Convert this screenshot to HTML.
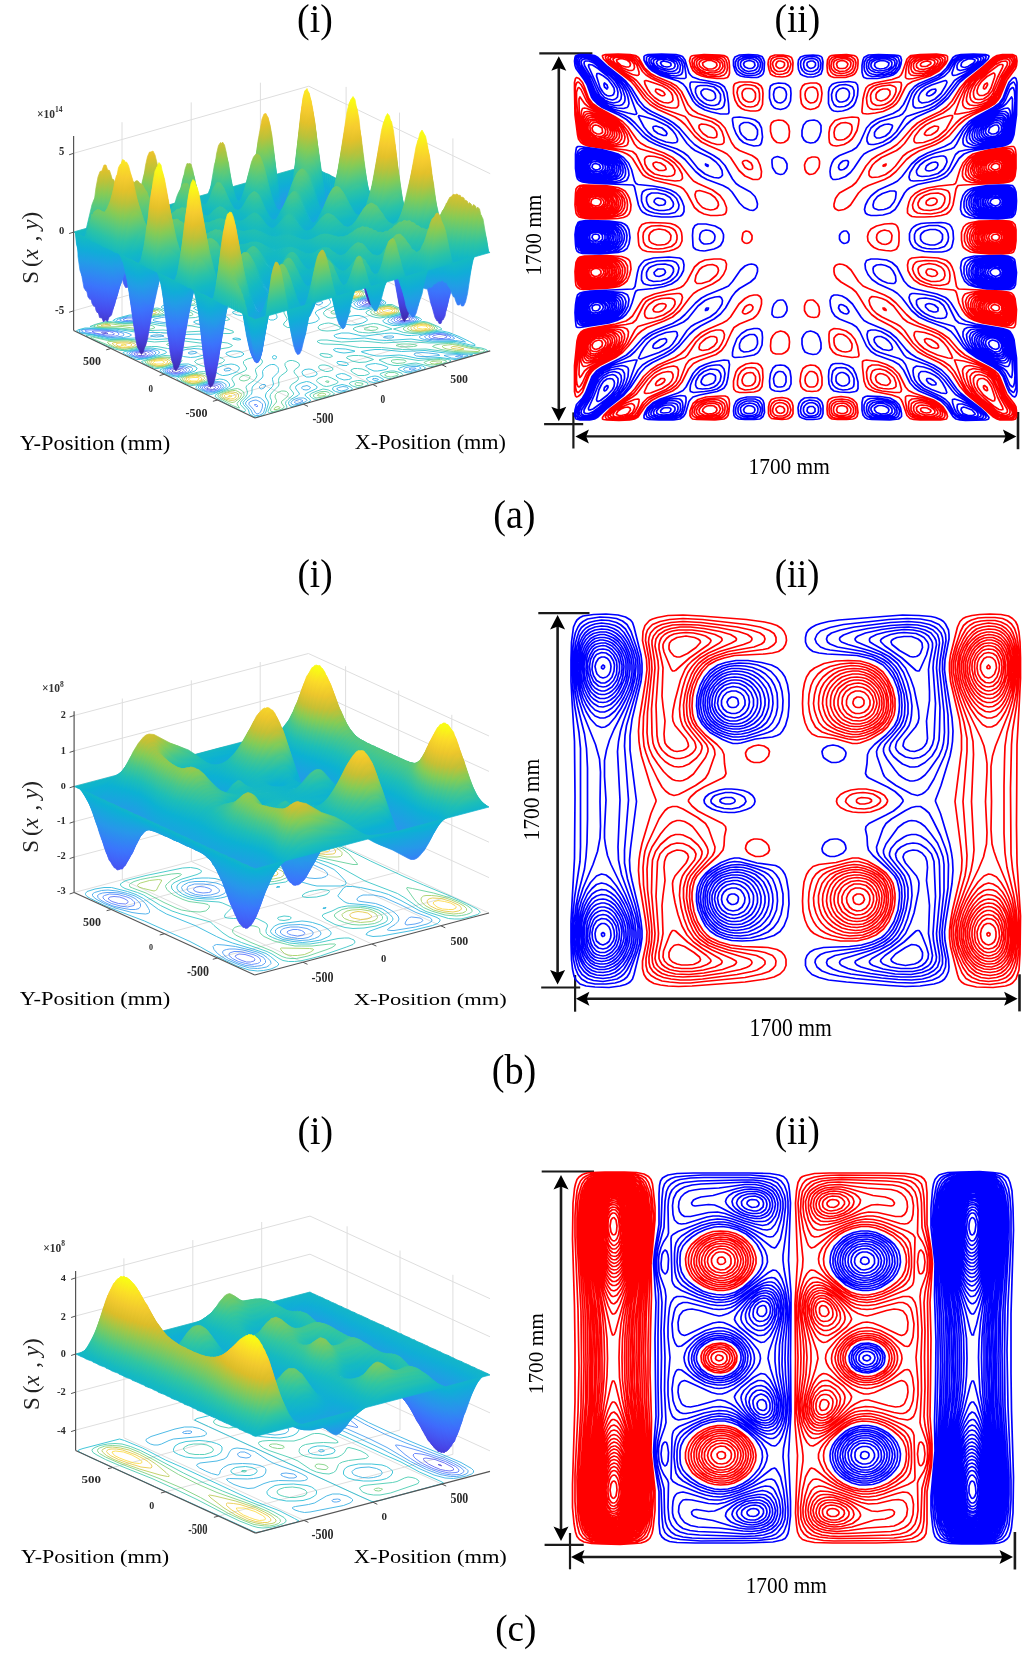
<!DOCTYPE html><html><head><meta charset="utf-8"><style>html,body{margin:0;padding:0;background:#fff}svg{display:block;filter:blur(0.45px)}</style></head><body><svg width="1025" height="1656" viewBox="0 0 1025 1656" font-family="Liberation Serif, Times New Roman, serif"><defs><linearGradient id="ab" gradientUnits="userSpaceOnUse"><stop offset="0.0000" stop-color="#3e26a8"/><stop offset="0.0625" stop-color="#4338cc"/><stop offset="0.1250" stop-color="#474aec"/><stop offset="0.1875" stop-color="#425ff7"/><stop offset="0.2500" stop-color="#3b74fc"/><stop offset="0.3125" stop-color="#2f89f2"/><stop offset="0.3750" stop-color="#219de6"/><stop offset="0.4375" stop-color="#10add7"/><stop offset="0.5000" stop-color="#13b9c3"/><stop offset="0.5625" stop-color="#2bc3a6"/><stop offset="0.6250" stop-color="#55c980"/><stop offset="0.6875" stop-color="#84cb57"/><stop offset="0.7500" stop-color="#bac23a"/><stop offset="0.8125" stop-color="#e3c12a"/><stop offset="0.8750" stop-color="#f6cc2f"/><stop offset="0.9375" stop-color="#fbe125"/><stop offset="1.0000" stop-color="#f9fb15"/></linearGradient><linearGradient id="a94" href="#ab" x1="436.2" y1="580.0" x2="333.6" y2="220.3"/><linearGradient id="a93" href="#ab" x1="440.1" y1="581.8" x2="337.4" y2="222.1"/><linearGradient id="a92" href="#ab" x1="443.9" y1="583.7" x2="341.3" y2="223.9"/><linearGradient id="a91" href="#ab" x1="447.7" y1="585.5" x2="345.1" y2="225.8"/><linearGradient id="a90" href="#ab" x1="451.5" y1="587.4" x2="348.9" y2="227.6"/><linearGradient id="a89" href="#ab" x1="455.3" y1="589.2" x2="352.7" y2="229.5"/><linearGradient id="a88" href="#ab" x1="459.2" y1="591.1" x2="356.5" y2="231.3"/><linearGradient id="a87" href="#ab" x1="463.0" y1="592.9" x2="360.3" y2="233.2"/><linearGradient id="a86" href="#ab" x1="466.8" y1="594.7" x2="364.2" y2="235.0"/><linearGradient id="a85" href="#ab" x1="470.6" y1="596.6" x2="368.0" y2="236.8"/><linearGradient id="a84" href="#ab" x1="474.4" y1="598.4" x2="371.8" y2="238.7"/><linearGradient id="a83" href="#ab" x1="478.3" y1="600.3" x2="375.6" y2="240.5"/><linearGradient id="a82" href="#ab" x1="482.1" y1="602.1" x2="379.4" y2="242.4"/><linearGradient id="a81" href="#ab" x1="485.9" y1="604.0" x2="383.3" y2="244.2"/><linearGradient id="a80" href="#ab" x1="489.7" y1="605.8" x2="387.1" y2="246.0"/><linearGradient id="a79" href="#ab" x1="493.5" y1="607.6" x2="390.9" y2="247.9"/><linearGradient id="a78" href="#ab" x1="497.4" y1="609.5" x2="394.7" y2="249.7"/><linearGradient id="a77" href="#ab" x1="501.2" y1="611.3" x2="398.5" y2="251.6"/><linearGradient id="a76" href="#ab" x1="505.0" y1="613.2" x2="402.4" y2="253.4"/><linearGradient id="a75" href="#ab" x1="508.8" y1="615.0" x2="406.2" y2="255.3"/><linearGradient id="a74" href="#ab" x1="512.6" y1="616.8" x2="410.0" y2="257.1"/><linearGradient id="a73" href="#ab" x1="516.4" y1="618.7" x2="413.8" y2="258.9"/><linearGradient id="a72" href="#ab" x1="520.3" y1="620.5" x2="417.6" y2="260.8"/><linearGradient id="a71" href="#ab" x1="524.1" y1="622.4" x2="421.5" y2="262.6"/><linearGradient id="a70" href="#ab" x1="527.9" y1="624.2" x2="425.3" y2="264.5"/><linearGradient id="a69" href="#ab" x1="531.7" y1="626.1" x2="429.1" y2="266.3"/><linearGradient id="a68" href="#ab" x1="535.5" y1="627.9" x2="432.9" y2="268.2"/><linearGradient id="a67" href="#ab" x1="539.4" y1="629.7" x2="436.7" y2="270.0"/><linearGradient id="a66" href="#ab" x1="543.2" y1="631.6" x2="440.5" y2="271.8"/><linearGradient id="a65" href="#ab" x1="547.0" y1="633.4" x2="444.4" y2="273.7"/><linearGradient id="a64" href="#ab" x1="550.8" y1="635.3" x2="448.2" y2="275.5"/><linearGradient id="a63" href="#ab" x1="554.6" y1="637.1" x2="452.0" y2="277.4"/><linearGradient id="a62" href="#ab" x1="558.5" y1="639.0" x2="455.8" y2="279.2"/><linearGradient id="a61" href="#ab" x1="562.3" y1="640.8" x2="459.6" y2="281.0"/><linearGradient id="a60" href="#ab" x1="566.1" y1="642.6" x2="463.5" y2="282.9"/><linearGradient id="a59" href="#ab" x1="569.9" y1="644.5" x2="467.3" y2="284.7"/><linearGradient id="a58" href="#ab" x1="573.7" y1="646.3" x2="471.1" y2="286.6"/><linearGradient id="a57" href="#ab" x1="577.5" y1="648.2" x2="474.9" y2="288.4"/><linearGradient id="a56" href="#ab" x1="581.4" y1="650.0" x2="478.7" y2="290.3"/><linearGradient id="a55" href="#ab" x1="585.2" y1="651.8" x2="482.6" y2="292.1"/><linearGradient id="a54" href="#ab" x1="589.0" y1="653.7" x2="486.4" y2="293.9"/><linearGradient id="a53" href="#ab" x1="592.8" y1="655.5" x2="490.2" y2="295.8"/><linearGradient id="a52" href="#ab" x1="596.6" y1="657.4" x2="494.0" y2="297.6"/><linearGradient id="a51" href="#ab" x1="600.5" y1="659.2" x2="497.8" y2="299.5"/><linearGradient id="a50" href="#ab" x1="604.3" y1="661.1" x2="501.7" y2="301.3"/><linearGradient id="a49" href="#ab" x1="608.1" y1="662.9" x2="505.5" y2="303.2"/><linearGradient id="a48" href="#ab" x1="611.9" y1="664.7" x2="509.3" y2="305.0"/><linearGradient id="a47" href="#ab" x1="615.7" y1="666.6" x2="513.1" y2="306.8"/><linearGradient id="a46" href="#ab" x1="619.6" y1="668.4" x2="516.9" y2="308.7"/><linearGradient id="a45" href="#ab" x1="623.4" y1="670.3" x2="520.7" y2="310.5"/><linearGradient id="a44" href="#ab" x1="627.2" y1="672.1" x2="524.6" y2="312.4"/><linearGradient id="a43" href="#ab" x1="631.0" y1="674.0" x2="528.4" y2="314.2"/><linearGradient id="a42" href="#ab" x1="634.8" y1="675.8" x2="532.2" y2="316.0"/><linearGradient id="a41" href="#ab" x1="638.7" y1="677.6" x2="536.0" y2="317.9"/><linearGradient id="a40" href="#ab" x1="642.5" y1="679.5" x2="539.8" y2="319.7"/><linearGradient id="a39" href="#ab" x1="646.3" y1="681.3" x2="543.7" y2="321.6"/><linearGradient id="a38" href="#ab" x1="650.1" y1="683.2" x2="547.5" y2="323.4"/><linearGradient id="a37" href="#ab" x1="653.9" y1="685.0" x2="551.3" y2="325.3"/><linearGradient id="a36" href="#ab" x1="657.7" y1="686.8" x2="555.1" y2="327.1"/><linearGradient id="a35" href="#ab" x1="661.6" y1="688.7" x2="558.9" y2="328.9"/><linearGradient id="a34" href="#ab" x1="665.4" y1="690.5" x2="562.8" y2="330.8"/><linearGradient id="a33" href="#ab" x1="669.2" y1="692.4" x2="566.6" y2="332.6"/><linearGradient id="a32" href="#ab" x1="673.0" y1="694.2" x2="570.4" y2="334.5"/><linearGradient id="a31" href="#ab" x1="676.8" y1="696.1" x2="574.2" y2="336.3"/><linearGradient id="a30" href="#ab" x1="680.7" y1="697.9" x2="578.0" y2="338.2"/><linearGradient id="a29" href="#ab" x1="684.5" y1="699.7" x2="581.8" y2="340.0"/><linearGradient id="a28" href="#ab" x1="688.3" y1="701.6" x2="585.7" y2="341.8"/><linearGradient id="a27" href="#ab" x1="692.1" y1="703.4" x2="589.5" y2="343.7"/><linearGradient id="a26" href="#ab" x1="695.9" y1="705.3" x2="593.3" y2="345.5"/><linearGradient id="a25" href="#ab" x1="699.8" y1="707.1" x2="597.1" y2="347.4"/><linearGradient id="a24" href="#ab" x1="703.6" y1="709.0" x2="600.9" y2="349.2"/><linearGradient id="a23" href="#ab" x1="707.4" y1="710.8" x2="604.8" y2="351.0"/><linearGradient id="a22" href="#ab" x1="711.2" y1="712.6" x2="608.6" y2="352.9"/><linearGradient id="a21" href="#ab" x1="715.0" y1="714.5" x2="612.4" y2="354.7"/><linearGradient id="a20" href="#ab" x1="718.9" y1="716.3" x2="616.2" y2="356.6"/><linearGradient id="a19" href="#ab" x1="722.7" y1="718.2" x2="620.0" y2="358.4"/><linearGradient id="a18" href="#ab" x1="726.5" y1="720.0" x2="623.9" y2="360.3"/><linearGradient id="a17" href="#ab" x1="730.3" y1="721.8" x2="627.7" y2="362.1"/><linearGradient id="a16" href="#ab" x1="734.1" y1="723.7" x2="631.5" y2="363.9"/><linearGradient id="a15" href="#ab" x1="737.9" y1="725.5" x2="635.3" y2="365.8"/><linearGradient id="a14" href="#ab" x1="741.8" y1="727.4" x2="639.1" y2="367.6"/><linearGradient id="a13" href="#ab" x1="745.6" y1="729.2" x2="643.0" y2="369.5"/><linearGradient id="a12" href="#ab" x1="749.4" y1="731.1" x2="646.8" y2="371.3"/><linearGradient id="a11" href="#ab" x1="753.2" y1="732.9" x2="650.6" y2="373.2"/><linearGradient id="a10" href="#ab" x1="757.0" y1="734.7" x2="654.4" y2="375.0"/><linearGradient id="a9" href="#ab" x1="760.9" y1="736.6" x2="658.2" y2="376.8"/><linearGradient id="a8" href="#ab" x1="764.7" y1="738.4" x2="662.0" y2="378.7"/><linearGradient id="a7" href="#ab" x1="768.5" y1="740.3" x2="665.9" y2="380.5"/><linearGradient id="a6" href="#ab" x1="772.3" y1="742.1" x2="669.7" y2="382.4"/><linearGradient id="a5" href="#ab" x1="776.1" y1="744.0" x2="673.5" y2="384.2"/><linearGradient id="a4" href="#ab" x1="780.0" y1="745.8" x2="677.3" y2="386.0"/><linearGradient id="a3" href="#ab" x1="783.8" y1="747.6" x2="681.1" y2="387.9"/><linearGradient id="a2" href="#ab" x1="787.6" y1="749.5" x2="685.0" y2="389.7"/><linearGradient id="a1" href="#ab" x1="791.4" y1="751.3" x2="688.8" y2="391.6"/><linearGradient id="a0" href="#ab" x1="795.2" y1="753.2" x2="692.6" y2="393.4"/></defs><defs><linearGradient id="bb" gradientUnits="userSpaceOnUse"><stop offset="0.0000" stop-color="#3e26a8"/><stop offset="0.0625" stop-color="#4234c5"/><stop offset="0.1250" stop-color="#4643e2"/><stop offset="0.1875" stop-color="#4553f1"/><stop offset="0.2500" stop-color="#4164f9"/><stop offset="0.3125" stop-color="#3b75fc"/><stop offset="0.3750" stop-color="#3186f3"/><stop offset="0.4375" stop-color="#2797ea"/><stop offset="0.5000" stop-color="#19a4df"/><stop offset="0.5625" stop-color="#0bb1d3"/><stop offset="0.6250" stop-color="#1dbeb7"/><stop offset="0.6875" stop-color="#46c78d"/><stop offset="0.7500" stop-color="#82cc58"/><stop offset="0.8125" stop-color="#c6c034"/><stop offset="0.8750" stop-color="#ecc62c"/><stop offset="0.9375" stop-color="#fbda29"/><stop offset="1.0000" stop-color="#f9fb15"/></linearGradient><linearGradient id="b68" href="#bb" x1="437.6" y1="1710.3" x2="348.0" y2="1371.5"/><linearGradient id="b67" href="#bb" x1="442.9" y1="1712.7" x2="353.2" y2="1373.9"/><linearGradient id="b66" href="#bb" x1="448.1" y1="1715.1" x2="358.5" y2="1376.3"/><linearGradient id="b65" href="#bb" x1="453.3" y1="1717.5" x2="363.7" y2="1378.7"/><linearGradient id="b64" href="#bb" x1="458.6" y1="1719.9" x2="368.9" y2="1381.1"/><linearGradient id="b63" href="#bb" x1="463.8" y1="1722.3" x2="374.2" y2="1383.5"/><linearGradient id="b62" href="#bb" x1="469.1" y1="1724.6" x2="379.4" y2="1385.9"/><linearGradient id="b61" href="#bb" x1="474.3" y1="1727.0" x2="384.6" y2="1388.3"/><linearGradient id="b60" href="#bb" x1="479.5" y1="1729.4" x2="389.9" y2="1390.7"/><linearGradient id="b59" href="#bb" x1="484.8" y1="1731.8" x2="395.1" y2="1393.0"/><linearGradient id="b58" href="#bb" x1="490.0" y1="1734.2" x2="400.3" y2="1395.4"/><linearGradient id="b57" href="#bb" x1="495.2" y1="1736.6" x2="405.6" y2="1397.8"/><linearGradient id="b56" href="#bb" x1="500.5" y1="1739.0" x2="410.8" y2="1400.2"/><linearGradient id="b55" href="#bb" x1="505.7" y1="1741.4" x2="416.1" y2="1402.6"/><linearGradient id="b54" href="#bb" x1="510.9" y1="1743.8" x2="421.3" y2="1405.0"/><linearGradient id="b53" href="#bb" x1="516.2" y1="1746.2" x2="426.5" y2="1407.4"/><linearGradient id="b52" href="#bb" x1="521.4" y1="1748.6" x2="431.8" y2="1409.8"/><linearGradient id="b51" href="#bb" x1="526.6" y1="1750.9" x2="437.0" y2="1412.2"/><linearGradient id="b50" href="#bb" x1="531.9" y1="1753.3" x2="442.2" y2="1414.6"/><linearGradient id="b49" href="#bb" x1="537.1" y1="1755.7" x2="447.5" y2="1417.0"/><linearGradient id="b48" href="#bb" x1="542.3" y1="1758.1" x2="452.7" y2="1419.3"/><linearGradient id="b47" href="#bb" x1="547.6" y1="1760.5" x2="457.9" y2="1421.7"/><linearGradient id="b46" href="#bb" x1="552.8" y1="1762.9" x2="463.2" y2="1424.1"/><linearGradient id="b45" href="#bb" x1="558.0" y1="1765.3" x2="468.4" y2="1426.5"/><linearGradient id="b44" href="#bb" x1="563.3" y1="1767.7" x2="473.6" y2="1428.9"/><linearGradient id="b43" href="#bb" x1="568.5" y1="1770.1" x2="478.9" y2="1431.3"/><linearGradient id="b42" href="#bb" x1="573.7" y1="1772.5" x2="484.1" y2="1433.7"/><linearGradient id="b41" href="#bb" x1="579.0" y1="1774.9" x2="489.3" y2="1436.1"/><linearGradient id="b40" href="#bb" x1="584.2" y1="1777.3" x2="494.6" y2="1438.5"/><linearGradient id="b39" href="#bb" x1="589.5" y1="1779.6" x2="499.8" y2="1440.9"/><linearGradient id="b38" href="#bb" x1="594.7" y1="1782.0" x2="505.0" y2="1443.3"/><linearGradient id="b37" href="#bb" x1="599.9" y1="1784.4" x2="510.3" y2="1445.7"/><linearGradient id="b36" href="#bb" x1="605.2" y1="1786.8" x2="515.5" y2="1448.0"/><linearGradient id="b35" href="#bb" x1="610.4" y1="1789.2" x2="520.7" y2="1450.4"/><linearGradient id="b34" href="#bb" x1="615.6" y1="1791.6" x2="526.0" y2="1452.8"/><linearGradient id="b33" href="#bb" x1="620.9" y1="1794.0" x2="531.2" y2="1455.2"/><linearGradient id="b32" href="#bb" x1="626.1" y1="1796.4" x2="536.5" y2="1457.6"/><linearGradient id="b31" href="#bb" x1="631.3" y1="1798.8" x2="541.7" y2="1460.0"/><linearGradient id="b30" href="#bb" x1="636.6" y1="1801.2" x2="546.9" y2="1462.4"/><linearGradient id="b29" href="#bb" x1="641.8" y1="1803.6" x2="552.2" y2="1464.8"/><linearGradient id="b28" href="#bb" x1="647.0" y1="1805.9" x2="557.4" y2="1467.2"/><linearGradient id="b27" href="#bb" x1="652.3" y1="1808.3" x2="562.6" y2="1469.6"/><linearGradient id="b26" href="#bb" x1="657.5" y1="1810.7" x2="567.9" y2="1472.0"/><linearGradient id="b25" href="#bb" x1="662.7" y1="1813.1" x2="573.1" y2="1474.3"/><linearGradient id="b24" href="#bb" x1="668.0" y1="1815.5" x2="578.3" y2="1476.7"/><linearGradient id="b23" href="#bb" x1="673.2" y1="1817.9" x2="583.6" y2="1479.1"/><linearGradient id="b22" href="#bb" x1="678.4" y1="1820.3" x2="588.8" y2="1481.5"/><linearGradient id="b21" href="#bb" x1="683.7" y1="1822.7" x2="594.0" y2="1483.9"/><linearGradient id="b20" href="#bb" x1="688.9" y1="1825.1" x2="599.3" y2="1486.3"/><linearGradient id="b19" href="#bb" x1="694.1" y1="1827.5" x2="604.5" y2="1488.7"/><linearGradient id="b18" href="#bb" x1="699.4" y1="1829.9" x2="609.7" y2="1491.1"/><linearGradient id="b17" href="#bb" x1="704.6" y1="1832.3" x2="615.0" y2="1493.5"/><linearGradient id="b16" href="#bb" x1="709.9" y1="1834.6" x2="620.2" y2="1495.9"/><linearGradient id="b15" href="#bb" x1="715.1" y1="1837.0" x2="625.4" y2="1498.3"/><linearGradient id="b14" href="#bb" x1="720.3" y1="1839.4" x2="630.7" y2="1500.7"/><linearGradient id="b13" href="#bb" x1="725.6" y1="1841.8" x2="635.9" y2="1503.0"/><linearGradient id="b12" href="#bb" x1="730.8" y1="1844.2" x2="641.1" y2="1505.4"/><linearGradient id="b11" href="#bb" x1="736.0" y1="1846.6" x2="646.4" y2="1507.8"/><linearGradient id="b10" href="#bb" x1="741.3" y1="1849.0" x2="651.6" y2="1510.2"/><linearGradient id="b9" href="#bb" x1="746.5" y1="1851.4" x2="656.9" y2="1512.6"/><linearGradient id="b8" href="#bb" x1="751.7" y1="1853.8" x2="662.1" y2="1515.0"/><linearGradient id="b7" href="#bb" x1="757.0" y1="1856.2" x2="667.3" y2="1517.4"/><linearGradient id="b6" href="#bb" x1="762.2" y1="1858.6" x2="672.6" y2="1519.8"/><linearGradient id="b5" href="#bb" x1="767.4" y1="1860.9" x2="677.8" y2="1522.2"/><linearGradient id="b4" href="#bb" x1="772.7" y1="1863.3" x2="683.0" y2="1524.6"/><linearGradient id="b3" href="#bb" x1="777.9" y1="1865.7" x2="688.3" y2="1527.0"/><linearGradient id="b2" href="#bb" x1="783.1" y1="1868.1" x2="693.5" y2="1529.3"/><linearGradient id="b1" href="#bb" x1="788.4" y1="1870.5" x2="698.7" y2="1531.7"/><linearGradient id="b0" href="#bb" x1="793.6" y1="1872.9" x2="704.0" y2="1534.1"/></defs><defs><linearGradient id="cb" gradientUnits="userSpaceOnUse"><stop offset="0.0000" stop-color="#3e26a8"/><stop offset="0.0625" stop-color="#4236c8"/><stop offset="0.1250" stop-color="#4745e7"/><stop offset="0.1875" stop-color="#4458f3"/><stop offset="0.2500" stop-color="#3f6afc"/><stop offset="0.3125" stop-color="#367df8"/><stop offset="0.3750" stop-color="#2b90ee"/><stop offset="0.4375" stop-color="#1e9fe3"/><stop offset="0.5000" stop-color="#0faed6"/><stop offset="0.5625" stop-color="#15bac1"/><stop offset="0.6250" stop-color="#31c6a0"/><stop offset="0.6875" stop-color="#65ca71"/><stop offset="0.7500" stop-color="#9ec749"/><stop offset="0.8125" stop-color="#dbbd29"/><stop offset="0.8750" stop-color="#f1c92e"/><stop offset="0.9375" stop-color="#fbde27"/><stop offset="1.0000" stop-color="#f9fb15"/></linearGradient><linearGradient id="c68" href="#cb" x1="435.8" y1="2827.9" x2="347.3" y2="2492.3"/><linearGradient id="c67" href="#cb" x1="441.0" y1="2830.2" x2="352.5" y2="2494.7"/><linearGradient id="c66" href="#cb" x1="446.2" y1="2832.6" x2="357.7" y2="2497.1"/><linearGradient id="c65" href="#cb" x1="451.4" y1="2835.0" x2="363.0" y2="2499.5"/><linearGradient id="c64" href="#cb" x1="456.6" y1="2837.4" x2="368.2" y2="2501.9"/><linearGradient id="c63" href="#cb" x1="461.9" y1="2839.8" x2="373.4" y2="2504.2"/><linearGradient id="c62" href="#cb" x1="467.1" y1="2842.2" x2="378.6" y2="2506.6"/><linearGradient id="c61" href="#cb" x1="472.3" y1="2844.6" x2="383.8" y2="2509.0"/><linearGradient id="c60" href="#cb" x1="477.5" y1="2847.0" x2="389.0" y2="2511.4"/><linearGradient id="c59" href="#cb" x1="482.7" y1="2849.4" x2="394.3" y2="2513.8"/><linearGradient id="c58" href="#cb" x1="488.0" y1="2851.8" x2="399.5" y2="2516.2"/><linearGradient id="c57" href="#cb" x1="493.2" y1="2854.2" x2="404.7" y2="2518.6"/><linearGradient id="c56" href="#cb" x1="498.4" y1="2856.6" x2="409.9" y2="2521.0"/><linearGradient id="c55" href="#cb" x1="503.6" y1="2859.0" x2="415.1" y2="2523.4"/><linearGradient id="c54" href="#cb" x1="508.8" y1="2861.4" x2="420.3" y2="2525.8"/><linearGradient id="c53" href="#cb" x1="514.0" y1="2863.8" x2="425.6" y2="2528.2"/><linearGradient id="c52" href="#cb" x1="519.3" y1="2866.2" x2="430.8" y2="2530.6"/><linearGradient id="c51" href="#cb" x1="524.5" y1="2868.6" x2="436.0" y2="2533.0"/><linearGradient id="c50" href="#cb" x1="529.7" y1="2871.0" x2="441.2" y2="2535.4"/><linearGradient id="c49" href="#cb" x1="534.9" y1="2873.3" x2="446.4" y2="2537.8"/><linearGradient id="c48" href="#cb" x1="540.1" y1="2875.7" x2="451.6" y2="2540.2"/><linearGradient id="c47" href="#cb" x1="545.3" y1="2878.1" x2="456.9" y2="2542.6"/><linearGradient id="c46" href="#cb" x1="550.6" y1="2880.5" x2="462.1" y2="2544.9"/><linearGradient id="c45" href="#cb" x1="555.8" y1="2882.9" x2="467.3" y2="2547.3"/><linearGradient id="c44" href="#cb" x1="561.0" y1="2885.3" x2="472.5" y2="2549.7"/><linearGradient id="c43" href="#cb" x1="566.2" y1="2887.7" x2="477.7" y2="2552.1"/><linearGradient id="c42" href="#cb" x1="571.4" y1="2890.1" x2="483.0" y2="2554.5"/><linearGradient id="c41" href="#cb" x1="576.6" y1="2892.5" x2="488.2" y2="2556.9"/><linearGradient id="c40" href="#cb" x1="581.9" y1="2894.9" x2="493.4" y2="2559.3"/><linearGradient id="c39" href="#cb" x1="587.1" y1="2897.3" x2="498.6" y2="2561.7"/><linearGradient id="c38" href="#cb" x1="592.3" y1="2899.7" x2="503.8" y2="2564.1"/><linearGradient id="c37" href="#cb" x1="597.5" y1="2902.1" x2="509.0" y2="2566.5"/><linearGradient id="c36" href="#cb" x1="602.7" y1="2904.5" x2="514.3" y2="2568.9"/><linearGradient id="c35" href="#cb" x1="608.0" y1="2906.9" x2="519.5" y2="2571.3"/><linearGradient id="c34" href="#cb" x1="613.2" y1="2909.3" x2="524.7" y2="2573.7"/><linearGradient id="c33" href="#cb" x1="618.4" y1="2911.7" x2="529.9" y2="2576.1"/><linearGradient id="c32" href="#cb" x1="623.6" y1="2914.0" x2="535.1" y2="2578.5"/><linearGradient id="c31" href="#cb" x1="628.8" y1="2916.4" x2="540.3" y2="2580.9"/><linearGradient id="c30" href="#cb" x1="634.0" y1="2918.8" x2="545.6" y2="2583.3"/><linearGradient id="c29" href="#cb" x1="639.3" y1="2921.2" x2="550.8" y2="2585.7"/><linearGradient id="c28" href="#cb" x1="644.5" y1="2923.6" x2="556.0" y2="2588.0"/><linearGradient id="c27" href="#cb" x1="649.7" y1="2926.0" x2="561.2" y2="2590.4"/><linearGradient id="c26" href="#cb" x1="654.9" y1="2928.4" x2="566.4" y2="2592.8"/><linearGradient id="c25" href="#cb" x1="660.1" y1="2930.8" x2="571.6" y2="2595.2"/><linearGradient id="c24" href="#cb" x1="665.3" y1="2933.2" x2="576.9" y2="2597.6"/><linearGradient id="c23" href="#cb" x1="670.6" y1="2935.6" x2="582.1" y2="2600.0"/><linearGradient id="c22" href="#cb" x1="675.8" y1="2938.0" x2="587.3" y2="2602.4"/><linearGradient id="c21" href="#cb" x1="681.0" y1="2940.4" x2="592.5" y2="2604.8"/><linearGradient id="c20" href="#cb" x1="686.2" y1="2942.8" x2="597.7" y2="2607.2"/><linearGradient id="c19" href="#cb" x1="691.4" y1="2945.2" x2="603.0" y2="2609.6"/><linearGradient id="c18" href="#cb" x1="696.6" y1="2947.6" x2="608.2" y2="2612.0"/><linearGradient id="c17" href="#cb" x1="701.9" y1="2950.0" x2="613.4" y2="2614.4"/><linearGradient id="c16" href="#cb" x1="707.1" y1="2952.4" x2="618.6" y2="2616.8"/><linearGradient id="c15" href="#cb" x1="712.3" y1="2954.7" x2="623.8" y2="2619.2"/><linearGradient id="c14" href="#cb" x1="717.5" y1="2957.1" x2="629.0" y2="2621.6"/><linearGradient id="c13" href="#cb" x1="722.7" y1="2959.5" x2="634.3" y2="2624.0"/><linearGradient id="c12" href="#cb" x1="728.0" y1="2961.9" x2="639.5" y2="2626.4"/><linearGradient id="c11" href="#cb" x1="733.2" y1="2964.3" x2="644.7" y2="2628.7"/><linearGradient id="c10" href="#cb" x1="738.4" y1="2966.7" x2="649.9" y2="2631.1"/><linearGradient id="c9" href="#cb" x1="743.6" y1="2969.1" x2="655.1" y2="2633.5"/><linearGradient id="c8" href="#cb" x1="748.8" y1="2971.5" x2="660.3" y2="2635.9"/><linearGradient id="c7" href="#cb" x1="754.0" y1="2973.9" x2="665.6" y2="2638.3"/><linearGradient id="c6" href="#cb" x1="759.3" y1="2976.3" x2="670.8" y2="2640.7"/><linearGradient id="c5" href="#cb" x1="764.5" y1="2978.7" x2="676.0" y2="2643.1"/><linearGradient id="c4" href="#cb" x1="769.7" y1="2981.1" x2="681.2" y2="2645.5"/><linearGradient id="c3" href="#cb" x1="774.9" y1="2983.5" x2="686.4" y2="2647.9"/><linearGradient id="c2" href="#cb" x1="780.1" y1="2985.9" x2="691.6" y2="2650.3"/><linearGradient id="c1" href="#cb" x1="785.3" y1="2988.3" x2="696.9" y2="2652.7"/><linearGradient id="c0" href="#cb" x1="790.6" y1="2990.7" x2="702.1" y2="2655.1"/></defs><text transform="translate(297.10 31.94) scale(0.9602 1)" font-size="39.33">(i)</text>
<text transform="translate(774.50 31.94) scale(0.9523 1)" font-size="39.33">(ii)</text>
<text transform="translate(297.40 587.01) scale(0.9206 1)" font-size="40.44">(i)</text>
<text transform="translate(774.70 586.78) scale(0.9134 1)" font-size="40.11">(ii)</text>
<text transform="translate(297.40 1144.22) scale(0.9574 1)" font-size="39.44">(i)</text>
<text transform="translate(774.70 1143.94) scale(0.9419 1)" font-size="39.33">(ii)</text>
<text transform="translate(493.20 527.58) scale(0.9397 1)" font-size="40.56">(a)</text>
<text transform="translate(491.80 1083.77) scale(0.9293 1)" font-size="41.11">(b)</text>
<text transform="translate(495.20 1640.85) scale(0.9706 1)" font-size="38.33">(c)</text>
<text transform="translate(748.60 473.58) scale(0.9531 1)" font-size="22.39">1700 mm</text>
<text transform="translate(540.97 275.60) rotate(-90) scale(0.9249 1)" font-size="22.99">1700 mm</text>
<text transform="translate(749.60 1035.95) scale(0.8564 1)" font-size="25.22">1700 mm</text>
<text transform="translate(539.36 840.60) rotate(-90) scale(0.9127 1)" font-size="23.58">1700 mm</text>
<text transform="translate(745.70 1593.38) scale(0.9531 1)" font-size="22.39">1700 mm</text>
<text transform="translate(542.99 1394.20) rotate(-90) scale(0.9904 1)" font-size="21.49">1700 mm</text>
<text transform="translate(19.80 449.79) scale(1.0705 1)" font-size="21.00">Y-Position (mm)</text>
<text transform="translate(354.80 448.91) scale(1.0874 1)" font-size="20.44">X-Position (mm)</text>
<text transform="translate(19.80 1005.37) scale(1.2337 1)" font-size="18.22">Y-Position (mm)</text>
<text transform="translate(353.80 1004.61) scale(1.3147 1)" font-size="17.11">X-Position (mm)</text>
<text transform="translate(21.10 1563.37) scale(1.2149 1)" font-size="18.22">Y-Position (mm)</text>
<text transform="translate(353.80 1563.14) scale(1.1636 1)" font-size="19.33">X-Position (mm)</text>
<text transform="translate(38.1 247.8) rotate(-90)" font-size="23.0" text-anchor="middle" fill="#222">S<tspan dx="4">(</tspan><tspan font-style="italic">x</tspan><tspan dx="2"> , </tspan><tspan font-style="italic">y</tspan>)</text>
<text transform="translate(38.4 816.9) rotate(-90)" font-size="23.0" text-anchor="middle" fill="#222">S<tspan dx="4">(</tspan><tspan font-style="italic">x</tspan><tspan dx="2"> , </tspan><tspan font-style="italic">y</tspan>)</text>
<text transform="translate(39.0 1374.2) rotate(-90)" font-size="23.0" text-anchor="middle" fill="#222">S<tspan dx="4">(</tspan><tspan font-style="italic">x</tspan><tspan dx="2"> , </tspan><tspan font-style="italic">y</tspan>)</text>
<text x="37.0" y="117.6" font-size="11.5" font-weight="bold" fill="#333">×10<tspan font-size="7.5" dy="-5.5">14</tspan></text>
<text x="42.0" y="692.4" font-size="11.5" font-weight="bold" fill="#333">×10<tspan font-size="7.5" dy="-5.5">8</tspan></text>
<text x="43.2" y="1251.7" font-size="11.5" font-weight="bold" fill="#333">×10<tspan font-size="7.5" dy="-5.5">8</tspan></text>
<line x1="558.8" y1="64.3" x2="558.8" y2="413.2" stroke="#1a1a1a" stroke-width="2.6"/>
<path d="M558.8 56.3 L551.3 70.8 L558.8 67.9 L566.3 70.8 Z" fill="#000"/>
<path d="M558.8 421.2 L551.3 406.7 L558.8 409.6 L566.3 406.7 Z" fill="#000"/>
<line x1="539.3" y1="53.4" x2="592.4" y2="53.4" stroke="#1a1a1a" stroke-width="2.2"/>
<line x1="544.1" y1="424.1" x2="583.2" y2="424.1" stroke="#1a1a1a" stroke-width="2.2"/>
<line x1="583.4" y1="436.4" x2="1008.4" y2="436.4" stroke="#1a1a1a" stroke-width="2.4"/>
<path d="M575.4 436.4 L588.9 429.4 L586.2 436.4 L588.9 443.4 Z" fill="#000"/>
<path d="M1016.4 436.4 L1002.9 429.4 L1005.6 436.4 L1002.9 443.4 Z" fill="#000"/>
<line x1="573.4" y1="412.4" x2="573.4" y2="448.5" stroke="#1a1a1a" stroke-width="2.2"/>
<line x1="1018.0" y1="412.0" x2="1018.0" y2="449.2" stroke="#1a1a1a" stroke-width="2.6"/>
<line x1="557.6" y1="622.9" x2="557.6" y2="976.4" stroke="#1a1a1a" stroke-width="2.6"/>
<path d="M557.6 614.9 L550.1 629.4 L557.6 626.5 L565.1 629.4 Z" fill="#000"/>
<path d="M557.6 984.4 L550.1 969.9 L557.6 972.8 L565.1 969.9 Z" fill="#000"/>
<line x1="538.3" y1="613.1" x2="589.5" y2="613.1" stroke="#1a1a1a" stroke-width="2.2"/>
<line x1="541.2" y1="987.5" x2="580.2" y2="987.5" stroke="#1a1a1a" stroke-width="2.2"/>
<line x1="583.9" y1="998.7" x2="1009.6" y2="998.7" stroke="#1a1a1a" stroke-width="2.4"/>
<path d="M575.9 998.7 L589.4 991.7 L586.7 998.7 L589.4 1005.7 Z" fill="#000"/>
<path d="M1017.6 998.7 L1004.1 991.7 L1006.8 998.7 L1004.1 1005.7 Z" fill="#000"/>
<line x1="575.1" y1="975.0" x2="575.1" y2="1011.7" stroke="#1a1a1a" stroke-width="2.2"/>
<line x1="1019.5" y1="974.3" x2="1019.5" y2="1011.4" stroke="#1a1a1a" stroke-width="2.6"/>
<line x1="561.0" y1="1182.9" x2="561.0" y2="1533.0" stroke="#1a1a1a" stroke-width="2.6"/>
<path d="M561.0 1174.9 L553.5 1189.4 L561.0 1186.5 L568.5 1189.4 Z" fill="#000"/>
<path d="M561.0 1541.0 L553.5 1526.5 L561.0 1529.4 L568.5 1526.5 Z" fill="#000"/>
<line x1="541.7" y1="1171.5" x2="594.0" y2="1171.5" stroke="#1a1a1a" stroke-width="2.2"/>
<line x1="544.6" y1="1544.9" x2="583.7" y2="1544.9" stroke="#1a1a1a" stroke-width="2.2"/>
<line x1="579.0" y1="1557.0" x2="1005.0" y2="1557.0" stroke="#1a1a1a" stroke-width="2.4"/>
<path d="M571.0 1557.0 L584.5 1550.0 L581.8 1557.0 L584.5 1564.0 Z" fill="#000"/>
<path d="M1013.0 1557.0 L999.5 1550.0 L1002.2 1557.0 L999.5 1564.0 Z" fill="#000"/>
<line x1="570.0" y1="1533.0" x2="570.0" y2="1569.3" stroke="#1a1a1a" stroke-width="2.2"/>
<line x1="1014.9" y1="1532.0" x2="1014.9" y2="1569.5" stroke="#1a1a1a" stroke-width="2.6"/>
<g fill="none" stroke-width="3.40" stroke-linejoin="round" transform="scale(.5)"><path stroke="#f00" d="M1270 3087l-30 2 -36-1 -21-1 -15-3 -9-5 -5-6 -3-9 -3-17 -3-32 0-46 5-165 0-113 -1-78 -4-135 1-72 3-29 2-9 3-9 4-5 7-5 9-3 9-1 27-1 39 0 24 1 15 3 9 5 5 6 3 9 2 17 3 29 0 26 -8 90 1 60 -2 73 -1 83 3 96 -1 63 8 75 0 41 -4 37 -2 9 -4 9 -3 3 -6 4 -9 3 -12 1M1821 3084l-69 2 -87 0 -36-1 -15-3 -9-3 -6-6 -4-9 -2-14 -2-24 4-115 -5-66 0-29 1-99 -1-109 5-87 -4-115 2-24 3-17 5-9 4-3 6-2 18-4 30-1 111 0 42 1 18 2 12 4 6 5 4 7 2 20 0 64 9 55 2 23 -5 78 2 72 -1 90 -1 66 4 55 0 23 -1 20 -9 52 0 64 -2 20 -4 7 -6 5 -9 4 -12 1M1751 2587l16-5 15-9 12-9 10-11 6-12 3-17 -1-14 -5-15 -8-11 -13-12 -16-9 -18-7 -15-3 -15 0 -18 4 -15 6 -12 7 -9 8 -8 8 -8 12 -3 9 -2 11 1 12 3 8 8 12 11 11 16 14 15 9 12 4 12 2 12 0 14-3M1459 2579l-12 2 -12 0 -15-3 -12-5 -10-6 -11-8 -7-9 -6-12 -2-8 -1-12 2-11 4-9 6-9 9-8 10-8 12-6 12-4 15-1 15 1 15 4 12 6 12 10 8 9 6 12 3 11 0 12 -4 11 -5 9 -10 12 -10 9 -12 7 -12 4M1745 2752l7-2 9-5 7-4 7-9 2-6 2-9 -1-8 -2-6 -6-9 -6-5 -6-4 -9-4 -9-2 -9 0 -9 1 -9 3 -12 8 -8 12 -3 12 1 8 2 6 8 12 12 8 15 4 9 0 8-1M1453 2744l-12 2 -12-1 -12-5 -9-8 -5-9 -1-11 3-9 8-9 13-6 15-2 9 1 6 3 6 3 6 6 4 7 2 6 -1 11 -3 6 -4 6 -7 6 -6 3M1747 2977l14-4 16-7 14-10 11-10 7-12 3-12 1-14 -2-14 -5-12 -9-11 -12-10 -15-9 -15-6 -15-3 -15-1 -12 2 -12 4 -15 9 -16 14 -11 11 -8 12 -3 8 -1 9 1 11 6 15 9 11 11 11 12 8 15 7 15 4 15 1 16-2M1456 2969l-15 1 -12-1 -12-3 -12-6 -10-6 -10-8 -6-9 -6-12 -2-8 0-12 3-11 4-9 7-9 11-10 12-7 12-5 15-3 12 0 12 2 12 4 12 8 13 11 9 12 5 11 2 12 -1 11 -5 12 -5 9 -9 9 -12 8 -12 6 -12 3M1234 3087l-27 0 -21-2 -11-4 -9-5 -7-9 -4-15 -3-20 -2-29 0-55 6-124 2-89 -2-116 -6-147 0-40 2-32 2-18 3-11 4-9 5-6 8-5 9-3 15-2 18-1 30 0 21 2 15 4 9 5 6 9 5 15 3 23 2 29 -1 26 -6 72 -4 161 0 81 3 73 1 57 7 84 -1 23 -2 26 -2 17 -4 12 -4 9 -6 5 -6 3 -12 4 -36 2M1779 3081l-111 1 -21-1 -17-3 -13-3 -9-7 -6-9 -4-12 -2-18 0-23 4-40 6-44 0-11 -2-17 -8-44 -3-26 3-109 -3-99 2-31 10-50 1-17 -8-78 -2-34 3-24 6-14 5-6 4-3 15-5 21-3 30-1 96 1 33 1 18 4 9 5 7 7 3 12 2 17 2 55 10 49 2 23 -1 23 -5 38 -1 20 1 63 0 101 -1 61 1 17 5 44 0 29 -2 17 -9 40 -1 18 -1 46 -2 14 -3 9 -7 7 -12 6 -18 3 -27 1M1746 2593l18-5 18-8 15-10 12-11 6-12 3-14 0-18 -2-17 -6-12 -7-8 -16-12 -20-10 -15-5 -15-2 -15 0 -15 3 -15 5 -15 8 -12 8 -11 11 -9 11 -6 12 -2 11 1 9 5 11 9 12 19 17 21 16 12 7 15 4 12 1 15-2M1456 2576l-12 1 -12 0 -12-3 -9-4 -10-6 -10-8 -7-9 -5-12 -2-8 0-12 2-8 4-9 7-9 9-8 9-6 12-5 12-3 15-1 12 2 12 4 12 7 9 7 7 9 5 12 3 11 -1 9 -3 11 -5 9 -7 9 -11 9 -12 7 -12 4M1749 2755l9-4 9-5 6-5 7-9 3-9 1-6 -1-8 -3-9 -7-9 -6-5 -9-5 -12-5 -9-1 -12 1 -9 2 -9 4 -12 10 -4 5 -4 9 -1 6 0 8 3 12 9 11 8 6 7 4 9 3 9 1 9 0 9-2M1450 2741l-9 2 -12-2 -9-3 -9-8 -4-10 0-8 3-9 7-7 12-5 12-2 9 2 6 3 9 8 4 10 1 5 -1 6 -3 6 -4 5 -6 4 -6 3M1740 2983l18-4 15-5 19-11 14-12 6-8 4-12 2-17 -1-17 -2-12 -6-12 -9-8 -15-11 -15-8 -18-6 -15-2 -15 0 -15 3 -12 6 -17 12 -20 17 -11 12 -6 9 -4 11 0 9 4 11 8 15 11 11 15 12 16 8 16 6 18 3 15 0M1450 2966l-12 0 -12-2 -12-4 -11-6 -11-8 -7-9 -5-9 -3-11 0-12 2-8 4-9 7-10 8-7 10-7 12-6 12-3 12 0 12 1 12 4 9 5 11 8 10 12 5 9 3 11 1 9 -3 11 -5 12 -7 9 -9 7 -9 6 -12 5 -12 2M1255 3084l-27 2 -27-1 -17-4 -10-5 -8-9 -5-12 -4-17 -2-23 -1-61 8-138 1-93 -1-101 -8-147 0-38 1-29 2-17 4-14 3-9 6-9 7-5 7-3 11-3 15-1 24-1 24 2 15 3 12 7 6 7 6 15 4 17 2 23 0 35 -6 78 -5 112 -1 67 2 86 5 110 5 69 0 41 -5 32 -4 11 -5 9 -6 6 -7 4 -9 2 -12 2M1788 3076l-111 1 -21-1 -18-2 -14-4 -10-7 -7-11 -5-14 -1-23 4-35 6-26 4-8 5-8 3-2 6 2 32 25 13 8 13 6 26 9 12 2 12 0 15-2 18-5 20-9 19-12 6-6 5-8 2-9 1-12 0-20 -1-17 -3-12 -4-7 -6-7 -15-10 -18-9 -18-6 -15-4 -15-1 -12 2 -12 4 -15 8 -54 41 -9 5 -6-1 -6-6 -6-11 -4-12 -5-20 -2-23 0-24 4-46 1-32 -1-34 -4-46 0-24 2-20 3-17 6-18 6-11 6-6 3-1 6 1 12 8 42 33 15 9 18 7 18 2 15-2 18-6 18-8 20-11 7-6 6-8 3-10 2-14 0-20 -1-17 -2-12 -5-8 -10-9 -21-11 -17-8 -18-5 -12-1 -15 0 -15 3 -13 5 -14 6 -15 8 -36 28 -6 2 -3-2 -3-3 -3-7 -7-24 -6-37 1-23 3-17 8-12 10-8 15-5 18-2 27-1 90 1 30 2 18 4 9 6 7 9 4 11 2 18 1 49 3 11 9 32 3 23 -1 23 -8 41 -2 20 2 58 -1 52 1 60 -2 58 2 17 8 38 1 14 -1 15 -4 23 -7 26 -3 11 -2 55 -1 12 -3 8 -3 6 -5 6 -9 6 -12 3 -21 3M1447 2573l-11 0 -10-2 -11-4 -10-6 -9-7 -6-8 -6-11 -2-8 1-12 2-8 4-9 7-8 9-8 9-5 9-4 12-3 12 0 12 2 9 3 10 6 8 6 7 8 5 9 3 11 0 12 -2 8 -4 9 -7 9 -10 8 -10 7 -9 3 -12 2M1739 2761l10-2 9-3 9-5 10-8 5-5 5-9 2-9 0-8 -2-9 -5-9 -6-6 -9-7 -9-5 -12-4 -12-1 -9 1 -9 2 -9 3 -8 6 -7 6 -4 5 -5 9 -2 9 0 8 2 9 5 9 5 5 8 8 9 5 9 3 9 2 11 0M1447 2738l-9 1 -9-2 -9-4 -6-7 -3-6 0-8 5-9 7-6 9-3 12 0 6 1 6 4 6 7 3 9 0 5 -3 6 -6 7 -9 5M1459 2960l-9 2 -12 0 -12-2 -9-3 -9-5 -9-7 -8-8 -5-9 -3-8 -1-12 2-9 3-8 6-9 6-6 9-7 9-5 12-4 12-1 12 1 9 2 12 6 9 6 9 10 6 10 3 8 1 12 -3 11 -4 9 -7 9 -8 7 -9 6 -12 4M1231 3084l-21 0 -18-3 -12-5 -9-9 -6-12 -4-17 -3-23 -1-29 1-52 8-118 2-87 -2-110 -9-147 0-35 2-29 2-17 4-14 4-9 7-9 7-4 11-4 13-2 18-1 21 1 18 3 12 4 10 9 6 12 4 14 3 23 2 29 -1 26 -11 165 -2 69 2 92 12 179 0 24 -2 26 -3 17 -4 14 -4 9 -6 7 -9 6 -9 3 -15 3 -18 1M1782 3070l-105 3 -18-1 -15-2 -15-5 -9-7 -9-11 -4-12 -1-9 0-11 4-23 7-22 5-7 4-4 6-1 6 1 37 18 29 11 18 5 15 1 15-2 15-4 49-19 10-6 3-3 1-6 -2-83 -2-6 -4-6 -13-8 -33-14 -18-6 -18-4 -18 1 -12 2 -9 4 -12 7 -39 28 -12 6 -9 2 -6-1 -6-5 -6-9 -6-13 -4-19 -1-20 1-17 6-47 1-43 -2-26 -5-43 -1-18 1-14 3-15 4-12 6-11 6-6 6-3 6 0 6 2 18 9 33 25 12 7 15 5 18 2 15-2 18-5 47-19 7-5 4-4 2-6 1-8 2-81 -4-6 -10-6 -40-16 -15-5 -15-3 -15-1 -18 3 -21 7 -23 10 -31 15 -9 1 -6-3 -3-5 -4-8 -8-25 -2-19 1-17 4-12 9-11 9-7 15-5 18-2 21-1 90 3 24 2 15 4 10 6 8 10 4 13 2 23 -1 46 2 6 8 12 5 11 4 15 1 11 -1 23 -3 10 -9 25 -2 14 4 67 -2 55 1 66 -3 64 2 8 9 25 3 10 1 11 0 15 -2 14 -5 14 -11 18 -2 6 1 55 -2 14 -4 13 -8 10 -9 6 -13 4 -18 2M1456 2568l-9 1 -12 0 -9-2 -9-4 -9-4 -7-6 -7-9 -4-9 -2-8 0-9 4-14 5-9 6-6 8-6 9-5 9-2 12-2 12 1 10 3 11 5 8 6 7 9 5 9 2 8 0 12 -2 8 -5 9 -6 8 -8 7 -10 5 -9 4M1748 2764l10-3 12-7 11-8 7-8 5-9 2-9 0-8 -2-9 -5-9 -7-8 -11-8 -12-7 -12-3 -12-1 -9 0 -12 3 -9 4 -9 6 -6 6 -6 8 -5 9 -2 9 0 8 2 9 5 9 6 8 9 8 9 5 9 4 12 2 9 0 11-1M1450 2732l-6 2 -9 0 -6-1 -7-4 -4-6 -2-6 0-5 4-7 6-5 12-3 9 2 7 4 5 6 1 8 -3 9 -7 6M1453 2957l-9 1 -12-1 -9-2 -9-4 -8-5 -7-7 -6-8 -4-9 -1-8 0-9 2-8 4-9 7-9 7-5 9-5 9-4 9-2 12 0 12 2 9 4 9 5 8 8 6 9 4 8 2 9 -1 9 -2 8 -5 10 -7 8 -8 6 -9 5 -12 3M1249 3081l-21 2 -21-1 -15-4 -12-6 -7-8 -6-14 -5-21 -2-26 0-29 1-31 10-139 1-81 -2-104 -10-144 0-32 1-29 2-17 4-15 4-11 6-8 6-5 9-4 12-3 15-2 21 1 18 2 12 5 11 8 7 12 5 14 3 20 2 23 -1 41 -12 162 -2 75 2 86 13 168 -1 43 -2 20 -3 15 -4 11 -5 9 -5 6 -8 6 -9 3 -12 2M1650 2458l-9 2 -6 0 -5-2 -4-3 -4-6 -5-9 -5-20 -1-17 5-15 4-6 6-5 12-7 18-5 21-1 108 6 15 3 9 4 9 8 6 9 3 17 -1 18 -3 11 -5 5 -3 2 -6 1 -9-1 -42-13 -12-2 -12 0 -12 2 -12 3 -60 21M1450 2565l-9 0 -9-1 -9-3 -9-4 -9-7 -5-6 -3-6 -4-8 0-9 1-9 3-8 4-6 5-6 8-6 9-4 9-3 9-1 9 1 9 1 9 4 7 5 8 7 4 8 4 8 1 9 -1 9 -3 8 -5 8 -7 7 -8 6 -9 4 -9 2M1842 2548l-3-1 -2-6 -2-17 2-17 2-5 3-2 3 3 3 6 2 15 -2 16 -3 6 -3 2M1638 2868l-6 0 -6-1 -6-4 -4-4 -8-15 -2-11 -2-12 0-23 8-49 2-34 -2-32 -8-49 0-21 3-20 3-8 4-9 6-7 6-4 9-1 9 2 18 9 39 29 12 5 12 2 12 0 15-2 54-16 12 0 6 3 6 9 3 11 2 18 1 20 0 20 -4 41 4 49 0 26 -3 26 -3 10 -3 7 -6 5 -6 2 -6-1 -12-2 -33-11 -15-3 -15-2 -15 1 -9 2 -9 4 -42 31 -12 6 -9 3M1744 2769l11-2 12-5 11-7 11-9 7-8 6-12 2-9 -1-8 -5-12 -7-8 -9-9 -12-8 -12-6 -15-4 -12 0 -12 1 -12 5 -9 5 -9 7 -8 9 -6 8 -3 9 -2 9 1 8 4 12 6 8 8 9 9 7 9 5 12 5 12 1 13-1M1444 2729l-6 1 -5-1 -6-3 -3-3 -1-3 -1-5 2-6 5-4 6-2 9 0 5 3 4 4 1 5 0 5 -4 6 -6 3M1459 2952l-9 1 -9 1 -9-1 -9-3 -9-4 -6-5 -6-6 -5-7 -2-6 -2-8 0-9 1-6 4-8 4-6 6-6 9-6 9-3 9-3 12 0 9 2 9 3 9 5 8 8 6 9 3 8 1 9 -1 9 -4 8 -4 8 -8 7 -7 5 -9 4M1842 2932l-3-2 -2-5 -2-17 2-17 2-6 3-1 3 2 3 6 2 16 -2 15 -3 6 -3 3M1695 3067l-30 0 -21-3 -15-6 -6-5 -5-6 -4-7 -2-8 -1-8 1-12 2-12 5-11 4-8 6-6 9-3 9 1 60 21 24 6 12 0 12-1 39-12 12-3 9 1 3 2 5 5 2 6 2 11 -1 20 -5 15 -5 6 -7 5 -12 5 -15 3 -87 4M1252 3079l-21 2 -21-1 -15-3 -13-7 -7-9 -6-14 -4-18 -2-26 -1-29 2-34 10-133 2-87 -2-101 -11-141 -1-32 2-29 2-17 3-15 4-11 6-9 7-6 9-4 12-3 12-1 18 0 18 3 12 4 10 7 8 12 5 14 3 20 2 23 1 24 -2 26 -13 153 -2 78 2 78 14 158 1 26 -1 26 -4 32 -4 15 -4 8 -6 9 -7 5 -9 4 -9 3M1656 2449l-15 1 -9-4 -6-5 -4-7 -3-8 -2-9 0-14 2-9 3-6 10-9 12-6 15-3 21-1 54 7 48 3 12 3 9 5 7 7 4 9 1 11 -2 9 -4 6 -6 4 -12 0 -36-8 -18-1 -15 3 -45 17 -21 5M1456 2559l-9 2 -9 0 -15-4 -7-4 -7-6 -8-12 -2-6 -1-8 1-9 2-5 9-12 13-8 9-3 9-2 9 1 9 2 9 4 6 5 6 6 3 7 3 8 1 9 -2 9 -3 5 -5 8 -6 6 -7 4 -8 3M1635 2862l-9-3 -6-4 -3-5 -7-14 -3-17 2-24 10-46 3-26 0-17 -1-15 -11-49 -3-20 1-11 2-12 2-9 5-9 6-6 6-4 9-1 9 2 18 10 36 28 9 5 12 3 12 1 12-1 51-13 9 0 9 4 6 7 3 9 4 23 -1 15 -1 11 -4 12 -4 6 -3 1 -6-1 -27-20 -21-11 -18-5 -9-1 -9 1 -9 2 -12 5 -12 8 -11 9 -7 9 -7 11 -3 9 -1 8 1 9 4 9 6 8 7 9 11 9 12 8 12 5 9 2 9 1 9-1 18-5 21-11 27-20 6-1 3 1 3 4 4 11 3 23 -2 23 -3 9 -4 9 -7 6 -6 2 -6 0 -12-2 -42-11 -15-1 -12 2 -9 2 -12 7 -29 23 -13 9 -12 5 -9 1M1444 2720l-6 2 -5-2 -2-3 1-4 3-3 3 0 6 2 2 3 0 2 -2 3M1453 2949l-9 1 -9-1 -15-5 -12-9 -8-13 -2-5 0-9 2-9 2-5 10-12 14-8 9-2 9-1 9 1 9 3 7 4 7 6 4 6 5 8 2 9 -1 9 -3 8 -3 6 -5 6 -7 6 -15 6M1698 3061l-24 2 -21-2 -15-4 -12-8 -5-8 -3-6 -2-14 1-9 3-9 3-7 6-8 6-4 6-2 15 1 21 5 45 17 15 3 18-1 30-7 12-1 9 2 6 6 3 11 -1 8 -1 6 -7 10 -9 6 -9 4 -9 1 -45 3 -36 5M1243 3079l-18 1 -18-2 -15-5 -9-7 -8-11 -5-14 -3-20 -2-26 1-58 12-127 2-87 -1-58 -2-46 -12-141 0-32 1-29 2-17 4-15 3-8 6-9 8-7 9-5 11-2 13-2 18 1 17 3 11 6 9 9 7 11 5 18 3 20 1 23 0 29 -3 35 -12 127 -2 78 0 52 2 37 9 90 6 63 0 26 -1 26 -5 32 -3 12 -5 9 -7 8 -8 6 -9 3 -12 3M1656 2443l-9 0 -6-1 -9-6 -7-10 -2-6 -2-9 2-11 2-6 4-6 9-7 12-5 21-2 12 0 15 3 48 14 24 3 9 3 6 3 4 6 -1 3 -2 2 -4 1 -27-3 -12 1 -12 5 -27 14 -18 7 -15 5 -15 2M1450 2556l-15 0 -9-3 -6-3 -10-9 -6-11 -1-6 1-9 5-11 5-6 6-5 12-5 15-1 9 2 6 2 6 4 6 5 6 12 2 6 -1 9 -4 11 -5 6 -7 6 -6 3 -9 3M1641 2856l-6 0 -6-2 -9-8 -6-11 -3-16 0-15 3-14 17-52 5-21 -2-14 -18-52 -5-20 0-15 1-11 4-12 4-7 6-6 9-4 9 0 9 3 18 11 33 30 12 7 12 4 6 1 9-2 30-9 15-3 9 1 9 3 7 9 3 14 -1 15 -3 6 -3 3 -6 2 -6-2 -36-17 -15-6 -12-2 -9 1 -12 5 -12 7 -15 11 -13 12 -8 9 -9 11 -4 9 -1 8 2 9 5 9 7 8 11 12 13 11 15 11 15 8 9 3 9 0 12-3 48-22 6-2 6 2 3 3 3 6 1 12 -2 11 -5 12 -3 3 -6 3 -9 1 -15-3 -39-11 -6 0 -9 2 -12 6 -9 6 -27 25 -12 9 -12 6 -9 2M1456 2943l-15 2 -13-2 -11-6 -6-6 -4-6 -4-11 1-9 1-6 8-11 10-8 6-2 9-2 15 1 7 2 8 5 6 6 4 7 3 5 1 9 -2 9 -2 5 -4 6 -6 6 -12 6M1677 3058l-15 0 -15-3 -12-6 -9-9 -4-11 -1-5 1-9 4-12 9-10 6-3 6-1 9 0 9 1 27 8 39 19 12 5 12 1 24-4 6 1 4 4 -1 5 -3 3 -6 3 -9 3 -21 2 -45 14 -27 4M1249 3076l-18 2 -21-1 -14-4 -10-7 -8-11 -5-14 -4-20 -2-23 0-29 2-32 12-130 2-87 -1-57 -1-44 -11-107 -2-34 -1-32 1-26 5-29 4-11 6-10 6-6 9-5 12-4 12-1 18 1 15 3 9 4 10 9 7 11 4 15 4 20 2 23 0 29 -3 38 -14 130 -2 78 2 78 15 138 2 38 -1 31 -4 32 -3 12 -5 11 -5 7 -6 6 -9 5 -9 3M1662 2437l-12 0 -8-3 -7-4 -5-7 -3-9 0-8 2-9 7-9 8-5 9-3 12-2 12 0 12 2 12 4 9 4 7 6 4 6 -1 6 -3 5 -6 6 -13 9 -12 5 -12 4 -12 2M1453 2550l-12 2 -12-3 -12-8 -6-8 -2-12 2-9 6-10 10-7 14-3 12 1 12 6 5 5 3 6 3 11 -2 12 -4 5 -5 6 -12 6M1653 2684l-6 1 -3-1 -6-4 -6-7 -12-23 -5-19 0-18 1-8 3-9 7-10 6-3 6-2 6 0 9 3 16 9 9 9 12 14 9 12 4 9 0 2 -3 6 -7 9 -25 20 -15 10M1644 2851l-6 0 -6-2 -6-3 -3-4 -4-6 -3-9 -2-17 4-20 8-21 6-10 6-7 6-4 3-1 6 1 6 3 28 21 13 15 3 6 0 2 -2 6 -4 6 -22 26 -16 12 -9 4 -6 2M1447 2940l-12 0 -12-5 -9-9 -5-9 0-12 5-10 9-9 12-5 12 0 7 1 6 3 10 9 4 5 2 6 -1 12 -2 5 -3 6 -5 5 -6 4 -12 3M1683 3053l-15 1 -15-2 -12-5 -8-6 -5-9 -2-11 3-11 6-8 6-4 9-3 9-1 9 1 12 4 12 4 11 6 11 9 5 6 2 5 0 3 -4 6 -12 9 -10 3 -12 3M1240 3076l-18 0 -15-2 -12-5 -10-8 -7-11 -4-15 -3-20 -2-26 0-29 2-29 13-121 2-87 0-58 -2-46 -12-107 -2-34 -1-32 1-26 5-29 5-11 5-9 7-6 9-5 12-3 12-2 15 1 15 4 12 8 7 9 6 11 5 18 3 20 1 23 -1 29 -2 37 -15 119 -2 34 -1 44 1 52 2 37 12 93 5 46 1 32 -1 28 -4 32 -4 12 -6 11 -7 9 -6 5 -9 4 -12 3M1668 2432l-9 1 -9-2 -6-2 -7-6 -4-6 -1-9 2-8 4-6 6-6 6-2 9-3 9-1 9 1 11 2 7 3 9 6 2 3 2 6 -1 5 -3 6 -7 6 -9 6 -11 4 -9 2M1453 2545l-9 1 -12-2 -9-5 -5-6 -3-9 1-9 5-8 7-6 10-4 12 1 9 4 8 8 3 8 0 6 -1 6 -6 8 -10 7M1650 2671l-9-3 -6-5 -5-6 -7-15 -4-14 -1-15 5-14 6-9 9-4 6 0 9 2 9 5 6 5 9 10 6 8 5 9 2 9 0 5 -2 6 -9 12 -8 6 -9 5 -6 3 -6 0M1650 2845l-6 1 -6 0 -6-2 -5-5 -7-12 -2-14 3-18 3-8 5-11 9-10 6-4 6-1 6 0 6 3 15 10 9 10 3 6 1 5 -2 12 -11 17 -12 12 -7 6 -8 3M1450 2934l-12 1 -9-3 -8-7 -4-6 -2-8 2-9 5-8 10-6 12-2 10 2 9 6 6 8 1 6 0 6 -3 8 -8 8 -9 4M1671 3050l-12-1 -9-3 -9-4 -6-7 -3-9 1-8 4-9 7-6 6-2 6-1 9 0 9 1 19 8 8 6 5 6 2 8 -2 6 -5 5 -13 7 -17 3M1243 3073l-18 2 -15-2 -12-4 -9-8 -8-11 -5-15 -3-20 -2-23 0-29 2-29 14-127 2-38 1-49 -1-55 -2-43 -12-107 -3-34 -1-32 1-26 5-29 4-12 5-8 6-6 9-6 12-4 12-1 15 1 14 4 9 6 8 9 6 11 5 18 3 20 2 23 -1 32 -3 37 -13 90 -3 29 -2 34 0 44 0 49 3 37 3 29 10 64 4 43 2 32 -1 29 -4 31 -4 12 -5 11 -6 9 -6 5 -9 5 -9 2M1674 2426l-9 1 -9 0 -6-2 -6-3 -4-5 -2-9 1-5 3-6 8-6 7-3 8-1 15 1 12 6 3 3 3 6 1 3 -2 5 -9 9 -14 6M1450 2539l-9 1 -6-2 -6-3 -4-5 -2-6 0-6 3-6 6-6 6-2 9 0 7 3 6 5 2 6 0 9 -3 6 -9 6M1659 2660l-6 1 -6 0 -9-5 -9-10 -5-12 -2-15 2-11 5-11 3-2 6-3 6-1 6 1 12 7 11 12 7 14 1 12 -3 8 -8 9 -11 6M1653 2839l-6 2 -6 0 -9-4 -4-4 -3-6 -3-11 1-15 6-15 9-10 6-4 6-1 10 1 11 7 8 11 2 8 -2 12 -6 11 -10 12 -10 6M1444 2928l-9-1 -6-4 -5-6 -2-6 1-6 4-6 5-4 9-3 9 1 5 4 6 5 2 6 -1 9 -4 5 -5 4 -9 2M1677 3044l-9 1 -9-1 -9-3 -6-4 -4-5 -2-6 1-8 3-6 9-6 8-1 6 0 15 3 12 7 6 9 0 5 -1 3 -2 3 -6 5 -12 4M1234 3073l-15 0 -13-3 -11-6 -8-9 -6-11 -4-15 -3-20 -1-23 0-26 3-29 11-89 3-35 2-38 1-49 0-49 -2-37 -3-38 -13-104 -2-34 1-32 2-18 3-14 5-12 5-8 6-6 9-5 9-3 12-1 15 1 12 4 11 7 7 9 6 11 5 17 3 21 1 26 -1 31 -3 35 -13 84 -4 29 -2 34 -1 44 1 52 2 37 4 29 11 67 4 40 2 35 -1 28 -2 18 -3 14 -4 12 -5 9 -7 8 -8 6 -9 3 -12 3M1674 2420l-12 2 -6-1 -6-3 -4-4 -1-6 1-5 2-3 8-6 9-2 12 1 7 4 5 6 0 5 -6 8 -9 4M1447 2528l-6 1 -3-1 -3-4 0-5 3-4 6-1 3 1 3 3 1 6 -4 4M1656 2652l-9 0 -9-5 -6-7 -4-9 -2-12 3-11 3-6 3-3 6-3 9 1 9 5 8 9 6 11 1 9 -3 8 -6 8 -9 5M1653 2834l-9 2 -9-3 -6-7 -3-11 1-11 5-12 9-9 9-3 9 1 6 4 6 8 3 8 -1 9 -5 10 -6 7 -9 7M1447 2917l-6 1 -3-1 -3-3 -1-6 4-4 6-1 6 3 1 5 -1 4 -3 2M1677 3039l-6 1 -9 0 -6-2 -5-3 -4-3 -2-6 0-5 1-3 7-6 9-2 9 1 10 4 7 6 1 6 -3 6 -9 6M1240 3070l-15 1 -15-2 -11-5 -9-9 -7-11 -4-15 -3-17 -1-23 0-29 3-32 12-89 4-35 2-37 1-47 -1-55 -3-43 -14-104 -3-34 -1-32 1-26 4-29 5-12 5-8 5-6 9-6 9-3 12-1 15 1 12 4 9 6 8 10 6 12 4 17 3 18 1 23 -1 32 -3 34 -4 29 -11 58 -4 32 -2 34 -1 44 1 49 3 37 4 29 11 64 5 37 2 35 -1 29 -4 31 -3 12 -5 10 -5 7 -7 7 -8 5 -10 3M1668 2415l-9-1 -4-3 -1-3 0-2 2-3 4-3 5-1 8 1 4 3 1 3 -1 3 -3 3 -6 3M1656 2642l-9 1 -6-2 -6-7 -2-6 -2-9 1-6 3-6 6-4 6-1 7 3 7 6 4 8 1 9 -1 6 -4 5 -5 3M1653 2828l-9 2 -6-2 -5-7 -1-5 0-9 3-9 6-7 6-2 6 0 6 2 6 7 1 6 -1 8 -2 7 -5 5 -5 4M1671 3033l-9 0 -6-3 -2-4 0-2 1-3 4-3 6-1 6 1 5 3 2 3 0 2 -1 3 -6 4M1243 3067l-15 3 -15-2 -12-5 -8-8 -7-11 -5-15 -3-17 -1-23 0-29 2-29 14-95 4-35 3-37 0-47 0-46 -2-37 -4-35 -11-72 -4-32 -2-35 0-31 5-29 4-12 4-8 5-6 9-7 9-3 12-2 12 1 12 4 10 7 7 8 6 12 5 17 3 21 1 20 -1 34 -3 35 -16 84 -4 32 -3 34 -1 44 1 43 2 35 5 31 12 62 4 31 4 40 -1 35 -3 29 -3 11 -4 12 -6 8 -5 6 -7 5 -9 4M1653 2632l-3 1 -6-1 -3-3 -2-4 0-6 0-3 2-3 3-2 6 1 3 2 3 4 2 7 -2 4 -3 3M1650 2820l-6 1 -3-2 -2-6 2-9 3-4 3-1 6 1 3 3 2 4 -2 7 -3 4 -3 2M1234 3067l-12 1 -12-3 -9-5 -9-9 -5-10 -5-15 -2-17 -2-23 1-29 3-32 15-92 4-35 3-34 0-47 -1-52 -3-40 -4-32 -12-69 -4-38 -2-31 1-26 5-29 4-12 5-8 5-6 9-6 9-3 9-1 12 1 12 4 9 7 8 9 5 12 5 17 2 18 1 23 -1 31 -3 35 -5 28 -13 59 -4 29 -3 34 -1 44 1 49 4 37 4 29 13 61 6 37 2 35 -1 32 -2 17 -2 14 -4 12 -4 9 -7 8 -7 6 -9 4 -9 2M1240 3064l-12 2 -12-1 -12-5 -8-8 -7-11 -5-15 -3-17 -1-20 1-32 3-32 17-95 4-35 3-37 1-41 -1-46 -3-40 -5-35 -13-69 -5-35 -2-32 1-28 4-29 4-12 5-9 5-5 8-6 9-4 9-1 12 1 10 4 9 6 8 10 6 13 4 14 2 18 1 20 -1 34 -3 35 -6 31 -14 59 -5 31 -3 35 -1 38 1 46 5 40 4 26 15 64 6 34 2 35 0 32 -4 29 -7 20 -5 9 -6 6 -8 5 -7 3M1240 3062l-12 2 -12-1 -10-5 -10-8 -6-12 -5-14 -2-18 -1-20 1-32 4-34 19-99 5-34 3-35 1-35 -1-40 -4-38 -5-31 -15-75 -6-38 -2-35 0-28 2-15 3-14 3-9 5-10 6-7 6-4 9-4 9-1 12 1 9 4 9 6 7 9 6 12 4 14 2 18 2 23 -2 34 -4 37 -6 28 -16 62 -6 32 -3 32 -1 35 1 40 5 40 6 29 16 64 6 32 3 34 0 35 -3 29 -7 20 -5 9 -5 6 -7 5 -8 4M1228 2670l-3 0 -3-9 -28-120 -8-46 -3-40 1-21 2-17 3-14 4-12 6-9 8-7 9-4 9-1 12 1 9 4 9 7 6 9 5 12 4 14 3 17 1 24 -2 40 -6 37 -35 128 -3 7M1234 3061l-12 1 -9-2 -9-6 -7-7 -5-9 -5-14 -3-18 -1-20 2-40 7-47 30-128 3-9 3 0 3 7 10 41 24 84 6 34 3 38 -1 20 -1 20 -3 15 -5 14 -6 11 -6 7 -9 6 -9 2M1228 2628l-3 0 -3-4 -6-13 -9-28 -9-34 -9-48 -3-23 -1-23 2-35 3-14 4-12 5-9 8-7 9-4 9-2 12 1 9 4 9 8 6 9 4 12 4 14 2 17 1 21 -2 43 -4 20 -5 23 -9 31 -12 33 -6 13 -3 5 -3 2M1237 3059l-12 1 -9-2 -9-4 -8-7 -5-9 -5-14 -3-18 -1-17 0-23 2-26 4-26 6-29 10-36 9-28 6-13 3-4 3 0 3 2 3 5 6 13 12 33 8 25 8 38 4 40 0 20 -1 20 -3 15 -4 14 -5 12 -7 9 -6 5 -9 4M1228 2608l-3-1 -3-2 -6-10 -6-15 -9-29 -6-25 -5-25 -2-23 -2-23 2-32 3-15 4-11 5-9 7-7 9-5 9-2 9 1 9 3 9 7 6 9 5 12 4 14 2 17 1 21 0 20 -2 23 -4 20 -4 20 -8 24 -9 22 -9 16 -6 5M1237 3056l-12 2 -9-2 -9-5 -6-6 -6-10 -4-11 -3-15 -1-17 0-23 1-23 4-26 6-27 9-32 9-24 6-10 3-2 3-1 6 5 6 10 9 20 9 26 8 37 4 38 -1 38 -2 15 -4 13 -5 12 -6 9 -7 5 -8 4M1228 2593l-3 0 -3-2 -6-9 -6-13 -8-25 -10-45 -3-21 -1-23 0-18 2-17 3-12 4-11 5-9 6-6 8-4 9-2 9 1 9 4 9 7 5 9 5 11 4 15 2 17 1 18 -3 40 -3 20 -5 20 -6 18 -9 21 -9 13 -6 3M1231 3055l-9 0 -9-3 -8-5 -6-9 -5-12 -3-11 -2-15 -1-17 1-23 2-23 4-21 6-25 9-28 6-13 6-9 3-2 3 0 6 3 6 8 9 18 8 23 5 17 3 20 4 41 -2 34 -3 15 -4 11 -5 10 -6 8 -9 6 -9 2M1228 2582l-6-2 -6-8 -6-13 -6-16 -6-23 -4-22 -3-23 -1-20 2-32 2-12 4-11 6-10 6-6 6-3 9-2 9 1 9 4 6 5 6 8 5 11 4 15 2 17 1 18 -1 23 -2 20 -3 17 -6 20 -6 17 -9 17 -6 7 -6 3M1234 3052l-9 1 -9-2 -8-4 -5-6 -5-9 -4-11 -3-15 -1-17 0-20 2-23 4-24 5-22 6-20 9-20 6-8 6-2 6 3 6 7 9 17 6 16 8 32 4 38 -1 35 -3 14 -4 14 -4 9 -6 8 -6 5 -9 4M1231 2571l-6 0 -6-4 -6-10 -6-14 -6-19 -5-23 -3-23 -2-20 2-32 2-12 4-11 5-10 6-6 6-4 9-2 9 1 7 3 8 7 5 8 5 11 3 12 3 29 -2 37 -2 18 -4 17 -5 15 -6 14 -9 14 -6 4M1234 3050l-9 1 -9-2 -6-4 -7-7 -4-9 -4-11 -3-15 -1-14 1-20 1-21 4-23 5-20 8-24 6-11 6-8 6-2 6 2 6 7 6 10 6 14 5 15 4 17 4 38 -1 35 -3 14 -3 12 -4 8 -6 9 -7 6 -7 3M1231 2563l-6 0 -6-5 -6-9 -6-14 -6-20 -4-17 -3-20 -1-20 2-32 2-12 4-11 3-6 6-7 6-4 9-3 9 2 6 2 6 5 6 8 5 11 3 12 3 29 0 17 -1 20 -7 33 -6 17 -6 12 -6 8 -6 4M1234 3047l-9 2 -8-2 -7-5 -6-7 -4-9 -4-11 -3-26 0-20 2-21 3-20 6-22 6-16 6-12 6-7 6-2 6 2 6 6 6 10 6 14 8 30 3 35 -1 32 -5 23 -4 8 -5 9 -7 6 -7 3M1234 2553l-6 2 -6-2 -6-7 -6-12 -6-17 -4-16 -3-17 -2-21 0-31 3-15 3-9 4-8 5-7 6-4 9-3 9 1 6 3 6 6 5 7 4 9 3 11 3 26 0 32 -6 32 -9 25 -6 9 -6 6M1234 3045l-9 1 -6-1 -6-4 -6-6 -5-9 -4-11 -3-26 0-17 1-21 4-20 4-16 6-17 6-12 6-7 6-2 6 2 6 6 6 9 5 11 7 27 3 34 -1 29 -2 14 -3 11 -4 9 -5 7 -6 6 -6 3M1231 2547l-6 0 -6-5 -6-9 -4-9 -5-15 -4-17 -4-34 2-29 5-21 4-7 6-7 6-4 6-1 6 0 6 2 6 5 6 8 4 7 3 12 3 14 1 15 -2 34 -6 29 -9 21 -6 7 -6 4M1234 3042l-9 1 -6-1 -6-4 -6-6 -3-6 -4-11 -2-12 -2-14 0-17 2-18 3-19 4-15 5-15 6-11 6-7 6-3 6 2 6 6 9 17 7 25 4 32 -1 29 -5 23 -8 15 -6 6 -6 3M1234 2539l-6 1 -6-2 -5-5 -4-7 -6-15 -4-13 -3-17 -2-18 1-29 2-13 3-10 4-8 5-6 6-4 6-1 6 0 6 2 6 5 4 7 7 17 4 23 -1 29 -4 29 -4 12 -5 11 -4 6 -6 6M1234 3039l-6 1 -6 0 -6-3 -6-5 -5-8 -3-9 -3-12 -1-14 0-17 2-18 3-17 4-16 9-20 6-7 6-2 3 0 6 4 6 8 5 10 7 25 3 27 -1 26 -5 23 -7 14 -5 6 -6 4M1231 2533l-6 0 -6-5 -5-7 -4-9 -7-26 -3-28 0-24 5-20 4-8 4-5 6-5 6-1 6 0 6 3 5 5 4 5 7 18 3 23 -1 29 -5 26 -4 11 -5 9 -4 5 -6 4M1234 3036l-6 1 -6 0 -6-3 -6-6 -7-16 -3-23 1-30 6-30 3-9 6-12 6-7 6-3 6 2 3 3 9 14 7 23 3 26 -1 26 -4 20 -7 14 -4 6 -6 4M1234 2525l-6 2 -6-3 -3-3 -6-9 -7-20 -4-29 0-26 4-20 7-12 6-5 6-2 6 0 6 3 8 10 6 15 3 20 -1 26 -3 23 -7 19 -3 5 -6 6M1234 3033l-6 1 -6 0 -6-4 -4-4 -3-5 -4-9 -3-23 1-29 6-29 4-10 6-10 3-3 6-3 6 2 3 3 5 7 4 8 6 21 2 20 -1 23 -3 20 -7 15 -5 5 -4 4M1231 2520l-6-1 -3-2 -6-7 -3-6 -6-20 -4-26 1-24 5-17 7-11 4-3 5-2 9 2 6 5 3 4 6 16 3 21 -1 23 -4 23 -7 16 -3 4 -6 5M1231 3030l-6 1 -5-2 -4-3 -4-5 -6-15 -3-20 2-26 5-24 3-8 6-10 3-3 6-3 6 2 3 3 7 11 6 20 2 24 -1 23 -5 17 -6 12 -3 3 -6 3M1231 2513l-6-1 -3-1 -7-10 -7-20 -3-23 1-21 4-16 6-11 3-2 6-3 6 1 3 1 5 4 3 6 5 15 3 17 -1 20 -3 20 -6 15 -4 6 -5 3M1228 3027l-5-1 -4-2 -4-3 -4-6 -4-15 -2-20 2-23 6-21 6-11 3-4 6-2 6 2 3 3 6 10 5 20 2 20 -1 21 -5 17 -7 10 -3 3 -6 2M1234 2504l-3 2 -6-1 -6-5 -6-14 -5-23 0-20 3-17 5-11 4-4 5-2 6 1 3 2 6 7 5 13 2 14 0 17 -2 18 -5 15 -6 8M1231 3022l-6 1 -3-1 -7-7 -5-12 -3-20 2-20 4-18 6-13 3-3 6-3 6 2 6 9 6 17 2 18 -1 20 -4 14 -6 12 -6 4M1231 2498l-6 0 -3-2 -5-7 -4-12 -3-19 0-15 3-15 6-11 6-3 6 1 3 2 5 6 4 11 2 15 0 17 -3 15 -5 11 -6 6M1228 3018l-6-1 -3-2 -4-6 -4-11 -1-18 1-17 5-17 6-10 6-3 6 3 6 10 4 14 1 17 -1 18 -4 11 -6 9 -6 3M1231 2490l-3 1 -3-1 -6-7 -3-8 -3-15 0-17 2-11 4-8 6-5 6 1 6 7 3 10 2 12 0 11 -2 15 -3 9 -6 6M1228 3013l-6-2 -6-8 -3-11 -1-12 1-11 4-15 5-10 3-2 3-1 3 1 3 2 4 7 3 12 1 14 0 12 -3 11 -5 9 -6 4M1231 2481l-3 1 -3-1 -3-3 -3-6 -3-14 0-12 1-9 4-8 4-3 3 0 3 1 3 4 3 7 1 8 1 12 -2 11 -3 8 -3 4M1231 3005l-3 1 -3 0 -3-2 -4-6 -2-12 0-12 3-14 3-6 3-3 3-1 3 1 4 6 2 6 2 11 -1 12 -1 8 -3 7 -3 4M1228 2470l-3-1 -3-5 -2-12 2-12 3-4 3-1 4 5 2 12 -1 11 -2 5 -3 2M1228 2997l-3-1 -3-4 -2-12 2-12 3-5 3-1 3 2 2 5 1 11 -2 12 -4 5"/><path stroke="#00f" d="M1989 3087l9-1 9-3 7-5 4-5 3-9 2-9 3-29 1-72 -4-133 -1-75 0-118 5-168 -1-46 -2-32 -4-17 -4-9 -6-5 -9-4 -15-2 -27-2 -39 1 -24 1 -12 3 -6 2 -4 4 -4 5 -3 9 -2 12 -3 37 0 38 8 72 -1 63 3 93 -1 86 -2 73 1 60 -8 90 0 29 3 29 2 14 3 9 5 6 9 5 15 3 24 1 39 0 27-1M1546 3084l18-4 6-3 3-4 3-6 2-9 3-26 0-29 -4-92 5-87 -1-109 1-99 0-29 -5-66 4-115 -2-24 -2-14 -4-9 -6-6 -9-3 -18-3 -42-1 -111 0 -33 1 -18 3 -6 3 -5 3 -4 6 -2 9 -1 17 0 61 -9 55 -2 23 5 78 -2 72 1 90 1 66 -4 52 -1 20 2 23 9 55 0 64 2 20 4 7 6 5 9 4 15 2 36 1 96 0 60-2M1459 2588l-12 2 -15-1 -15-3 -12-4 -15-9 -12-9 -8-8 -7-12 -3-14 0-15 1-11 5-12 7-8 11-10 12-8 15-7 18-5 15-1 15 2 17 5 16 8 12 10 10 11 8 15 3 11 0 12 -4 11 -6 9 -13 14 -16 14 -15 9 -12 4M1750 2579l11-4 13-8 11-8 9-12 5-12 2-11 -1-12 -3-11 -8-12 -10-9 -12-8 -15-7 -15-3 -15 0 -15 3 -12 5 -9 5 -9 9 -8 8 -6 12 -2 8 -1 12 2 9 3 8 8 12 9 8 10 9 12 6 9 3 12 2 12 0 13-2M1447 2753l-9 0 -9 0 -15-6 -12-9 -7-12 -2-6 0-8 4-12 5-6 6-5 12-7 9-3 9 0 9 0 9 3 9 4 6 5 6 7 4 8 1 6 0 8 -3 9 -3 6 -5 6 -7 5 -8 4 -9 3M1749 2743l6-3 7-5 5-6 2-6 1-11 -2-6 -4-6 -5-6 -7-4 -6-2 -9-2 -15 1 -6 3 -7 4 -7 9 -4 9 1 11 5 10 9 8 12 4 12 1 12-3M1456 2978l-15 1 -12-1 -15-4 -15-6 -15-10 -11-10 -7-8 -5-12 -1-11 0-15 2-11 6-12 10-11 11-9 16-9 15-5 15-3 15 0 15 4 12 5 18 13 16 15 8 12 5 11 1 12 -2 11 -5 12 -9 11 -11 11 -12 8 -15 7 -15 4M1745 2969l13-4 12-6 12-9 9-10 6-9 3-11 1-12 -2-11 -5-12 -7-9 -11-10 -12-7 -12-5 -15-3 -12 0 -12 2 -12 4 -9 5 -12 10 -9 10 -6 9 -4 11 -1 9 1 11 5 12 5 9 9 9 12 8 12 6 15 4 12 0 14-1M1955 3087l31-2 11-4 7-3 7-8 4-9 3-11 2-18 2-32 0-40 -6-147 -2-113 2-92 6-124 0-61 -2-26 -3-20 -6-15 -7-8 -9-4 -15-4 -21-1 -30 0 -30 3 -12 4 -6 4 -6 8 -3 10 -5 29 -2 43 7 84 1 57 3 73 0 75 -4 167 -6 72 -1 32 2 26 3 20 5 15 6 9 9 5 15 4 21 2 29 0M1515 3081l28-3 10-2 8-5 6-6 3-7 4-11 2-15 0-14 -1-20 -9-84 1-17 10-50 2-31 -3-99 3-109 -3-26 -8-44 -2-17 0-11 6-44 4-40 0-23 -2-18 -5-14 -7-9 -10-6 -15-3 -36-3 -96 0 -33 2 -21 2 -9 3 -8 5 -5 6 -3 9 -2 20 -2 55 -10 49 -2 23 1 20 6 43 0 21 -1 60 0 101 1 61 -1 17 -5 38 -1 23 2 23 10 49 2 55 2 20 4 10 6 6 9 5 15 3 42 3 113-1M1453 2594l-15 1 -15-2 -15-5 -15-7 -15-9 -12-10 -6-9 -4-12 -2-17 1-17 2-12 6-10 9-10 17-12 16-7 18-6 15-2 18 2 18 5 18 8 17 12 11 11 10 15 4 11 1 12 -3 9 -5 8 -10 12 -19 17 -18 13 -12 7 -15 4M1744 2576l11-3 12-6 11-8 8-9 5-9 4-11 0-12 -2-11 -6-12 -7-9 -10-7 -12-7 -12-4 -12-2 -15 1 -12 2 -12 6 -8 6 -9 8 -7 9 -3 9 -2 8 0 12 2 8 4 9 8 11 9 8 12 7 9 4 12 3 12 0 10-1M1453 2755l-9 2 -9 0 -9-1 -9-3 -9-5 -6-5 -10-11 -4-12 0-8 2-6 4-9 5-6 12-9 9-4 9-2 12-1 9 1 12 4 8 6 7 6 6 8 2 6 2 9 -1 8 -3 9 -6 8 -6 6 -9 6 -9 3M1746 2741l10-6 6-6 2-5 2-9 -1-6 -3-6 -10-9 -12-4 -9-1 -6 1 -12 6 -7 7 -3 9 0 8 3 9 7 7 9 5 12 2 12-2M1447 2983l-18 0 -15-4 -18-7 -16-9 -11-9 -7-8 -6-12 -2-14 0-18 2-14 5-12 7-8 16-12 18-10 18-6 15-2 15 0 12 2 12 5 15 10 19 16 15 14 9 14 3 12 -2 11 -5 12 -10 14 -11 11 -12 8 -15 8 -18 6 -15 2M1737 2966l12-3 12-4 12-8 9-8 7-9 5-12 1-8 0-12 -4-11 -5-9 -8-9 -11-8 -12-6 -12-3 -12-1 -12 0 -12 4 -9 4 -10 8 -11 10 -7 10 -3 8 -2 9 1 12 4 11 5 9 8 8 9 7 9 5 12 4 12 2 12 0M1974 3084l12-2 8-4 8-5 4-6 4-9 4-11 3-29 1-29 0-35 -8-141 -1-96 1-98 8-141 0-35 -1-29 -2-23 -4-14 -5-12 -7-9 -11-5 -14-3 -24-2 -24 1 -15 1 -12 3 -9 4 -6 5 -5 8 -4 12 -5 31 -2 41 6 72 5 110 2 89 -1 64 -5 112 -6 78 0 35 2 23 5 20 5 12 8 9 12 5 19 4 27 1 27-2M1525 3076l18-4 9-4 4-4 9-12 5-14 1-23 -4-35 -6-26 -4-8 -5-8 -3-2 -6 2 -36 28 -15 8 -15 7 -15 4 -15 3 -12 0 -15-2 -18-5 -18-9 -18-10 -9-8 -5-8 -2-12 -2-20 1-20 2-12 3-9 6-8 7-6 20-11 18-8 18-6 15-2 18 2 18 7 15 9 42 33 12 8 6 1 3-1 6-6 6-11 6-18 3-17 2-20 0-24 -4-46 -1-32 1-34 4-46 0-24 -2-20 -4-20 -5-15 -6-11 -6-6 -6-1 -9 5 -54 41 -15 8 -12 4 -12 2 -15-1 -15-4 -18-6 -18-9 -15-10 -6-7 -4-7 -3-12 -1-17 0-20 1-12 2-9 5-8 6-6 19-12 20-9 18-5 15-2 12 0 12 2 26 9 13 6 13 8 32 25 6 2 3-2 5-8 4-8 6-29 4-35 0-11 -2-12 -6-14 -8-11 -12-6 -15-3 -33-2 -87 0 -27 1 -21 3 -9 3 -9 6 -5 6 -4 9 -3 20 -2 52 -3 11 -9 32 -3 23 1 23 8 41 2 20 -2 58 1 52 -1 60 2 58 -2 17 -7 35 -2 26 3 23 9 32 3 11 1 49 2 18 4 11 7 9 9 6 15 4 18 2 27 1 84 0 30-1M1736 2573l10-2 12-4 9-6 10-8 6-9 5-9 2-8 -1-12 -3-11 -5-9 -8-9 -9-6 -9-5 -12-4 -12-1 -12 1 -12 3 -9 4 -9 6 -8 8 -6 9 -3 9 -2 8 1 9 3 11 5 9 8 9 8 7 9 5 9 3 12 2 11 0M1441 2761l-12-1 -9-2 -9-4 -9-5 -7-6 -7-8 -4-9 -1-9 1-8 3-9 6-9 5-5 10-7 9-4 9-3 9-1 12 1 9 2 9 3 8 6 7 6 6 8 4 9 1 9 -1 8 -3 9 -4 8 -6 6 -9 7 -9 4 -9 3 -9 1M1742 2738l10-5 6-7 3-9 0-5 -3-6 -3-4 -6-5 -9-3 -12 0 -10 3 -6 6 -5 8 0 6 3 9 4 6 8 5 9 2 11-1M1746 2960l12-5 9-5 9-7 7-9 4-9 3-11 -1-12 -3-8 -4-9 -9-9 -9-7 -12-6 -12-3 -12-1 -12 1 -9 3 -9 5 -9 6 -7 8 -6 9 -4 8 -2 9 1 9 2 8 4 9 7 9 8 7 9 6 9 3 12 3 12 0 12-2M1952 3084l16-1 12-2 9-4 9-6 5-7 5-12 3-14 2-14 2-29 0-35 -9-147 -2-110 2-84 8-124 1-52 -1-26 -3-23 -4-17 -6-12 -9-9 -12-5 -18-3 -21 0 -18 1 -15 3 -9 3 -9 6 -6 7 -4 9 -4 14 -3 17 -2 26 0 24 12 179 2 92 -2 69 -11 168 -1 26 2 26 3 23 5 17 6 10 9 8 15 5 18 3 23 0M1527 3070l16-5 9-7 9-11 4-12 1-17 -2-19 -8-25 -4-8 -3-5 -6-3 -9 1 -31 15 -23 10 -21 7 -18 3 -15-1 -15-3 -15-5 -40-16 -10-6 -4-6 2-81 1-8 2-6 4-4 7-5 47-19 18-5 15-2 18 2 15 5 12 7 33 25 18 9 6 2 6 0 6-3 6-6 6-11 4-12 3-15 1-14 -1-18 -5-43 -2-26 1-43 6-47 1-17 -1-20 -4-19 -6-13 -6-9 -6-5 -6-1 -9 2 -12 6 -39 28 -12 7 -9 4 -12 2 -18 1 -18-4 -18-6 -33-14 -13-8 -4-6 -2-6 -2-83 1-6 3-3 10-6 49-19 15-4 15-2 15 1 18 5 29 11 37 18 6 1 6-1 4-4 5-7 7-22 4-23 0-11 -1-9 -6-15 -7-9 -12-7 -15-4 -18-2 -24 0 -87 2 -27 3 -10 3 -8 5 -7 7 -4 8 -3 12 -1 14 1 52 -2 6 -8 12 -5 11 -4 15 -1 11 1 23 3 10 9 25 2 14 -4 67 2 55 -1 66 3 64 -3 11 -5 14 -5 15 -2 12 0 14 1 11 4 15 5 11 8 12 2 6 -1 49 2 23 5 12 7 8 10 6 15 4 24 2 90 3 21-1 17-2M1745 2567l10-4 9-5 9-8 6-9 4-8 2-9 -1-12 -4-8 -5-9 -9-9 -9-5 -11-5 -9-2 -12 0 -12 2 -9 4 -7 4 -8 6 -6 8 -5 9 -2 8 -1 9 4 14 6 9 5 6 8 7 9 5 9 3 9 1 9 0 11-2M1450 2764l-9 1 -12 0 -12-3 -9-4 -10-6 -8-7 -6-7 -5-9 -2-9 0-5 1-9 4-9 7-8 7-7 9-6 12-6 12-3 12 0 9 1 12 3 12 7 9 8 6 8 5 9 2 9 -1 11 -2 9 -6 9 -7 8 -9 7 -9 5 -12 3M1746 2732l7-6 3-9 -2-8 -4-6 -10-5 -9-1 -9 3 -6 5 -4 7 0 5 1 6 5 6 4 3 9 3 6-1 9-2M1740 2957l10-3 11-5 8-6 7-8 6-10 2-8 1-9 -2-9 -4-8 -6-9 -6-6 -9-6 -9-4 -12-3 -12 0 -9 1 -9 3 -9 5 -8 7 -7 8 -4 7 -3 8 -1 9 1 9 3 8 6 9 5 6 8 6 9 5 12 3 9 1 12-1M1967 3081l10-2 9-3 8-6 5-6 4-9 4-11 4-32 1-26 0-32 -10-141 -2-101 1-87 10-133 1-60 -2-26 -4-21 -4-11 -7-11 -9-7 -12-4 -15-2 -21-1 -15 2 -15 3 -11 5 -6 6 -6 9 -3 8 -4 15 -3 17 -1 23 0 26 13 171 2 89 -2 74 -12 160 -1 41 2 26 4 20 5 14 9 12 11 7 18 4 21 2 23-2M1542 2458l8-9 7-15 4-17 0-14 -4-12 -5-9 -9-8 -12-5 -15-4 -21-1 -93 4 -18 2 -15 4 -9 5 -7 6 -6 12 -2 14 1 18 3 11 5 5 3 2 6 1 9-1 42-13 12-2 12 0 12 2 12 3 63 22 9 1 8-2M1739 2564l10-3 9-4 9-7 5-6 3-6 4-8 0-9 -1-9 -3-8 -6-9 -8-7 -8-4 -10-4 -9-2 -12 1 -9 1 -15 8 -6 5 -6 8 -3 6 -2 8 -1 9 2 9 4 8 4 6 6 6 8 6 9 4 9 2 17-1M1332 2547l2-3 2-6 1-20 -1-8 -2-6 -1-2 -3-2 -3 3 -3 6 -2 18 1 11 3 6 4 4 2-1M1544 2868l5-2 4-4 8-11 5-15 2-20 -1-23 -8-47 -1-29 1-28 8-52 1-24 -1-11 -3-12 -3-9 -5-8 -7-7 -6-2 -6 0 -9 2 -18 9 -39 29 -12 5 -12 2 -12 0 -15-2 -54-16 -12 0 -6 3 -6 9 -3 11 -2 18 -1 20 0 20 4 41 -4 49 0 26 3 26 3 10 3 7 6 5 6 2 6-1 12-2 33-11 15-3 15-2 15 1 12 4 9 4 33 25 15 9 12 4 10 0M1447 2770l-12 0 -12-2 -12-3 -12-7 -13-9 -8-8 -6-9 -3-9 -1-8 2-9 4-9 7-8 9-9 9-6 12-7 12-3 12-2 12 0 12 3 12 6 12 8 8 10 6 8 4 12 1 8 -2 12 -5 9 -6 8 -9 9 -12 8 -12 5 -9 2M1739 2729l6-3 4-6 1-5 -2-6 -5-4 -6-2 -9 0 -5 3 -4 4 -1 5 0 5 2 3 3 3 5 3 6 1 5-1M1746 2951l9-4 7-4 7-6 6-9 3-8 1-9 0-9 -4-8 -5-8 -6-7 -9-6 -9-3 -9-3 -12 0 -9 2 -9 3 -7 4 -7 6 -5 6 -5 9 -2 8 -1 9 2 8 3 6 4 8 6 6 6 4 9 4 9 3 9 1 9-1 9-2M1331 2931l2-1 3-8 1-17 -2-14 -2-6 -3-1 -3 2 -3 6 -2 16 2 15 3 6 3 3 1-1M1513 3067l18-4 12-5 9-8 4-6 3-9 2-9 0-8 -3-18 -5-11 -4-8 -3-4 -6-4 -9-1 -9 2 -57 20 -24 6 -12 0 -12-1 -39-12 -12-3 -6 1 -6 2 -3 3 -3 5 -2 8 -1 12 0 11 2 9 7 12 5 5 7 5 14 4 16 2 48 2 45 3 24-1M1972 3078l9-2 8-6 6-6 4-6 3-8 3-12 4-32 1-29 -2-34 -10-139 -2-89 2-90 10-133 2-34 -1-29 -2-21 -3-20 -5-14 -6-9 -10-7 -11-4 -16-3 -18 0 -15 2 -12 3 -9 4 -9 8 -6 9 -4 11 -3 15 -2 17 -2 26 1 26 14 159 1 37 1 52 -2 75 -13 153 -2 26 1 24 2 26 4 20 6 14 4 6 6 6 12 6 18 4 24 1 19-3M1535 2449l8-6 8-11 4-12 1-14 -3-12 -7-11 -9-6 -12-5 -15-3 -21 0 -51 7 -36 2 -14 2 -10 2 -9 5 -7 7 -4 9 -1 11 2 9 4 6 6 4 12 0 36-8 18-1 15 3 39 15 21 6 15 3 10-2M1744 2559l8-4 8-5 6-6 4-7 3-7 1-9 -1-9 -2-5 -6-9 -6-6 -7-4 -9-4 -9-1 -9-1 -9 2 -9 4 -12 9 -5 7 -3 6 -1 5 -1 9 1 6 3 8 5 6 5 6 14 8 15 3 16-2M1537 2862l9-3 6-4 3-5 7-14 3-17 -2-24 -10-46 -3-26 0-17 1-15 11-49 3-20 -1-11 -2-12 -2-9 -5-9 -6-6 -6-4 -9-1 -9 2 -18 10 -36 28 -9 5 -12 3 -12 1 -12-1 -51-13 -9 0 -9 4 -6 7 -3 9 -4 23 1 15 1 11 4 12 4 6 3 1 6-1 27-20 21-11 18-5 9-1 9 1 9 2 12 5 12 8 11 9 7 9 7 11 3 9 1 8 -1 9 -4 9 -6 8 -7 9 -11 9 -12 8 -12 5 -9 2 -9 1 -9-1 -18-5 -21-11 -27-20 -6-1 -3 1 -3 4 -4 11 -3 23 2 23 3 9 4 9 7 6 6 2 6 0 12-2 42-11 15-1 12 2 9 2 12 7 29 23 13 9 12 5 9 1M1739 2720l2-3 0-2 -2-3 -5-2 -6 2 -2 3 0 2 2 3 6 2 5-2M1740 2948l9-3 9-5 7-6 4-6 3-6 2-8 0-9 -2-6 -4-8 -5-6 -7-6 -7-4 -9-3 -9-1 -9 1 -9 2 -14 8 -9 12 -3 5 -2 9 1 9 1 5 3 6 5 7 12 9 15 5 9 1 9-2M1519 3061l15-4 11-7 6-9 4-12 0-14 -4-15 -8-12 -9-5 -9-2 -15 3 -21 6 -39 15 -15 3 -18-1 -33-7 -12-1 -6 1 -3 3 -3 4 -2 5 -1 12 4 11 8 10 12 6 15 3 42 2 48 6 18 1 15-2M1963 3078l11-2 7-3 8-6 4-6 5-9 4-11 4-32 1-26 -1-32 -11-135 -2-47 -1-57 2-90 12-127 1-58 -1-23 -4-20 -4-14 -7-12 -8-7 -12-6 -15-2 -15-1 -15 2 -12 3 -9 4 -8 7 -6 9 -5 11 -3 15 -3 17 -1 29 0 29 6 63 9 90 2 40 0 52 -2 75 -13 133 -2 35 0 26 2 26 4 20 5 14 7 12 11 9 15 5 21 2 19-2M1525 2443l6-1 6-3 7-7 5-12 2-12 -3-11 -5-9 -9-7 -12-5 -21-2 -12 0 -15 3 -48 14 -24 3 -9 3 -6 3 -4 6 1 3 2 2 4 1 27-3 12 1 12 5 27 14 21 8 21 6 15 0M1737 2556l9-3 6-3 7-6 5-6 4-11 1-9 -2-6 -4-8 -5-6 -12-8 -15-3 -15 2 -12 6 -9 10 -3 5 -2 8 1 12 6 11 10 9 6 3 9 3 15 0M1535 2856l11-4 7-7 5-12 3-14 0-15 -3-14 -17-52 -5-21 2-14 18-52 5-20 0-15 -1-11 -4-12 -4-7 -6-6 -9-4 -9 0 -9 3 -18 11 -33 30 -12 7 -12 4 -6 1 -9-2 -30-9 -15-3 -9 1 -9 3 -7 9 -3 14 1 15 3 6 3 3 6 2 6-2 36-17 15-6 12-2 9 1 12 5 12 7 15 11 13 12 8 9 9 11 4 9 1 8 -2 9 -5 9 -7 8 -11 12 -13 11 -15 11 -15 8 -9 3 -9 0 -12-3 -48-22 -6-2 -6 2 -3 3 -3 6 -1 12 2 11 5 12 3 3 6 3 9 1 15-3 39-11 6 0 9 2 12 6 9 6 27 25 12 9 15 7 10 1M1744 2943l8-4 6-5 5-6 3-6 2-5 1-9 -2-7 -3-7 -5-6 -7-6 -6-3 -9-3 -15 0 -9 3 -6 3 -10 9 -6 11 -1 12 2 8 3 5 9 10 12 6 15 2 13-2M1506 3058l16-2 12-5 9-7 4-6 2-6 2-11 -2-9 -2-6 -7-10 -9-6 -6-1 -9 0 -21 4 -20 7 -34 17 -12 5 -12 1 -24-4 -6 1 -4 4 1 5 3 3 9 4 30 5 36 11 15 4 15 2 14 0M1968 3076l8-3 7-5 6-6 5-7 3-8 4-12 3-32 1-29 -1-34 -10-98 -3-38 -2-89 2-90 12-130 2-32 0-29 -2-23 -3-17 -4-12 -6-11 -9-9 -10-4 -15-4 -15 0 -15 2 -12 3 -9 5 -7 7 -5 9 -5 11 -3 15 -3 17 -1 29 1 32 4 51 12 96 1 37 1 52 -2 75 -14 130 -3 38 0 29 2 26 4 20 6 14 8 12 7 6 6 3 15 4 21 1 18-2M1521 2437l9-3 7-4 5-7 3-9 0-8 -2-9 -4-6 -8-6 -9-4 -9-2 -12-1 -12 1 -12 3 -10 3 -9 6 -5 6 -2 6 2 5 5 6 11 9 14 7 15 5 12 2 11 0M1741 2550l11-6 5-6 4-5 2-12 -3-11 -8-10 -12-7 -6-1 -9 0 -12 3 -9 7 -4 5 -3 5 -1 12 2 9 6 8 6 5 6 3 12 3 13-2M1530 2683l10-10 10-19 6-17 2-18 -3-17 -6-12 -3-4 -6-3 -9-2 -6 1 -9 3 -9 6 -10 8 -22 26 -5 9 -1 5 3 6 7 9 28 23 9 5 6 3 6-1 2-1M1537 2850l6-2 4-3 4-6 3-6 3-14 0-18 -5-19 -12-23 -9-10 -3-1 -6-1 -6 3 -9 5 -25 20 -10 12 -3 6 0 2 4 9 9 12 12 14 10 9 9 6 9 4 9 2 6-1M1736 2940l7-2 6-3 10-10 3-5 1-6 -1-12 -3-5 -4-6 -9-7 -12-3 -9 0 -6 1 -12 6 -7 9 -4 8 1 12 4 10 9 8 12 5 14 0M1517 3052l11-3 8-5 5-6 4-9 0-11 -3-9 -5-7 -9-6 -9-2 -9 1 -12 2 -12 4 -12 5 -9 6 -10 9 -3 5 -1 6 4 6 7 6 9 4 12 4 12 2 12 0 10-2M1959 3076l9-3 8-3 7-5 6-7 5-8 3-12 3-14 2-18 1-29 -1-34 -12-104 -3-38 -1-89 0-49 2-41 13-121 2-29 0-29 -1-23 -3-20 -4-15 -6-11 -8-9 -10-5 -12-3 -15-2 -12 1 -12 3 -9 4 -9 8 -6 9 -5 11 -4 15 -2 17 -2 29 1 34 5 49 12 96 2 40 1 52 -1 44 -2 31 -15 119 -2 37 -1 29 2 26 3 20 5 18 7 11 9 9 14 7 18 2 18 0M1521 2432l7-3 6-4 5-8 1-6 0-5 -2-6 -4-6 -6-6 -7-3 -8-2 -18 0 -9 2 -9 3 -6 4 -5 5 -2 6 2 8 5 6 8 6 10 5 12 3 12 2 8-1M1740 2544l10-6 6-8 1-6 0-6 -4-8 -7-8 -6-3 -6-2 -12 1 -9 4 -6 5 -4 8 -1 9 3 9 5 6 9 6 12 1 9-2M1522 2671l6-1 6-4 9-10 6-14 4-14 1-15 -5-14 -6-9 -9-4 -6 0 -9 2 -9 5 -6 5 -9 10 -6 8 -5 9 -2 9 0 5 2 6 9 12 8 6 9 5 6 3 6 0M1538 2845l8-6 6-12 2-14 -2-17 -6-15 -9-12 -9-7 -6-1 -6 0 -6 3 -9 5 -13 12 -5 9 -1 5 1 6 3 9 5 9 6 8 10 9 7 6 8 3 9 1 7-1M1737 2934l9-4 7-8 4-8 0-6 -1-6 -6-8 -10-6 -12-2 -9 1 -9 6 -6 7 -2 11 2 9 6 8 6 4 9 3 12-1M1505 3050l11-2 9-3 9-6 4-7 2-8 -1-9 -5-8 -9-5 -6-2 -9 0 -19 3 -16 9 -7 6 -3 6 -1 5 1 3 3 5 4 4 14 6 9 2 10 1M1964 3073l8-3 8-6 6-6 3-6 4-8 4-12 3-29 1-29 -2-34 -12-101 -3-38 -2-86 1-50 2-40 14-127 2-29 0-29 -2-23 -2-17 -5-15 -6-11 -9-9 -9-4 -12-3 -12-1 -12 1 -12 3 -9 5 -8 8 -6 8 -4 12 -4 14 -3 21 -1 29 1 34 5 43 13 96 3 37 0 52 0 44 -2 31 -3 29 -14 93 -2 37 -1 32 2 26 4 20 6 18 8 11 12 8 12 4 18 2 17-2M1521 2426l5-3 5-4 2-5 1-6 -2-8 -4-5 -6-4 -12-4 -15 1 -12 4 -6 5 -2 3 -2 6 2 5 5 6 6 4 9 4 9 2 9 0 8-1M1737 2538l6-3 6-8 0-9 -2-6 -6-5 -7-3 -9 0 -6 2 -5 4 -4 6 -1 8 2 6 5 5 6 4 6 1 9-2M1528 2660l9-7 6-8 6-14 1-12 -2-11 -4-9 -7-6 -9-2 -6 1 -6 3 -13 10 -9 14 -3 9 0 6 1 5 2 6 10 10 6 4 6 2 6 0 6-1M1538 2839l5-4 3-4 3-10 1-11 -3-15 -7-13 -9-8 -9-3 -9 1 -6 3 -6 4 -8 11 -2 8 2 12 8 14 12 12 12 5 6 0 7-2M1732 2928l8-2 6-6 3-6 0-6 -3-7 -6-6 -6-2 -9 0 -6 2 -6 4 -3 6 0 9 2 6 6 5 7 3 7 0M1515 3044l7-3 5-3 4-4 2-5 1-5 -1-6 -3-6 -5-4 -6-2 -6-1 -15 1 -14 6 -9 9 -2 5 2 6 2 3 6 5 6 3 9 2 9 0 8-1M1954 3073l11-3 8-3 7-6 6-7 5-10 3-12 4-29 1-31 -2-35 -12-98 -4-38 -2-37 0-49 0-50 3-40 3-35 11-89 3-29 0-26 -1-23 -2-17 -4-15 -6-13 -6-7 -9-7 -12-4 -15-1 -12 1 -12 4 -9 5 -7 8 -5 8 -5 12 -3 14 -3 18 -1 31 2 35 4 40 11 67 4 29 2 37 1 52 -1 44 -2 34 -4 29 -13 87 -3 34 -1 32 2 26 3 20 5 18 7 11 9 9 11 6 14 3 16 0M1519 2420l7-6 1-6 0-2 -2-6 -6-5 -9-3 -12 1 -10 4 -5 6 0 3 1 5 5 5 6 3 12 3 6 0 6-2M1736 2527l2-3 0-3 -1-3 -3-3 -6-1 -3 1 -3 3 -1 6 4 4 6 1 5-2M1527 2651l7-4 6-8 4-8 2-12 -2-8 -4-9 -6-5 -6-1 -9 2 -10 7 -8 11 -3 12 1 6 2 5 6 8 9 5 6 0 5-1M1537 2833l5-6 3-8 0-12 -2-10 -6-9 -6-5 -9-3 -9 1 -8 6 -5 8 -2 9 3 12 8 11 10 7 9 2 9-3M1734 2917l3-3 1-3 0-3 -2-3 -5-2 -3 0 -5 2 -2 6 1 4 3 2 3 1 6-1M1516 3038l8-6 3-6 0-5 -1-3 -7-6 -9-2 -9 1 -10 4 -7 6 -1 5 0 3 2 3 4 4 6 3 6 1 9 0 6-2M1960 3070l8-3 6-4 6-5 6-8 4-9 3-12 4-29 0-31 -2-35 -14-98 -3-35 -2-37 -1-49 1-50 2-37 4-35 12-89 3-32 0-29 -1-20 -2-17 -4-15 -6-11 -7-9 -9-6 -12-4 -12 0 -12 1 -10 3 -9 6 -8 8 -5 9 -4 12 -4 14 -2 18 -1 31 2 35 5 40 11 64 4 29 3 37 1 52 -1 44 -2 31 -4 32 -11 58 -4 29 -3 34 -1 32 2 26 3 20 6 18 7 11 10 9 12 5 15 2 16-1M1513 2414l4-3 1-3 0-2 -2-3 -3-3 -9-1 -5 1 -4 3 -1 3 0 2 4 4 6 3 9-1M1527 2642l7-4 3-4 3-7 1-8 -1-6 -3-6 -6-4 -6-1 -7 3 -7 6 -4 8 -1 9 1 6 6 7 6 2 8-1M1534 2827l5-6 1-5 0-9 -2-6 -4-7 -6-4 -6-2 -6 2 -6 4 -4 7 0 6 2 9 5 7 6 5 9 2 6-3M1512 3032l4-3 2-3 0-2 -1-3 -4-3 -6-1 -6 1 -5 3 -2 3 0 2 1 3 4 3 8 1 5-1M1963 3067l8-4 6-5 5-6 4-8 6-20 3-26 0-29 -2-35 -15-101 -4-35 -2-37 0-46 0-47 3-37 4-35 14-95 2-29 0-29 -1-20 -2-17 -5-15 -4-9 -6-8 -9-7 -12-4 -12-1 -12 2 -9 3 -9 6 -6 7 -7 11 -4 12 -3 14 -2 17 -1 32 2 35 5 37 12 64 5 29 3 37 1 49 -1 44 -3 34 -4 29 -12 61 -4 29 -3 34 -1 35 2 26 4 20 5 15 8 11 10 8 12 5 15 2 16-3M1529 2631l4-6 0-6 -2-6 -3-2 -3 0 -6 2 -3 3 -1 3 -1 6 2 4 3 3 6 1 4-2M1531 2819l2-3 0-6 -2-7 -6-4 -6 1 -3 3 -2 4 1 6 1 3 3 3 6 2 3 0 3-2M1955 3067l10-3 6-4 6-5 6-8 3-9 4-12 3-26 1-31 -3-38 -16-98 -5-38 -2-34 0-46 0-47 3-34 4-35 15-92 3-32 1-29 -1-20 -3-18 -4-14 -5-12 -7-8 -9-6 -9-3 -12-1 -12 2 -9 3 -9 7 -6 6 -5 9 -4 12 -3 14 -2 17 -1 32 2 38 6 37 13 61 4 29 4 37 1 49 -1 44 -3 34 -4 29 -13 59 -5 28 -3 35 -1 31 1 23 3 21 5 17 6 12 9 9 12 6 12 3 14-1M1959 3064l12-6 6-7 5-7 6-20 4-26 0-32 -3-38 -5-31 -14-73 -4-31 -2-35 -1-43 1-41 3-37 4-35 17-95 3-32 1-32 -1-17 -3-18 -3-11 -5-12 -7-8 -8-6 -9-4 -12-1 -12 2 -9 4 -7 5 -7 8 -4 9 -4 12 -4 14 -2 17 0 35 2 35 6 34 15 64 4 26 5 40 1 46 -1 38 -3 35 -5 31 -14 59 -5 28 -4 35 -1 34 1 23 3 21 6 17 6 12 9 8 12 6 12 2 15-2M1961 3061l7-4 5-5 8-11 6-20 3-26 0-35 -4-36 -6-35 -14-68 -6-37 -2-35 -1-34 1-35 3-35 5-34 19-99 5-37 0-32 -1-17 -2-18 -4-12 -5-11 -7-8 -6-4 -9-4 -12-1 -9 1 -9 4 -9 6 -6 7 -5 11 -4 11 -5 29 0 35 3 38 6 34 16 64 6 29 5 40 1 40 -1 35 -3 32 -6 32 -16 62 -6 30 -5 38 0 34 1 23 4 21 5 14 7 12 9 8 12 5 12 1 14-3M1947 2668l6-19 28-119 6-44 2-37 -1-17 -2-18 -4-14 -5-12 -7-8 -8-6 -9-3 -9-1 -12 2 -9 5 -9 8 -5 9 -4 12 -4 17 -2 20 -1 20 3 41 7 40 23 78 10 41 3 7 3 0 0-2M1954 3061l8-3 8-6 7-8 4-9 4-11 2-15 2-17 0-20 -4-41 -8-46 -27-114 -3-9 -3 0 -3 7 -13 50 -17 57 -5 23 -6 41 -2 40 2 20 2 18 5 14 5 12 8 9 9 6 12 3 13-1M1946 2628l1 0 3-4 6-13 9-28 10-36 5-26 4-26 2-23 1-23 -1-17 -2-18 -3-11 -5-12 -6-9 -7-5 -10-4 -9-1 -12 2 -9 6 -8 8 -5 9 -5 14 -3 15 -2 17 0 20 3 44 8 39 9 29 15 40 6 11 3 2 2 0M1957 3058l8-4 6-5 6-9 4-11 4-14 1-15 1-34 -5-46 -11-49 -9-32 -9-26 -6-9 -3 0 -3 2 -3 5 -9 21 -12 34 -8 31 -5 20 -3 23 -1 23 0 23 2 20 4 18 5 13 6 10 9 8 9 4 12 1 10-2M1945 2608l5-3 3-4 6-13 6-17 9-30 5-26 4-23 2-23 1-20 -1-17 -3-18 -3-11 -5-12 -6-8 -6-4 -9-4 -9-1 -9 2 -9 4 -8 8 -6 9 -4 11 -4 18 -2 17 0 20 1 23 2 21 4 20 5 20 9 26 9 20 6 10 3 3 4 2M1958 3055l7-4 6-6 5-7 4-12 3-14 2-14 0-35 -5-43 -12-50 -12-33 -6-10 -3-2 -3-1 -6 5 -9 16 -9 22 -9 29 -5 24 -3 23 -1 23 0 23 2 17 3 15 4 12 7 11 8 8 9 4 12 2 11-3M1945 2593l5-2 6-9 6-13 9-28 6-25 4-21 2-23 1-23 -1-17 -2-15 -3-11 -5-12 -5-8 -6-5 -9-4 -9-1 -9 2 -9 5 -8 8 -5 9 -4 11 -3 15 -2 17 -1 20 2 23 2 21 4 20 6 21 6 16 9 18 6 8 3 3 4 0M1950 3055l9-3 6-4 6-6 5-10 4-11 3-15 1-32 -1-20 -3-23 -5-23 -6-23 -7-22 -6-13 -6-9 -3-2 -3 0 -6 3 -9 13 -9 21 -6 18 -5 23 -4 20 -1 23 0 20 1 18 3 17 3 12 5 11 7 9 9 5 9 3 9 0M1945 2582l5-2 3-4 6-10 6-14 6-20 5-22 4-21 2-20 0-20 -2-29 -3-12 -4-11 -6-9 -7-6 -7-2 -9-1 -9 1 -8 5 -7 7 -4 8 -5 11 -3 15 -2 17 -1 17 1 21 2 20 4 20 5 18 6 16 9 17 6 7 3 2 4 1M1953 3052l7-2 7-6 6-9 3-9 3-11 3-15 0-31 -5-41 -9-39 -6-16 -6-13 -6-8 -6-2 -6 3 -9 12 -9 19 -6 18 -4 20 -3 21 -2 20 0 20 2 17 2 15 5 14 5 9 7 8 9 6 9 1 9-1M1949 2570l7-8 6-11 10-30 7-37 2-38 -3-29 -7-19 -6-8 -6-5 -6-3 -9-1 -9 2 -8 5 -7 8 -5 10 -4 11 -2 15 -2 34 1 20 3 21 5 20 6 17 7 15 6 8 6 4 3 1 5-2M1954 3050l6-3 6-6 5-7 4-10 5-24 0-31 -4-38 -9-37 -5-13 -6-11 -6-8 -6-2 -6 2 -9 11 -6 12 -7 20 -5 20 -3 21 -1 20 0 20 2 17 3 15 4 11 6 9 7 8 8 4 7 1 10-1M1949 2561l4-3 6-9 6-14 6-20 6-34 2-35 -3-26 -3-12 -3-8 -5-7 -6-5 -6-3 -9-2 -8 2 -7 4 -7 8 -5 9 -4 11 -3 15 -1 17 0 17 1 20 3 21 4 15 6 17 6 12 6 8 6 4 3 0 5-2M1955 3047l5-3 6-6 5-9 3-8 4-23 1-32 -5-36 -9-33 -9-19 -6-7 -6-2 -6 2 -9 10 -6 12 -6 17 -4 15 -3 21 -1 20 0 20 1 14 3 15 4 11 6 10 6 7 9 4 9 2 8-2M1950 2553l6-7 6-12 9-27 5-32 1-32 -2-23 -4-12 -3-7 -6-8 -6-4 -6-3 -6 0 -8 2 -7 4 -6 7 -5 9 -3 12 -3 14 -1 32 3 35 4 17 6 15 8 14 6 6 6 2 6-2M1955 3044l5-3 5-6 5-9 3-8 4-23 0-29 -4-32 -8-29 -9-19 -6-7 -6-2 -6 2 -6 6 -7 12 -7 17 -4 17 -2 17 -2 21 1 17 1 14 3 15 5 11 5 9 6 6 7 4 9 1 8-2M1947 2547l3-2 6-7 6-11 5-15 7-31 2-32 -2-23 -3-12 -3-8 -3-6 -6-6 -6-4 -9-1 -6 1 -7 4 -5 6 -6 10 -3 10 -3 12 -2 31 3 32 4 15 4 13 6 13 6 7 6 4 6 0M1955 3041l4-3 6-7 4-7 3-9 4-23 -1-26 -4-31 -8-27 -4-9 -6-9 -3-3 -6-3 -6 2 -6 6 -6 10 -6 15 -4 14 -2 17 -2 21 1 17 1 14 3 14 4 10 5 9 6 6 9 4 6 0 8-2M1950 2538l3-3 6-9 9-25 5-29 1-28 -3-23 -6-16 -3-5 -6-5 -6-3 -6 0 -6 1 -6 4 -6 6 -5 11 -4 12 -2 11 -1 29 4 32 8 25 6 10 6 6 6 1 6-2M1955 3038l4-3 6-8 6-15 3-20 0-26 -5-29 -7-24 -9-16 -3-3 -6-2 -6 1 -6 6 -6 10 -5 13 -4 17 -2 15 -1 32 5 26 3 9 5 8 5 6 9 5 6 0 8-2M1948 2533l5-5 3-4 6-12 3-9 6-28 1-29 -2-20 -6-18 -3-5 -5-5 -6-3 -6 0 -6 1 -6 4 -4 6 -5 8 -4 12 -2 11 -1 26 3 29 7 23 9 14 6 4 7 0M1954 3035l5-4 4-5 6-14 3-20 0-23 -4-26 -6-23 -4-9 -5-7 -3-3 -6-3 -6 2 -6 6 -6 11 -3 8 -3 12 -3 17 -1 32 4 24 4 11 5 8 6 5 6 3 6 0 7-2M1950 2524l6-7 3-6 7-19 4-26 0-23 -2-18 -6-16 -3-4 -6-5 -9-2 -6 1 -6 5 -5 7 -4 9 -4 20 -1 26 4 26 7 22 6 8 6 4 6 0 3-2M1953 3032l6-5 3-4 6-14 2-20 0-20 -4-26 -6-21 -7-11 -3-3 -6-3 -6 2 -6 6 -8 18 -5 26 -1 29 4 23 7 15 6 7 6 3 6 0 6-2M1949 2518l7-8 7-18 5-23 1-23 -2-17 -5-15 -4-6 -5-5 -3-1 -6-1 -6 2 -3 3 -6 6 -3 8 -5 20 -1 23 3 25 6 19 4 5 5 6 6 2 5-2M1952 3029l7-6 6-13 3-18 0-20 -3-25 -6-19 -6-10 -3-3 -6-3 -6 2 -3 3 -6 8 -3 8 -5 24 -1 26 3 21 3 9 4 8 5 6 6 3 6 1 5-2M1947 2512l6-5 3-4 6-16 4-21 1-20 -3-17 -5-15 -6-6 -4-2 -5-1 -6 2 -3 3 -4 4 -4 9 -4 17 -1 20 3 24 6 17 4 7 3 3 6 2 3-1M1949 3026l4-2 4-3 6-12 3-14 1-21 -3-20 -5-18 -6-11 -3-4 -6-2 -6 2 -3 3 -7 13 -5 22 -1 24 3 20 6 15 4 4 6 4 8 0M1950 2504l6-9 5-14 3-18 0-17 -1-14 -4-12 -6-8 -3-2 -6-1 -6 2 -3 3 -6 12 -4 17 0 20 3 21 5 14 5 6 3 2 3 0 6-2M1952 3021l5-6 5-12 2-14 0-17 -2-18 -6-17 -6-8 -6-3 -6 2 -3 3 -6 13 -4 19 0 23 4 20 6 12 3 3 6 2 3 0 5-2M1947 2498l6-6 6-14 3-18 0-14 -2-14 -4-11 -6-6 -6-1 -6 3 -5 6 -2 6 -3 14 -1 17 2 18 6 14 6 6 3 1 3-1M1948 3018l5-3 6-11 3-15 0-14 -2-18 -4-11 -6-10 -6-3 -6 3 -3 4 -4 8 -4 18 0 17 2 15 3 8 3 6 6 5 3 1 4 0M1948 2489l5-6 3-8 3-15 0-14 -1-12 -4-8 -4-5 -6-2 -6 4 -6 11 -2 12 0 14 2 15 5 11 4 4 3 1 4-2M1949 3012l4-4 4-8 2-11 0-15 -2-14 -4-11 -3-5 -3-2 -3-1 -3 1 -3 2 -5 10 -3 15 0 14 2 14 4 9 5 6 3 1 5-1M1948 2481l4-6 3-9 1-8 0-12 -4-14 -2-4 -3-2 -3 0 -3 1 -3 4 -3 6 -1 9 -1 12 2 11 3 8 3 4 3 1 4-1M1951 3003l2-4 2-7 1-18 -4-17 -5-6 -3-1 -3 1 -3 4 -3 7 -2 12 1 12 2 12 5 7 3 1 3 0 4-3M1947 2469l3-6 2-14 -2-9 -3-4 -3-1 -3 3 -2 5 -1 6 0 9 3 10 3 2 3-1M1948 2995l2-3 2-6 -1-12 -2-8 -2-3 -3-1 -3 2 -3 8 0 14 4 9 2 2 3-1 1-1"/></g>
<g fill="none" stroke-width="3.40" stroke-linejoin="round" transform="scale(.5)"><path stroke="#f00" d="M1384 1972l-27 1 -21-1 -15-2 -13-3 -9-5 -6-5 -5-8 -3-12 0-15 8-38 1-20 -3-24 -12-73 -2-26 1-21 2-14 4-19 18-60 10-24 0-3 -11-29 -18-59 -3-15 -2-14 -1-21 2-26 12-73 3-24 -1-20 -8-38 1-18 4-12 9-10 6-3 10-3 21-4 30-1 36 2 91 7 36 5 13 3 12 4 9 6 5 6 4 9 1 9 -2 8 -5 8 -9 6 -12 3 -16 2 -60 3 -21 5 -15 5 -16 9 -12 13 -10 17 -7 20 -3 15 -1 17 1 15 3 12 6 12 7 8 10 11 23 19 10 11 4 9 1 18 3 20 -3 6 -4 3 -37 18 -15 9 -12 11 -4 6 0 3 7 9 12 10 15 8 34 17 6 6 1 6 -3 14 -1 18 -2 9 -9 11 -30 27 -13 14 -5 9 -3 12 -2 12 0 14 4 24 7 20 11 18 8 9 6 5 19 9 21 6 24 3 52 2 18 4 9 5 6 7 3 8 0 12 -4 9 -8 8 -12 6 -16 4 -42 6 -106 8M2011 1972l-25 3 -33-1 -18-4 -6-2 -6-4 -5-6 -3-9 -14-56 -2-17 0-15 2-18 4-23 14-59 4-20 1-21 -2-23 -12-94 13-103 0-29 -4-32 -18-76 -2-21 0-17 2-15 14-56 5-11 6-6 6-3 12-3 15-2 21-1 22 1 15 3 8 5 6 6 4 8 3 14 2 19 1 32 0 41 -2 41 -5 91 -1 161 1 76 7 106 -1 76 -2 32 -6 18 -7 8 -5 3 -9 3M1720 1486l-6 1 -9 0 -36-10 -34-4 -11-5 -8-9 -6-14 -4-18 -1-20 1-24 3-17 4-12 7-11 9-7 19-9 24-5 24-1 24 1 18 5 15 7 13 10 9 13 10 20 5 21 0 20 -2 12 -4 9 -9 15 -12 11 -22 13 -21 8M1520 1525l-12 0 -6-2 -7-5 -3-6 -1-6 3-6 3-3 10-5 10-2 11 2 8 5 3 6 -2 9 -8 9 -9 4M1741 1624l-12 1 -12 0 -12-1 -12-3 -12-6 -6-6 -2-6 1-6 7-8 9-5 12-4 15-2 15 0 15 3 12 4 10 6 6 9 0 3 -3 6 -6 5 -7 4 -18 6M1526 1712l-6 1 -9 0 -9-4 -5-3 -3-3 -3-6 1-6 3-6 7-5 6-2 6 0 9 1 9 6 5 6 2 9 -3 6 -3 2 -7 4M1714 1882l-15 0 -18 0 -18-3 -15-3 -10-4 -10-5 -7-6 -6-9 -5-12 -4-17 -1-21 1-20 2-18 5-15 5-8 8-8 12-4 34-4 33-9 12 0 18 6 21 12 16 12 9 12 5 9 2 9 2 12 0 11 -1 12 -3 12 -8 20 -11 15 -15 12 -17 7 -21 5M2002 1966l-22 3 -21-2 -16-4 -11-6 -8-11 -7-17 -11-33 -3-23 0-18 3-18 6-23 18-62 3-20 1-21 -8-108 8-100 0-26 -6-32 -16-56 -6-23 -3-21 0-20 3-15 5-18 10-29 6-12 8-7 8-4 13-4 15-1 19 0 15 2 9 4 9 7 6 9 4 12 3 17 2 24 0 38 -2 35 -3 29 -8 50 -2 27 -2 88 1 131 3 30 9 55 3 30 1 38 0 38 -4 29 -3 12 -4 9 -4 6 -6 5 -6 4 -9 2M1357 1589l-9 2 -9-3 -8-6 -7-8 -9-16 -16-33 -7-19 -4-14 -2-24 1-35 10-73 2-21 -1-20 -7-38 1-12 3-9 5-6 5-5 15-6 19-4 27-2 39 2 88 10 27 5 19 7 9 6 4 8 0 9 -4 5 -4 3 -8 5 -10 2 -60 8 -15 3 -15 5 -12 5 -13 9 -9 10 -8 12 -9 20 -5 21 -1 20 2 21 4 12 7 11 33 36 4 8 1 9 -13 37 -6 10 -7 6 -13 9 -22 12 -12 6M1714 1480l-18-2 -40-10 -12-4 -7-5 -6-5 -8-15 -4-15 -2-17 1-18 4-18 5-11 9-12 11-9 13-6 21-5 21-2 18 1 18 5 12 6 13 10 11 15 6 14 5 18 1 17 -3 18 -7 15 -10 12 -16 10 -18 9 -18 4M1729 1618l-15-1 -9-2 -6-3 -6-6 -2-3 2-6 6-6 6-3 9-2 12-1 9 1 11 2 7 4 7 5 1 3 0 3 -2 3 -6 5 -12 5 -12 2M1408 1963l-27 3 -21 0 -21-2 -15-2 -12-5 -10-6 -7-8 -3-12 0-14 6-33 1-20 -2-21 -10-73 -1-35 2-21 2-12 5-14 23-50 6-9 6-8 6-5 9-3 9 0 12 5 29 17 16 12 6 10 13 37 -1 9 -4 8 -33 36 -7 11 -5 15 -1 20 2 24 7 23 11 21 8 9 7 7 10 6 12 5 27 8 52 6 15 3 15 6 5 6 2 5 -1 9 -5 6 -8 6 -15 5 -33 7 -82 8M1720 1876l-15 1 -15 0 -15-3 -12-3 -12-5 -10-6 -8-8 -6-9 -5-11 -4-15 -1-15 1-17 3-15 4-12 7-10 9-7 13-5 42-11 12-2 9 0 18 5 18 9 16 12 9 12 4 9 2 9 2 17 -3 21 -6 17 -11 18 -13 11 -15 8 -18 5M1996 1961l-19 2 -18-2 -15-6 -9-7 -9-13 -11-24 -6-21 -2-17 0-18 4-21 8-26 17-47 6-20 4-21 2-20 -5-97 4-94 -1-26 -6-29 -20-55 -8-28 -5-26 0-20 3-15 5-18 9-20 8-14 7-7 10-6 13-3 12-1 16 0 12 3 12 6 7 7 5 9 5 15 3 17 1 24 0 35 -3 32 -5 26 -13 50 -4 27 -1 29 -1 50 0 96 2 39 4 29 13 53 5 29 3 38 0 38 -4 29 -4 12 -4 9 -4 6 -7 6 -7 3 -9 3M1360 1562l-9-1 -6-2 -9-7 -9-9 -12-16 -10-15 -6-14 -3-12 -2-21 1-41 9-85 -1-17 -6-38 1-9 3-9 8-9 6-4 9-4 18-4 24-2 36 2 72 9 28 6 18 6 8 6 2 6 -2 6 -5 4 -15 6 -51 9 -27 9 -14 7 -11 8 -8 9 -8 12 -8 21 -6 20 -2 21 1 20 3 12 6 12 7 8 23 27 3 8 0 6 -5 12 -24 33 -12 9 -9 4 -6 1M1714 1474l-12 0 -12-2 -22-7 -14-6 -8-5 -8-9 -5-12 -4-12 -2-14 2-18 4-15 6-11 7-9 11-9 12-7 15-4 18-3 15 1 15 3 15 7 12 9 9 12 7 11 5 15 2 15 -1 14 -4 15 -7 12 -11 11 -12 8 -18 7 -15 3M1738 1606l-9 2 -9 0 -6-3 -1-2 0-3 3-3 7-2 12 1 4 1 4 3 0 3 -5 3M1405 1958l-24 2 -21 0 -18-2 -15-3 -12-5 -9-7 -6-9 -2-9 0-11 5-30 1-17 -1-18 -8-70 -1-41 2-21 3-11 5-12 17-26 9-11 9-9 6-4 9-3 6 0 9 2 9 5 7 5 8 10 16 22 5 9 2 6 0 6 -3 8 -23 27 -9 11 -5 12 -2 12 -1 20 4 24 7 23 9 18 6 9 9 8 9 7 13 6 27 9 56 11 12 6 5 5 0 6 -6 6 -10 6 -10 3 -30 6 -69 9M1726 1870l-12 1 -15 1 -14-2 -13-4 -11-5 -9-6 -9-9 -6-9 -5-11 -4-15 -1-15 2-11 4-15 5-12 8-9 8-5 14-6 25-7 15-2 12 1 18 5 15 8 12 9 9 12 6 15 2 17 -2 18 -5 15 -9 14 -10 12 -15 9 -15 6M1993 1955l-16 2 -15-2 -12-5 -12-9 -11-16 -9-20 -5-18 -2-17 2-27 9-29 10-25 25-51 10-24 6-26 1-23 -3-62 3-59 0-17 -2-15 -4-20 -7-18 -29-60 -12-31 -5-17 -3-15 -1-15 0-11 3-15 5-15 8-17 8-13 9-9 9-5 12-3 12-2 16 2 10 3 9 6 8 9 6 12 3 12 3 17 1 20 -2 39 -6 35 -8 26 -26 65 -6 20 -3 21 0 23 1 47 -1 56 2 29 4 15 6 17 20 48 10 28 6 30 3 35 -2 38 -2 15 -5 14 -4 9 -8 9 -7 5 -12 4M1366 1533l-9 1 -9-1 -9-4 -9-6 -9-9 -6-8 -6-11 -3-9 -2-18 -1-50 7-82 -1-14 -5-33 0-8 3-9 8-10 12-7 18-5 21-1 30 1 40 5 41 8 18 6 8 6 1 3 -1 3 -3 3 -13 5 -48 14 -22 9 -10 7 -10 8 -7 9 -7 12 -8 21 -5 20 -3 21 1 20 2 12 4 9 8 11 19 24 3 6 0 5 -3 9 -8 10 -15 12 -12 5M1717 1469l-12 0 -15-3 -15-5 -12-6 -9-6 -7-8 -5-11 -4-12 -1-11 1-15 4-15 6-11 9-10 10-8 11-6 15-4 15-1 15 1 12 3 12 7 11 9 9 12 5 11 4 15 1 15 -1 11 -4 12 -6 11 -10 9 -12 7 -12 5 -15 4M1405 1952l-39 2 -15-1 -15-2 -12-4 -9-6 -7-7 -3-9 -1-14 5-30 1-14 -7-82 1-47 1-18 6-17 10-14 15-13 6-4 9-3 9 0 6 1 15 7 15 13 5 7 3 6 0 5 -3 9 -19 24 -8 11 -4 12 -3 12 0 20 4 24 7 23 8 18 6 9 7 8 18 13 25 10 53 16 5 2 3 3 1 3 -1 3 -4 4 -6 3 -12 4 -34 7 -42 6M1726 1864l-12 2 -15 0 -12-2 -12-5 -9-5 -10-8 -8-9 -5-8 -4-12 -2-12 0-14 3-12 4-12 7-9 9-9 10-5 17-6 15-3 12-1 15 3 15 6 12 7 10 9 6 11 4 15 1 14 -2 15 -5 15 -7 12 -11 11 -14 8 -12 4M1369 1515l-9 2 -9 0 -9-3 -6-3 -6-5 -6-6 -5-8 -3-9 -2-12 -2-61 5-74 -1-14 -6-30 1-8 1-6 6-9 12-8 12-4 18-3 21 0 27 3 32 6 21 6 10 6 2 3 -1 3 -9 5 -46 20 -18 11 -8 8 -7 8 -8 12 -5 12 -6 20 -4 21 -2 20 1 15 2 9 3 9 5 8 19 24 2 6 1 6 -2 5 -5 6 -7 5 -9 4M1983 1454l-9 0 -9-5 -12-14 -12-18 -10-19 -9-21 -5-20 -2-18 1-17 3-15 7-17 9-15 9-10 9-7 12-4 12-2 13 1 12 4 9 7 6 7 5 10 4 12 3 17 1 17 -1 24 -2 20 -3 18 -6 18 -7 16 -9 15 -9 11 -10 5M1723 1463l-12 1 -12-1 -13-4 -14-5 -8-6 -8-9 -5-9 -4-12 -2-11 1-12 3-12 6-12 6-8 10-9 10-6 12-4 12-2 12 0 12 3 12 5 10 7 8 9 7 11 5 12 2 12 0 11 -2 12 -6 12 -6 9 -12 9 -12 5 -12 4M1378 1949l-27-1 -12-3 -9-3 -9-5 -6-6 -3-6 -2-8 1-9 5-27 1-14 -5-74 3-70 5-15 10-11 12-8 12-3 12 1 12 5 10 8 4 8 -1 6 -2 6 -19 24 -5 8 -3 9 -2 12 -1 18 3 23 6 23 8 21 6 9 6 9 14 12 22 12 39 17 9 5 1 3 -2 3 -4 3 -22 8 -37 7 -30 3M1711 1861l-15-2 -12-3 -12-7 -8-6 -8-9 -6-11 -4-12 -1-12 1-11 4-12 6-12 7-7 9-8 12-5 15-4 12-1 12 1 12 4 12 5 9 7 7 8 6 9 3 12 1 11 -1 14 -4 13 -7 11 -7 9 -10 8 -9 5 -12 4 -12 1M1993 1949l-13 2 -15-2 -12-4 -10-8 -11-13 -8-16 -7-18 -2-14 0-18 3-18 5-17 9-21 12-21 12-17 12-12 9-4 6 1 10 5 9 11 9 15 6 13 6 18 4 18 2 20 1 21 -1 20 -3 18 -3 12 -6 11 -6 8 -9 7 -9 3M1366 1501l-12 2 -6-1 -6-3 -8-7 -4-6 -1-6 -1-12 2-26 -4-30 -2-20 2-56 -2-11 -6-27 0-9 2-8 3-6 6-6 7-4 9-3 12-2 27 0 23 3 23 6 12 6 2 3 0 3 -5 5 -37 22 -18 14 -8 8 -6 9 -9 21 -11 41 -4 20 -1 12 1 9 4 9 22 26 4 9 1 6 -2 3 -3 3 -6 3M1983 1436l-9 0 -9-4 -9-7 -12-15 -11-18 -7-18 -5-17 -2-18 0-14 3-15 6-15 9-14 10-12 9-6 9-3 12-2 13 1 9 3 9 6 6 7 5 9 4 12 3 14 1 17 0 18 -2 18 -3 17 -5 16 -6 13 -9 14 -9 9 -10 4M1726 1457l-12 2 -12-1 -12-3 -9-4 -9-6 -7-6 -6-9 -3-9 -3-11 0-12 3-12 4-9 6-8 9-9 9-6 9-3 12-3 12 0 12 2 9 4 9 6 8 9 6 8 5 12 2 12 0 11 -2 12 -4 9 -7 9 -8 6 -9 5 -12 4M1384 1943l-24 0 -12-2 -9-2 -9-5 -6-5 -4-7 -2-5 0-12 6-27 2-11 -2-56 2-20 4-30 -2-26 1-12 3-9 4-6 9-5 9-3 9 1 6 2 6 5 2 6 -2 6 -3 6 -22 26 -4 9 -1 6 1 15 4 23 6 24 8 23 10 18 13 14 18 13 34 20 5 5 0 3 -2 3 -12 6 -23 6 -23 3M1714 1855l-12-1 -10-2 -11-5 -9-7 -8-8 -5-9 -4-9 -2-12 1-11 3-12 4-9 7-9 7-6 11-6 10-3 12-2 12 1 9 2 12 4 9 6 8 7 5 9 4 9 2 11 -1 12 -3 12 -5 12 -7 8 -9 8 -9 5 -9 3 -12 2M1993 1943l-13 2 -15-2 -12-5 -8-7 -10-11 -8-15 -5-15 -3-14 0-15 3-18 5-17 8-18 9-15 12-15 12-9 9-3 9 2 10 6 9 10 6 10 6 13 4 13 3 14 2 18 1 18 -1 17 -2 15 -4 15 -6 11 -6 6 -6 5 -9 4M1351 1341l-3 1 -3 0 -3-4 -14-34 -2-9 0-6 2-5 5-7 6-5 9-4 12-2 12-1 15 1 14 3 10 3 9 6 2 3 -1 3 -4 5 -38 27 -28 25M1990 1421l-10 3 -9-1 -12-7 -9-9 -9-12 -9-18 -6-17 -3-18 0-15 2-11 5-15 6-12 8-9 9-8 9-5 12-3 9 0 10 2 9 4 6 6 6 8 4 8 3 12 3 15 0 17 -1 18 -2 15 -4 14 -6 15 -6 10 -6 7 -9 6M1729 1451l-9 2 -12 0 -9-1 -9-3 -8-4 -7-6 -7-9 -4-9 -3-9 0-11 1-9 3-9 6-9 5-5 8-7 9-4 9-3 12-1 9 1 9 2 9 5 8 7 7 8 4 9 3 9 1 12 -1 11 -4 9 -5 9 -7 6 -9 6 -9 3M1717 1849l-12 0 -9-2 -9-4 -8-6 -6-5 -6-9 -4-9 -2-12 0-9 2-8 3-9 6-9 6-6 10-6 8-3 12-2 12 0 9 2 9 3 9 6 7 6 5 9 4 9 1 8 -1 12 -2 9 -4 9 -6 9 -7 7 -9 5 -9 4 -9 1M1993 1937l-13 2 -12-1 -12-5 -9-6 -9-11 -8-14 -4-12 -3-14 0-15 3-18 5-14 7-16 9-14 9-10 12-8 9-2 9 1 7 3 9 9 6 8 6 12 4 11 3 14 2 15 1 18 0 14 -3 15 -3 12 -4 8 -6 8 -6 6 -9 4M1384 1937l-21 0 -15-2 -12-6 -7-7 -3-8 1-12 12-31 3-6 3-4 3 0 3 1 24 22 38 27 6 6 2 2 1 3 -2 3 -6 4 -13 5 -17 3M1986 1413l-9 1 -9-2 -12-8 -8-9 -8-12 -7-14 -4-15 -2-15 0-14 3-12 5-12 6-10 9-10 8-6 10-4 9-2 9 1 10 3 6 4 6 6 6 9 3 9 3 12 1 12 0 14 -1 15 -3 15 -4 11 -5 12 -6 9 -6 6 -10 6M1360 1314l-6 0 -6-2 -7-8 -3-6 0-6 1-6 4-5 11-6 18-3 17 3 7 3 4 3 1 3 -1 2 -8 9 -17 12 -15 7M1720 1448l-9 0 -9-1 -9-4 -8-4 -6-6 -4-6 -5-9 -2-8 0-9 2-9 4-9 3-6 7-6 7-5 8-4 9-2 9 0 9 1 9 4 6 4 6 6 6 8 4 9 2 9 0 9 -2 8 -3 9 -5 6 -6 6 -8 5 -15 4M1714 1843l-9-1 -9-2 -9-5 -6-6 -6-6 -3-7 -3-8 -1-9 1-8 2-9 4-6 6-8 6-5 9-5 9-2 9-1 9 1 9 2 7 3 8 6 5 6 4 9 3 14 -1 9 -2 9 -4 9 -5 6 -6 5 -9 6 -9 2 -9 1M1993 1931l-10 3 -12-1 -12-4 -9-6 -8-9 -7-11 -5-13 -3-12 0-11 1-15 4-15 6-14 9-14 9-10 9-7 9-3 9 1 7 2 9 6 5 7 10 19 3 10 3 15 1 15 0 14 -1 12 -3 12 -3 9 -6 9 -6 6 -9 5M1387 1929l-12 1 -12 0 -9-2 -9-4 -5-5 -2-5 0-9 4-8 6-6 3-1 6-1 12 4 19 12 11 9 2 5 -1 3 -4 3 -9 4M1983 1405l-9 0 -9-3 -9-7 -6-6 -8-12 -5-11 -5-15 -1-12 0-12 2-11 5-12 5-9 7-8 9-7 9-4 9-1 9 0 7 3 9 5 5 6 5 9 3 9 3 20 -1 27 -3 13 -4 10 -5 11 -6 7 -6 6 -10 4M1720 1442l-15-1 -9-4 -6-3 -9-11 -3-6 -2-7 0-9 1-6 3-9 4-5 11-10 13-4 9-1 6 1 9 3 6 4 6 6 5 6 4 14 1 7 -2 8 -5 12 -6 6 -6 4 -6 3 -9 2M1726 1835l-6 2 -9 0 -9-2 -6-3 -12-9 -6-12 -2-6 0-9 1-8 3-6 3-6 6-6 13-7 15-2 15 3 6 4 6 5 8 12 1 6 1 8 -4 15 -3 6 -6 7 -6 5 -9 3M1980 1928l-9 0 -9-3 -8-6 -7-6 -6-8 -6-12 -3-12 -1-11 0-12 3-12 4-12 6-12 6-8 9-9 9-5 9-2 9 1 7 3 6 6 7 9 5 10 4 13 2 12 1 15 -2 23 -3 12 -4 9 -7 8 -6 5 -6 3 -10 1M1986 1396l-6 1 -9-1 -9-4 -7-6 -8-10 -6-10 -4-12 -2-12 0-12 1-8 3-9 5-11 6-8 9-8 6-3 9-3 9 0 7 2 6 3 6 5 3 5 5 9 3 9 2 12 0 11 -1 14 -6 21 -9 16 -6 5 -7 4M1729 1433l-12 3 -12-2 -11-7 -7-9 -3-11 1-12 3-6 4-6 10-7 12-3 12 2 6 3 6 4 7 10 3 12 -2 11 -3 6 -5 6 -9 6M1723 1829l-12 1 -12-5 -9-8 -6-12 0-12 5-11 9-9 10-5 12 0 12 3 9 8 6 12 0 11 -4 12 -8 9 -6 4 -6 2M1983 1923l-9 0 -9-3 -6-3 -7-6 -7-9 -5-9 -3-9 -2-11 0-12 2-12 4-12 6-10 6-8 9-8 9-4 6-1 9 1 7 4 6 5 4 7 8 17 4 24 -1 21 -3 11 -3 8 -5 7 -6 6 -7 4 -7 2M1980 1389l-6 0 -9-3 -6-4 -6-6 -6-10 -4-9 -3-9 -1-12 2-17 4-9 5-9 6-6 6-5 6-3 9-1 6 0 7 2 6 3 6 7 3 6 4 9 2 17 -1 21 -3 12 -4 8 -4 7 -6 6 -7 4 -6 1M1720 1427l-9 0 -7-3 -6-6 -5-8 0-9 3-9 6-6 9-4 9 0 9 3 7 7 4 9 0 9 -4 8 -7 6 -9 3M1723 1821l-9 1 -9-3 -6-5 -5-9 -1-9 3-8 6-8 9-4 9 0 9 3 6 5 4 7 1 8 -2 9 -6 8 -9 5M1983 1917l-6 0 -9-1 -9-5 -6-6 -6-7 -4-8 -2-9 -2-8 0-9 2-12 4-12 5-8 6-8 6-5 6-4 9-2 6 1 7 3 6 5 5 7 7 14 3 21 -1 20 -5 16 -3 5 -6 7 -6 3 -7 2M1983 1381l-6 1 -6-1 -7-4 -7-6 -4-5 -5-9 -4-18 0-9 1-8 7-15 10-10 6-4 9-2 6 1 7 2 9 8 6 11 3 17 -2 18 -4 15 -3 6 -6 7 -10 5M1720 1415l-5 0 -4-1 -3-3 -2-4 0-3 2-6 6-4 3 0 6 1 3 3 2 3 0 6 -1 3 -2 2 -5 3M1720 1809l-3 0 -5-1 -4-3 -1-3 -1-6 1-3 2-2 5-3 6 0 3 1 3 2 2 5 1 3 -3 6 -6 4M1983 1911l-6 1 -9-2 -6-4 -5-4 -5-6 -5-9 -3-14 0-9 1-9 6-15 5-7 6-6 6-4 6-2 6 0 6 2 10 7 7 13 4 18 0 17 -2 9 -3 9 -4 6 -5 5 -10 4M1977 1374l-6-1 -6-3 -9-9 -6-13 -1-15 1-11 6-12 9-9 6-2 6-1 9 1 7 4 3 4 6 12 2 14 -2 16 -6 14 -10 9 -9 2M1980 1905l-6 0 -6-2 -9-7 -8-12 -2-14 1-15 6-13 9-9 6-3 6-1 9 2 10 9 5 12 3 15 -2 14 -4 12 -8 9 -10 3M1980 1366l-9-1 -9-7 -6-10 -2-12 1-11 4-9 9-9 9-2 9 2 7 5 4 10 2 8 -1 12 -4 12 -7 9 -7 3M1986 1896l-9 2 -9-2 -9-9 -4-11 -1-12 4-12 7-10 9-5 9 1 7 4 6 10 2 9 1 12 -2 8 -4 10 -7 5M1983 1354l-6 2 -7-2 -5-6 -4-9 0-9 2-5 5-8 6-3 6 0 5 2 5 5 2 6 1 9 -2 6 -2 6 -6 6M1983 1888l-6 2 -6-2 -6-5 -3-7 -1-9 2-9 5-8 6-3 6 0 6 4 4 5 2 8 0 9 -1 5 -3 6 -5 4M1977 1338l-3-2 0-3 3-3 3 3 0 3 -3 2M1977 1873l-3-3 0-3 3-2 3 2 0 3 -3 3"/><path stroke="#00f" d="M1240 1972l11-3 6-3 4-3 4-5 3-9 13-53 3-20 0-15 -2-18 -4-23 -14-59 -4-20 -1-21 2-23 12-94 -13-103 0-29 4-32 18-76 2-18 0-18 -2-17 -14-56 -3-9 -4-5 -10-6 -15-4 -24-2 -25 1 -21 3 -6 3 -6 5 -3 5 -4 9 -4 30 -1 35 0 44 2 38 5 82 1 111 -1 123 -5 88 -2 38 0 41 1 35 2 19 3 14 4 8 8 8 12 4 18 2 28 1 22-3M1840 1972l28-4 10-3 6-3 5-4 4-6 4-9 1-9 -1-15 -7-38 -1-17 3-24 12-73 2-26 -1-21 -2-14 -4-19 -18-60 -10-24 0-3 11-29 18-59 3-15 2-14 1-21 -2-26 -12-73 -3-24 1-20 8-41 0-9 -1-9 -6-12 -4-5 -6-4 -10-4 -9-2 -24-2 -33-1 -39 3 -88 7 -21 3 -16 4 -9 3 -9 5 -6 5 -4 6 -2 9 0 9 3 8 5 6 7 5 12 3 16 2 60 3 21 5 15 5 16 9 11 12 10 15 8 20 3 15 1 18 -1 14 -3 15 -6 12 -7 8 -10 11 -23 19 -10 11 -4 9 -1 18 -3 20 3 6 4 3 37 18 15 9 12 11 4 6 0 3 -7 9 -12 10 -15 8 -34 17 -6 6 -1 6 3 14 1 18 2 9 9 11 30 27 13 14 5 9 3 12 2 12 0 11 -3 24 -8 23 -11 18 -8 9 -6 5 -19 9 -21 6 -24 3 -52 2 -18 4 -9 5 -6 7 -3 8 0 12 4 9 9 9 14 6 19 5 36 4 85 7 33 2 29-1M1482 1486l29-8 34-4 9-3 6-3 5-6 6-11 5-18 2-21 0-23 -3-20 -5-15 -6-9 -9-9 -12-6 -20-5 -27-4 -24 0 -21 4 -15 5 -16 11 -11 13 -9 17 -6 21 -1 20 3 21 8 15 7 8 9 9 25 14 12 5 9 3 9 0 7-1M1678 1524l9-5 4-7 1-6 -1-3 -5-6 -10-5 -10-2 -11 2 -8 5 -3 6 1 6 2 6 4 3 6 4 6 3 9 0 6-1M1480 1623l13-4 9-4 6-6 2-6 -1-6 -4-6 -8-6 -10-4 -12-2 -12-1 -12 0 -12 2 -12 4 -9 4 -7 6 -3 6 1 6 5 6 10 6 9 3 12 3 12 1 12 0 11-2M1676 1711l10-5 5-6 1-3 -1-6 -3-6 -7-5 -6-2 -6 0 -9 1 -10 6 -4 6 -2 6 1 6 2 3 7 5 6 2 9 0 7-2M1505 1881l24-4 19-6 12-8 8-11 7-18 3-26 -1-26 -4-24 -3-9 -5-8 -6-6 -8-4 -37-5 -36-10 -9 0 -9 2 -18 7 -18 11 -13 11 -9 11 -7 15 -2 15 0 14 3 18 7 17 8 15 9 10 13 9 15 6 15 4 21 1 21-1M1230 1966l10-3 8-4 6-5 5-8 16-44 4-15 1-11 0-18 -4-24 -5-23 -16-53 -6-32 0-26 8-100 -8-108 1-21 3-20 18-62 6-23 3-18 0-18 -2-17 -5-18 -11-32 -8-14 -9-7 -12-5 -15-2 -18-1 -13 2 -12 2 -9 5 -6 5 -4 6 -5 11 -3 13 -2 17 -1 38 1 44 3 33 9 55 3 32 0 147 0 50 -1 29 -11 73 -3 33 -1 32 0 32 2 26 4 18 5 12 7 9 12 7 15 3 22 0 18-2M1844 1588l6-4 6-6 12-20 21-46 5-15 2-11 1-21 -1-35 -11-88 0-20 7-41 -1-12 -4-10 -9-10 -16-7 -21-4 -27-1 -36 2 -91 10 -27 6 -19 7 -7 7 -4 9 3 8 8 8 10 4 9 2 57 7 27 6 12 6 13 7 9 9 8 10 9 18 7 23 2 24 -1 20 -5 15 -7 11 -7 9 -22 21 -6 9 -3 8 1 9 12 35 3 6 6 6 17 12 31 17 12 3 9-3M1477 1480l13-2 37-10 9-3 9-4 7-7 6-9 4-12 3-12 1-20 -2-18 -5-17 -7-12 -10-11 -12-7 -15-6 -16-3 -21-1 -18 2 -15 4 -14 7 -11 9 -11 15 -6 14 -5 18 -1 17 2 15 6 15 9 12 13 10 18 9 18 6 14 1M1463 1618l15-3 10-6 4-6 -2-6 -2-3 -7-4 -9-3 -9-2 -12 0 -12 3 -9 3 -4 3 -4 6 0 3 1 3 10 7 15 4 15 1M1851 1963l14-3 13-6 8-8 5-12 1-15 -7-35 -1-20 2-21 10-67 1-47 -2-18 -4-14 -10-26 -16-32 -7-13 -8-7 -9-6 -9 0 -9 2 -12 6 -28 17 -11 9 -6 10 -13 37 1 9 4 8 33 36 7 11 5 15 1 20 -2 24 -7 23 -9 18 -7 9 -9 9 -8 5 -12 6 -15 5 -15 4 -52 6 -17 3 -10 4 -6 5 -4 5 -1 6 4 9 10 8 16 6 18 4 33 5 82 8 33 1 25-3M1501 1876l19-5 16-7 11-9 9-12 6-14 4-21 0-20 -4-18 -4-12 -6-9 -7-7 -9-4 -55-14 -12-1 -12 2 -15 6 -17 10 -11 8 -9 12 -5 12 -3 15 0 14 4 18 5 14 8 14 10 10 12 9 15 6 15 3 18 1 17-1M1224 1960l10-2 8-5 6-5 6-8 8-15 8-20 4-15 2-14 0-21 -5-26 -8-25 -20-55 -6-29 -1-26 4-94 -5-97 2-20 4-21 6-20 17-47 8-26 4-21 0-18 -2-17 -5-16 -9-23 -9-16 -9-8 -9-5 -15-4 -15-1 -13 2 -12 3 -9 5 -6 5 -5 8 -4 12 -3 11 -2 18 -1 38 2 41 5 29 14 56 4 29 2 39 0 102 -1 47 -2 29 -3 24 -12 47 -5 26 -4 35 0 35 1 24 4 20 4 13 7 11 11 8 12 4 19 2 18-3M1827 1562l8-2 6-3 9-7 9-11 19-27 6-14 3-12 2-21 -1-41 -9-85 1-17 6-38 -1-9 -3-9 -8-9 -6-4 -9-4 -18-4 -24-2 -36 2 -72 9 -28 6 -18 6 -8 6 -2 6 2 6 5 4 15 6 51 9 27 9 14 7 11 8 8 9 8 12 8 21 6 20 2 21 -1 20 -3 12 -6 12 -7 8 -23 27 -3 8 0 6 2 6 5 9 16 22 8 10 7 5 7 4 8 3 7 0M1478 1474l15-2 22-7 14-6 8-5 8-9 7-15 3-15 0-14 -1-15 -5-15 -7-12 -11-11 -11-7 -15-6 -15-3 -18-1 -15 2 -12 4 -12 7 -12 10 -8 12 -7 14 -4 15 -1 15 2 14 4 12 7 11 10 9 12 8 15 6 15 4 12 0M1467 1606l3-3 0-3 -3-3 -4-2 -12 0 -7 2 -4 3 0 3 4 3 7 2 9 0 7-2M1845 1958l14-4 12-6 9-8 5-12 0-14 -5-33 -1-17 9-82 0-53 -2-15 -5-14 -6-14 -13-18 -12-15 -9-7 -9-4 -9-1 -6 1 -9 4 -12 9 -24 33 -5 12 0 6 3 8 23 27 7 8 6 12 3 12 1 20 -3 24 -7 23 -8 18 -6 9 -8 9 -9 7 -13 7 -12 5 -15 4 -59 12 -12 6 -3 2 -2 6 2 6 11 7 13 5 23 5 61 8 33 3 27 1 22-2M1498 1870l16-5 13-7 12-10 8-14 6-14 2-18 -1-17 -4-15 -5-12 -8-9 -8-5 -14-6 -22-7 -15-2 -15 1 -15 4 -12 5 -12 8 -10 9 -7 11 -4 12 -2 14 1 15 4 15 7 14 7 11 10 9 10 7 14 5 12 2 15 1 17-2M1221 1955l9-3 10-6 8-8 6-10 9-17 6-18 3-15 0-14 -3-24 -8-26 -10-25 -29-60 -7-18 -4-20 -2-15 0-17 3-59 -3-47 0-32 4-21 6-20 9-21 23-45 12-30 7-27 2-24 -1-14 -5-18 -9-21 -9-15 -9-9 -9-5 -12-3 -15-2 -13 2 -9 3 -9 5 -6 6 -6 9 -3 10 -4 14 -2 15 -1 23 1 24 2 20 4 21 9 29 25 62 8 29 2 26 -1 59 1 50 -1 23 -5 27 -9 26 -20 47 -10 32 -4 32 -2 38 2 24 4 17 4 13 8 11 10 8 12 4 16 2 15-2M1836 1533l14-8 14-13 9-15 5-17 1-18 1-47 -7-79 1-14 5-36 -1-8 -3-9 -9-9 -13-6 -18-4 -21-1 -33 2 -45 6 -30 6 -19 7 -7 5 -1 3 1 3 3 3 13 5 45 13 22 8 12 8 8 7 8 8 6 9 8 18 7 23 4 24 0 20 -3 12 -4 12 -8 11 -19 24 -3 9 0 5 3 6 5 7 9 8 9 7 15 6 9 0 7-1M1483 1468l14-3 16-6 10-5 10-9 7-12 4-12 2-14 -1-15 -4-15 -5-10 -9-10 -10-8 -12-7 -12-3 -15-2 -15 0 -12 3 -12 6 -12 9 -9 11 -7 12 -4 14 -1 15 1 11 3 12 4 9 7 9 11 8 13 7 12 4 12 2 14-1M1843 1952l13-4 12-7 7-7 4-12 0-11 -5-30 -1-14 7-76 -1-59 -1-12 -4-12 -6-11 -6-8 -9-9 -12-8 -9-3 -9 0 -9 2 -6 3 -15 10 -11 13 -3 9 0 5 3 6 19 24 8 11 4 12 3 12 0 20 -4 24 -7 23 -8 18 -6 9 -7 8 -18 13 -25 10 -53 16 -5 2 -3 3 -1 3 1 3 3 3 13 6 18 5 27 5 35 5 26 2 21 0 20-2M1496 1864l12-5 13-7 9-9 9-12 5-14 2-15 -1-14 -4-15 -6-12 -8-9 -10-6 -15-7 -15-4 -15-1 -12 1 -15 5 -12 6 -9 7 -8 8 -6 12 -3 12 -1 14 1 12 4 14 6 11 8 10 10 9 10 5 12 4 12 2 12 0 15-2M1210 1454l8-5 12-14 12-18 10-19 8-18 5-17 3-18 0-15 -2-14 -4-15 -8-17 -9-13 -9-9 -9-5 -12-4 -12-1 -13 2 -12 5 -8 7 -6 9 -5 11 -4 18 -2 18 0 20 2 24 4 20 6 21 7 16 9 15 12 13 10 4 7-1M1839 1515l11-6 9-9 6-11 3-12 3-70 -5-71 1-14 6-33 -1-8 -3-6 -7-9 -12-6 -15-4 -18-2 -24 1 -30 4 -32 7 -15 6 -4 3 -2 3 1 3 3 3 45 19 19 10 9 7 8 7 6 9 6 9 8 21 6 23 3 23 -1 18 -2 12 -3 9 -5 8 -19 24 -2 6 -1 6 2 5 5 6 13 8 15 3 13-2M1487 1462l12-3 12-5 8-6 8-9 6-12 4-12 1-14 -2-12 -4-12 -8-11 -8-9 -9-6 -11-5 -12-3 -15-1 -12 2 -12 4 -9 6 -9 8 -7 9 -6 12 -3 12 -1 15 2 11 4 12 6 9 8 7 9 6 12 5 12 3 12 1 12-2M1822 1949l22-4 15-6 6-5 4-6 3-6 1-8 -6-33 -1-14 5-74 -3-70 -5-15 -10-11 -12-8 -6-2 -9-1 -12 2 -12 6 -7 6 -4 8 1 6 2 6 19 24 5 8 3 9 2 12 1 18 -3 23 -6 23 -8 21 -6 9 -6 9 -14 12 -22 12 -39 17 -9 5 -1 3 2 3 2 2 8 4 25 7 43 7 32 1M1473 1861l14-2 12-3 12-7 8-6 8-9 6-11 4-12 1-12 -1-11 -4-12 -6-12 -7-7 -9-8 -12-5 -15-4 -12-1 -12 1 -12 4 -12 5 -9 7 -7 8 -6 9 -3 12 -1 11 1 14 4 13 7 11 7 9 10 8 9 5 12 4 13 1M1219 1949l11-4 9-7 7-7 8-12 7-14 5-15 2-14 0-15 -3-18 -4-17 -7-17 -9-18 -12-19 -12-15 -9-7 -9-2 -10 4 -12 13 -9 15 -9 21 -5 19 -3 20 -2 24 1 23 2 18 4 14 6 12 6 8 9 7 12 4 13 1 13-2M1209 1436l9-4 12-10 9-12 9-15 7-15 6-17 3-18 0-15 -2-14 -5-15 -6-13 -9-13 -9-8 -9-5 -9-3 -12-1 -13 2 -9 4 -9 7 -6 9 -5 12 -3 15 -2 18 0 17 2 21 3 17 5 16 6 13 9 14 9 9 10 4 9 0M1838 1500l6-3 5-5 4-6 2-9 -2-35 6-41 0-18 -2-44 2-14 6-30 0-9 -2-5 -6-9 -7-5 -9-4 -15-3 -18-1 -18 2 -18 3 -19 5 -12 6 -2 3 0 3 1 3 8 5 33 19 18 14 12 14 10 21 7 20 5 24 4 20 1 15 -2 9 -5 9 -22 26 -2 6 -1 6 5 6 9 4 9 1 9-3M1488 1456l11-4 9-5 9-8 7-9 3-9 3-11 0-12 -3-12 -4-9 -6-8 -9-9 -10-6 -11-4 -12-2 -12 0 -9 2 -9 4 -9 6 -9 10 -7 10 -3 9 -2 12 0 11 2 12 4 9 7 9 8 6 9 5 9 3 12 2 12 0 10-2M1826 1943l18-4 12-7 4-4 3-6 2-11 -8-44 2-56 -2-20 -4-30 2-26 -1-12 -3-9 -7-8 -9-5 -9-1 -9 2 -6 3 -3 3 -2 6 2 6 3 6 22 26 4 9 1 6 -1 15 -4 20 -5 24 -7 20 -10 21 -12 14 -18 14 -37 22 -5 5 0 3 2 3 5 3 20 7 31 5 29 0M1476 1855l11-2 12-4 9-6 9-9 6-8 5-12 2-9 0-12 -3-11 -4-9 -6-9 -9-8 -9-5 -12-5 -12-2 -12 1 -12 3 -9 3 -9 6 -8 7 -5 9 -4 9 -2 11 1 12 2 11 5 10 6 8 8 9 9 6 9 4 12 2 10 0M1218 1943l12-5 8-7 8-9 7-11 7-15 3-12 1-11 0-15 -3-15 -5-17 -8-18 -9-15 -9-12 -9-8 -9-5 -9-2 -10 3 -9 8 -9 11 -9 19 -5 19 -4 20 -1 21 1 20 2 15 4 15 6 11 6 7 9 6 9 3 13 1 12-2M1216 1421l8-5 9-9 9-12 6-12 6-14 4-15 2-15 0-12 -3-14 -4-12 -6-12 -8-9 -9-8 -9-5 -9-3 -12 0 -13 3 -8 5 -7 7 -6 10 -4 12 -2 15 -1 17 1 18 2 18 5 17 7 15 7 10 9 9 10 4 9 0 7-3M1840 1339l13-29 4-15 0-6 -2-5 -7-9 -7-4 -9-4 -12-1 -12-1 -12 1 -15 3 -12 5 -6 4 -2 3 1 3 2 2 6 6 34 24 28 25 3 1 3 0 2-3M1488 1451l8-4 9-6 8-8 5-9 3-9 1-8 -1-12 -2-9 -5-9 -7-8 -8-7 -9-4 -9-3 -12-1 -9 1 -9 2 -9 5 -8 7 -5 5 -5 10 -4 11 -1 9 1 11 2 9 5 8 5 7 7 5 9 5 9 3 12 1 9 0 10-2M1475 1849l9-1 11-5 7-4 8-7 6-9 4-9 2-9 0-12 -3-11 -4-9 -7-9 -6-5 -9-5 -9-3 -9-1 -12 0 -9 2 -10 3 -8 6 -7 6 -5 9 -4 9 -1 8 0 9 3 12 4 9 6 9 7 7 9 5 9 4 9 1 9 0M1218 1937l9-4 9-6 9-10 6-11 5-13 3-12 1-11 0-12 -3-15 -5-14 -7-15 -6-11 -9-11 -9-7 -9-5 -9-1 -10 3 -9 6 -9 12 -6 12 -5 17 -4 17 -1 21 0 17 3 15 4 14 6 11 6 6 9 6 10 3 12 0 9-2M1824 1937l11-2 9-4 7-6 5-8 1-9 -4-14 -9-23 -3-6 -3-4 -3 0 -3 1 -24 22 -38 27 -6 6 -2 2 -1 3 2 3 3 3 15 6 21 3 22 0M1213 1412l8-3 9-8 9-11 6-10 6-14 3-12 2-15 0-12 -2-11 -4-12 -7-12 -7-9 -9-7 -9-4 -9-3 -9 0 -10 3 -9 5 -6 7 -6 9 -4 11 -2 12 -1 14 0 18 3 18 4 13 6 13 6 9 6 6 10 6 9 1 7-2M1833 1313l5-3 3-4 4-11 -1-9 -3-4 -5-4 -13-5 -15 0 -14 2 -7 3 -4 3 -1 3 2 5 15 12 21 12 6 1 7-1M1475 1448l9-2 9-4 8-6 5-6 4-6 4-9 1-8 0-9 -3-9 -4-8 -5-7 -7-5 -6-4 -9-4 -9-1 -9 0 -9 2 -9 5 -6 4 -6 7 -5 8 -3 9 -1 9 0 8 3 9 3 6 6 8 6 5 6 4 9 3 9 1 9 0M1471 1843l10-1 9-4 6-4 7-5 5-7 4-8 3-9 0-9 -1-8 -4-9 -5-8 -6-6 -6-4 -9-4 -9-2 -9 0 -15 3 -9 5 -6 5 -6 8 -3 6 -3 9 0 8 1 9 3 9 5 8 6 7 6 4 9 5 9 2 8 0M1218 1931l9-4 9-7 6-8 6-10 4-9 3-12 1-11 0-12 -2-12 -5-14 -6-12 -7-11 -6-7 -9-8 -9-4 -9-1 -10 3 -9 6 -7 10 -6 12 -5 13 -3 16 -1 18 1 17 2 15 4 11 6 9 6 7 9 5 10 3 9 0 9-3M1829 1928l7-3 5-4 3-4 1-6 0-6 -4-8 -3-4 -6-3 -9-1 -12 6 -20 13 -8 9 -1 2 1 3 4 3 7 3 17 3 18-3M1213 1404l8-4 9-7 6-8 6-11 5-11 4-12 1-12 0-12 -2-11 -5-12 -5-9 -7-8 -6-5 -9-5 -9-2 -9 0 -10 2 -6 4 -6 6 -6 9 -4 11 -2 12 -1 14 1 15 2 15 4 11 4 9 5 9 6 6 10 6 9 1 7-1M1473 1442l14-5 7-4 6-6 3-6 4-9 0-5 0-9 -5-13 -10-11 -5-3 -9-4 -9-1 -6 0 -9 3 -6 2 -10 9 -4 6 -3 9 -2 15 2 8 3 6 5 6 6 5 6 4 9 3 13 0M1482 1834l8-4 6-4 8-12 2-6 1-9 0-8 -2-6 -8-12 -7-6 -6-3 -9-3 -9 0 -15 3 -6 4 -6 5 -8 12 -1 6 -1 8 4 15 3 6 6 7 12 7 6 2 9 1 13-3M1207 1928l8-1 9-4 8-6 7-8 6-10 4-9 3-12 0-11 -1-12 -3-12 -4-11 -7-12 -7-10 -9-7 -9-4 -6-1 -9 1 -7 3 -9 9 -5 9 -5 12 -3 11 -2 12 -1 15 1 14 2 12 3 9 5 9 5 6 9 6 10 2 7 0M1216 1395l8-5 6-6 6-8 6-10 3-10 2-11 1-12 -1-8 -2-9 -3-9 -6-9 -6-7 -6-5 -9-4 -9-2 -6 0 -10 3 -6 4 -6 7 -4 7 -3 9 -2 12 -1 11 1 15 2 12 4 12 6 11 6 6 6 5 7 3 9 0 7-2M1480 1433l10-7 4-5 3-6 2-11 -2-12 -7-10 -6-4 -6-3 -12-2 -12 3 -10 7 -4 6 -3 6 -2 12 3 11 7 9 6 5 6 2 12 2 11-3M1476 1829l12-6 5-6 3-5 3-7 0-6 -2-11 -3-6 -4-5 -10-7 -8-2 -6-1 -12 3 -9 6 -7 9 -3 11 2 12 3 6 4 6 10 7 12 3 10-1M1210 1922l8-2 9-5 6-6 5-7 5-9 3-9 2-8 0-12 -4-21 -5-11 -6-9 -6-7 -9-7 -9-3 -6 0 -10 3 -6 4 -6 7 -5 9 -4 10 -3 13 -1 24 2 11 2 10 4 8 5 8 6 5 6 3 10 2 7-1M1210 1389l8-3 6-4 6-6 5-7 7-18 2-12 0-9 -2-8 -2-9 -4-8 -6-7 -6-6 -6-3 -7-3 -8 0 -6 1 -7 2 -6 5 -5 7 -4 8 -2 10 -1 20 3 21 4 9 5 9 6 6 7 4 6 1 7 0M1471 1427l8-3 6-6 5-8 0-9 -3-9 -6-6 -9-4 -9 0 -9 3 -7 7 -4 9 0 9 4 8 7 6 9 3 8 0M1476 1820l8-6 5-9 1-9 -3-8 -6-8 -9-4 -9 0 -9 3 -6 5 -4 7 -1 8 2 9 6 8 6 4 9 2 10-2M1211 1917l13-6 6-6 6-7 4-8 2-9 2-17 -2-12 -3-9 -9-16 -6-6 -6-4 -9-3 -6 0 -6 1 -8 5 -5 6 -5 8 -4 9 -2 12 -1 21 3 18 4 8 5 7 6 5 7 2 6 1 8 0M1214 1380l10-6 6-8 4-6 5-18 0-15 -2-8 -4-9 -9-11 -6-4 -6-3 -6-1 -6 1 -7 2 -6 4 -7 12 -3 9 -2 8 1 18 5 18 3 6 6 7 7 4 6 2 6 0 5-2M1468 1415l4-1 4-4 1-3 -1-6 -1-3 -4-3 -5-1 -3 0 -6 4 -3 6 1 3 2 5 3 2 3 1 5 0M1471 1808l4-3 1-3 1-6 -1-3 -2-2 -5-3 -6 0 -3 1 -3 2 -2 5 -1 3 3 6 6 4 3 0 5-1M1212 1911l6-3 6-4 9-11 5-15 1-14 -4-18 -8-13 -6-6 -6-4 -6-2 -6 0 -6 2 -7 4 -6 7 -3 6 -5 18 -1 18 2 8 3 9 7 12 6 4 7 2 6 1 6-1M1206 1374l6-1 6-3 9-9 6-13 1-15 -1-11 -6-12 -9-9 -6-2 -6-1 -9 1 -7 4 -3 4 -6 12 -2 14 2 16 6 14 10 9 9 2M1210 1905l11-6 8-9 4-12 1-11 -2-15 -7-12 -9-8 -4-2 -6-1 -9 2 -7 5 -3 4 -6 15 -2 18 3 14 3 6 5 6 3 3 7 3 10 0M1210 1366l8-5 6-7 4-12 1-12 -2-8 -6-10 -9-6 -9-1 -10 4 -5 7 -3 11 -1 12 3 12 6 10 9 5 8 0M1214 1896l7-6 6-9 2-8 -1-12 -4-12 -6-7 -6-4 -9-1 -6 3 -4 2 -6 10 -3 13 1 13 5 12 7 6 9 2 8-2M1213 1354l5-5 3-7 1-9 -1-6 -2-5 -4-5 -6-3 -6 0 -6 3 -5 8 -2 8 2 9 2 6 6 6 6 2 7-2M1213 1887l5-4 3-7 1-6 -1-9 -3-7 -5-5 -4-2 -6 0 -6 4 -5 7 -2 9 1 9 2 6 7 6 6 2 7-3M1209 1336l0-4 -3-2 -3 3 0 3 3 2 3-2M1207 1873l2-2 0-4 -3-2 -3 2 0 3 2 3 2 0"/></g>
<g fill="none" stroke-width="3.40" stroke-linejoin="round" transform="scale(.5)"><path stroke="#f00" d="M1517 359l-5 0 -6 0 -9-4 -7-3 -12-11 -17-26 -7-7 -9-5 -28-12 -14-7 -13-11 -20-24 -9-8 -11-7 -34-15 -16-10 -13-13 -17-24 -8-9 -10-8 -35-27 -10-10 -2-5 0-2 6-2 25-1 24 1 11 2 6 4 12 21 12 11 11 6 29 12 12 7 10 11 13 26 9 11 11 7 34 12 11 7 9 10 13 29 7 10 9 6 25 10 6 4 5 4 5 11 3 13 -1 11 -5 5M1448 157l-14 0 -18-2 -13-3 -9-4 -8-7 -4-8 -3-11 2-8 2-2 4-1 21-2 31 1 9 1 4 2 3 2 3 7 1 11 0 13 -1 4 -3 5 -7 2M1735 228l-9-1 -2-3 0-4 2-22 3-13 3-9 5-5 12-5 35-7 14-5 4-4 3-6 9-26 4-4 4-3 18-2 33-1 16 2 4 1 2 2 0 7 -4 8 -7 8 -6 6 -18 10 -35 11 -10 6 -5 7 -12 24 -5 7 -7 6 -9 5 -11 5 -15 3 -16 2M1688 419l-11 2 -4-2 -3-2 -2-4 0-5 3-11 4-6 4-5 25-14 8-7 6-9 14-24 11-13 12-8 27-14 12-8 10-10 20-23 11-10 12-7 33-16 13-9 11-12 16-26 11-13 9-8 27-22 20-18 7-4 11-2 20 0 7 3 1 3 1 7 -1 9 -2 6 -17 23 -14 34 -4 6 -6 7 -13 8 -32 15 -15 9 -13 11 -19 22 -14 10 -13 7 -33 13 -15 9 -10 8 -21 24 -12 10 -11 6 -32 12 -11 6 -9 9 -16 24 -6 5 -7 4M1572 153l-8 1 -12-1 -6-2 -5-3 -3-9 -2-11 1-8 4-7 9-3 16 0 11 2 6 3 2 5 1 6 -1 15 -4 7 -4 3 -5 2M1691 155l-12 0 -11 0 -6-2 -4-3 -3-6 -1-13 1-11 4-7 4-2 8-1 22-1 15 2 4 2 2 2 2 5 0 8 -1 9 -3 7 -3 4 -5 3 -13 4M1445 430l-11 1 -13 0 -13-3 -10-5 -9-8 -15-28 -7-9 -6-4 -9-3 -43-10 -17-7 -6-4 -5-7 -16-26 -5-5 -6-4 -9-4 -11-3 -58-9 -8-3 -6-4 -5-7 -2-9 -5-39 -1-52 0-13 2-8 2-2 5 2 7 8 4 9 8 22 8 11 11 8 33 18 16 10 11 11 17 24 8 8 12 7 35 13 17 9 15 13 19 25 8 9 9 5 29 13 15 11 8 11 5 13 0 6 -1 4 -2 3 -5 2M1512 222l-11 0 -11-2 -7-3 -7-6 -6-11 -3-13 0-13 1-4 2-3 9-3 22 0 14 3 7 5 3 6 1 9 -1 22 -4 9 -4 3 -5 1M1630 217l-9 2 -8-2 -6-4 -4-6 -2-13 0-13 4-9 5-4 11-2 12 0 6 3 3 5 2 13 -2 15 -5 11 -7 4M1679 291l-6 1 -7-1 -4-2 -3-4 -1-9 0-11 2-11 4-6 6-7 12-4 22-3 12 1 2 4 -1 9 -3 13 -6 11 -4 6 -7 6 -9 5 -9 2M1568 285l-7 1 -7-1 -6-5 -4-6 -3-11 0-11 2-6 5-4 9-2 9 1 6 4 5 6 2 12 -1 11 -3 6 -7 5M1849 434l-16 0 -9-1 -5-3 -4-4 0-9 3-13 4-9 8-8 12-7 13-4 23-4 29-3 4-2 2-5 7-23 6-13 10-11 10-7 14-4 20-5 43-6 4 0 2 2 2 5 1 8 0 29 -2 15 -3 6 -2 3 -7 3 -11 2 -80 4 -11 1 -2 3 -2 4 -6 32 -4 9 -3 4 -6 5 -11 3 -13 2 -20 1M1626 348l-7 1 -6-4 -3-6 -1-9 2-6 5-7 8-3 6 0 5 1 2 2 2 5 0 6 -1 7 -4 6 -4 5 -4 2M1236 437l-25 1 -31 0 -14-2 -8-2 -4-4 -2-4 -2-16 1-23 1-9 3-4 5-3 7-1 44 1 25 4 7 3 7 4 5 7 4 8 3 13 -1 11 -3 7 -4 4 -7 3 -11 2M2007 508l-29 0 -22-2 -15-2 -9-5 -5-4 -2-4 -2-11 0-15 4-11 5-5 6-3 20-4 47-1 13 1 7 2 5 5 2 11 0 22 -2 15 -3 7 -4 2 -16 2M1325 504l-18 0 -13-1 -9-3 -4-4 -3-5 -1-7 -1-17 3-11 5-7 8-3 9-1 29 1 11 1 9 3 6 4 4 4 3 7 1 8 0 9 -4 9 -4 4 -8 4 -10 3 -13 2M1782 502l-11-1 -14-2 -9-4 -6-5 -6-8 -1-9 2-8 5-7 11-6 16-4 15-1 7 2 3 3 2 4 2 9 0 17 -1 9 -4 7 -4 2 -7 2M1494 487l-4-1 -2-1 -3-3 -1-4 2-12 2-2 4-2 5 1 3 2 4 6 0 7 -2 4 -3 3 -5 2M1211 577l-44 2 -7-1 -5-3 -3-4 -1-7 -1-21 2-18 4-8 4-3 9-2 45-1 29 2 9 3 5 3 3 4 1 5 1 10 -3 13 -5 11 -7 6 -9 5 -11 2 -16 2M2025 656l-60-10 -16-5 -10-5 -8-7 -7-10 -6-13 -5-20 -2-4 -4-2 -31-3 -21-4 -15-5 -12-8 -7-9 -5-10 -1-11 2-9 3-3 4-2 20-2 32 2 11 3 6 2 7 6 4 7 4 11 5 28 3 4 2 1 85 4 13 2 7 2 4 4 3 7 3 22 -1 17 -1 13 -2 5 -4 2M1156 793l-3 1 -2-2 -2-9 0-52 5-49 3-11 5-7 6-4 10-3 53-9 21-6 6-4 7-6 16-26 5-7 6-4 17-7 43-10 9-3 6-4 7-9 15-28 10-9 11-5 18-2 13 0 9 3 3 7 -1 10 -5 11 -8 10 -14 9 -29 13 -9 6 -8 9 -19 25 -15 13 -17 8 -34 13 -11 7 -8 7 -18 23 -12 13 -14 10 -32 16 -10 7 -6 6 -5 7 -13 33 -5 6 -4 3M2025 840l-25 0 -6-2 -7-4 -20-18 -27-22 -9-8 -11-13 -16-26 -11-12 -13-9 -33-16 -12-7 -11-11 -20-23 -10-9 -12-8 -27-14 -12-9 -11-13 -14-23 -6-9 -8-7 -22-13 -9-8 -4-7 -1-6 0-7 3-5 4-2 4-1 7 1 7 3 9 8 15 23 9 9 11 5 32 13 11 6 12 10 21 23 10 9 15 9 33 13 13 7 14 10 19 22 13 11 15 8 32 16 13 8 6 6 4 7 14 34 14 18 4 7 1 8 0 11 -2 5 -6 2M1260 840l-22 1 -24-1 -7-1 -2-1 0-3 4-6 11-11 32-24 10-8 8-9 17-24 14-13 15-10 34-15 11-7 9-8 20-24 13-11 14-7 28-12 9-5 7-7 17-26 12-11 9-5 9-2 7 0 5 3 3 6 0 9 -3 11 -4 8 -4 5 -6 5 -27 11 -11 7 -5 9 -12 26 -8 11 -11 8 -33 12 -12 6 -10 11 -13 26 -9 11 -10 7 -29 12 -13 7 -12 11 -15 22 -7 4 -9 2M1635 634l-7 1 -7-1 -5-2 -4-5 -3-6 0-9 2-6 4-5 6-1 5 0 4 3 5 5 3 6 1 9 -1 6 -3 5M1715 714l-11 1 -20-3 -11-3 -7-5 -6-9 -2-13 0-13 1-6 3-3 6-3 11 1 13 4 10 7 8 10 5 13 3 18 -1 3 -2 1M1564 708l-12 0 -6-2 -4-5 -1-9 1-13 4-8 6-6 9-3 8 2 6 5 3 6 1 9 -1 11 -3 6 -5 4 -6 3M1882 840l-42 0 -13-1 -7-2 -6-6 -9-26 -3-6 -4-4 -14-5 -35-7 -12-5 -5-5 -4-11 -3-28 0-11 3-2 5-1 22 3 18 6 13 7 12 12 13 26 6 7 10 5 40 14 11 7 8 7 7 11 2 8 -2 5 -11 2M1508 784l-16 1 -13 0 -7-2 -4-4 -1-6 0-11 5-18 4-6 5-4 11-6 11-2 12 1 6 4 4 7 1 17 -2 18 -5 7 -4 2 -7 2M1635 782l-11 1 -11-1 -7-4 -4-5 -2-11 2-15 4-10 7-5 8-2 9 1 7 5 4 6 3 13 0 15 -3 7 -2 2 -4 3M1430 840l-36-1 -9-1 -3-3 -2-4 0-9 3-8 3-7 5-4 5-4 16-5 29-2 9 0 5 2 3 5 1 8 -1 15 -2 9 -3 4 -5 3 -18 2M1706 838l-13 1 -18 0 -11-1 -5-3 -4-6 -1-11 1-13 3-6 8-4 16-2 15 2 7 3 4 3 4 4 2 4 2 16 -2 8 -3 3 -5 2M1575 838l-11 1 -14-1 -7-1 -4-4 -2-6 0-13 2-9 4-6 9-3 12-1 11 2 6 4 3 4 2 7 0 15 -3 6 -4 3 -4 2M1441 289l-7 0 -11-3 -11-5 -9-5 -13-13 -15-24 -5-6 -43-15 -11-5 -11-7 -13-12 -24-31 -10-8 -27-18 -11-9 -7-8 -2-5 0-2 3-2 6-1 23-1 18 2 10 4 6 7 11 17 8 9 13 8 32 14 11 8 8 11 12 31 6 8 7 4 38 11 8 5 6 4 7 11 4 13 0 9 -3 3 -4 1M1439 153l-11 0 -14-1 -9-3 -9-4 -6-6 -4-6 -2-9 1-6 7-5 18-2 24 1 9 1 5 2 4 5 2 6 1 9 -1 6 -2 5 -4 4 -9 3M1827 157l-9 1 -5-1 -2-2 0-3 1-13 3-13 3-6 4-5 5-2 8-2 25-1 21 1 6 2 3 2 0 7 -3 6 -5 7 -9 7 -9 5 -11 4 -26 6M1757 354l-13 1 -4-2 -2-3 0-7 3-6 4-7 6-6 12-9 30-14 8-6 8-8 17-24 14-13 14-9 32-15 13-9 9-10 16-29 9-13 11-10 43-37 9-5 9-2 15 0 8 2 2 5 1 4 -2 11 -4 6 -14 19 -14 36 -5 6 -5 6 -15 9 -37 15 -13 7 -10 9 -21 23 -13 10 -16 8 -33 11 -14 7 -9 7 -15 20 -9 9 -11 8 -14 5M1566 148l-7 1 -7-1 -4-3 -5-4 -2-8 0-9 2-6 4-3 8-2 12 0 7 2 5 5 3 8 -3 11 -4 6 -9 3M1691 151l-9 0 -9 0 -7-3 -4-4 -3-7 -1-9 1-7 5-6 9-3 15 0 14 1 7 5 2 4 1 4 -1 7 -2 6 -3 5 -4 3 -11 4M1361 361l-11 1 -23-3 -18-4 -11-5 -6-5 -5-6 -15-30 -7-6 -13-3 -67-8 -11-3 -9-6 -5-7 -3-9 -6-47 -1-35 1-12 2-7 3-2 2 1 4 4 5 9 8 20 7 11 12 8 37 20 15 13 10 13 13 25 6 7 6 3 28 8 16 5 13 7 11 8 9 11 6 11 1 8 -1 2 -3 3M1762 218l-16 1 -6-2 -4-4 -2-6 -1-11 2-9 4-9 8-6 13-4 31-4 7 0 4 1 1 5 -2 11 -5 10 -5 9 -6 7 -6 4 -8 4 -9 3M1508 213l-7 1 -9-1 -7-4 -6-7 -3-8 -2-9 2-9 5-4 9-3 12 1 8 2 7 6 2 9 0 13 -4 9 -7 4M1628 205l-7 1 -4-2 -4-4 -2-4 -1-7 1-6 4-6 4-2 7-1 4 2 3 2 2 5 1 6 -1 7 -2 5 -5 4M1682 280l-5 0 -4-1 -4-5 -1-9 2-9 5-6 7-4 9-1 8 2 4 3 1 4 0 5 -2 7 -4 6 -5 4 -5 3 -6 1M2003 365l-45 1 -15-1 -10-3 -5-4 -3-6 0-9 3-11 5-8 6-7 10-6 9-4 16-5 20-3 20-2 9 1 4 5 3 12 0 20 -2 15 -3 6 -5 5 -6 2 -11 2M1503 339l-6 0 -7-4 -3-5 -2-4 0-2 2-2 3-1 4 0 8 5 3 6 0 5 -2 2M1229 434l-20 2 -27 0 -13-1 -9-4 -3-3 -2-7 -2-15 1-19 2-7 2-3 4-4 9-1 34 0 24 5 9 3 7 4 5 7 4 9 1 10 -1 9 -4 7 -5 4 -7 2 -9 2M1862 428l-20-1 -7-1 -6-4 -3-5 -1-7 2-6 3-7 5-6 7-4 18-7 11-2 11 0 9 2 5 2 3 5 1 8 -1 11 -4 9 -6 5 -7 4 -9 2 -11 2M1428 419l-7 1 -9-2 -7-3 -5-5 -5-6 -4-9 -1-6 2-6 2-1 5-1 11 3 11 4 9 7 6 9 1 6 -3 6 -6 3M2011 506l-20 1 -24-2 -16-2 -11-5 -7-7 -4-9 0-13 4-11 3-4 6-5 7-2 11-3 18-2 20 0 14 1 8 2 5 4 4 9 1 15 -1 15 -2 9 -4 5 -5 2 -7 2M1327 497l-11 1 -11-1 -7-2 -7-4 -4-7 -1-11 1-8 5-7 4-3 7-3 18-1 17 3 7 3 5 4 2 4 2 6 0 7 -2 7 -3 3 -6 5 -16 4M1771 489l-7-1 -7-4 -3-4 -1-5 1-6 3-4 5-3 7-2 4 1 5 1 4 4 2 5 -1 9 -2 4 -4 3 -6 2M1189 577l-15 0 -9-1 -6-3 -3-4 -3-13 0-18 2-13 4-6 6-4 9-2 37 0 25 3 8 3 6 4 5 9 0 13 -3 11 -7 8 -9 6 -11 3 -16 3 -20 1M1891 569l-11 2 -16-1 -13-4 -11-5 -7-6 -5-8 -3-9 2-8 4-5 4-2 16-2 22 1 15 6 5 4 3 4 3 7 1 8 -1 11 -3 5 -5 2M1403 567l-9 0 -2-2 -2-3 2-11 7-12 6-5 10-4 10-1 8 3 3 4 1 5 -2 6 -3 4 -7 6 -6 5 -16 5M2018 651l-20-1 -24-4 -16-4 -13-6 -10-9 -7-11 -3-13 0-6 2-5 3-4 6-2 9-2 13-1 42 1 14 2 6 3 5 4 3 8 2 11 0 15 -1 11 -2 8 -4 4 -5 1M1158 784l-2 1 -3-2 -2-8 0-37 6-54 3-11 5-8 9-5 11-3 67-8 13-3 7-6 15-30 5-7 6-4 16-6 20-4 20-2 5 0 4 2 2 6 -3 11 -7 10 -8 9 -11 7 -13 7 -47 14 -6 7 -15 28 -13 15 -15 11 -33 17 -12 9 -7 11 -10 25 -7 8M2023 838l-18 0 -7-1 -7-3 -44-38 -12-10 -7-9 -19-34 -9-11 -13-9 -33-15 -14-9 -14-13 -17-25 -8-8 -8-5 -29-14 -11-7 -8-8 -5-9 -2-9 2-5 4-3 9 1 11 3 9 4 14 11 19 25 9 7 14 6 33 12 16 7 13 10 21 24 10 9 13 6 37 16 15 9 5 6 5 6 14 36 14 18 4 7 2 9 -1 6 -2 4 -5 3M1494 627l-4 1 -3-1 -2-2 0-2 2-4 3-5 4-3 5-2 4 1 3 4 -1 5 -4 4 -7 4M1260 838l-17 1 -20 0 -9-1 -3-3 0-2 3-6 9-9 35-24 10-8 24-31 14-13 10-6 11-6 43-15 5-5 17-26 9-9 9-6 11-6 11-3 9 0 5 2 3 7 -1 8 -5 11 -6 9 -6 4 -8 4 -38 12 -7 4 -6 8 -12 31 -8 11 -11 8 -32 14 -11 6 -10 10 -14 22 -6 4 -8 3M1697 703l-6 1 -7-1 -7-3 -4-3 -4-7 -1-6 0-8 4-5 5-3 9 1 7 4 6 6 5 9 0 7 -2 6 -5 2M1800 785l-11 0 -25-3 -12-3 -8-4 -6-7 -4-11 -1-13 2-6 2-4 7-4 13 0 16 5 11 7 9 9 6 13 4 15 -1 4 -2 2M1501 779l-11 1 -9-3 -3-2 -3-5 0-8 2-11 6-9 9-6 11-1 7 1 6 6 3 8 1 10 -2 8 -3 5 -6 4 -8 2M1630 773l-4 1 -7 0 -4-2 -4-6 -1-6 1-7 4-6 4-4 5 0 4 1 5 4 2 5 1 7 -1 6 -2 4 -3 3M1880 838l-18 1 -20-1 -11-1 -9-4 -4-4 -4-9 -3-17 0-9 2-2 5-1 20 3 20 5 15 8 11 9 6 11 0 4 -1 3 -2 2 -7 2M1430 838l-27 0 -9-2 -7-3 -3-4 0-4 1-7 3-6 4-5 5-4 15-5 22-2 7 0 7 3 4 4 2 6 1 9 -2 9 -3 4 -5 4 -15 3M1699 836l-11 1 -13 0 -9-2 -4-3 -3-5 -1-9 1-9 4-6 8-4 13-1 13 2 9 5 5 9 1 11 -4 7 -9 4M1566 836l-9 0 -7-1 -4-2 -4-4 -1-7 0-8 3-7 6-5 9-2 9 1 7 3 4 5 3 11 -3 9 -5 4 -8 3M1352 216l-9 0 -11-2 -13-5 -10-7 -14-13 -16-21 -6-7 -8-6 -27-16 -11-8 -9-9 -2-4 0-3 2-2 7-2 18 0 15 2 11 5 5 6 11 19 7 7 11 7 32 15 12 9 7 10 3 11 0 9 -3 4 -2 1M1439 148l-9 2 -11-1 -9-2 -9-3 -6-5 -5-6 -2-7 2-6 6-5 16-2 18 0 13 4 3 3 3 4 1 11 -1 4 -3 5 -7 4M1844 150l-9 1 -8 0 -5-1 -4-4 -1-7 1-8 2-7 4-5 6-4 5-1 18-2 23 1 6 2 2 2 2 3 -2 6 -8 11 -14 8 -18 5M1916 228l-7 0 11-30 10-22 11-15 44-38 9-6 9-3 8-2 9 1 5 2 3 7 -2 11 -17 24 -13 32 -9 13 -11 8 -16 7 -22 7 -22 4M1691 146l-9 1 -7-1 -4-1 -5-4 -3-4 -1-6 1-7 3-5 7-4 13-1 11 2 7 4 3 4 0 4 -2 9 -6 6 -8 3M1568 142l-9 1 -4 0 -6-4 -2-4 -2-7 1-4 3-4 6-3 9 0 6 2 4 3 2 4 0 7 -4 6 -4 3M1760 211l-7 0 -4-2 -4-2 -3-5 -1-11 2-6 3-4 7-6 11-3 16-2 9 3 3 3 0 7 -2 6 -4 7 -4 5 -7 5 -6 3 -9 2M1247 293l-22 1 -34-3 -17-4 -9-7 -5-11 -3-19 -4-52 0-14 3-8 2-1 4 4 11 23 7 9 9 6 37 20 11 9 8 8 9 15 3 13 -2 7 -2 2 -6 2M1506 203l-5 1 -4 0 -5-2 -5-4 -2-4 -1-7 1-4 3-4 4-2 7 0 5 1 5 5 2 4 0 7 -1 4 -4 5M1847 285l-14 1 -3-1 -2-3 0-4 2-6 10-13 11-9 13-7 25-9 11-3 5 0 0 2 0 2 -8 15 -5 9 -8 7 -8 7 -9 5 -20 7M1428 276l-12-2 -10-7 -5-6 -3-5 0-4 1-2 4-2 9 1 9 3 7 4 5 7 1 6 -1 5 -5 2M2005 363l-18 2 -22-1 -14-1 -11-4 -6-5 -3-6 1-9 2-9 6-8 7-7 8-4 10-4 15-4 18-3 13 0 9 2 5 5 2 10 1 15 -2 13 -3 9 -5 4 -4 3 -9 2M1343 352l-9 1 -13-2 -12-3 -7-5 -7-6 -5-9 -1-9 2-4 3-2 4-1 11 1 15 4 12 7 9 8 5 9 -1 7 -2 2 -4 2M1769 333l-3-1 1-2 5-2 0 2 -3 3M1211 434l-20 1 -15-1 -9-2 -6-4 -4-9 -2-17 1-15 5-9 6-3 9-2 15 0 16 1 11 2 11 3 9 5 5 5 5 8 2 9 -1 9 -3 6 -4 5 -8 4 -9 3 -14 1M1860 421l-13-1 -5-2 -4-3 -2-5 0-4 4-8 9-7 12-4 15-1 9 3 4 4 1 4 -1 7 -3 6 -4 5 -6 3 -16 3M2011 504l-15 1 -22-1 -17-2 -11-5 -7-6 -4-9 -1-11 3-11 5-6 7-4 18-5 31-1 13 1 7 2 5 5 3 6 2 13 -1 13 -2 9 -2 5 -5 4 -7 2M1330 489l-9 1 -7 0 -6-2 -5-2 -4-4 -1-4 0-7 3-6 7-5 10-2 12 2 8 5 4 6 -1 9 -5 6 -6 3M1200 575l-15 1 -14-1 -7-2 -5-4 -2-5 -2-8 0-18 3-12 5-7 6-3 11-2 34 1 20 4 8 4 4 5 4 8 0 9 -3 9 -4 7 -8 6 -8 3 -11 3 -16 2M1880 562l-9 1 -9 0 -9-3 -8-4 -5-5 -3-6 -1-7 2-4 6-4 14-3 13 2 11 5 4 4 3 5 1 8 -3 7 -7 4M2011 649l-17-1 -20-3 -14-5 -13-6 -9-9 -5-11 -2-11 3-8 5-5 6-2 9-2 13-2 33 1 11 2 7 3 5 5 3 8 2 13 -1 16 -1 8 -3 5 -5 3 -7 1M1309 636l-13 1 -4-2 -2-3 -1-5 1-6 4-7 4-5 11-8 14-4 15-1 6 1 4 2 2 4 0 5 -3 6 -6 7 -14 9 -18 6M1771 621l-4-2 -1-3 3 0 2 2 1 1 0 2 -1 0M1160 773l-2 1 -2-1 -2-5 -1-8 0-16 5-56 3-11 4-8 5-5 8-3 22-5 36-2 11 1 7 3 3 6 -1 9 -5 13 -8 11 -8 8 -9 7 -37 19 -9 7 -7 9 -8 18 -5 8M1905 717l-9-1 -21-6 -16-7 -11-6 -10-9 -7-9 -3-8 1-6 2-2 4 0 14 2 15 5 14 7 9 8 8 10 8 15 2 6 0 1M1405 701l-6-2 -1-4 2-7 6-6 6-5 9-4 7 0 5 2 1 4 0 5 -6 8 -11 7 -12 2M2020 836l-15 0 -13-5 -51-43 -9-11 -7-13 -16-44 4 0 14 2 29 8 18 8 13 9 9 13 13 32 14 20 3 6 2 7 -1 6 -2 3 -5 2M1247 838l-24-1 -6-2 -1-2 0-2 4-6 9-9 36-22 8-6 23-30 13-12 14-8 13-4 11-2 7 2 3 6 -1 11 -4 11 -7 8 -13 9 -27 12 -10 5 -9 9 -12 20 -5 6 -9 4 -13 3M1786 777l-9 1 -11-1 -10-2 -7-5 -5-5 -3-8 1-8 3-7 6-3 9-1 11 3 9 6 8 8 4 11 0 7 -2 2 -4 2M1503 771l-6 1 -5 0 -4-2 -3-4 -1-6 2-6 3-5 5-3 7-1 5 1 2 3 3 4 0 7 -1 4 -3 4 -4 3M1878 836l-14 1 -17 0 -12-2 -8-3 -6-5 -3-7 -1-8 1-9 2-2 4-3 11-1 18 4 16 6 11 9 5 9 0 6 -2 2 -5 3M1428 836l-20 0 -14-3 -4-4 -2-4 1-5 2-6 8-8 13-5 18-2 7 1 6 3 5 4 2 5 0 6 -1 7 -3 4 -3 3 -6 2 -9 2M1695 834l-18 0 -6-2 -5-2 -3-5 -1-7 1-6 3-5 7-4 11-1 11 2 7 4 5 8 0 9 -3 4 -2 2 -7 3M1566 832l-11 0 -5-2 -3-3 -2-5 1-6 2-5 4-4 7-2 7 1 6 3 3 4 1 5 -1 7 -3 4 -6 3M1278 150l-4 1 -9-2 -13-6 -14-7 -14-12 -3-4 -1-2 2-3 7-2 14 0 11 1 9 4 5 4 6 9 4 13 0 6M1428 146l-16-1 -11-5 -5-5 -2-4 -1-5 1-4 2-2 5-3 13-2 16 1 10 4 3 3 2 4 1 6 -2 4 -5 6 -11 3M1849 146l-16 1 -5-1 -4-3 -2-5 0-5 1-7 4-4 8-6 16-2 18 0 6 1 4 3 2 2 0 4 -6 9 -11 8 -15 5M1940 218l-7-1 -4-2 -3-4 -1-7 2-8 3-11 6-11 6-9 15-15 37-30 6-3 9-2 9 0 4 3 3 6 -2 7 -17 26 -12 30 -7 10 -9 8 -11 6 -13 4 -14 3M1691 142l-12 1 -4-2 -4-2 -3-4 -1-4 0-5 2-4 6-3 9-2 9 1 7 4 2 4 -1 7 -4 5 -6 4M1566 135l-7 2 -4-2 -3-3 0-4 2-4 3-2 4 0 6 2 2 2 0 5 -3 4M1343 204l-7 2 -9-1 -9-4 -9-6 -8-8 -6-9 -5-10 -1-6 3-1 4 1 18 6 11 4 10 6 7 7 3 6 1 9 -3 4M1769 200l-7 2 -7-2 -3-4 0-7 2-4 6-5 6-2 9 0 4 3 1 2 0 6 -5 7 -6 4M1231 291l-22 1 -21-3 -13-4 -8-7 -5-11 -3-17 -1-48 0-4 2-4 9 13 7 6 45 24 12 9 8 8 7 13 2 7 -1 6 -2 5 -2 2 -5 2 -9 2M1862 270l-9 1 -4-2 0-2 4-6 7-5 9-4 7 1 1 1 0 2 -2 5 -5 4 -8 5M1994 363l-18 0 -16-1 -11-3 -7-4 -4-5 -2-9 2-9 5-8 6-7 7-4 18-7 13-3 16-1 8 0 7 2 5 7 3 11 0 15 -3 12 -3 5 -6 5 -9 2 -11 2M1327 341l-9 0 -7-4 -4-5 -1-4 1-2 5-2 4 1 5 1 6 4 3 2 2 5 0 2 -5 2M1214 432l-18 2 -16-1 -11-3 -7-4 -4-9 -1-15 1-13 5-9 6-4 7-1 11-1 16 1 21 5 9 4 5 5 5 6 2 7 0 8 -2 7 -3 4 -6 5 -9 4 -11 2M1864 411l-6 0 -5-2 -1-3 1-4 7-5 7-1 4 1 3 3 0 4 -3 4 -7 3M1998 504l-15 0 -16-2 -11-4 -9-5 -6-7 -2-8 1-11 4-9 5-4 7-3 20-5 27-1 8 2 7 3 5 6 3 11 0 13 -2 11 -4 5 -4 4 -7 2 -11 2M1205 573l-16 2 -13-1 -9-2 -6-5 -4-11 0-15 3-13 5-7 6-3 9-2 16-1 15 1 12 2 8 3 7 4 4 5 3 6 0 7 -1 8 -4 7 -6 6 -7 4 -9 3 -13 2M1871 552l-7 1 -9-3 -3-5 1-4 3-3 6 0 9 3 2 2 2 4 -1 2 -3 3M2009 647l-15-1 -18-3 -14-4 -11-6 -8-8 -6-11 -1-8 3-9 5-4 7-4 20-3 29 1 9 2 7 3 5 5 4 9 1 10 0 13 -3 9 -2 4 -5 4 -7 1M1318 624l-6 0 -4-1 -2-4 3-5 5-4 4-2 7-1 5 1 2 2 0 2 -2 4 -5 5 -7 3M1162 753l-2 2 -2-6 1-50 4-20 2-6 4-4 6-5 7-3 23-3 26 0 9 1 5 3 4 7 0 8 -4 11 -8 11 -9 9 -10 6 -42 22 -7 6 -7 11M1873 697l-9-2 -8-5 -6-6 -1-5 4-2 5 1 4 1 8 5 5 4 2 4 0 3 -4 2M2018 833l-13 0 -11-4 -37-30 -13-13 -11-16 -6-15 -2-13 1-4 3-4 4-2 7-1 18 4 18 7 10 9 8 11 12 30 17 26 2 7 -1 4 -2 2 -4 2M1301 786l-9 1 -3-1 0-3 6-13 10-13 9-7 11-5 11-2 7 1 3 5 0 6 -3 7 -5 6 -14 9 -23 9M1773 771l-11-2 -8-5 -2-4 -1-5 2-4 2-2 5-2 6 1 7 3 4 4 4 7 -1 4 -3 3 -4 2M1249 836l-11 0 -12-1 -4-2 -2-2 1-2 7-9 17-11 24-10 7-1 2 1 0 4 -2 9 -7 13 -6 6 -14 5M1425 833l-15 0 -11-2 -3-2 -3-4 0-5 2-4 3-4 5-4 11-4 14-1 11 3 4 3 2 5 1 6 -2 5 -3 3 -4 3 -12 2M1873 834l-9 1 -13 0 -12-2 -8-2 -5-4 -4-7 0-6 1-7 6-4 9-2 13 2 13 5 9 6 7 8 1 7 -3 3 -5 2M1688 831l-11 0 -8-4 -2-5 0-4 1-4 3-5 6-2 9-1 7 2 6 5 3 5 -1 7 -4 4 -9 2M1561 827l-6-2 -3-5 0-3 3-3 4-2 7 2 3 4 0 4 -2 3 -6 2M1267 140l-4 1 -5 0 -15-6 -13-9 -3-4 -1-4 4-3 10 0 9 0 9 4 5 3 5 6 1 7 -2 5M1430 142l-11 0 -11-3 -8-6 -2-5 1-4 5-4 10-2 11 0 9 3 6 5 0 7 -3 5 -7 4M1853 142l-13 1 -9-2 -3-4 -1-4 0-5 3-4 8-5 13-3 16 0 7 4 2 2 -1 4 -4 6 -7 5 -11 5M1954 211l-7 0 -7-1 -4-3 -3-5 0-6 2-9 3-9 5-8 15-18 36-29 6-3 7-2 7 0 4 2 2 4 -1 7 -15 24 -12 28 -5 9 -7 7 -6 5 -9 4 -11 3M1686 137l-7 0 -4-2 -2-7 2-4 4-2 5-1 5 1 4 2 3 4 -2 5 -3 3 -5 1M1327 192l-5-1 -7-4 -4-4 0-2 1-3 6 1 8 4 2 2 2 4 -3 3M1225 289l-18 1 -18-2 -11-4 -8-6 -6-11 -2-15 0-22 1-8 2-5 4-1 5 1 31 13 18 11 12 11 7 13 2 7 -1 6 -5 7 -4 2 -9 2M1998 361l-15 1 -15-1 -10-3 -10-4 -5-6 -2-7 1-6 4-9 5-7 6-4 8-4 11-4 24-3 9 0 7 2 5 7 3 9 0 13 -2 10 -4 7 -4 4 -7 3 -9 2M1214 430l-16 2 -16 0 -8-2 -8-4 -6-9 -2-13 2-13 5-9 4-3 7-2 11-1 11 0 20 4 9 4 6 5 5 6 3 7 0 6 -2 7 -4 6 -6 4 -15 5M2003 502l-14 0 -15-1 -14-4 -8-4 -6-7 -3-8 1-9 4-9 4-4 8-4 18-5 25 0 8 2 5 3 4 4 3 9 1 10 -1 11 -3 7 -4 4 -5 3 -8 2M1209 571l-15 2 -14 0 -9-2 -7-4 -4-9 -2-13 2-13 6-9 5-3 7-2 11-1 14 0 21 4 7 4 5 4 3 5 2 7 -1 8 -3 7 -4 4 -6 5 -9 4 -9 2M2009 645l-13 0 -16-2 -13-4 -11-6 -9-8 -5-9 -1-8 3-9 4-4 6-3 17-4 27 0 9 2 7 3 4 4 4 6 2 11 0 11 -1 8 -3 5 -4 4 -7 3M1174 732l-7 1 -2-2 -3-7 -1-12 1-15 2-13 3-9 4-6 7-4 7-3 22-3 22 2 7 2 5 3 3 7 -1 9 -5 10 -7 9 -11 9 -11 6 -35 16M2011 831l-11-2 -9-5 -33-28 -12-13 -8-13 -4-13 -1-10 5-7 9-3 15 3 14 6 9 8 6 11 13 29 16 26 0 5 -2 4 -7 2M1316 771l-4 0 -1-3 3-5 8-6 3 0 3 0 2 3 -2 4 -5 4 -7 3M1419 831l-11-1 -7-3 -2-2 -1-5 3-5 7-6 11-2 11 0 7 3 2 4 2 4 -3 7 -6 4 -13 2M1871 831l-9 2 -9 0 -11-1 -7-3 -3-2 -4-5 -1-6 1-4 4-5 8-2 9 1 11 3 10 7 5 6 1 5 -5 4M1249 833l-9 1 -9 0 -4-2 -1-3 2-4 4-5 13-7 13-5 5-1 4 2 2 3 0 4 -4 9 -7 5 -9 3M1688 827l-6 0 -7-2 -2-5 2-6 4-2 5-1 4 1 5 2 2 4 0 4 -2 3 -5 2M1258 134l-6 0 -10-3 -8-7 -1-4 5-2 5-1 11 3 5 4 2 4 -1 4 -2 2M1855 137l-8 2 -9-1 -5-4 0-6 5-5 9-4 13 0 6 1 3 2 1 4 -3 5 -6 4 -6 2M1425 138l-9 0 -6-3 -4-4 -1-5 3-2 6-3 9 0 7 3 3 2 1 5 -3 4 -6 3M1962 205l-6 1 -7-1 -4-2 -3-3 -2-6 0-7 3-9 3-6 6-9 8-8 29-25 14-7 9-1 2 2 1 2 -1 5 -14 24 -14 32 -5 7 -5 4 -14 7M1220 287l-15 1 -16-2 -11-4 -7-6 -5-11 -2-15 1-16 2-7 2-3 5-1 4 0 22 8 18 10 13 11 4 7 3 6 1 7 -1 4 -5 6 -6 3 -7 2M2003 358l-14 2 -13 0 -11-2 -10-4 -6-4 -3-7 -1-6 3-9 5-6 5-5 8-4 10-4 22-4 9 1 7 2 4 4 3 7 1 11 -1 11 -2 7 -4 4 -6 4 -6 2M1203 430l-14 1 -11-2 -9-3 -4-5 -4-11 0-13 3-10 5-6 7-2 6-2 23 2 9 2 9 3 6 5 4 4 3 7 1 6 -1 7 -4 6 -5 4 -7 3 -17 4M2005 500l-14 1 -13-1 -12-3 -9-4 -6-7 -3-6 -1-9 4-9 3-4 7-4 17-5 22-1 7 2 7 3 4 4 3 8 1 8 0 9 -2 6 -4 6 -5 3 -6 3M1198 571l-13 0 -9-1 -7-2 -5-6 -3-11 0-13 4-10 6-6 7-2 11-2 22 2 16 5 5 5 3 4 2 7 0 6 -3 7 -3 4 -5 4 -8 5 -20 4M2007 643l-11 0 -16-2 -11-4 -11-5 -7-7 -5-9 -1-8 3-7 3-4 7-4 18-4 22 1 9 2 6 3 4 4 3 7 2 8 0 11 -2 7 -3 6 -3 3 -7 2M1180 725l-6 1 -5-1 -3-4 -2-9 0-13 1-13 3-9 5-6 5-4 7-3 20-3 11 0 9 2 6 3 4 3 4 6 -1 9 -4 8 -7 9 -9 7 -11 7 -13 6 -14 4M2011 827l-6 0 -11-5 -29-23 -13-13 -7-11 -4-11 -1-11 4-6 7-4 11 1 12 5 9 8 6 11 11 26 14 24 1 4 -1 3 -3 2M1425 827l-9 1 -6-2 -5-4 1-4 4-4 4-2 7-1 7 1 5 4 1 4 -3 5 -6 2M1864 829l-13 1 -11-3 -6-5 -1-4 0-3 5-4 6-1 9 1 7 2 7 5 3 4 -1 5 -5 2M1243 831l-5 0 -5-2 0-2 3-5 6-4 7-3 7-1 4 2 1 4 -5 7 -4 2 -9 2M1853 133l-9 0 -3-2 0-3 3-3 5-2 6-1 6 2 1 2 -1 2 -8 5M1967 198l-7 1 -4 0 -5-1 -3-4 -1-5 0-6 4-11 10-13 15-13 20-15 4-2 5 0 1 2 -1 4 -10 20 -10 26 -8 10 -10 7M1216 285l-13 0 -14-1 -9-4 -8-6 -5-11 -1-13 1-13 4-8 5-2 4 0 18 5 17 9 12 11 6 11 1 6 -1 5 -5 6 -5 3 -7 2M1989 358l-20-1 -8-3 -5-3 -5-5 -2-5 0-4 2-7 4-6 4-5 15-7 20-5 9 0 6 2 7 4 4 9 0 10 -2 12 -3 6 -6 4 -9 3 -11 1M1207 428l-13 1 -12-1 -8-2 -6-5 -5-8 -1-11 2-11 5-7 5-3 6-2 9 0 11 1 17 4 8 5 4 4 3 4 1 7 0 6 -2 5 -4 4 -6 4 -14 5M2007 497l-9 2 -13 0 -11-2 -12-4 -7-7 -3-6 -1-9 2-6 4-5 5-4 16-5 20-1 7 1 6 3 5 4 3 4 1 7 0 9 -1 6 -3 7 -4 4 -5 2M1203 569l-12 1 -11-1 -8-2 -5-5 -4-8 -1-11 3-11 5-7 6-3 6-2 21 0 15 4 7 4 4 4 3 4 1 7 0 6 -4 7 -4 4 -7 4 -15 5M2007 641l-11 1 -13-2 -12-4 -11-6 -7-7 -3-7 -1-8 3-7 9-6 17-4 20 0 7 2 6 3 5 5 2 5 2 8 0 9 -1 6 -3 6 -5 4 -4 2M1185 721l-7 1 -5-1 -4-5 -2-6 -1-11 1-11 3-9 4-6 4-3 7-4 15-3 18 1 7 2 4 3 4 6 1 7 -3 8 -6 9 -7 6 -10 7 -12 6 -11 3M2005 820l-7-1 -11-7 -19-16 -13-13 -6-10 -2-9 0-7 4-6 7-2 9 2 7 3 6 7 6 9 9 24 10 20 1 4 -1 2M1860 825l-7 1 -6-1 -5-3 -1-4 2-2 4-1 7 1 7 4 1 2 -2 3M1967 191l-8 0 -4-4 -1-6 3-9 6-9 11-10 9-5 4-2 2 1 1 3 -1 5 -7 21 -6 10 -9 5M1214 283l-11 0 -12-1 -9-3 -7-5 -5-9 -2-11 1-13 5-8 4-2 4 0 14 3 15 8 12 10 6 11 0 9 -4 6 -11 5M1996 356l-11 1 -11-2 -9-2 -7-4 -4-6 -1-6 1-7 5-6 4-5 8-4 14-5 15-1 7 1 5 3 4 4 2 7 1 8 -2 9 -3 6 -5 5 -6 3 -7 1M1207 426l-13 1 -12 0 -8-4 -5-3 -4-7 -1-11 1-9 4-6 5-3 6-3 16 0 16 3 8 5 5 4 4 9 1 6 -2 5 -3 4 -5 4 -13 5M1998 497l-11 0 -11-1 -8-3 -7-5 -5-6 -1-7 0-6 4-7 5-4 5-3 15-3 16 0 7 2 4 2 5 6 2 6 1 10 -2 6 -2 4 -4 5 -6 3 -7 1M1205 567l-11 1 -12 0 -6-2 -7-4 -4-8 -1-9 2-11 5-6 5-4 6-2 16 0 17 3 10 7 3 4 2 7 -1 6 -2 5 -9 7 -13 6M2007 638l-9 2 -13-2 -11-3 -9-5 -8-7 -3-7 -1-6 2-7 8-6 15-4 18 0 7 1 6 3 5 4 2 5 2 6 1 9 -3 11 -4 4 -5 2M1191 716l-6 2 -7 0 -4-3 -3-3 -2-7 -1-10 2-9 4-9 3-4 5-3 14-4 18 0 11 5 3 4 2 7 -2 6 -3 7 -6 6 -8 7 -8 4 -12 4M1989 802l-4 0 -9-5 -9-7 -7-9 -4-6 -2-7 1-6 3-4 4-1 5 0 7 4 4 5 5 8 4 12 3 10 -1 6M1971 177l-2 1 -2-1 0-3 2-5 5-3 1 2 0 2 -4 7M1209 281l-11 0 -9-2 -8-3 -5-5 -4-8 -1-11 1-9 4-6 4-2 5-1 12 3 13 6 10 11 5 9 0 4 -1 5 -6 6 -9 3M1998 354l-9 1 -11-1 -9-2 -7-4 -4-5 -1-4 0-7 4-6 4-4 6-5 14-5 15-1 7 2 4 2 3 4 2 5 1 8 -1 7 -3 6 -4 4 -4 3 -7 2M1196 426l-9 0 -9-3 -7-4 -3-4 -2-9 0-9 3-6 7-6 6-2 7-1 16 2 11 5 5 4 3 4 2 5 0 6 -2 5 -3 4 -5 4 -7 2 -13 3M2000 495l-9 1 -10-1 -8-2 -8-5 -4-4 -3-6 0-7 3-6 8-7 14-4 15-1 7 2 4 2 5 5 2 5 1 6 -1 8 -2 5 -4 5 -10 4M1194 567l-9-1 -7-1 -5-3 -4-4 -3-7 0-6 1-7 3-6 4-4 4-3 11-2 16 1 13 6 5 4 3 7 0 6 -3 7 -4 4 -7 4 -9 3 -9 2M2007 636l-9 2 -9-1 -11-2 -9-5 -7-5 -4-6 -1-7 1-6 7-7 13-4 16-1 6 1 7 3 4 3 3 5 2 6 1 7 -3 10 -3 4 -4 3M1189 714l-7 1 -4-2 -4-3 -2-5 -1-6 0-9 2-6 3-6 4-4 5-3 11-3 15 1 10 4 3 4 1 7 -2 6 -4 7 -7 6 -6 5 -8 3 -9 3M1974 782l-5-3 -2-4 0-3 2-1 5 4 1 4 0 2 -1 1M1207 278l-9 1 -9-2 -7-3 -4-5 -3-6 -2-9 2-8 3-6 7-2 11 1 12 7 9 8 4 9 -1 6 -4 6 -9 3M1998 352l-9 1 -9 0 -6-2 -7-3 -5-5 -2-6 2-7 2-4 10-8 13-4 13-1 9 4 4 5 1 4 1 6 -2 7 -2 4 -3 5 -10 4M1198 424l-9 0 -9-2 -5-3 -4-4 -3-7 0-8 2-7 6-6 11-3 13 1 14 5 7 7 2 9 -1 4 -3 5 -10 6 -11 3M2000 493l-9 1 -8-1 -9-2 -7-5 -3-4 -2-7 0-6 3-4 9-7 13-3 13 1 9 4 4 5 1 4 0 11 -1 4 -4 4 -9 5M1196 565l-9 0 -7-1 -6-4 -4-4 -2-9 1-9 3-6 6-4 11-3 16 1 11 5 6 7 1 5 0 4 -2 4 -4 5 -10 6 -11 3M1996 636l-16-3 -8-4 -6-4 -3-4 -3-7 1-6 3-5 10-5 13-2 13 1 9 6 5 9 1 7 -2 6 -2 4 -4 4 -4 2 -7 1M1194 710l-7 1 -5 0 -4-3 -2-2 -2-5 -1-6 1-7 3-6 5-7 9-4 12-1 11 3 5 4 2 5 0 4 -3 6 -4 6 -6 5 -14 7M1200 276l-6 0 -7-3 -5-4 -3-4 -3-6 0-7 3-6 3-4 7-1 9 2 9 6 7 7 2 7 -1 6 -6 5 -9 2M1998 350l-7 1 -8 0 -7-2 -7-3 -4-5 -1-4 0-5 2-4 4-4 6-4 11-4 11-1 9 4 5 7 0 11 -5 8 -9 5M1200 421l-9 1 -7-1 -6-2 -5-4 -3-7 0-6 2-7 4-5 9-4 11 0 11 3 9 7 2 4 1 4 -1 6 -6 7 -12 4M2000 491l-6 1 -9 0 -7-2 -7-4 -4-4 -2-7 1-6 3-4 9-6 11-2 11 1 7 3 5 8 0 11 -4 6 -8 5M1198 562l-9 1 -7-1 -5-2 -4-4 -3-7 0-8 3-7 5-4 11-3 12 1 11 4 6 6 1 5 0 4 -3 7 -7 4 -11 4M1996 634l-7-1 -9-2 -7-4 -5-4 -3-4 -1-7 1-4 4-5 8-4 12-1 10 1 8 5 5 8 0 7 -1 4 -2 5 -4 4 -9 2M1189 708l-7-1 -4-6 -2-4 0-7 4-8 5-5 9-4 9 0 8 3 4 3 1 5 0 4 -3 7 -10 8 -7 3 -7 2M1205 272l-5 1 -6-1 -5-1 -5-4 -3-4 -1-7 0-4 3-4 4-3 7 0 6 3 7 5 4 6 0 6 -2 4 -4 3M1998 348l-7 1 -6 0 -11-4 -5-4 -1-4 0-5 2-4 8-6 9-4 9-1 9 3 3 4 2 4 -1 9 -3 6 -8 5M1200 419l-9 1 -6-1 -6-2 -3-3 -3-6 -1-6 2-7 4-4 7-3 11 0 9 3 8 6 3 7 -2 6 -5 5 -9 4M2000 489l-6 1 -7 0 -7-2 -6-4 -4-4 -1-5 0-4 2-4 7-5 9-3 9 0 9 3 4 7 1 9 -3 6 -7 5M1198 560l-9 1 -6-1 -5-2 -4-4 -2-7 1-6 2-5 4-4 8-3 11 0 9 3 7 6 2 7 -3 6 -6 6 -9 3M1994 632l-12-3 -6-3 -5-4 -2-3 -1-5 0-4 3-5 8-4 10-1 10 1 7 5 2 4 2 4 -1 9 -2 3 -4 3 -9 3M1194 703l-7 0 -5-2 -2-6 1-9 4-5 6-4 7-1 7 1 5 5 2 4 -1 4 -3 5 -5 4 -9 4M1200 268l-6 0 -7-4 -2-3 -1-5 3-5 4-1 5 1 8 5 1 7 0 2 -5 3M1996 346l-11 0 -9-3 -4-6 0-5 2-4 6-5 9-3 7 0 7 2 4 6 0 4 -1 5 -3 5 -7 4M1198 417l-11 0 -5-1 -4-3 -3-5 0-6 1-5 4-4 7-3 9 0 8 3 5 4 3 5 -1 6 -4 5 -9 4M1998 487l-11 0 -7-2 -4-3 -3-7 0-4 3-4 7-4 6-2 7 1 7 3 4 6 0 7 -4 6 -5 3M1196 558l-12 0 -4-2 -4-5 -1-4 0-4 1-5 4-4 7-3 9 0 9 3 5 4 2 7 -3 6 -5 5 -8 2M2000 628l-4 1 -7 0 -11-5 -4-3 -2-5 0-4 2-4 6-4 7-2 9 1 6 3 4 6 1 7 -2 5 -5 4M1191 699l-4-2 -2-2 -1-5 2-4 3-3 5-2 4-1 5 2 2 4 -1 6 -6 5 -7 2M1994 343l-9 0 -7-4 -1-2 0-5 5-6 5-2 7-1 4 1 5 4 1 4 -1 5 -4 4 -5 2M1196 415l-9 0 -7-5 -2-4 0-4 2-5 2-2 7-2 7 0 5 2 5 5 2 4 -1 4 -5 5 -6 2M1996 484l-9 0 -7-3 -3-6 2-6 4-3 6-2 7 1 4 2 3 4 0 7 -3 4 -4 2M1194 556l-7 0 -5-2 -2-3 -2-3 0-5 2-5 7-4 7 0 6 1 5 3 3 5 -1 4 -3 4 -4 3 -6 2M1996 626l-9-1 -8-4 -3-7 2-4 5-4 6-1 7 1 4 3 3 3 1 7 -3 4 -5 3M1994 339l-5 1 -4-2 -3-3 2-5 5-3 5 0 2 1 3 2 0 5 -1 2 -4 2M1198 411l-7 1 -6-2 -3-3 0-3 1-4 4-3 4-1 5 1 4 2 2 3 0 4 -4 5M1994 481l-7-1 -3-2 -1-5 4-4 7-1 4 3 1 2 -1 5 -4 3M1196 552l-7 1 -6-4 -1-4 0-3 3-3 4-2 5 0 4 1 3 3 1 2 0 4 -2 2 -4 3M1996 621l-7 1 -4-3 -3-3 1-4 3-2 3-1 7 2 2 2 1 3 -1 3 -2 2"/><path stroke="#00f" d="M1510 419l4-4 1-7 -2-8 -3-7 -9-9 -22-12 -7-5 -7-9 -15-27 -11-12 -12-8 -26-14 -12-8 -10-10 -20-23 -12-10 -11-7 -33-16 -14-9 -10-12 -16-26 -11-13 -9-8 -28-22 -19-18 -7-4 -11-2 -20 0 -7 3 -1 3 -1 7 1 9 2 6 16 22 6 10 9 25 4 6 7 7 11 8 33 15 15 9 12 11 20 22 13 10 14 7 33 13 15 9 10 8 21 24 12 10 11 6 32 12 11 6 7 7 15 22 9 9 11 5 7 1 4-2M1455 228l2-1 1-3 -1-17 -3-22 -5-11 -5-4 -7-4 -38-7 -14-5 -4-4 -3-4 -8-26 -5-7 -5-2 -8-2 -29-1 -27 1 -6 2 -2 2 0 7 4 8 6 8 7 6 16 9 35 11 10 6 6 7 14 27 6 7 7 5 11 6 13 4 18 4 14 0M1755 157l22-4 9-3 7-5 6-8 3-9 1-8 -2-7 -4-2 -8-1 -32-1 -20 1 -4 2 -5 3 -2 5 -2 11 0 13 2 8 2 3 6 2 21 0M1678 358l13-5 10-8 7-9 14-21 6-7 9-5 29-12 14-7 13-11 20-24 9-8 11-7 36-16 15-11 12-11 23-31 12-10 35-27 10-10 2-5 -1-2 -6-2 -24-1 -25 1 -10 2 -6 4 -13 21 -11 11 -13 7 -31 13 -9 6 -9 10 -13 26 -9 11 -12 7 -33 12 -11 7 -9 10 -13 29 -7 10 -9 6 -25 10 -6 4 -5 4 -4 7 -3 9 -1 8 1 9 2 4 3 3 5 0 7-1M1515 155l8-4 3-3 2-6 1-18 -2-6 -3-5 -9-3 -18-1 -18 1 -9 4 -3 6 0 11 3 10 4 7 7 4 9 2 13 1 12 0M1634 152l8-4 3-9 1-15 -2-9 -2-2 -5-2 -11-1 -16 1 -9 3 -4 6 -1 8 1 11 4 9 5 3 9 3 11 0 8-2M1766 430l14-4 10-7 6-9 13-24 5-6 5-4 16-7 43-9 9-4 7-4 8-9 16-26 10-9 10-4 11-3 58-9 8-3 6-4 4-7 3-9 5-39 1-52 0-13 -2-8 -3-2 -4 2 -7 8 -4 9 -8 22 -8 11 -11 8 -33 18 -16 10 -11 11 -18 24 -7 8 -13 7 -34 13 -17 9 -15 13 -19 25 -9 9 -9 5 -29 13 -8 6 -7 6 -6 8 -5 10 -2 9 2 7 4 3 7 2 11 0 13-1M1685 222l10-3 7-4 5-4 4-7 4-13 1-13 -1-8 -4-5 -14-2 -22 2 -7 2 -4 2 -5 6 -2 9 0 12 0 11 3 8 4 5 4 2 7 1 10-1M1569 217l4-2 4-4 4-9 1-15 -1-11 -4-5 -7-4 -13-1 -10 2 -6 4 -2 9 0 15 4 13 5 6 4 2 9 2 8-2M1518 291l3-2 2-4 2-11 -2-18 -5-10 -8-6 -10-3 -21-3 -12 1 -2 2 0 4 2 13 5 13 7 11 8 7 10 4 11 3 10-1M1629 285l6-5 4-7 3-10 0-12 -3-5 -4-4 -7-2 -9 1 -6 2 -6 7 -3 11 0 11 4 8 5 4 8 2 8-1M1343 434l18-2 4-3 3-6 0-10 -4-11 -5-9 -7-7 -11-6 -14-4 -22-4 -29-3 -4-2 -3-5 -6-23 -6-13 -10-11 -11-7 -13-4 -20-5 -43-6 -4 0 -3 2 -1 5 -1 8 0 29 2 15 2 6 3 3 7 3 13 2 87 4 2 1 2 3 8 36 4 9 4 5 9 5 11 3 18 2 20 0M1567 348l4-5 3-6 0-9 -3-6 -4-5 -6-2 -6-2 -7 2 -4 4 0 7 1 9 3 5 4 6 5 2 4 1 6-1M2017 436l6-1 4-3 3-4 2-9 1-17 -1-18 -3-8 -4-5 -9-1 -18 0 -24 1 -19 3 -10 2 -9 4 -5 4 -5 7 -4 13 -1 15 3 9 7 5 11 3 18 1 36 1 21-2M1200 508l36-3 11-3 7-5 4-9 2-13 -2-15 -4-8 -5-4 -7-3 -24-3 -47-1 -11 2 -4 2 -4 9 -2 15 1 19 1 9 2 5 4 3 7 2 35 1M1884 504l9-2 6-3 4-4 2-7 2-10 -1-16 -3-8 -4-5 -8-3 -9-1 -29 1 -11 1 -9 3 -6 4 -4 4 -4 9 0 13 3 8 5 7 8 4 14 4 18 1 17 0M1409 502l19-4 7-3 6-4 5-9 1-7 0-6 -3-7 -3-4 -11-6 -18-4 -16 0 -6 3 -4 7 -1 13 1 20 1 4 5 4 7 2 10 1M1693 486l3-2 2-4 0-11 -3-5 -2-2 -5 0 -4 2 -3 3 -2 4 0 7 2 4 3 3 4 2 5-1M2025 577l3-2 3-6 2-24 -3-22 -1-4 -5-4 -8-3 -13-1 -54 1 -18 4 -5 3 -3 4 -2 13 3 15 5 11 9 8 13 4 23 4 35 1 11 0 5-2M1160 655l58-9 16-5 10-5 8-7 7-10 5-13 6-20 2-4 4-2 31-3 21-4 15-5 12-8 7-9 5-10 1-11 -2-9 -3-3 -4-2 -21-2 -31 2 -11 3 -7 2 -6 6 -5 7 -3 11 -5 28 -3 4 -2 1 -85 4 -13 2 -7 2 -5 4 -2 7 -2 13 -1 15 1 17 1 9 1 3 3 1 4 0M2032 792l2-9 0-15 -1-52 -5-37 -3-8 -5-8 -5-3 -10-3 -54-9 -20-6 -7-4 -6-6 -16-26 -6-7 -5-4 -17-7 -43-10 -9-3 -6-4 -8-9 -14-28 -10-9 -11-5 -18-2 -13 0 -9 3 -3 7 1 10 5 11 8 10 13 9 29 13 9 6 9 9 19 25 15 13 17 8 34 13 13 8 7 8 18 24 11 10 16 11 33 18 11 8 8 11 8 22 4 9 7 8 4 2 3-2M1180 840l9-2 7-4 19-18 33-26 13-15 20-30 10-11 14-9 31-15 11-7 12-11 20-23 10-9 12-8 27-14 13-10 10-12 13-23 7-9 8-7 22-13 9-8 3-7 2-6 0-7 -3-5 -4-2 -5-1 -6 1 -7 3 -9 8 -16 23 -8 9 -11 5 -32 13 -11 6 -12 10 -21 23 -10 9 -15 9 -33 13 -14 7 -13 10 -20 22 -12 11 -15 8 -33 16 -12 8 -9 11 -13 33 -6 10 -12 13 -3 11 -1 11 3 7 8 2 20 0M1972 840l5-2 1-3 -6-8 -12-11 -29-22 -10-8 -8-9 -17-24 -13-13 -16-10 -34-15 -11-7 -9-8 -20-24 -13-11 -14-7 -29-12 -9-5 -6-7 -17-26 -12-11 -9-5 -9-2 -7 0 -5 3 -3 8 1 11 3 11 6 9 9 6 25 10 9 6 7 10 13 28 9 11 11 7 33 12 12 7 9 11 13 26 9 10 9 6 31 13 13 7 11 11 13 20 6 5 8 2 11 1 41-1M1563 634l4-2 4-5 3-6 0-7 -2-6 -2-4 -4-4 -5 0 -6 1 -7 7 -3 8 -1 9 0 4 4 5 7 1 8-1M1486 714l22-4 7-4 4-5 5-11 1-15 -1-11 -3-4 -2-2 -4-1 -7 0 -14 3 -11 7 -9 10 -7 18 -2 10 0 7 2 2 3 1 16-1M1634 708l5-5 3-6 0-11 -3-11 -4-7 -7-4 -7-2 -8 2 -5 5 -4 8 0 11 2 9 4 7 7 3 9 2 8-1M1347 840l13-2 7-5 4-6 7-24 3-4 5-5 13-4 35-7 9-4 5-3 5-8 3-13 3-26 -1-4 -1-4 -9-1 -23 4 -15 5 -11 5 -7 6 -6 7 -14 27 -6 7 -10 5 -35 12 -14 7 -12 11 -5 9 -2 6 0 4 1 2 7 2 22 1 29 0M1711 783l3-2 2-4 0-13 -4-15 -6-12 -9-6 -13-4 -13 0 -5 1 -4 3 -4 9 -1 13 1 15 4 9 6 5 11 2 20 1 12-2M1571 781l7-4 4-9 0-13 -2-13 -4-6 -7-5 -8-1 -9 1 -6 5 -5 11 -2 15 1 13 3 4 7 3 11 1 10-2M1780 840l17-2 4-3 2-2 0-6 -2-11 -3-7 -6-6 -12-7 -20-3 -25-1 -4 1 -5 3 -2 9 0 15 2 10 4 5 5 3 9 1 36 1M1520 838l6-5 3-8 -1-18 -2-6 -3-3 -4-3 -7-1 -18 0 -13 3 -4 2 -5 4 -4 9 -1 10 1 9 3 4 6 3 13 1 18 0 12-1M1637 838l5-2 2-3 2-6 0-15 -2-7 -3-4 -7-5 -13-1 -12 1 -7 5 -4 6 -2 9 1 11 2 6 5 3 9 3 13 0 11-1M1442 354l3-4 -1-9 -5-9 -7-8 -12-9 -30-14 -8-6 -8-8 -17-24 -14-13 -15-9 -32-15 -12-9 -9-10 -16-29 -9-13 -11-10 -41-35 -9-6 -11-3 -18 0 -4 2 -3 2 -1 9 3 11 17 24 15 36 4 6 6 6 14 8 37 15 12 7 10 9 21 23 14 10 16 8 33 11 13 7 9 7 20 25 14 11 9 4 9 3 9 1 5-2M1370 157l2-2 0-5 -3-22 -4-8 -6-6 -14-3 -27-1 -17 1 -6 2 -2 2 0 7 4 9 8 8 9 6 13 5 16 5 18 2 9 0M1765 152l17-4 7-4 4-5 4-6 2-7 -1-6 -2-5 -5-2 -7-1 -24-1 -18 2 -7 2 -3 3 -3 6 -1 9 1 8 4 7 4 3 7 2 21-1M1748 289l9-2 9-3 16-10 11-11 15-24 5-6 45-15 13-7 9-7 11-10 24-31 10-8 26-18 11-9 8-8 2-5 0-2 -3-2 -4-1 -16-1 -22 1 -11 3 -9 7 -11 18 -10 10 -10 7 -30 13 -11 6 -6 6 -5 7 -13 33 -6 8 -7 4 -38 11 -11 7 -7 6 -6 13 -2 7 0 6 3 6 5 1 6 0M1512 150l7-3 5-8 1-13 -2-5 -2-4 -4-3 -5-1 -15-1 -15 1 -8 5 -3 6 0 9 3 7 5 5 7 4 6 2 11 0 9-1M1629 148l8-4 4-7 1-11 -3-8 -6-4 -9-1 -11 1 -7 3 -4 5 -1 6 1 7 3 6 5 5 5 2 6 1 8-1M1442 217l3-2 3-4 2-11 -3-15 -6-10 -10-5 -15-4 -26-2 -7 0 -2 1 -1 3 0 6 4 13 6 11 8 9 10 6 12 4 12 2 10-2M1847 361l26-6 9-4 7-4 6-6 4-6 12-26 7-6 13-3 67-8 13-4 8-6 4-6 3-11 6-48 0-34 0-10 -3-7 -2-2 -2 1 -5 4 -4 9 -8 20 -8 11 -12 8 -36 20 -16 13 -10 13 -13 25 -5 7 -6 3 -31 8 -16 6 -13 7 -11 9 -6 9 -5 8 -2 9 1 4 2 3 6 1 20-1M1689 213l8-4 7-8 4-10 0-10 -3-7 -6-3 -8-2 -12 1 -8 4 -5 5 -3 10 1 11 4 9 5 4 6 1 10-1M1566 204l4-4 2-4 1-7 -1-6 -3-5 -3-2 -7-2 -4 1 -5 3 -2 5 -1 6 1 7 2 5 5 4 6 1 5-2M1507 280l5-3 3-8 0-9 -5-8 -6-4 -7-3 -9 0 -6 3 -3 4 0 4 1 7 3 6 5 5 6 5 7 1 6 0M1239 365l8-2 6-2 3-5 2-6 -1-9 -4-11 -5-8 -7-7 -7-5 -10-4 -26-6 -31-3 -7 1 -4 4 -3 13 0 24 3 13 2 4 4 4 9 4 16 2 31 0 21-1M1687 339l6-4 3-5 1-6 -2-3 -4 0 -5 1 -5 4 -3 4 -1 5 2 4 3 1 5-1M2016 434l5-2 5-4 2-7 2-11 0-15 -1-11 -3-6 -5-4 -10-2 -15-1 -20 2 -16 2 -11 3 -8 4 -5 5 -5 6 -3 11 0 11 3 8 8 7 12 4 18 2 29 0 18-2M1337 428l13-3 4-4 3-4 1-7 -2-6 -3-7 -6-6 -6-4 -9-4 -20-5 -9 0 -9 1 -5 2 -4 3 -2 7 0 11 4 11 5 6 7 4 10 3 14 2 14 0M1768 419l6-2 6-3 8-10 3-7 1-8 0-5 -3-2 -9 0 -15 5 -10 6 -7 9 -2 8 1 5 2 2 8 3 11-1M1212 506l13-2 11-2 8-5 5-5 4-10 1-11 -2-9 -5-8 -6-5 -7-2 -23-4 -35-1 -11 2 -6 3 -3 5 -1 4 -2 15 1 20 4 9 7 4 9 2 17 1 21-1M1877 497l12-4 4-5 3-6 1-7 -1-8 -3-7 -4-4 -7-3 -6-2 -18 0 -16 4 -5 3 -5 4 -3 7 0 9 2 7 6 6 7 4 9 2 11 1 13-1M1413 488l8-1 5-3 3-4 1-7 -1-4 -4-5 -6-3 -7-1 -7 2 -3 3 -2 4 -1 9 2 4 2 3 5 3 5 0M2008 577l8 0 7-3 3-3 3-7 1-15 -1-17 -2-9 -6-6 -7-3 -11-1 -41 0 -20 4 -7 4 -4 4 -3 9 0 13 4 11 9 9 10 5 16 3 20 2 21 0M1323 569l9-3 9-4 6-5 6-6 3-6 2-9 -2-6 -4-5 -7-3 -9-1 -22 1 -16 4 -6 4 -4 4 -4 9 -1 8 0 9 4 7 5 2 9 2 11-1 11-1M1789 567l3-5 -1-10 -5-10 -6-7 -9-4 -9-2 -9 1 -6 4 -1 4 1 7 4 6 6 6 8 5 10 4 9 1 5 0M1175 651l23-3 19-3 12-5 12-6 8-9 7-13 2-13 -1-4 -2-5 -3-2 -7-3 -25-2 -40 1 -11 2 -7 3 -5 6 -3 11 -1 17 1 17 2 7 4 3 5 1 10 0M2029 783l3-8 0-9 -1-37 -5-47 -3-9 -5-8 -9-5 -11-3 -67-8 -13-3 -7-6 -15-30 -6-7 -6-4 -15-6 -20-4 -20-2 -5 0 -4 2 -2 6 2 8 6 11 8 9 10 8 14 7 15 5 29 8 6 2 5 8 13 25 10 13 16 13 36 19 12 9 8 11 8 20 4 9 5 4 2 1 2-2M1180 838l9-3 7-4 50-43 12-15 18-33 9-10 11-7 32-15 15-9 14-13 17-25 8-8 8-5 30-14 12-9 7-9 5-8 1-7 -2-5 -4-3 -9 1 -11 3 -9 4 -14 11 -20 25 -9 7 -13 6 -33 12 -16 7 -14 10 -21 24 -10 9 -12 6 -37 16 -8 4 -9 6 -8 11 -13 33 -5 8 -12 16 -4 10 0 9 4 5 9 2 15 0M1696 627l1-2 1-2 -2-4 -3-5 -7-4 -4-1 -3 1 -1 2 -1 4 4 7 7 4 5 1 3-1M1969 838l3-3 0-2 -5-8 -13-12 -37-25 -8-9 -18-24 -13-12 -11-7 -12-6 -42-15 -5-5 -17-26 -9-9 -9-6 -11-6 -11-3 -9 0 -6 2 -2 7 1 8 4 11 7 9 5 4 9 4 38 12 7 4 6 8 12 31 8 10 11 9 31 14 13 8 9 8 11 18 6 6 8 4 13 2 23 0 13-1M1498 703l10-4 4-4 3-7 0-6 -1-7 -3-4 -3-2 -9 0 -9 4 -7 6 -4 9 0 8 3 5 6 3 10-1M1409 783l14-2 11-3 7-5 4-5 3-8 2-13 -2-9 -5-6 -4-2 -7 0 -9 1 -9 2 -13 7 -11 12 -5 8 -4 10 -1 9 1 4 6 2 22-2M1696 779l8-3 3-3 1-5 0-11 -4-9 -7-8 -6-4 -9-1 -9 1 -7 6 -2 8 -1 12 3 8 5 5 6 3 9 2 10-1M1567 773l3-4 2-5 0-11 -2-4 -4-5 -5-1 -4 0 -5 3 -3 5 -2 6 1 9 2 5 5 3 6 0 6-1M1346 838l13-4 4-3 3-4 3-9 3-15 0-8 -2-3 -9-1 -16 3 -15 4 -14 5 -9 5 -6 6 -6 8 -3 7 2 5 8 4 21 1 23-1M1779 838l14-3 3-2 2-4 1-7 -2-6 -4-7 -4-4 -14-6 -20-3 -15 1 -5 2 -4 4 -3 7 0 10 3 9 4 4 7 3 9 1 28 1M1514 835l8-4 3-9 -1-13 -5-7 -9-4 -16 0 -11 3 -8 6 -3 7 -1 8 1 7 4 4 7 3 9 1 14 0 8-2M1629 835l8-2 4-6 1-9 -3-10 -4-5 -7-2 -9-1 -9 3 -5 4 -3 7 -1 8 2 7 5 4 5 2 16 0M1846 215l16-6 16-10 11-11 15-20 5-7 9-6 27-16 11-8 9-9 2-4 0-3 -2-2 -5-1 -13-1 -18 1 -11 3 -8 7 -12 21 -9 9 -11 6 -27 12 -10 6 -7 7 -5 8 -3 9 0 9 1 4 4 3 7 0 8-1M1274 228l-11-30 -6-15 -8-13 -10-11 -41-36 -9-6 -9-3 -9-2 -9 1 -5 2 -2 7 2 11 17 24 13 32 4 7 5 6 13 9 20 8 27 7 13 3 5-1M1360 150l3-2 2-4 1-11 -4-11 -8-6 -13-3 -23-1 -13 1 -5 2 -2 3 0 6 3 7 7 6 8 6 11 4 14 4 11 1 8-2M1771 148l11-4 9-8 3-10 0-4 -3-4 -5-3 -9-2 -20 0 -14 2 -4 3 -4 3 -2 7 0 7 2 6 4 5 5 2 9 2 18-2M1510 146l7-4 3-7 1-9 -2-4 -2-3 -7-4 -13-1 -11 2 -8 4 -2 4 0 7 2 6 4 4 6 4 6 2 9 0 7-1M1630 141l5-3 2-5 0-7 -2-5 -5-3 -6-1 -9 1 -5 2 -2 4 -1 4 1 7 2 4 5 3 4 1 7 0 4-2M1429 211l8-3 2-4 2-4 0-11 -5-8 -8-7 -14-3 -13 0 -5 1 -3 2 -2 4 0 7 4 9 5 6 8 6 6 3 8 2 7 0M1975 293l21-2 13-4 7-5 5-8 4-18 5-54 -1-19 -2-7 -2-1 -5 4 -9 21 -6 9 -9 7 -32 17 -13 8 -13 13 -9 15 -3 9 0 7 1 4 4 3 7 2 9 1 28-2M1691 202l4-3 3-5 1-7 -1-4 -3-4 -4-2 -5-1 -7 2 -3 3 -3 4 -1 6 1 7 2 3 4 3 5 0 7-2M1353 285l2-3 0-4 -4-9 -6-8 -10-9 -12-6 -15-7 -21-6 -9-2 -1 2 3 6 8 15 8 10 9 8 11 6 16 6 13 2 8-1M1760 276l11-4 8-7 5-9 1-4 -1-2 -7-2 -8 1 -9 4 -7 6 -4 6 0 7 4 4 7 0M1231 363l9-2 5-3 4-4 2-6 0-9 -3-9 -4-6 -6-7 -7-5 -8-4 -25-6 -27-2 -6 1 -5 3 -3 4 -2 9 0 20 3 13 2 4 4 4 10 4 15 2 25 0 17-1M1859 352l17-5 5-4 6-5 4-7 3-7 -1-6 -2-4 -4-2 -5 0 -17 3 -15 7 -10 8 -7 11 0 4 2 5 4 2 5 1 15-1M1417 332l-1-2 -5-2 0 2 2 2 3 1 1-1M2005 434l9-1 5-3 4-4 3-7 2-13 0-13 -3-11 -5-5 -6-3 -11-1 -18 0 -18 3 -11 2 -9 4 -5 5 -5 6 -4 9 0 11 4 8 7 7 10 3 13 3 20 1 18-1M1328 421l11-2 4-3 3-3 1-5 -1-4 -6-9 -10-6 -14-3 -13 0 -7 4 -3 5 0 7 2 6 3 5 5 3 6 3 9 2 10 0M1215 504l11-2 8-3 6-5 5-6 3-8 1-9 -3-9 -4-6 -6-5 -9-3 -22-4 -29 0 -9 2 -5 3 -5 9 -2 15 2 18 5 8 5 4 11 2 18 0 19-1M1875 488l7-4 3-6 0-9 -6-7 -8-3 -11 0 -11 3 -6 5 -2 4 0 7 2 4 4 4 5 2 8 2 9 0 6-2M2011 575l7-2 5-3 3-6 1-6 1-13 -1-13 -4-9 -4-4 -5-3 -11-2 -34 1 -20 4 -8 4 -4 5 -3 4 -1 6 1 11 4 9 9 8 11 5 16 3 20 2 17-1M1322 562l12-4 6-4 4-5 3-6 0-5 -2-4 -4-3 -11-3 -16 1 -11 4 -5 3 -3 5 -2 4 0 6 1 5 4 4 9 3 15-1M1178 649l20-2 16-4 13-4 9-6 8-8 6-11 2-11 -3-8 -5-5 -6-2 -9-2 -13-2 -34 1 -11 2 -7 3 -5 7 -3 11 -1 15 2 15 3 7 2 2 7 2 9 0M1889 636l3-2 1-3 1-4 -2-6 -5-10 -9-8 -11-4 -16-3 -12 1 -4 2 -2 2 0 7 3 6 6 7 8 6 10 5 11 4 11 1 7-1M1413 621l3-2 1-3 -1 0 -3 0 -2 3 0 2 2 0M2027 773l2-8 1-14 -4-52 -3-20 -6-10 -4-5 -8-3 -22-5 -36-2 -12 1 -6 3 -3 6 0 9 6 13 7 11 9 8 9 7 37 19 9 7 7 9 10 23 5 4 2-1M1287 716l31-11 20-10 7-7 6-9 4-8 -1-6 -2-2 -5 0 -15 2 -16 6 -14 8 -7 7 -7 9 -6 10 -5 11 1 1 3 1 6-2M1778 701l6-2 1-4 -3-7 -5-6 -6-5 -9-4 -7 0 -5 2 -2 4 1 5 6 8 11 7 12 2M1179 835l8-2 9-6 39-33 10-11 8-10 6-11 15-42 -5 0 -15 3 -30 8 -19 9 -11 9 -7 11 -12 30 -17 24 -3 8 1 9 4 4 9 1 10-1M1957 838l8-2 2-3 -1-4 -3-4 -14-12 -38-24 -7-8 -16-21 -11-11 -15-10 -15-5 -14-2 -3 2 -3 2 -1 6 1 9 3 9 6 8 11 9 33 15 11 7 7 7 10 19 6 6 6 4 9 2 13 1 15 0M1419 777l9-3 6-4 6-8 2-9 -1-6 -4-6 -5-2 -11-1 -13 5 -10 8 -6 11 -1 8 2 5 3 2 9 1 14-1M1694 770l4-4 1-4 -1-7 -2-4 -5-4 -5-2 -4 0 -5 2 -4 4 -1 4 0 7 2 4 5 4 5 2 4 0 6-2M1346 835l11-4 5-4 2-5 2-8 -1-9 -2-4 -4-3 -7-1 -11 1 -11 3 -12 4 -13 9 -5 6 -3 7 1 4 2 2 7 3 18 1 21-2M1777 835l12-2 2-2 3-4 0-5 -1-6 -4-6 -5-4 -13-5 -16-2 -13 3 -7 5 -2 7 0 6 2 7 4 4 5 3 10 1 23 0M1510 833l8-4 3-7 0-6 -2-4 -4-7 -9-3 -12 0 -8 3 -7 5 -3 6 0 6 1 5 4 4 6 2 7 1 16-1M1630 831l5-3 2-5 0-7 -2-5 -5-4 -6-2 -7 1 -4 2 -4 4 -2 4 0 6 2 5 4 3 4 2 7 0 6-1M1913 150l18-7 18-10 12-11 1-4 -1-3 -7-2 -16 0 -11 2 -9 4 -5 4 -3 5 -6 18 1 4 2 1 6-1M1247 217l7-2 2-2 2-6 -1-7 -2-9 -4-10 -5-9 -7-9 -13-13 -37-30 -7-3 -8-2 -9 0 -5 3 -2 6 2 7 17 26 12 30 7 11 9 7 13 7 16 4 13 1M1355 146l4-3 1-4 1-8 -4-9 -6-4 -13-4 -17 0 -13 1 -4 3 -2 2 0 4 4 7 6 5 6 5 9 3 11 3 9 0 8-1M1764 146l13-4 9-7 3-4 1-5 -1-4 -2-2 -10-4 -15-1 -13 2 -9 5 -2 4 -1 7 1 4 4 4 9 4 13 1M1508 141l4-2 4-6 0-7 -4-5 -6-3 -9-1 -9 2 -5 3 -2 4 0 5 2 4 3 3 4 3 7 2 11-2M1628 135l3-4 0-5 -2-2 -3-2 -5 0 -5 2 -2 2 0 5 3 4 4 2 7-2M1857 204l13-6 12-11 9-15 3-7 -1-3 -2-1 -4 1 -24 8 -12 6 -8 7 -3 4 -3 7 0 4 1 4 2 2 4 2 13-2M1427 200l4-4 0-5 -1-4 -3-4 -6-3 -7-2 -6 0 -4 3 -2 2 0 4 2 4 4 5 6 4 5 1 4 0 4-1M1980 291l16-2 11-4 7-5 5-6 3-11 2-20 1-41 0-4 -2-4 -10 13 -7 6 -37 20 -16 10 -11 11 -6 11 -3 9 0 6 2 5 5 3 7 3 9 1 24-1M1333 269l1-2 -2-4 -8-7 -12-4 -5 1 -1 1 0 2 2 5 8 6 11 4 5 0 1-2M1212 363l19-4 8-3 4-4 3-7 0-8 -3-9 -5-6 -7-7 -8-4 -20-7 -14-2 -13 0 -9 1 -5 3 -4 9 -1 15 2 15 4 9 6 5 9 2 16 2 18 0M1863 341l6-2 5-4 2-5 -1-4 -4-2 -7 1 -6 3 -5 4 -2 5 0 2 2 2 5 1 5-1M2008 432l6-2 6-4 4-7 1-6 1-11 -1-12 -3-8 -5-4 -8-3 -9-1 -15 1 -14 2 -17 5 -7 5 -6 6 -3 9 0 8 3 9 7 7 10 4 16 3 17 1 17-2M1327 410l3-2 1-4 -1-3 -5-3 -9-2 -4 1 -3 3 -1 4 4 4 6 3 9-1M1197 504l23-4 10-3 6-4 5-7 3-6 0-9 -3-9 -5-6 -5-3 -7-4 -10-2 -14-2 -15 0 -11 1 -7 3 -6 5 -4 11 0 15 3 13 5 6 6 3 11 2 15 0M2012 573l5-2 5-4 3-7 1-9 0-10 -2-11 -4-7 -4-3 -7-3 -11-1 -29 1 -17 4 -7 4 -4 5 -3 8 0 11 5 9 8 7 11 5 16 3 20 2 14-2M1324 551l4-2 3-4 -1-4 -3-3 -6 0 -5 0 -4 3 -4 4 1 4 3 3 6 1 6-2M1185 647l16-2 15-4 11-5 9-7 7-8 3-9 0-9 -3-7 -5-4 -9-3 -22-3 -27 1 -9 2 -6 4 -5 8 -3 11 0 15 2 11 3 5 5 3 7 1 11 0M1875 623l1-2 0-5 -7-6 -6-2 -5-1 -4 1 -3 2 0 4 7 7 9 3 4 0 4-1M2024 753l1-13 -2-48 -3-15 -6-8 -6-5 -8-3 -22-3 -27 0 -9 1 -4 3 -5 7 1 10 5 11 9 11 17 13 41 22 7 6 7 11 3 2 1-2M1312 697l7-2 8-5 6-6 0-5 -3-2 -5 1 -5 1 -7 5 -5 4 -2 4 0 3 1 1 5 1M1178 833l9-3 9-6 35-30 12-13 8-13 5-15 1-13 -1-4 -2-2 -5-2 -6-1 -20 4 -16 7 -7 5 -5 6 -6 9 -12 30 -15 22 -4 8 1 7 3 3 7 2 9-1M1894 786l-3-9 -6-11 -7-9 -8-6 -10-5 -9-3 -9 0 -4 4 -1 6 2 7 4 6 8 7 12 6 19 7 9 1 3-1M1417 770l10-4 4-6 0-7 -1-2 -5-3 -6-1 -7 3 -5 3 -4 7 -1 4 2 4 6 3 7-1M1956 835l5-2 1-2 0-2 -5-7 -8-6 -11-7 -16-7 -13-4 -4 1 0 6 4 13 4 7 5 5 6 3 9 3 12 0 11-1M1344 833l7-2 5-4 4-5 1-4 0-6 -1-5 -4-3 -4-2 -7-1 -9 1 -15 5 -8 5 -6 4 -5 9 0 4 2 2 8 3 15 1 17-2M1774 833l10-2 3-2 3-4 0-5 -2-4 -6-7 -11-5 -14-1 -11 2 -6 5 -2 4 -1 6 2 5 4 4 4 2 8 2 19 0M1504 831l7-2 4-4 1-7 -1-4 -3-4 -6-3 -7-1 -9 2 -6 4 -3 4 0 4 2 7 3 2 6 2 12 0M1625 827l3-2 2-2 0-6 -4-4 -7 0 -4 3 -1 6 2 3 3 2 6 0M1930 139l10-4 10-7 6-6 0-4 -5-3 -13 0 -11 2 -7 5 -4 4 -2 5 0 4 1 4 5 2 10-2M1240 211l5-2 4-5 1-4 0-6 -5-16 -10-15 -16-15 -32-26 -7-3 -6-1 -5 0 -5 2 -2 4 2 7 15 24 12 29 7 11 8 7 10 5 13 4 11 0M1351 141l4-4 1-6 -3-7 -6-4 -11-4 -13 0 -11 2 -4 2 -1 2 0 4 3 5 5 4 8 4 15 4 7 0 6-2M1768 141l9-3 6-5 1-7 -2-4 -9-4 -11 0 -11 2 -7 4 -2 4 0 5 2 3 3 3 10 3 11-1M1503 137l4-2 3-4 -1-5 -1-2 -5-2 -4-1 -5 1 -5 2 -2 4 1 3 2 3 7 3 6 0M1861 191l4-2 5-4 2-4 -1-3 -7 1 -4 2 -5 4 -2 4 1 2 4 1 3-1M1984 289l13-2 10-4 6-5 4-6 3-13 2-20 -2-17 -2-4 -2-2 -7 1 -15 6 -28 14 -9 6 -7 7 -9 13 -2 6 0 7 2 4 4 5 6 3 9 1 24 0M1215 361l16-5 6-4 3-4 2-7 -1-6 -2-7 -5-6 -5-5 -9-5 -20-6 -22-2 -9 1 -4 3 -5 9 -1 15 2 13 5 9 8 4 11 3 15 1 15-1M2009 430l5-2 5-5 3-6 2-9 0-11 -2-8 -3-7 -5-3 -7-2 -11-1 -25 2 -16 6 -6 5 -5 6 -2 9 1 9 4 7 7 6 11 3 15 3 16 0 13-2M1205 502l18-5 8-4 4-5 4-6 1-7 -1-8 -4-7 -4-4 -8-4 -18-5 -25 0 -9 2 -4 3 -5 6 -3 13 1 15 4 9 6 4 8 2 13 1 14 0M2012 571l4-2 4-5 3-6 1-9 0-8 -2-9 -3-7 -5-4 -7-3 -9-1 -13 0 -14 1 -17 5 -6 5 -3 4 -3 9 1 8 4 9 8 6 12 5 16 3 17 1 12-2M1191 645l14-3 12-4 9-4 8-7 5-6 3-9 -1-9 -4-6 -6-4 -6-3 -22-3 -23 2 -9 2 -5 4 -4 6 -3 11 0 13 2 11 4 5 6 3 9 1 11 0M2018 731l2-6 1-9 0-24 -4-15 -6-8 -6-4 -8-3 -23-3 -20 2 -7 2 -5 3 -3 7 2 11 5 11 11 10 12 9 20 10 22 9 5 0 2-2M1174 831l9-2 10-7 31-26 13-13 8-13 4-13 0-10 -4-7 -9-3 -16 3 -13 6 -10 9 -6 10 -12 29 -16 26 -1 5 2 4 5 2 5 0M1871 770l1-2 0-2 -5-5 -7-4 -6 0 -1 3 1 2 3 4 7 4 7 0M1342 831l9-4 4-5 1-4 0-4 -2-5 -4-2 -5-1 -11 0 -13 4 -9 7 -3 3 -2 5 1 4 8 3 14 1 12-2M1768 831l11-2 5-4 0-7 -4-5 -9-5 -9-2 -9 1 -8 5 -3 4 0 4 4 7 9 3 13 1M1953 833l3-2 0-4 -3-5 -8-6 -9-4 -11-4 -7 0 -3 1 -1 5 1 6 3 5 4 4 5 2 9 3 9 0 8-1M1503 827l5-2 2-5 -1-4 -2-2 -4-2 -6-1 -5 2 -3 3 -2 4 2 5 5 2 9 0M1936 133l11-7 3-4 0-2 -5-2 -9 0 -9 4 -4 4 -1 5 1 2 2 1 4 1 7-2M1347 137l3-4 0-5 -3-4 -6-3 -9-2 -9 0 -7 1 -3 4 0 2 3 5 11 6 11 2 9-2M1236 204l3-2 3-4 1-9 -4-13 -8-13 -13-13 -30-24 -10-4 -7 0 -2 1 -1 3 1 5 14 24 11 26 6 11 9 8 9 4 9 2 9-2M1768 137l5-2 4-4 1-5 -3-2 -4-2 -9-1 -7 2 -5 3 -1 5 2 3 2 2 7 2 8-1M1987 287l11-2 9-5 5-4 4-7 3-13 0-17 -3-12 -5-4 -6 0 -9 2 -13 6 -13 6 -9 6 -7 7 -5 6 -3 7 -2 6 1 7 2 4 4 3 7 3 9 1 20 0M1215 358l14-5 5-3 2-5 2-6 -1-7 -4-6 -3-4 -5-5 -9-5 -20-6 -11-1 -9 1 -7 2 -3 3 -4 8 -1 13 1 11 5 9 7 4 11 3 15 1 15-2M2000 430l7-1 7-4 4-4 3-6 1-9 0-11 -3-8 -4-5 -6-3 -9-2 -22 2 -9 2 -9 3 -6 5 -4 4 -3 7 -1 8 2 7 6 7 8 4 12 3 13 2 13-1M1208 499l8-2 9-4 6-5 3-4 2-6 0-7 -2-6 -3-5 -5-4 -8-4 -18-4 -20 1 -6 1 -6 4 -5 6 -2 11 0 13 4 9 6 4 9 3 14 1 14-2M2004 571l7-2 5-3 4-6 2-6 0-11 -1-9 -3-6 -4-5 -7-3 -7-1 -22 0 -18 4 -7 5 -4 4 -3 6 0 9 4 9 7 6 8 5 13 3 13 1 13 0M1195 642l12-2 10-4 8-4 7-7 4-6 2-9 -2-7 -5-6 -6-4 -7-2 -22-2 -18 2 -7 3 -4 3 -5 9 -1 10 0 11 3 9 4 4 6 2 8 1 13-1M2013 725l3-3 2-7 1-20 -3-16 -7-9 -6-4 -7-2 -20-3 -18 2 -7 3 -4 3 -3 6 0 4 2 7 6 11 8 8 14 9 17 8 14 4 4 0 4-1M1178 827l9-4 11-8 24-21 12-13 6-11 3-10 -1-9 -4-5 -9-3 -11 2 -11 6 -9 9 -5 8 -10 26 -12 20 -3 6 0 5 3 2 7 0M1339 829l8-4 3-5 0-4 -1-2 -6-4 -9 0 -9 2 -7 4 -5 6 1 5 4 2 9 1 12-1M1772 827l4-2 2-5 -2-4 -5-3 -7-2 -7 0 -4 2 -4 3 0 4 4 5 9 3 10-1M1945 831l5-2 0-2 -6-7 -13-5 -4-1 -4 2 -1 4 4 7 10 4 9 0M1340 133l2-2 0-3 -1-2 -5-2 -9-2 -5 2 -1 2 3 5 4 2 6 1 6-1M1231 198l4-4 1-9 -2-9 -7-11 -12-13 -19-15 -11-7 -7-1 -1 2 1 4 9 20 10 23 6 10 6 7 7 3 9 2 6-2M1989 285l9-3 7-3 6-5 3-7 3-13 -1-13 -2-9 -5-4 -4-1 -9 1 -11 4 -11 6 -9 5 -7 7 -5 6 -3 7 -1 6 0 5 3 4 4 3 13 4 20 0M1199 358l17-2 7-2 6-4 3-5 2-6 -1-7 -2-4 -5-6 -6-5 -14-6 -19-4 -9 1 -7 2 -5 5 -3 11 0 13 4 9 4 5 7 3 9 2 12 0M2003 428l6-2 6-5 3-4 2-7 1-8 -2-9 -3-6 -5-5 -5-2 -8-1 -20 1 -9 3 -8 4 -5 4 -4 4 -2 7 0 8 3 7 5 4 9 5 11 2 13 1 12-1M1209 497l7-2 8-4 4-5 3-4 1-4 0-7 -3-6 -3-5 -6-4 -6-3 -18-3 -18 1 -10 5 -4 6 -2 11 2 11 4 9 8 4 9 2 11 0 13-2M2006 569l5-3 5-3 3-5 1-7 1-8 -2-9 -3-6 -5-4 -6-3 -9-1 -20 1 -14 4 -7 5 -3 4 -2 7 0 8 4 7 7 6 10 5 12 2 13 1 10-1M1198 640l9-2 10-4 6-5 7-6 3-7 0-8 -2-7 -5-4 -6-3 -9-2 -20-1 -15 3 -6 3 -3 4 -4 9 -1 9 1 8 4 8 4 4 7 2 9 1 11-2M2010 721l4-5 1-4 2-17 -3-14 -3-6 -4-4 -11-5 -18-3 -16 2 -6 3 -4 3 -3 6 1 9 4 9 8 8 13 9 14 6 14 4 7-1M1186 818l26-19 10-9 7-9 5-8 2-9 0-7 -5-6 -6-2 -9 2 -9 5 -7 8 -4 8 -9 22 -10 22 0 2 1 2 2 0 6-2M1338 825l3-3 1-4 -2-2 -4-1 -9 1 -4 3 -2 3 1 3 5 1 11-1M1224 191l3-2 2-6 -1-7 -5-8 -7-9 -9-7 -9-5 -4 0 -1 5 3 10 4 13 5 8 4 5 5 3 4 1 6-1M1990 282l8-2 7-4 6-7 2-6 2-11 -2-11 -3-6 -5-4 -7 0 -7 1 -17 8 -12 10 -5 6 -3 7 0 9 2 4 4 3 7 3 7 1 16-1M1205 356l15-4 8-7 1-4 1-4 -2-7 -2-4 -10-9 -16-6 -18-2 -6 1 -5 3 -5 6 -2 9 1 11 4 9 5 4 8 3 12 2 11-1M2004 426l5-3 5-4 3-4 2-7 0-8 -2-7 -2-4 -4-5 -6-2 -7-1 -18 1 -14 5 -6 4 -4 4 -3 7 1 8 4 7 5 4 8 4 12 2 11 0 10-1M1199 497l15-4 5-2 5-5 3-4 1-7 0-6 -2-4 -4-5 -6-4 -13-4 -18-1 -11 4 -6 5 -3 9 0 11 3 8 4 5 6 3 9 2 12-1M2006 567l5-3 4-4 4-11 0-8 -2-7 -3-5 -5-4 -6-2 -7-1 -18 0 -13 5 -5 3 -4 4 -3 7 0 6 3 7 7 6 8 5 12 2 13 1 10-1M1200 638l14-5 5-4 6-5 3-5 2-5 -1-6 -1-5 -8-6 -15-4 -18 0 -7 1 -6 3 -6 6 -3 9 0 11 2 9 4 4 7 3 9 1 13-2M2008 716l3-3 2-5 1-13 -2-13 -7-9 -9-5 -16-3 -15 2 -9 6 -3 6 2 9 5 9 6 6 10 7 13 6 11 2 8-2M1201 801l14-11 10-11 3-6 1-7 -1-4 -3-4 -5-1 -6 1 -7 5 -4 6 -5 10 -5 20 1 3 2 1 5-2M1216 176l-2-6 -5-4 -1 2 0 2 1 4 5 4 2-2M1990 280l8-2 6-4 4-5 3-6 1-11 -1-9 -4-6 -4-2 -12 0 -15 7 -12 10 -6 11 0 4 1 5 3 4 3 2 11 3 14-1M1206 354l12-4 7-7 1-4 0-4 -2-7 -4-4 -11-8 -13-4 -14-1 -6 2 -4 2 -4 7 -2 8 1 9 4 8 7 5 7 2 11 1 10-1M1995 426l12-4 4-3 4-4 2-7 0-8 -2-7 -4-5 -8-5 -16-1 -16 4 -9 7 -5 7 -1 6 2 7 4 4 6 4 8 3 9 2 10 0M1202 495l12-4 8-7 3-9 -1-6 -2-4 -8-7 -14-4 -15-1 -7 2 -4 2 -5 5 -3 9 1 10 3 7 6 5 6 2 9 1 11-1M1997 567l8-2 4-2 6-7 2-7 0-8 -2-7 -4-4 -8-5 -16-2 -13 2 -7 3 -5 4 -4 4 -2 7 1 6 5 7 5 4 10 4 10 2 10 1M1201 636l13-6 8-7 3-4 1-7 0-4 -3-5 -5-4 -4-2 -14-3 -15 1 -11 4 -5 7 -3 8 1 10 3 8 6 4 6 2 9 0 10-2M2003 714l4-2 2-3 2-6 1-6 -2-13 -6-9 -10-6 -14-1 -11 1 -4 2 -5 4 -2 4 0 7 4 9 6 6 9 7 10 4 9 2 7 0M1212 781l4-6 0-3 -2-1 -5 4 -1 4 0 2 1 1 3-1M1989 278l8-2 6-4 3-5 3-6 0-9 -1-6 -3-6 -5-2 -4 0 -7 1 -11 4 -10 9 -5 9 -1 4 1 4 4 6 9 3 13 0M1206 352l10-4 6-7 1-4 -1-5 -5-8 -10-7 -13-4 -12 0 -9 4 -4 7 -1 6 1 9 5 7 4 4 9 3 9 0 10-1M1998 423l10-4 4-4 2-5 1-6 -1-7 -1-4 -4-4 -4-3 -6-2 -14 0 -13 5 -9 6 -2 5 -1 6 2 7 4 4 8 4 6 2 9 1 9-1M1202 493l11-5 6-6 2-9 -1-4 -2-4 -9-7 -13-3 -14 1 -8 4 -5 7 -1 6 1 9 4 6 5 4 7 2 9 0 8-1M1999 564l6-1 4-3 4-4 1-5 1-6 -1-7 -2-4 -4-4 -10-5 -13 0 -11 3 -10 6 -3 4 -1 7 2 6 3 5 7 4 8 3 9 2 10-1M1188 636l8-1 9-2 6-4 7-6 3-4 2-7 -1-4 -4-5 -5-4 -6-2 -13-1 -12 1 -8 6 -4 5 -2 6 0 7 2 6 3 5 4 2 11 2M2003 710l3-2 2-5 2-8 -3-11 -4-7 -9-5 -11-2 -12 2 -6 4 -3 6 1 6 3 7 6 6 8 6 9 3 9 1 5-1M1986 276l5-1 7-3 5-4 2-4 2-8 -1-6 -2-4 -4-4 -9-1 -8 3 -9 6 -6 9 -2 6 4 7 6 3 10 1M1206 350l8-5 5-6 -1-7 -4-7 -9-6 -11-4 -12 1 -7 3 -4 6 -1 7 2 7 4 6 6 4 7 2 9 0 8-1M1999 421l8-4 4-4 1-5 0-11 -5-7 -9-4 -11 0 -11 3 -9 6 -2 5 -1 6 1 4 4 6 6 3 8 2 8 1 8-1M1202 491l9-5 6-6 0-9 -3-6 -9-6 -11-2 -12 1 -6 3 -4 6 -2 6 1 7 4 6 5 4 7 2 7 0 8-1M2000 562l8-4 3-4 2-5 -1-11 -5-6 -9-5 -13 0 -11 3 -8 6 -2 5 0 6 2 4 4 5 6 4 8 2 7 1 9-1M1191 634l7-1 8-4 7-4 3-3 2-6 1-4 -1-4 -4-5 -9-4 -14-1 -11 2 -6 6 -2 4 -2 6 1 7 2 4 3 3 4 3 11 1M1997 708l6-3 2-3 1-5 0-9 -5-9 -7-4 -9-2 -9 1 -6 3 -3 5 -1 4 3 6 3 5 6 5 7 4 6 1 6 1M1992 272l4-3 4-4 3-4 0-5 0-4 -3-4 -2-2 -4-1 -7 1 -7 4 -7 6 -2 7 1 4 6 5 7 1 7-1M1204 348l7-5 4-4 0-7 -4-6 -8-6 -9-2 -9 0 -5 1 -3 3 -3 4 -1 6 1 7 4 5 4 3 7 2 7 0 8-1M1999 419l7-4 4-7 1-6 -1-5 -5-6 -7-3 -11 0 -9 3 -9 6 -2 5 0 4 2 4 4 5 5 3 7 2 6 0 8-1M1201 488l8-4 5-6 0-7 -5-6 -8-5 -10-1 -9 1 -6 5 -2 4 -1 6 2 7 3 4 4 3 7 1 12-2M2000 560l7-4 3-7 0-8 -2-5 -3-3 -7-3 -11-1 -11 3 -6 4 -2 5 -1 6 2 4 5 4 11 5 9 1 6-1M1190 632l13-3 5-4 5-4 2-5 0-4 -2-4 -4-4 -9-4 -11 0 -9 3 -4 4 -3 9 2 9 5 5 10 2M1997 703l3-2 3-6 0-7 -4-6 -5-4 -7-2 -7 0 -6 3 -2 3 -1 4 1 4 4 6 4 3 7 4 4 1 6-1M1992 267l5-4 1-7 -2-5 -2-1 -5 0 -4 2 -5 3 -2 4 -1 4 1 2 5 3 4 0 5-1M1202 345l7-4 2-4 -1-7 -4-4 -7-4 -8-2 -6 0 -6 4 -3 4 0 4 1 7 3 3 9 4 7 1 6-2M1998 417l7-4 3-7 -1-8 -4-5 -7-3 -9 0 -8 3 -5 4 -3 5 0 4 4 7 10 4 6 1 7-1M1200 486l7-4 3-4 0-7 -3-4 -7-4 -6-2 -7 1 -7 3 -3 4 -2 4 1 5 2 4 4 4 5 1 7 1 6-2M1998 558l7-4 3-7 -1-7 -4-6 -7-3 -9 0 -9 3 -5 4 -2 5 0 4 5 7 4 2 7 2 11 0M1199 627l7-4 4-4 1-7 -2-4 -6-4 -9-2 -9 1 -5 3 -3 4 -1 6 0 5 3 4 3 3 5 1 7 0 5-2M1992 699l4-2 2-2 0-5 -1-4 -3-3 -5-2 -4-1 -5 2 -3 4 2 6 6 5 7 2M1198 343l5-2 3-4 0-5 -2-4 -6-4 -7-1 -6 1 -3 2 -3 6 1 5 2 3 7 3 9 0M1995 415l5-2 4-5 1-6 -2-5 -5-3 -7-1 -6 1 -7 3 -3 7 3 6 8 5 9 0M1196 484l5-2 4-4 0-5 -1-4 -4-3 -6-2 -7 1 -5 2 -2 2 -1 4 1 7 7 4 9 0M1996 556l5-2 3-5 1-6 -2-5 -5-3 -7-1 -6 0 -7 4 -3 7 3 6 9 5 9 0M1196 625l5-2 4-4 2-5 -2-4 -5-4 -4-1 -7 0 -5 3 -5 6 1 7 2 3 5 2 9-1M1197 339l3-2 1-2 -1-3 -2-3 -7-2 -4 1 -2 2 -1 5 3 3 4 2 6-1M1997 410l2-2 2-4 -1-4 -3-3 -6-1 -4 1 -4 2 -2 3 -1 4 5 4 6 2 6-2M1196 480l3-5 -1-4 -2-2 -5-1 -4 1 -2 2 -1 4 3 5 4 1 5-1M1997 551l3-2 1-4 -1-3 -2-3 -4-2 -5 0 -4 1 -3 3 -2 2 1 4 4 4 6 2 6-2M1196 621l4-5 0-3 -2-3 -7-1 -6 3 -1 4 2 5 5 1 5-1"/></g>
<line x1="122.0" y1="316.7" x2="122.0" y2="122.2" stroke="#dedede" stroke-width="1.00"/><line x1="191.2" y1="296.9" x2="191.2" y2="102.4" stroke="#dedede" stroke-width="1.00"/><line x1="260.4" y1="277.2" x2="260.4" y2="82.7" stroke="#dedede" stroke-width="1.00"/><line x1="73.6" y1="310.8" x2="308.8" y2="243.7" stroke="#dedede" stroke-width="1.00"/><line x1="73.6" y1="232.1" x2="308.8" y2="165.0" stroke="#dedede" stroke-width="1.00"/><line x1="73.6" y1="153.3" x2="308.8" y2="86.2" stroke="#dedede" stroke-width="1.00"/><line x1="452.9" y1="332.9" x2="452.9" y2="138.4" stroke="#dedede" stroke-width="1.00"/><line x1="399.5" y1="307.1" x2="399.5" y2="112.6" stroke="#dedede" stroke-width="1.00"/><line x1="346.1" y1="281.4" x2="346.1" y2="86.9" stroke="#dedede" stroke-width="1.00"/><line x1="490.2" y1="331.2" x2="308.8" y2="243.7" stroke="#dedede" stroke-width="1.00"/><line x1="490.2" y1="252.5" x2="308.8" y2="165.0" stroke="#dedede" stroke-width="1.00"/><line x1="490.2" y1="173.7" x2="308.8" y2="86.2" stroke="#dedede" stroke-width="1.00"/><line x1="303.4" y1="404.2" x2="122.0" y2="316.7" stroke="#dedede" stroke-width="1.00"/><line x1="217.7" y1="400.0" x2="452.9" y2="332.9" stroke="#dedede" stroke-width="1.00"/><line x1="372.6" y1="384.4" x2="191.2" y2="296.9" stroke="#dedede" stroke-width="1.00"/><line x1="164.3" y1="374.2" x2="399.5" y2="307.1" stroke="#dedede" stroke-width="1.00"/><line x1="441.8" y1="364.7" x2="260.4" y2="277.2" stroke="#dedede" stroke-width="1.00"/><line x1="110.9" y1="348.5" x2="346.1" y2="281.4" stroke="#dedede" stroke-width="1.00"/><g fill="none" stroke-width="1.80" opacity=".85" transform="scale(.5)"><path stroke="#443cd4" d="M421 772l8 0 2 3 -2 2 -4 2 -7-1 -4-1 0-2 1-1 6-2M810 634l6 1 4 2 0 2 -4 2 -7 0 -7 0 -3-2 1-2 2-1 8-2M351 738l8 1 3 2 -2 2 -7 2 -7-1 -2-2 1-2 6-2M741 601l6 1 2 1 1 2 -4 2 -6 1 -7-1 -3-2 1-1 2-2 8-1M283 705l7 1 3 2 -3 2 -5 1 -8 0 -3-2 0-2 1-1 8-1M204 664l8 1 4 2 -3 0 -5 0 -4-1 -1-1 1-1"/><path stroke="#4554f1" d="M876 669l6 0 6 1 5 2 1 2 -7 3 -10 0 -9-2 -3-2 2-2 9-2M425 769l9 2 3 2 0 2 -3 3 -4 1 -8 2 -8-2 -5-3 0-2 2-2 7-2 7-1M805 633l6 0 7 0 5 3 2 2 -4 3 -11 2 -10 0 -6-3 -1-1 3-3 9-3M347 737l7-1 8 1 4 1 2 3 -2 2 -3 2 -11 2 -7-1 -7-4 0-1 2-2 7-2M737 599l12 1 5 3 1 2 -6 3 -11 2 -8-1 -5-2 0-3 3-2 9-3M279 703l14 0 5 2 2 2 -3 3 -4 2 -10 1 -9-1 -6-4 0-1 2-1 9-3M667 565l4 0 5 2 2 3 0 2 -4 2 -7 2 -7-1 -3-2 -1-3 2-3 5-2 4 0M189 662l16 0 14 1 7 2 3 3 -1 1 -5 1 -12 0 -21-4 -6-3 5-1"/><path stroke="#3e6efe" d="M513 809l2 2 0 2 -3 0 -3-3 0-1 4 0M871 667l7 0 10 1 10 4 3 2 0 2 -2 1 -5 1 -18 1 -14-2 -4-3 0-2 3-2 10-3M419 768l8-1 8 1 6 2 1 3 0 1 -2 3 -5 3 -7 2 -6 1 -9-2 -6-2 -2-3 0-2 2-2 12-4M806 631l6 0 9 2 5 2 3 4 -2 2 -6 2 -15 2 -11-1 -4-1 -3-3 1-3 4-2 13-4M349 735l11-1 7 1 5 3 1 3 -2 2 -4 2 -12 3 -8 0 -5-1 -6-3 -2-2 0-2 3-2 12-3M738 597l8 1 5 1 7 4 1 3 -3 2 -5 1 -15 3 -11-1 -4-2 -2-2 1-3 4-3 6-2 8-2M280 702l11-1 7 1 6 2 2 3 -2 2 -6 3 -7 2 -8 1 -12-2 -6-3 -2-2 1-2 3-2 13-2M667 562l5 1 8 3 3 4 0 3 -8 3 -11 2 -8-1 -4-3 -1-3 3-5 7-4 6 0M174 660l16 0 29 1 14 3 4 2 1 3 -3 2 -4 1 -10 1 -9-1 -41-9 -1-2 4-1M254 636l10 0 4 2 -3 2 -8 1 -6 0 -5-1 2-2 6-2M486 571l4 0 2 2 -1 1 -5 2 -3 0 -5-1 2-2 6-2M573 545l5 0 0 2 -4 2 -4 0 0-2 3-2"/><path stroke="#3088f2" d="M599 799l4 1 3 2 -2 1 -6 3 -4 1 -4-1 -1-1 1-2 2-2 7-2M918 711l8 1 -7 2 -8-1 3-1 4-1M506 801l6-1 5 2 5 3 3 3 0 4 -1 5 -3 7 -3 3 -4 1 -3-2 -4-7 -9-10 0-3 1-2 7-3M828 736l3 0 1 1 -4 2 -5 1 -5-2 4-2 6 0M872 666l10-1 9 2 12 5 6 4 -1 2 -8 1 -24 1 -16-1 -7-2 -3-2 -1-2 2-1 3-2 18-4M421 766l10-1 9 1 5 3 2 4 -2 3 -4 3 -8 3 -8 2 -7 0 -6-1 -7-4 -4-3 0-3 4-2 16-5M806 630l9 0 8 2 9 4 1 4 -3 2 -10 3 -17 2 -13-1 -6-3 -2-2 2-3 4-3 9-3 9-2M349 733l11 0 9 0 8 4 2 2 0 2 -4 3 -6 2 -15 4 -7 0 -6-2 -7-3 -4-3 0-2 3-2 16-5M739 596l7 0 8 2 7 4 1 2 1 2 -3 2 -7 2 -18 4 -12-1 -6-2 -3-3 1-3 5-4 10-4 9-1M268 702l13-2 15 0 11 2 4 2 1 2 -4 4 -10 4 -11 2 -9 0 -12-4 -7-4 0-2 1-1 8-3M665 558l8 3 10 5 4 3 1 2 -1 2 -7 4 -15 4 -10 0 -6-3 -3-5 0-2 2-4 10-8 7-1M168 659l15-1 43 3 16 4 5 2 1 3 -3 2 -11 2 -10 1 -10-1 -46-9 -5-3 1-2 4-1M568 562l3 1 2 3 0 3 -2 3 -7 3 -4 1 -4-2 -1-3 1-1 6-5 6-3M581 541l3 2 -1 3 -3 5 -6 4 -5 1 -5-4 -1-4 3-3 8-3 7-1M256 634l14 0 4 2 2 2 -5 3 -15 2 -10 0 -7-3 1-1 4-2 12-3M483 570l11-1 4 2 1 2 -5 3 -9 3 -9 0 -5-3 1-2 3-2 8-2M344 611l8 0 3 2 0 1 -4 2 -5 1 -8-1 -2-2 3-2 5-1"/><path stroke="#1e9fe3" d="M597 796l10 0 5 2 2 3 -1 1 -3 2 -14 5 -9 1 -4-2 -1-3 3-4 5-3 7-2M893 710l30-1 11 1 2 0 0 1 -11 4 -12 2 -10-1 -15-5 5-1M510 794l5 0 6 2 7 6 3 6 0 5 -4 13 -3 2 -6 3 -7 0 -5-2 -4-9 -11-12 1-4 4-4 7-4 7-2M686 773l7 1 3 2 1 1 -5 3 -9 2 -5-1 -5-3 1-1 3-2 9-2M824 733l13 0 4 2 1 1 0 1 -7 3 -14 3 -10-1 -4-3 1-2 4-2 12-2M749 757l4 0 4 2 -1 1 -6 1 -5-2 1-2 3 0M833 706l11-1 13 1 17 2 5 2 0 1 -21 2 -16 0 -9-1 -5-3 1-2 4-1M614 771l6 3 1 1 0 1 -4 3 -5 1 -6-1 -2-2 -1-1 2-3 5-1 4-1M858 667l17-3 14 1 20 7 18 9 4 3 -20-3 -32 1 -14 0 -16-3 -7-2 -3-2 0-2 3-2 16-4M530 769l1 1 0 2 -3 4 -5 2 -3-1 -1-1 0-3 2-2 4-2 5 0M424 764l9-1 11 1 7 4 1 2 0 3 -3 3 -8 5 -11 4 -8 1 -6 0 -6-3 -9-4 -4-3 0-3 4-2 23-7M777 672l8 0 3 2 -5 2 -6 0 -5 0 -5-1 2-2 8-1M806 628l10 0 8 2 10 6 3 2 0 2 -3 2 -9 3 -23 4 -15-1 -7-2 -4-3 0-3 6-5 11-4 13-3M458 736l4 2 0 1 -2 2 -9 1 -3-2 0-1 2-1 8-2M350 732l13-2 9 1 11 4 2 2 0 2 -2 3 -7 4 -12 3 -10 3 -8-1 -7-2 -9-4 -4-3 0-2 1-1 4-2 19-5M739 594l8 1 9 3 9 4 2 3 0 1 -3 2 -9 3 -23 5 -9 0 -6-1 -4-2 -4-3 -1-3 1-1 5-4 12-5 13-3M380 704l9-1 4 1 1 1 -4 2 -6 1 -4 0 -4-2 1-1 3-1M268 701l19-3 14 0 14 3 3 2 1 3 -4 3 -13 5 -13 3 -11 0 -14-4 -7-3 -3-3 0-2 2-1 12-3M641 603l4 1 0 2 -2 2 -6 2 -5-1 -1-1 2-3 8-2M644 543l12 5 29 17 6 5 1 1 -1 2 -9 5 -18 6 -13 0 -6-2 -4-5 0-5 3-5 7-8 2-3 -1-3 -9-7 -1-2 2-1M307 670l15 0 6 2 -5 1 -10 1 -8-1 -4-1 6-2M169 658l11-1 50 3 22 5 8 3 3 2 -5 3 -11 2 -16 1 -11 0 -52-10 -8-2 -2-2 0-1 2-1 9-2M584 539l4 2 0 3 -8 13 0 3 1 9 -3 6 -6 4 -9 3 -8-1 -7-4 -1-2 0-3 11-10 3-4 0-2 -3-7 1-2 3-2 6-2 16-4M323 635l8-1 8 0 6 3 3 2 1 1 -3 3 -5 1 -13 1 -14-2 -5-1 -3-2 3-2 14-3M469 594l5 0 5 2 3 2 0 3 -4 2 -7 0 -7-2 -3-2 0-1 1-1 7-3M257 632l7 0 7 1 10 3 4 3 -1 1 -7 2 -21 2 -14 0 -6-1 -3-2 1-2 6-2 17-5M486 567l7-1 6 2 4 3 0 2 -2 3 -6 2 -12 3 -10 0 -6-3 -1-2 1-2 3-2 16-5M347 608l10 2 3 1 2 3 -3 2 -4 2 -12 1 -10-1 -4-3 1-2 3-2 14-3M408 591l5 0 5 1 3 2 1 2 -3 2 -8 1 -6 0 -6-3 0-2 2-1 7-2"/><path stroke="#09b3d2" d="M548 729l3 1 5 5 1 4 0 2 -1 4 -11 11 0 3 2 9 -2 5 -12 12 -2 5 0 4 5 8 1 4 -1 4 -3 10 -2 6 -4 4 -9 3 -5 1 -6-1 -8-5 -2-8 -10-11 -1-4 3-4 11-10 3-3 1-4 0-8 2-4 18-16 2-4 -1-9 2-4 5-5 7-4 4-1 5 0M613 763l6 1 6 3 8 5 1 2 0 2 -3 2 -17 8 -4 3 1 3 9 7 1 3 -8 4 -19 5 -8 2 -6-1 -3-5 1-4 5-5 13-7 3-3 -1-2 -6-8 -1-3 1-3 4-3 6-3 11-3M684 769l5 1 7 2 7 3 2 3 -3 2 -7 2 -16 3 -8-2 -5-3 -1-2 1-3 3-2 15-4M810 732l12-2 11 0 12 2 4 2 2 2 -4 3 -10 3 -12 3 -9 1 -8-2 -11-5 0-2 2-1 11-4M734 701l16-2 13 0 40 4 47-2 41 5 44 2 7 1 3 0 0 1 -20 7 -15 2 -30-4 -44 2 -29-6 -9-1 -33 2 -12 0 -14-3 -16-5 0-1 11-2M743 753l7-1 6 1 8 4 3 2 0 1 -9 3 -11 2 -9-2 -5-5 0-1 1-1 9-3M683 666l15 0 26 6 7 0 38-5 13-1 12 1 20 4 9 0 12-1 37-7 12-1 14 3 20 8 21 10 11 6 0 2 -9-1 -29-7 -50 1 -40-6 -49 3 -17-1 -27-4 -28 2 -13-1 -13-1 -4-2 -3-2 1-2 2-1 12-3M742 728l9-1 11 2 11 4 3 2 0 1 -4 3 -10 2 -7 1 -7 0 -12-5 -5-5 3-2 8-2M683 747l7 1 6 3 5 2 2 3 -2 2 -4 1 -9 1 -9-3 -5-3 -2-2 1-2 2-1 8-2M618 738l6 1 7 4 3 3 0 3 -5 3 -10 2 -6 0 -7-4 -2-5 1-3 5-3 8-1M682 723l11 2 4 3 -3 3 -8 0 -8-2 -4-3 0-2 1-1 7 0M439 758l8 1 7 3 5 6 0 4 -3 3 -7 4 -23 9 -5 1 -9-2 -16-8 -4-4 1-3 8-3 25-8 13-3M673 697l18 1 19 4 -1 1 -11 2 -10 1 -8-1 -8-2 -5-3 0-1 1-1 5-1M807 627l10-1 7 3 17 8 2 2 0 1 -7 3 -17 5 -13 2 -11 1 -9 0 -8-2 -8-3 -4-3 0-2 1-1 6-4 34-9M462 728l7 1 7 3 3 4 -2 4 -4 4 -8 3 -9 3 -8 1 -3 0 -6-2 -7-4 -3-4 1-3 6-3 13-5 13-2M549 711l4 2 0 2 -2 3 -4 0 -2-3 0-2 1-1 3-1M354 729l14-1 9 0 13 5 4 3 0 2 -4 4 -8 3 -21 7 -11 2 -5-1 -7-2 -13-6 -5-4 1-2 6-2 27-8M710 631l8 0 8 2 7 4 2 3 -2 2 -8 4 -13 3 -9 1 -9-1 -5-1 -5-3 -2-2 0-3 5-3 11-4 12-2M464 702l8 0 9 1 5 3 2 2 -2 2 -5 3 -11 2 -10-2 -8-5 0-2 1-1 11-3M742 592l7 1 10 4 10 5 3 4 -4 3 -13 4 -17 4 -13 2 -8 0 -7-2 -7-4 -2-4 1-3 9-5 20-7 11-2M372 699l16-2 12 1 11 2 4 2 2 2 -1 2 -3 2 -9 3 -12 3 -11 1 -14-2 -10-4 -5-3 0-1 3-2 17-4M641 540l16 6 19 10 16 10 3 3 1 2 -1 2 -3 3 -28 11 -7 4 -1 3 5 9 0 2 -1 2 -5 5 -20 9 -4 3 0 3 7 9 0 3 -2 2 -5 3 -7 2 -6 1 -5-1 -5-3 -2-4 2-4 13-11 -5-10 0-6 5-5 16-12 1-4 -4-9 0-4 3-5 8-8 2-3 -1-4 -9-11 -1-2 1-1 4 0M471 676l7 1 4 2 -6 1 -11-2 1-1 5-1M267 700l21-4 16 0 18 3 9 3 2 3 -3 2 -12 4 -24 6 -13 2 -7 0 -9-3 -15-7 -4-4 4-2 17-3M170 656l7 0 53 2 47 7 44 0 44 4 42-1 18 3 10 3 2 2 -4 1 -9 2 -19 1 -45-4 -46 3 -43-3 -50 2 -13-2 -22-6 -22-3 -6-2 -5-3 2-2 15-4M547 624l5 4 2 4 0 4 -3 2 -4 2 -6 0 -6-3 -3-3 0-3 3-3 7-4 5 0M587 537l3 1 1 3 -1 5 -5 11 2 12 -1 6 -5 5 -13 10 -1 3 2 10 -3 6 -6 4 -9 5 -2 1 -5-1 -9-7 -2-5 2-5 11-7 3-4 0-3 -8-9 -1-3 3-4 10-8 3-4 0-4 -2-7 2-2 6-3 25-6M398 640l8-1 11 1 10 4 3 2 0 1 -2 2 -6 1 -13 1 -15-3 -7-4 3-2 8-2M473 621l4 1 6 2 4 3 0 2 -4 2 -8-1 -6-2 -3-2 -1-2 2-1 6-2M259 630l11 0 20 5 8 1 31-5 11 0 14 5 9 4 2 2 -4 3 -7 1 -23 2 -12-1 -24-4 -45 3 -15-2 -9-3 1-1 6-3 26-7M476 589l7 3 8 5 2 4 -1 3 -3 2 -7 2 -9 1 -14-5 -5-2 -3-3 2-3 4-2 11-3 8-2M399 611l7 0 8 2 8 5 2 2 0 2 -6 3 -11 0 -12-4 -6-3 -2-2 4-2 8-3M343 607l7-1 6 1 10 4 3 4 -2 1 -7 3 -16 3 -11-2 -7-3 -3-2 0-2 3-2 17-4M490 565l7-1 5 1 5 5 1 2 0 2 -3 2 -7 4 -11 3 -8 2 -9-2 -8-5 -2-2 0-2 5-3 25-6M403 589l10-1 5 1 9 5 2 2 0 1 -8 4 -11 1 -10-2 -8-5 0-1 1-1 10-4"/><path stroke="#22bfb2" d="M580 721l-6 2 -4 4 0 4 4 8 0 3 -2 2 -11 8 -3 4 -1 5 1 7 -1 4 -12 12 -4 5 -1 5 3 7 0 5 -6 14 -1 3 1 2 3 1 7-1 26-8 1-3 -3-7 1-4 4-4 8-7 3-3 0-3 -7-9 0-3 3-5 11-7 3-4 -1-4 -7-8 -1-3 1-3 9-7 1-3 -1-3 -6-4 -7-2 -5 0M646 778l-12 4 -10 4 -4 3 0 3 3 3 5 3 8 1 24-7 6-2 3-2 -3-3 -9-5 -5-1 -6-1M715 761l-13 3 -3 2 0 2 6 4 10 3 13-2 7-3 1-1 -1-3 -7-3 -8-2 -5 0M770 744l-9 3 -1 1 0 1 7 5 10 3 6 0 9-3 11-3 3-2 -2-2 -4-2 -12-3 -7 0 -11 2M773 716l-13 3 -2 1 17 8 13 3 11 0 23-4 10-1 29 7 7 0 10-3 19-5 5-3 -2-2 -5-1 -14-2 -14 1 -31 3 -36-6 -12-1 -15 2M642 680l-5 1 -2 1 0 2 6 3 7 1 34 1 37 6 44 0 42 4 47-1 46 6 52 3 13-1 9-3 3-2 -3-2 -9-3 -21-3 -23-6 -12-2 -49 1 -44-3 -47 3 -42-4 -42 2 -29-4 -12 0M509 714l-14 4 -6 3 -2 2 0 4 6 9 0 3 -4 3 -19 9 -5 4 -1 2 0 2 5 9 -1 4 -9 5 -26 11 -3 4 1 2 17 11 17 9 19 8 3 1 3 0 1-2 -1-2 -9-10 0-4 2-3 8-8 3-5 1-5 -3-9 1-3 3-3 12-8 4-5 2-5 -3-9 0-3 2-3 9-7 3-5 -1-4 -4-3 -6-3 -5 0M647 753l-11 4 -2 3 -1 1 1 2 3 3 10 6 6 1 6-1 12-4 5-3 0-2 -3-2 -10-5 -8-3 -8 0M708 737l-6 3 0 2 5 4 9 5 6 0 7 0 7-2 3-2 -3-4 -12-5 -9-1 -7 0M706 711l-11 2 -1 1 -1 2 4 2 7 4 14 3 14-1 15-5 -5-2 -15-5 -10-1 -11 0M644 730l-5 1 -2 3 2 4 7 3 5 2 5 0 7-2 3-2 -1-3 -7-4 -8-2 -6 0M838 644l-51 14 6 2 14 5 19 2 23-1 34-7 0-2 -7-4 -19-8 -9-2 -10 1M644 707l-4 1 0 2 8 4 9 1 6-1 2-2 -3-2 -6-2 -12-1M397 744l-34 9 -7 2 -2 2 2 3 10 5 12 5 6 1 8-1 23-7 10-4 3-4 0-3 -2-2 -11-6 -8-1 -10 1M735 649l-22 5 -5 2 -2 2 3 2 8 4 8 1 12 1 22-2 25-6 -15-6 -13-4 -9-1 -12 2M776 609l-13 3 -22 7 -8 4 -1 1 0 2 3 3 9 4 8 2 8 1 12-2 20-5 14-4 2-2 -3-4 -13-6 -8-4 -8 0M414 714l-19 5 -5 3 -1 1 4 4 9 4 7 2 5 1 9-2 14-4 8-3 4-4 -1-2 -2-2 -10-4 -10-1 -12 2M657 646l-8 1 -9 3 -3 3 -1 3 2 2 5 3 11 1 16-1 7-2 4-2 -1-3 -8-4 -8-3 -7-1M508 694l-2 0 0 2 6 2 3 1 3-1 0-1 -5-3 -5 0M319 713l-28 7 -8 3 1 1 4 3 13 6 8 4 7 0 13-3 24-7 8-3 3-2 0-1 -2-2 -5-3 -14-4 -13-1 -11 2M682 609l-16 4 -14 7 -5 5 1 4 3 3 5 3 5 1 5 0 21-5 8-3 5-3 1-3 -3-3 -16-10M175 671l-3 0 7 5 24 11 26 11 13 3 12 0 34-7 15-1 11 0 21 4 12 1 49-6 10 1 21 4 12 1 19-3 6-3 1-1 -3-2 -7-3 -16-2 -39 2 -31-4 -15-1 -45 3 -43-5 -47 0 -11-1 -24-6 -9-1M614 529l-14 4 -5 3 -1 7 -5 13 0 4 5 10 0 4 -2 4 -12 12 -1 5 1 8 0 4 -12 14 0 5 6 11 0 3 -6 6 -1 4 3 2 5 3 8 0 5-3 1-3 -3-8 0-3 14-11 4-4 1-3 -1-9 1-4 4-3 15-13 2-4 -1-8 2-4 2-4 11-10 3-4 -1-4 -9-10 -3-9 -10-5 -6 0M705 573l-21 8 -11 5 -5 5 -1 3 1 2 7 7 8 4 44-13 10-5 -1-2 -9-6 -15-7 -7-1M212 643l-22 6 -10 4 11 2 43 2 44 5 48-2 45 4 38-2 28 4 13 1 10 0 7-2 -1-3 -4-1 -14-5 -11 0 -27 1 -37-7 -42 2 -11-1 -29-6 -41 2 -12-1 -19-3 -7 0M508 637l-7 2 -1 2 0 2 5 3 5 1 7 0 3-2 0-2 -4-3 -8-3M510 606l-15 5 -3 2 -2 3 6 6 12 4 7 0 8-3 3-4 -1-4 -9-8 -6-1M436 630l-8 1 -2 3 5 4 11 3 11 0 6-2 -2-3 -7-4 -8-2 -6 0M544 549l-20 5 -18 6 -1 1 0 2 7 7 2 3 -4 4 -19 8 -2 2 1 3 7 5 14 7 4 0 4-1 15-7 4-4 1-3 -1-4 -4-6 0-3 15-11 4-5 -1-3 -2-3 -3-2 -3-1M359 622l-15 3 -1 2 18 7 14 2 16-1 7-2 3-2 -2-3 -5-2 -14-6 -8-1 -13 3M436 601l-12 3 -4 2 -1 1 2 2 5 3 14 5 11 0 5-1 3-2 1-2 -2-2 -7-5 -7-3 -8-1M307 617l-26 7 -6 2 -1 2 10 4 14 2 18-2 22-6 -19-9 -5-1 -7 1M373 598l-11 3 -4 3 2 2 8 3 10 3 13-2 7-2 1-2 -2-4 -10-4 -5-1 -9 1M444 577l-19 6 -4 2 0 1 3 3 7 4 7 2 4 0 16-4 6-2 2-3 -2-3 -8-5 -5-1 -7 0"/><path stroke="#4ec886" d="M563 782l-8 3 -4 4 -1 5 3 7 0 3 -11 13 -1 3 1 3 5 0 8-2 9-3 4-3 0-2 -5-7 0-3 12-10 2-5 -1-2 -3-3 -5-1 -5 0M639 784l-10 4 -2 2 0 3 5 3 8-1 15-3 5-3 0-2 -2-2 -6-2 -8 0 -5 1M861 720l-10 3 -2 1 -1 1 7 4 12 1 18-3 7-3 1-2 -3-1 -9-2 -20 1M881 688l-11 2 -5 3 5 2 12 4 25 4 47 2 11-1 3-1 1-2 -3-2 -5-1 -22-4 -27-6 -15-1 -16 1M777 745l-6 3 -1 1 0 2 5 2 7 1 12-3 3-2 -3-2 -5-2 -12 0M713 765l-2 1 -1 2 0 1 4 2 7 0 5-2 0-2 -4-1 -9-1M794 719l-9 1 -3 2 3 3 9 2 11-1 5-1 2-2 0-1 -4-2 -14-1M468 778l-12 3 -15 5 -5 3 0 4 6 5 23 13 10 4 4 1 -4-6 -1-3 2-3 10-10 2-3 0-5 -3-4 -5-3 -5-2 -7 1M653 762l-2 1 2 1 3 1 2-1 0-1 -2-1 -3 0M802 688l-8 2 -2 1 7 2 12 1 16-1 6-1 1-1 -5-2 -9-1 -18 0M838 646l-15 3 -11 4 -5 3 0 3 5 3 7 2 18 1 12-1 17-3 7-2 1-1 1-2 -7-5 -12-5 -8-1 -10 1M491 750l-7 2 -4 3 -1 2 0 2 3 2 6 1 7-2 4-3 1-4 -2-2 -7-1M387 748l-22 6 -3 1 -2 2 0 1 4 4 9 4 7 2 7 1 10-2 14-4 7-4 2-4 0-2 -3-2 -8-4 -10-1 -12 2M741 653l-10 3 -2 1 0 2 4 1 9 1 9-1 5-3 -1-2 -4-1 -10-1M773 611l-12 3 -13 4 -5 4 -2 1 1 3 4 3 6 2 6 1 9 1 23-5 9-3 3-3 -2-3 -11-5 -7-3 -9 0M416 720l-4 2 0 1 3 2 5 0 6-1 3-2 -1-1 -5-2 -7 1M316 715l-20 5 -6 2 0 2 3 3 9 5 6 2 8 1 9-1 14-4 10-4 4-3 0-3 -3-2 -9-3 -11-1 -14 1M673 619l-9 3 -2 2 0 2 4 2 7 0 7-2 3-2 1-1 0-2 -3-2 -8 0M702 576l-12 4 -11 5 -5 5 1 4 4 4 3 1 6 1 7 0 23-5 10-3 4-3 -1-2 -2-2 -11-6 -9-3 -7 0M345 686l-9 1 -3 2 6 3 9 1 13-2 6-2 -2-2 -5-1 -15 0M185 674l-4 0 4 3 9 4 34 14 13 4 8 0 15-2 20-5 4-1 3-2 -2-3 -4-1 -14-3 -16-2 -40 1 -30-7M607 581l-7 3 -6 4 -2 3 1 4 4 2 4 0 6-3 3-2 3-4 0-2 -3-4 -3-1M614 530l-10 3 -5 3 -6 14 0 5 1 5 4 5 7 5 6 2 8-1 11-6 7-5 2-4 -2-4 -7-9 -4-9 -5-3 -7-1M212 645l-16 3 -9 4 4 2 7 1 37 1 45 4 22-2 7-2 0-2 -3-2 -6-2 -12-3 -43 1 -23-3 -10 0M517 578l-16 6 -3 2 0 3 6 4 10 2 8-2 7-4 2-4 -3-5 -5-2 -6 0M369 623l-8 1 -3 2 0 1 5 3 10 2 10-1 3-2 -1-2 -5-3 -5-1 -6 0M436 606l-2 1 1 1 4 1 3 0 0-1 -2-1 -4-1M538 552l-22 6 -5 3 0 2 4 4 7 4 4 0 7-2 11-5 5-5 0-4 -3-2 -8-1M302 619l-17 5 -3 2 -1 2 4 2 5 1 12 1 17-3 6-2 2-2 -1-1 -2-2 -7-3 -6 0 -9 0M377 600l-8 1 -3 2 -1 1 5 3 8 2 9-1 4-3 -1-2 -3-2 -10-1M439 580l-9 3 -3 2 0 2 6 4 10 1 12-2 3-2 2-2 -1-3 -5-2 -7-1 -8 0"/><path stroke="#88cb55" d="M556 813l-6 2 -2 3 0 1 6 0 6-3 0-1 -1-1 -3-1M644 786l-7 2 -1 2 -1 1 3 1 6 0 5-1 3-2 -3-2 -5-1M871 722l-8 1 -3 2 2 2 7 1 11-2 4-2 -3-2 -10 0M895 690l-8 1 -2 1 0 2 3 2 6 2 19 3 37 2 6 0 4-2 -5-2 -18-3 -21-5 -11-2 -10 1M465 781l-11 3 -9 3 -5 3 0 3 5 4 12 6 7 2 5-1 11-8 2-4 1-3 -2-3 -5-3 -5-2 -6 0M837 647l-18 6 -3 2 -1 3 3 2 6 2 16 1 21-2 7-3 2-2 -2-2 -3-2 -10-4 -8-2 -10 1M387 749l-18 5 -3 2 -2 1 0 2 4 3 7 3 7 2 6 0 7-1 9-3 6-2 4-4 0-1 -1-3 -7-3 -9-1 -10 0M770 613l-10 2 -8 4 -4 3 0 3 3 2 7 3 11 1 19-4 7-2 3-3 -2-3 -9-5 -9-1 -8 0M315 717l-17 4 -4 2 0 2 3 2 7 4 12 2 10 0 9-3 8-4 3-3 0-1 -2-2 -8-4 -12 0 -9 1M699 579l-9 3 -7 4 -3 3 0 4 4 3 5 1 12 1 18-4 6-3 2-2 0-2 -2-3 -9-4 -9-2 -8 1M220 683l-5 1 0 1 3 3 11 6 15 4 10 0 13-3 9-3 4-3 -2-2 -4-2 -15-3 -19 0 -20 1M611 533l-6 2 -4 4 -5 12 0 4 1 3 7 5 10 3 10-2 7-3 4-4 -1-4 -8-10 -3-7 -2-2 -4-2 -6 1M200 649l-4 1 -2 2 4 1 10 1 36-1 29 4 14-1 5-3 -2-2 -9-1 -36 1 -28-4 -8 0 -9 2M517 583l-6 1 -2 2 0 1 4 2 5-1 2-3 -1-1 -2-1M535 554l-14 4 -4 2 -1 3 1 2 4 2 8 0 11-3 5-5 0-2 -2-2 -2-1 -6 0M302 621l-12 4 -3 2 1 1 7 2 10 0 11-2 3-2 1-1 -2-3 -5-1 -11 0M442 582l-7 2 -2 2 3 2 7 2 8-2 3-2 -1-2 -2-1 -9-1M377 603l-3 1 0 1 5 1 2-1 1-1 -5-1"/><path stroke="#cbc032" d="M906 693l-3 1 -1 1 3 2 8 1 9 1 6-1 -13-4 -9-1M460 784l-13 4 -3 2 0 3 7 5 10 3 8-1 5-3 3-3 0-5 -3-3 -8-2 -6 0M839 648l-14 4 -3 3 0 3 2 2 5 1 12 1 15-2 7-2 2-2 0-1 -2-2 -8-4 -9-1 -7 0M384 751l-12 4 -3 2 -1 2 2 2 6 3 7 2 5 0 8-1 6-3 5-3 2-2 0-1 -2-3 -7-2 -7 0 -9 0M772 614l-8 2 -6 2 -4 3 0 3 2 2 4 2 12 1 14-3 7-2 1-2 0-1 -2-3 -6-2 -6-2 -8 0M314 718l-12 3 -3 2 -1 2 2 2 4 2 8 3 5 0 9-1 7-2 6-3 2-3 -2-2 -6-3 -9-1 -10 1M697 581l-7 3 -4 3 -1 3 1 3 6 2 12 1 13-3 4-2 3-2 0-2 -2-2 -9-4 -8-1 -8 1M230 685l-5 1 0 2 7 5 13 3 15-1 9-3 2-2 0-1 -3-2 -11-3 -14 0 -13 1M612 535l-5 2 -4 5 -3 8 0 6 5 4 8 2 9-1 6-2 3-4 -2-4 -10-15 -3-1 -4 0M532 556l-9 3 -2 2 0 2 4 1 5 1 7-3 3-3 -2-2 -6-1M305 623l-8 1 -2 2 0 1 2 1 8 0 5-1 3-2 -3-2 -5 0M209 649l-7 2 2 1 8 0 9-1 0-1 -3-1 -9 0"/><path stroke="#eec72d" d="M461 787l-10 2 -3 3 1 1 4 3 8 2 6-1 5-3 0-3 -2-2 -4-2 -5 0M836 650l-8 4 -1 2 1 1 6 3 13 0 9-2 4-2 1-1 -4-3 -7-2 -8-1 -6 1M383 753l-9 3 -2 2 0 1 6 4 10 1 10-2 4-2 2-2 -2-3 -4-2 -7-1 -8 1M772 616l-10 3 -3 2 0 2 6 3 11 1 10-2 4-3 -1-3 -6-2 -11-1M314 720l-10 2 -2 3 1 1 6 3 9 2 11-2 4-2 2-3 0-2 -2-1 -4-1 -8-1 -7 1M705 582l-6 0 -6 3 -3 2 0 3 5 3 9 1 11-2 5-3 -1-3 -3-2 -7-2 -4 0M240 686l-6 1 -2 1 0 1 6 4 9 2 12-2 4-2 1-1 -3-3 -6-1 -15 0M611 540l-3 2 -4 5 -1 4 2 3 4 3 5 2 7-1 4-2 1-3 -3-5 -8-8 -4 0"/><path stroke="#fbdb29" d="M461 791l-3 0 -2 2 4 1 3-1 1-1 -3-1M842 651l-7 2 -1 3 3 1 8 1 8-1 2-2 0-1 -4-2 -9-1M386 755l-7 1 -2 2 0 1 5 3 6 0 5 0 5-4 0-2 -2-1 -10 0M775 617l-8 2 -2 1 0 2 3 2 6 1 7-1 4-2 0-2 -3-2 -7-1M311 722l-4 2 0 1 2 2 4 1 11 0 5-3 -1-2 -4-2 -13 1M705 584l-7 1 -3 4 3 2 7 1 7-2 3-2 -1-2 -1-1 -8-1M246 688l-4 2 1 1 6 1 3-1 1-1 -2-1 -5-1M613 546l-2 1 -2 2 0 1 1 3 4 1 5-1 0-2 -1-2 -5-3"/></g>
<g stroke-width="1.4" stroke-linejoin="round" transform="scale(.5)"><path fill="url(#a94)" stroke="url(#a94)" d="M147 464l471-134 3 2 -4-32 -3-18 -4-6 -4 4 -4 13 -20 108 -4 13 -4 7 -4 0 -4-7 -4-11 -16-68 -8-29 -4-9 -3-5 -4-1 -4 4 -8 19 -24 93 -8 19 -4 4 -4 0 -4-4 -4-8 -20-63 -3-9 -4-7 -4-1 -4 3 -4 9 -16 62 -4 12 -4 7 -4 0 -4-6 -20-53 -4-5 -4 0 -4 6 -3 12 -16 63 -4 8 -4 4 -4-2 -4-6 -4-10 -20-62 -4-8 -4-4 -4 0 -4 4 -8 19 -23 93 -8 19 -4 4 -4-1 -4-5 -4-9 -8-29 -16-69 -4-11 -4-6 -4 0 -3 7 -4 13 -20 108 -4 12 -4 5 -4-7 -4-18 -4-31z"/><path fill="url(#a93)" stroke="url(#a93)" d="M151 466l2 23 4 10 4 0 4-8 3-14 16-68 4-10 4-6 4 0 4 4 4 8 16 48 8 19 4 6 4 3 4 1 4-3 8-11 19-47 8-17 8-9 4-2 4 0 4 2 4 4 20 31 4 5 4 2 4 0 3-2 4-6 16-35 4-7 4-4 4-1 4 3 20 26 4 2 4 0 4-4 4-7 15-36 4-5 4-3 4 0 4 3 4 4 20 32 4 4 4 2 4 0 4-2 8-10 8-16 19-47 8-12 4-2 4 0 4 3 4 6 8 20 16 48 4 8 4 4 4-1 4-5 4-11 15-68 4-14 4-8 4 0 4 11 6 25 4 2 -4-45 -4-30 -4-16 -4-3 -4 11 -3 22 -16 134 -4 26 -4 17 -4 7 -4-3 -4-12 -8-44 -16-111 -4-19 -4-13 -4-6 -4 2 -4 10 -3 16 -8 47 -16 109 -8 34 -4 8 -4 0 -4-7 -4-14 -20-116 -4-18 -4-12 -4-4 -4 5 -3 14 -16 107 -4 20 -4 10 -4 0 -4-11 -20-97 -4-10 -4-1 -4 10 -4 20 -15 107 -4 15 -4 5 -4-4 -4-12 -4-19 -20-115 -4-14 -4-7 -4 0 -4 7 -8 34 -19 135 -8 38 -4 9 -4 2 -4-5 -4-13 -8-44 -16-111 -4-20 -4-12 -4-3 -4 7 -4 18 -4 26 -15 134 -4 22 -4 10 -4-2 -4-17 -4-30 -4-44z"/><path fill="url(#a92)" stroke="url(#a92)" d="M155 468l1 45 4 28 4 11 4-4 4-17 20-156 4-21 4-11 4-1 4 8 4 17 24 151 4 15 3 9 4 2 4-4 4-11 4-17 24-142 4-17 4-12 4-5 4 0 4 7 4 13 19 102 4 16 4 11 4 3 4-5 4-13 16-96 4-18 4-9 4 0 4 9 20 87 4 9 4 1 3-10 4-18 16-96 4-13 4-4 4 3 4 10 4 16 20 102 4 13 4 7 4 0 4-5 4-12 3-17 24-142 4-16 4-11 4-5 4 2 4 9 4 16 24 151 4 16 4 8 4-1 3-11 4-21 20-156 4-16 4-4 4 10 10 76 4 1 -8-75 -4-26 -4-13 -4 0 -4 15 -4 26 -15 151 -4 27 -4 17 -4 6 -4-5 -4-14 -4-23 -20-151 -4-19 -4-11 -4-3 -4 7 -4 16 -4 22 -19 158 -8 43 -4 10 -4 2 -4-8 -4-15 -8-50 -12-88 -4-23 -4-15 -4-5 -4 5 -4 17 -15 125 -4 23 -4 12 -4-1 -4-12 -20-115 -4-12 -4-1 -4 12 -4 23 -16 125 -4 17 -4 5 -4-5 -3-15 -4-23 -12-88 -8-49 -4-16 -4-7 -4 1 -4 10 -4 18 -8 55 -16 128 -4 23 -4 15 -4 7 -3-3 -4-11 -4-19 -20-151 -4-23 -4-14 -4-5 -4 6 -4 17 -4 27 -16 151 -4 26 -4 15 -4 0 -3-13 -4-26 -8-75z"/><path fill="url(#a91)" stroke="url(#a91)" d="M159 470l1 48 4 36 4 22 4 6 4-8 4-22 20-188 4-23 4-11 4 0 4 12 4 20 15 131 8 57 4 17 4 8 4 0 4-10 8-44 16-135 8-55 4-18 4-9 4 0 4 9 4 17 7 52 12 92 4 23 4 16 4 5 4-6 4-17 16-131 4-25 4-12 4 1 4 13 19 121 4 13 4 1 4-12 4-25 16-131 4-17 4-6 4 5 4 16 4 23 12 92 8 52 4 17 4 9 3 0 4-10 4-17 8-56 16-134 8-44 4-10 4-1 4 9 4 17 8 56 16 131 3 21 4 12 4 0 4-12 4-23 20-187 4-22 4-8 4 6 4 22 10 86 4 2 -12-91 -4-25 -4-12 -4 1 -4 16 -4 28 -16 151 -4 27 -3 16 -4 6 -4-5 -4-14 -8-49 -12-88 -4-22 -4-16 -4-7 -4 1 -4 10 -4 18 -24 172 -3 19 -4 11 -4 4 -4-6 -4-13 -4-20 -20-128 -4-15 -4-5 -4 4 -4 15 -16 115 -4 22 -4 11 -3 0 -4-11 -20-105 -4-11 -4-1 -4 12 -4 21 -16 116 -4 15 -4 4 -4-5 -4-15 -19-128 -4-20 -4-13 -4-6 -4 3 -4 12 -8 44 -20 146 -4 18 -4 11 -4 1 -4-7 -4-16 -4-22 -11-89 -8-48 -4-14 -4-5 -4 6 -4 16 -4 27 -16 151 -4 28 -4 16 -4 1 -4-13 -4-24 -12-92z"/><path fill="url(#a90)" stroke="url(#a90)" d="M162 471l2 37 8 67 4 19 4 5 4-10 4-24 20-191 4-23 4-11 3 1 4 12 4 21 20 160 4 23 4 14 4 5 4-5 4-15 4-23 24-197 4-21 3-11 4-2 4 8 4 16 8 53 12 96 4 25 4 16 4 6 4-5 4-18 16-134 4-25 4-13 4 1 4 14 19 123 4 13 4 1 4-12 4-26 16-134 4-17 4-6 4 6 4 17 23 174 4 16 4 8 4-2 4-12 8-48 20-169 4-23 4-15 4-5 4 4 4 15 4 22 19 161 4 21 4 12 4 1 4-11 4-23 20-192 4-23 4-11 4 5 4 19 8 68 6 38 4 2 -4-5 -12-98 -4-25 -4-13 -4 2 -4 17 -4 28 -16 147 -4 25 -4 17 -4 7 -4-2 -3-10 -8-39 -12-71 -4-18 -4-11 -4-5 -4 3 -4 9 -4 16 -20 113 -4 17 -4 11 -4 5 -4-1 -3-8 -4-13 -20-93 -4-11 -4-5 -4 3 -4 11 -4 17 -12 66 -4 16 -4 9 -4 0 -4-8 -19-72 -4-8 -4 1 -4 8 -4 16 -12 67 -4 17 -4 10 -4 3 -4-5 -4-11 -20-93 -4-13 -3-7 -4-2 -4 5 -4 12 -4 17 -20 113 -4 15 -4 10 -4 3 -4-5 -4-12 -4-17 -12-72 -8-39 -4-10 -3-1 -4 7 -4 16 -4 26 -16 146 -4 28 -4 17 -4 2 -4-12 -4-26 -12-97 -4-6z"/><path fill="url(#a89)" stroke="url(#a89)" d="M166 473l14 115 4 19 4 6 4-10 4-24 19-186 4-22 4-11 4-1 4 9 8 42 16 111 4 18 4 10 4 2 4-8 4-15 8-49 15-116 4-19 4-13 4-4 4 4 4 12 8 42 16 100 4 14 4 5 4-4 4-14 16-109 3-21 4-11 4 1 4 10 20 98 4 11 4 0 4-11 4-20 16-110 4-14 4-4 4 6 4 14 15 99 8 42 4 12 4 4 4-4 4-12 4-20 20-143 4-22 4-15 4-7 4 1 4 10 3 18 16 112 8 41 4 9 4 0 4-12 4-22 20-185 4-24 4-10 4 5 4 19 11 99 7 18 4 2 -4 15 -4-19 -12-113 -4-25 -4-11 -4 5 -4 18 -16 138 -8 57 -4 17 -4 10 -4 3 -4-5 -4-11 -19-83 -4-10 -4-5 -4 0 -4 4 -4 9 -20 68 -4 9 -4 7 -4 3 -4-1 -4-4 -4-7 -15-36 -4-5 -4-3 -4 0 -4 5 -4 8 -12 32 -4 9 -4 5 -4 1 -4-3 -20-30 -4-2 -3 1 -4 4 -4 9 -12 32 -4 8 -4 5 -4 1 -4-3 -4-6 -16-36 -4-7 -4-4 -4-1 -4 3 -4 7 -4 10 -19 67 -4 9 -4 5 -4-1 -4-5 -4-10 -16-68 -8-26 -4-5 -4 3 -4 10 -8 43 -19 169 -4 18 -4 5 -4-10 -4-25 -12-114 -4-19 -4 15z"/><path fill="url(#a88)" stroke="url(#a88)" d="M170 475l2-6 4 24 12 109 4 19 3 5 4-11 4-24 20-178 4-22 4-14 4-4 4 4 4 11 20 103 4 14 4 8 4 2 4-5 3-11 20-95 8-28 4-6 4 0 4 4 4 10 20 74 4 9 4 4 4-2 4-8 3-13 12-54 4-13 4-7 4 0 4 5 20 55 4 6 4 0 4-7 4-13 12-54 4-13 3-8 4-2 4 4 4 9 20 74 4 10 4 4 4 0 4-7 8-27 20-95 4-11 3-5 4 2 4 8 4 14 20 103 4 11 4 4 4-4 4-14 4-22 20-178 4-24 4-11 4 5 3 19 12 109 4 24 7-4 3 2 -4 32 -4-11 -15-155 -4-21 -4-5 -4 8 -4 21 -16 134 -8 55 -4 20 -4 13 -4 6 -4 1 -4-6 -4-10 -15-55 -8-20 -4-5 -4-3 -4 0 -4 3 -4 5 -24 40 -4 5 -8 7 -4 2 -8 1 -23-7 -12 0 -8 3 -28 18 -12 3 -7 0 -20-6 -12 0 -8 5 -8 8 -20 35 -8 11 -4 2 -3 1 -4-3 -4-6 -4-8 -20-66 -4-10 -4-6 -4 0 -4 7 -4 13 -4 19 -8 56 -16 134 -3 21 -4 8 -4-5 -4-21 -16-155 -4-12 -4 33z"/><path fill="url(#a87)" stroke="url(#a87)" d="M174 477l2-26 4 15 11 122 4 30 4 17 4 1 4-13 4-25 20-172 4-23 4-16 4-9 4-1 4 5 4 11 19 76 4 10 4 5 4 1 4-3 4-6 16-40 8-16 4-6 4-2 4-1 4 1 19 19 4 2 4 0 4-1 4-3 12-15 8-8 4-1 4 0 20 7 4 1 4-2 8-7 11-15 4-3 4-2 4 1 4 2 20 18 4 2 4-1 4-3 4-5 8-17 16-39 3-6 4-3 4 1 4 5 4 9 20 77 4 11 4 5 4-2 4-8 4-16 4-23 20-172 3-25 4-14 4 2 4 16 4 31 12 121 4 16 6-24 4 2 -4 45 -4-4 -4-33 -12-128 -4-27 -3-13 -4 1 -4 13 -4 23 -16 128 -8 54 -8 36 -4 9 -4 3 -4-1 -4-7 -4-10 -19-69 -8-21 -4-7 -4-4 -4-2 -4 2 -4 5 -4 7 -8 19 -16 48 -8 17 -4 4 -4 1 -4-3 -7-14 -12-30 -4-5 -4-2 -4 3 -4 6 -20 46 -4 6 -4 3 -4-2 -4-6 -12-29 -8-15 -3-2 -4 1 -4 4 -8 17 -16 47 -8 20 -4 7 -4 4 -4 2 -4-1 -4-4 -4-7 -8-21 -19-70 -4-10 -4-6 -4-2 -4 4 -4 9 -8 35 -8 54 -16 128 -4 24 -4 13 -4 1 -4-13 -4-27 -11-129 -4-32 -4-4 -4 45z"/><path fill="url(#a86)" stroke="url(#a86)" d="M178 479l1-42 4 8 16 164 4 25 4 10 4-4 4-17 4-27 16-137 8-52 4-19 4-12 4-5 3 0 4 6 8 23 12 44 8 24 8 14 4 3 4 0 4-3 4-4 8-14 23-52 8-10 4-3 4 0 4 3 4 4 12 19 4 6 4 3 4 1 4-3 8-11 16-27 3-5 4-2 4 0 4 4 16 25 4 4 4 2 4 0 4-2 4-5 8-13 24-53 7-10 4-2 4 0 4 3 8 14 8 23 16 57 4 10 4 6 4 1 4-6 4-12 4-18 8-53 15-137 4-26 4-17 4-5 4 11 4 25 16 164 4 7 6-39 4 2 -4 52 -4 2 -4-29 -12-127 -4-31 -4-17 -4-5 -4 7 -4 18 -27 194 -8 35 -4 10 -4 5 -4 0 -4-6 -4-9 -8-28 -12-52 -8-29 -3-11 -4-7 -4-3 -4 2 -4 6 -4 10 -8 29 -16 69 -4 12 -4 7 -4 3 -4-3 -4-9 -16-60 -3-10 -4-3 -4 3 -4 9 -20 66 -4 8 -4 3 -4-3 -4-10 -16-60 -4-9 -4-3 -4 3 -4 7 -4 13 -15 68 -8 30 -4 10 -4 5 -4 2 -4-3 -4-7 -4-10 -8-30 -12-51 -8-29 -4-9 -4-6 -3 0 -4 5 -4 10 -8 36 -28 194 -4 17 -4 7 -4-5 -4-17 -4-30 -12-128 -4-29 -3 2 -4 53z"/><path fill="url(#a85)" stroke="url(#a85)" d="M182 481l1-52 4 1 4 31 12 133 4 30 4 16 4 3 4-11 4-20 20-156 7-51 8-33 4-7 4-2 4 3 4 8 8 26 20 81 8 20 4 5 4 1 4-3 4-7 3-11 24-91 4-10 4-7 4-2 4 3 4 9 16 55 4 8 4 3 4-2 4-9 19-61 4-9 4-2 4 3 4 8 16 55 4 9 4 3 4-2 4-7 4-10 20-78 7-24 4-7 4-3 4 1 4 5 8 20 20 81 8 26 4 8 4 3 4-2 4-7 8-33 7-51 20-156 4-20 4-11 4 3 4 16 4 30 12 133 4 31 4 1 6-49 4 1 -4 57 -4 5 -4-23 -12-119 -4-31 -4-20 -4-8 -4 2 -4 12 -4 19 -19 129 -12 64 -4 15 -4 9 -4 4 -4 0 -4-6 -4-10 -8-30 -12-57 -8-31 -4-10 -4-6 -4-1 -3 4 -4 9 -4 14 -20 96 -4 15 -4 9 -4 4 -4-3 -4-9 -16-69 -4-12 -4-4 -4 3 -4 10 -19 73 -4 10 -4 3 -4-4 -4-12 -16-69 -4-9 -4-3 -4 4 -4 9 -8 33 -15 78 -4 14 -4 9 -4 4 -4-1 -4-6 -4-10 -8-32 -12-56 -8-30 -4-10 -4-6 -4-1 -4 5 -4 9 -4 15 -11 64 -20 129 -4 19 -4 12 -4 2 -4-8 -4-20 -4-31 -12-119 -4-24 -4 6 -4 57z"/><path fill="url(#a84)" stroke="url(#a84)" d="M185 483l2-58 4-4 4 27 12 128 4 32 4 20 4 6 4-4 4-15 4-22 19-143 8-48 8-31 4-8 4-2 4 3 4 8 8 28 16 76 8 30 3 9 4 5 4 0 4-5 8-25 20-97 4-15 4-9 4-3 4 3 4 10 16 70 4 12 4 4 3-3 4-10 20-75 4-10 4-3 4 4 4 11 16 71 4 10 4 3 4-3 4-10 4-14 15-79 8-33 4-10 4-5 4-1 4 5 8 23 20 93 8 28 4 8 4 3 4-2 3-8 8-32 8-48 20-142 4-22 4-15 4-5 4 7 4 20 4 31 12 128 4 27 4-3 6-56 4 2 -4 56 -4 10 -4-18 -16-134 -4-21 -4-11 -4-1 -4 7 -8 31 -27 151 -8 28 -4 8 -4 3 -4-2 -4-6 -4-11 -24-100 -4-12 -4-8 -4-3 -4 2 -4 8 -4 12 -19 94 -4 15 -4 10 -4 4 -4-2 -4-8 -16-67 -4-11 -4-4 -4 3 -4 9 -19 70 -4 10 -4 3 -4-4 -4-11 -16-67 -4-9 -4-2 -4 4 -4 11 -4 15 -20 93 -4 13 -4 7 -3 2 -4-2 -4-8 -4-12 -24-101 -4-10 -4-7 -4-1 -4 3 -4 7 -8 29 -27 150 -8 32 -4 7 -4-2 -4-11 -4-21 -16-133 -4-18 -4 10 -4 55z"/><path fill="url(#a83)" stroke="url(#a83)" d="M189 484l2-58 4-8 4 22 16 147 4 21 3 10 4-1 4-10 8-38 20-124 8-43 8-27 4-7 4-1 4 4 4 8 8 30 19 92 4 13 4 7 4 2 4-3 4-9 4-14 20-101 4-16 4-10 4-4 4 3 4 9 15 73 4 12 4 4 4-3 4-10 20-76 4-10 4-3 4 5 4 11 16 73 4 10 4 2 3-4 4-10 4-16 20-101 4-13 4-9 4-4 4 2 4 8 4 12 20 93 8 29 3 9 4 4 4-2 4-6 8-28 8-43 20-124 8-38 4-10 4 0 4 10 4 21 15 146 4 22 4-7 7-57 3 2 -4 53 -3 13 -4-11 -16-112 -4-20 -4-13 -4-5 -4 2 -4 8 -4 12 -32 140 -7 23 -4 6 -4 2 -4-3 -4-7 -8-23 -16-62 -8-21 -4-4 -4 1 -4 5 -4 9 -23 97 -4 9 -4 5 -4-1 -4-7 -16-57 -4-9 -4-4 -4 3 -4 8 -20 61 -4 8 -4 2 -4-3 -3-10 -16-57 -4-7 -4-1 -4 5 -4 10 -20 82 -8 23 -4 6 -4 0 -4-4 -4-8 -7-27 -12-48 -8-23 -4-7 -4-2 -4 1 -4 6 -8 23 -32 140 -4 12 -3 8 -4 2 -4-5 -4-12 -4-21 -16-112 -4-11 -4 13 -4 53z"/><path fill="url(#a82)" stroke="url(#a82)" d="M193 486l2-56 4-11 4 15 15 128 4 20 4 12 4 3 4-5 8-27 24-122 8-36 8-23 4-5 4 0 4 5 3 9 8 29 16 69 4 13 4 9 4 3 4-1 4-7 4-11 20-93 4-15 4-10 4-5 3 2 4 8 16 65 4 11 4 4 4-3 4-9 20-68 4-9 4-3 4 4 4 11 15 65 4 8 4 2 4-5 4-10 4-15 20-93 4-11 4-7 4-1 4 3 4 9 4 13 16 69 7 29 4 9 4 5 4 0 4-5 8-22 8-37 24-122 8-27 4-5 4 3 4 12 3 20 16 128 4 15 4-11 6-54 4 2 -4 48 -4 18 -4-4 -4-16 -15-90 -4-15 -4-8 -4-3 -4 3 -8 16 -12 39 -20 72 -8 19 -4 5 -4 1 -3-3 -4-6 -8-20 -16-49 -4-9 -4-5 -4-1 -4 3 -4 7 -4 10 -20 67 -4 8 -4 5 -3 0 -4-5 -4-8 -12-34 -4-8 -4-3 -4 3 -4 6 -20 48 -4 6 -4 3 -4-3 -4-8 -12-34 -3-8 -4-5 -4 0 -4 5 -4 8 -20 67 -4 10 -4 7 -4 3 -4-1 -4-5 -4-9 -16-49 -7-20 -4-6 -4-3 -4 1 -4 5 -8 19 -20 72 -12 38 -8 17 -4 3 -4-3 -4-8 -4-15 -15-90 -4-16 -4-4 -4 18 -4 48z"/><path fill="url(#a81)" stroke="url(#a81)" d="M197 488l2-52 3-15 4 8 4 22 12 82 4 20 4 13 4 7 4 0 4-6 8-24 28-115 7-24 4-7 4-4 4 1 4 5 8 21 20 70 4 9 4 5 4 0 4-4 4-9 8-27 15-63 4-9 4-5 4 0 4 7 16 52 4 9 4 3 4-2 4-8 20-56 4-8 4-2 3 3 4 9 16 52 4 6 4 1 4-5 4-9 16-63 8-28 4-8 4-5 4 1 4 5 4 8 23 83 4 9 4 5 4 0 4-3 4-7 4-11 32-129 8-23 3-6 4 0 4 6 4 14 4 20 12 82 4 21 4 9 4-15 6-50 4 2 -4 43 -4 22 -4 5 -4-6 -4-15 -16-73 -3-12 -4-7 -4-3 -4 1 -4 4 -8 15 -8 19 -20 58 -8 16 -4 4 -4 2 -4-2 -4-5 -23-50 -4-5 -4-3 -4 1 -4 3 -4 6 -20 48 -4 8 -4 4 -4 1 -4-2 -4-5 -11-22 -4-4 -4-2 -4 1 -4 5 -20 34 -4 4 -4 2 -4-2 -4-5 -12-22 -4-5 -4-2 -4 1 -3 5 -4 7 -20 49 -4 6 -4 3 -4 1 -4-3 -4-5 -24-51 -4-4 -4-2 -4 1 -4 4 -7 16 -20 59 -8 19 -8 14 -4 4 -4 2 -4-3 -4-7 -4-12 -16-74 -4-14 -3-7 -4 6 -4 22 -4 43z"/><path fill="url(#a80)" stroke="url(#a80)" d="M201 490l1-47 4-19 4 0 4 12 12 65 8 34 4 10 4 4 4 0 4-5 8-17 12-35 15-55 8-21 4-5 4-3 4 1 4 4 8 17 16 45 4 8 4 6 4 2 4-2 4-5 3-9 20-60 4-8 4-5 4-1 4 4 4 7 12 30 4 6 4 3 4-2 4-6 19-43 4-5 4-2 4 2 4 7 12 29 4 8 4 3 4 0 4-5 4-8 20-61 4-8 4-6 4-1 3 2 4 5 4 8 20 55 4 7 4 4 4 1 4-2 4-6 4-9 28-91 7-20 4-8 4-4 4-1 4 5 4 9 8 35 12 64 4 13 4 0 4-19 6-45 4 2 -4 38 -4 27 -4 15 -4 3 -4-6 -4-12 -12-52 -8-27 -4-8 -4-5 -3-1 -4 1 -4 3 -8 10 -8 15 -20 49 -8 11 -4 2 -4 0 -4-2 -4-4 -19-29 -4-3 -4-2 -4 1 -8 6 -20 30 -8 6 -4 1 -4-1 -12-10 -4-2 -4 0 -7 3 -20 19 -8 4 -4-1 -4-2 -12-9 -4-1 -4 0 -8 7 -19 30 -8 6 -4 0 -4-2 -4-3 -20-29 -4-4 -4-2 -4 0 -4 2 -8 12 -19 48 -8 16 -8 10 -4 2 -4 2 -4-2 -4-4 -4-9 -8-26 -12-52 -4-13 -4-6 -4 4 -4 14 -4 27 -4 39z"/><path fill="url(#a79)" stroke="url(#a79)" d="M204 492l2-43 4-23 4-9 4 2 4 11 12 54 8 30 4 9 4 5 4 1 4-2 3-4 8-12 8-18 20-55 8-14 4-3 4 0 4 3 4 4 20 39 3 5 4 3 4 1 4-2 4-4 8-15 12-26 8-11 4-2 4 1 4 3 12 17 4 4 4 1 4-1 4-4 19-27 4-4 4-1 4 1 4 4 12 17 4 3 4 1 4-2 4-4 20-41 7-11 4-2 4 1 4 3 4 5 20 39 4 4 4 3 4 0 4-3 8-13 19-56 8-17 8-13 4-4 4-2 4 1 4 5 4 10 8 30 12 53 4 11 4 2 4-9 10-63 4 1 -8 66 -4 24 -4 14 -4 2 -4-6 -4-13 -12-54 -8-29 -8-16 -4-4 -4-2 -3 0 -4 1 -4 3 -4 5 -8 14 -20 43 -8 10 -4 3 -4 0 -4-1 -8-5 -16-16 -7-3 -4-1 -4 1 -8 4 -20 17 -8 4 -67 13 -8 4 -20 17 -8 4 -4 1 -4-1 -7-3 -16-16 -8-5 -4-1 -4 0 -4 3 -8 10 -20 43 -8 14 -4 5 -4 3 -3 1 -4 0 -4-2 -4-4 -8-16 -8-29 -12-54 -4-13 -4-6 -4 2 -4 14 -4 24 -8 66z"/><path fill="url(#a78)" stroke="url(#a78)" d="M208 494l2-38 4-29 4-19 4-8 4 2 4 10 19 82 4 10 4 7 4 4 4 1 4 0 4-3 8-8 8-16 20-47 8-10 4-2 4 0 4 2 4 3 19 25 8 3 4 0 8-5 20-23 8-5 8 0 11 4 4 0 8-2 24-14 8-1 16 4 8-2 8-7 15-19 8-5 4-1 8 4 20 25 8 5 4 0 4-2 8-10 19-47 8-16 8-9 4-2 4-1 4 2 4 4 4 7 4 10 20 82 4 10 4 2 4-8 4-19 10-65 4 2 -12 99 -4 22 -4 11 -4 0 -4-9 -20-93 -8-26 -8-14 -8-8 -4-1 -4 1 -7 9 -8 15 -20 44 -8 12 -4 3 -4 1 -4 0 -4-2 -8-6 -20-21 -7-3 -4 0 -4 1 -8 7 -16 22 -8 7 -4 2 -4 0 -24-10 -7-1 -8 4 -16 22 -8 9 -8 4 -4 0 -4-1 -8-6 -20-21 -7-4 -4-1 -4 2 -8 8 -8 14 -16 37 -8 15 -8 8 -4 1 -4-1 -8-7 -8-14 -7-26 -20-93 -4-9 -4-1 -4 11 -4 23 -12 98z"/><path fill="url(#a77)" stroke="url(#a77)" d="M212 495l2-33 8-63 4-18 4-7 4 4 4 11 15 74 8 28 8 16 4 4 8 3 4-1 8-8 8-16 20-44 7-11 4-3 4-1 8 3 24 22 8 4 4 0 4-1 8-4 19-19 12-8 8-1 28 3 8-1 4-2 8-6 19-19 8-5 8 0 4 1 8 5 20 19 8 3 4-1 4-2 8-11 19-45 8-15 8-8 4-1 8 3 4 4 8 15 8 28 16 74 4 12 3 3 4-6 4-18 8-64 7-31 3 2 -4 26 -8 79 -3 29 -4 18 -4 5 -4-6 -4-14 -16-84 -8-32 -4-12 -8-17 -8-11 -4-3 -4 0 -4 3 -8 11 -27 67 -8 12 -4 3 -4 0 -4-1 -4-3 -8-10 -16-26 -8-7 -3-1 -4 2 -4 4 -4 6 -12 26 -8 13 -4 3 -4-1 -4-2 -20-20 -4-2 -4 0 -4 2 -4 5 -15 34 -4 6 -4 4 -4 2 -4 0 -8-8 -16-25 -8-11 -4-3 -4-1 -4 1 -4 3 -8 12 -27 66 -8 12 -4 2 -4 0 -4-2 -8-11 -8-17 -4-12 -8-33 -15-83 -4-14 -4-6 -4 5 -4 17 -4 30 -8 79 -4 25z"/><path fill="url(#a76)" stroke="url(#a76)" d="M216 497l2-29 8-76 3-27 4-14 4-3 4 8 4 16 16 82 8 31 4 10 8 15 8 8 4 0 4-2 8-10 27-65 8-12 4-3 4-2 4 1 4 2 8 9 16 23 8 7 4 1 3 0 4-3 4-4 20-34 4-5 4-2 4 0 4 2 20 16 4 2 4 0 4-2 7-11 16-28 4-4 4-3 4 0 4 1 4 3 8 10 12 17 8 9 4 2 4 1 4-2 4-3 7-12 28-65 8-10 4-2 4 1 8 7 8 15 4 10 8 31 15 83 4 15 4 8 4-3 4-14 4-27 8-76 6-27 4 2 -4 22 -12 118 -4 22 -4 9 -4-3 -3-11 -20-104 -8-31 -8-22 -8-16 -4-5 -4-3 -4-1 -4 2 -8 11 -8 19 -19 55 -8 14 -4 4 -4 1 -4-2 -4-4 -8-14 -16-33 -4-5 -4-2 -4 0 -4 4 -4 7 -11 32 -8 17 -4 3 -4 0 -4-3 -20-27 -4-4 -4 0 -4 3 -4 7 -16 42 -3 7 -4 4 -4 0 -4-2 -4-5 -16-33 -8-14 -4-4 -4-1 -4 0 -4 4 -8 14 -20 55 -7 19 -8 11 -4 2 -4-1 -4-3 -4-5 -8-16 -8-22 -8-31 -20-104 -4-11 -4-3 -3 9 -4 22 -12 118 -4 22z"/><path fill="url(#a75)" stroke="url(#a75)" d="M220 499l9-110 4-33 4-21 4-7 4 4 4 14 20 107 8 30 12 29 8 10 3 2 4-1 4-4 8-14 24-65 8-15 4-5 4-2 4 1 4 3 8 11 15 32 8 10 4 1 4-1 4-4 4-7 16-40 4-6 4-3 4 0 4 3 20 25 4 4 3 0 4-3 8-15 12-31 4-7 4-4 4-2 4 2 8 10 20 38 4 5 4 3 4 0 3-2 8-11 8-19 16-45 8-17 4-6 4-4 4-1 4 2 8 10 12 29 7 30 20 107 4 13 4 5 4-8 4-20 12-118 6-23 4 2 -4 17 -12 118 -4 25 -4 12 -4 1 -4-9 -4-16 -15-82 -12-45 -8-21 -8-17 -4-5 -4-3 -4 0 -4 2 -8 11 -8 20 -19 58 -8 14 -4 3 -4 0 -4-3 -4-6 -20-44 -4-7 -4-4 -4 0 -4 3 -4 7 -16 45 -3 8 -4 4 -4-1 -4-3 -20-30 -4-4 -4 0 -4 4 -4 8 -16 45 -4 7 -4 3 -4 0 -4-4 -3-7 -20-45 -4-5 -4-3 -4 0 -4 3 -8 14 -20 58 -8 19 -8 12 -4 2 -3-1 -4-3 -4-5 -8-16 -8-21 -12-46 -16-82 -4-15 -4-9 -4 1 -4 12 -4 24 -11 119 -4 17z"/><path fill="url(#a74)" stroke="url(#a74)" d="M224 501l13-146 4-24 4-12 4 2 4 10 20 107 12 47 11 30 8 11 4 2 4-1 4-4 8-14 24-71 8-16 4-5 4-2 4 1 3 4 8 15 16 38 4 6 4 3 4 0 4-4 4-7 16-46 4-8 4-4 4 1 4 3 19 31 4 4 4 0 4-4 4-7 16-46 4-7 4-4 4-1 4 4 4 6 20 46 3 6 4 4 4 1 4-1 4-5 4-7 8-21 16-49 8-19 4-6 4-3 4-1 4 2 8 11 11 30 12 47 20 106 4 11 4 1 4-11 4-25 12-124 6-19 4 2 -4 12 -12 108 -4 25 -4 14 -4 3 -4-6 -4-12 -20-87 -11-37 -8-20 -8-15 -4-5 -4-2 -4 0 -4 2 -8 11 -8 20 -16 47 -8 17 -4 5 -3 2 -4-1 -4-4 -8-15 -16-35 -4-5 -4-2 -4 3 -4 6 -16 43 -4 8 -4 4 -4 0 -4-3 -19-29 -4-3 -4 0 -4 4 -4 8 -16 44 -4 6 -4 2 -4-1 -4-5 -16-36 -7-14 -4-4 -4-1 -4 1 -4 5 -4 8 -20 57 -8 19 -8 12 -4 2 -4 0 -4-3 -4-5 -7-15 -8-19 -12-38 -20-87 -4-12 -4-6 -4 4 -4 13 -4 25 -12 109 -4 12z"/><path fill="url(#a73)" stroke="url(#a73)" d="M227 503l14-138 4-26 4-14 4-1 4 7 4 15 15 82 12 47 8 23 8 18 8 11 4 2 4-1 4-4 8-15 24-72 7-16 4-4 4-1 4 3 4 5 20 47 4 8 4 4 4 1 4-3 4-7 16-47 4-8 4-4 3 0 4 4 20 32 4 3 4 0 4-4 4-8 16-47 4-7 4-3 4 1 4 4 4 8 19 47 4 6 4 2 4-1 4-4 8-16 24-72 8-15 4-3 4-1 4 1 7 11 8 18 8 23 12 47 16 82 4 15 4 8 4-2 4-14 4-26 12-121 6-14 4 1 -4 6 -12 89 -4 22 -4 14 -4 5 -4-1 -4-8 -24-77 -15-38 -12-21 -4-4 -4-2 -4-1 -4 2 -8 11 -8 18 -16 44 -8 15 -4 3 -4 1 -4-1 -4-5 -19-38 -4-5 -4-2 -4 1 -4 4 -4 8 -12 30 -4 7 -4 4 -4 1 -4-3 -19-23 -4-3 -4 1 -4 4 -4 7 -12 30 -4 8 -4 4 -4 1 -4-2 -4-5 -20-38 -4-5 -4-1 -4 1 -3 4 -8 14 -16 44 -8 18 -8 11 -4 2 -4-1 -4-2 -4-4 -12-21 -15-38 -24-77 -4-8 -4-1 -4 5 -4 14 -4 23 -12 88 -4 6z"/><path fill="url(#a72)" stroke="url(#a72)" d="M231 505l14-118 4-25 4-14 4-5 4 4 4 11 19 83 12 38 8 20 8 16 8 10 4 1 4-1 4-4 4-6 8-18 19-59 8-14 4-3 4 0 4 4 4 6 20 44 4 5 4 2 4-1 4-6 15-43 4-8 4-5 4 0 4 3 20 29 4 3 4 0 4-5 4-8 16-43 4-6 4-1 3 1 4 6 20 44 4 6 4 3 4 1 4-3 8-14 20-59 8-18 4-7 4-3 3-1 4 1 8 10 8 16 8 20 12 38 20 83 4 11 4 4 4-5 4-14 4-25 11-107 7-9 3 2 -4-1 -3 15 -8 43 -8 31 -4 7 -4 3 -4-2 -4-5 -24-47 -24-39 -7-9 -4-3 -4 0 -4 1 -8 8 -8 15 -16 38 -8 13 -4 3 -4 1 -4-1 -4-4 -19-29 -4-3 -4 0 -4 2 -4 5 -12 23 -4 6 -4 4 -4 1 -4-1 -20-15 -4-2 -4 1 -4 4 -3 7 -12 23 -4 5 -4 2 -4 0 -4-3 -20-29 -4-4 -4-1 -4 0 -4 4 -8 13 -15 37 -8 16 -8 8 -4 1 -4-1 -4-2 -8-9 -24-39 -23-47 -4-5 -4-2 -4 2 -4 8 -8 30 -8 43 -4 16 -4-2z"/><path fill="url(#a71)" stroke="url(#a71)" d="M235 506l2-4 4-23 12-79 3-14 4-7 4 0 4 6 4 9 20 59 20 43 12 19 4 4 4 1 4 0 3-3 4-6 8-16 20-52 8-12 4-3 4 1 4 4 8 12 12 24 4 5 4 3 3-1 4-3 4-7 12-28 4-8 4-4 4-1 4 2 20 22 4 2 4-1 4-4 4-7 11-28 4-7 4-4 4 0 4 2 4 6 12 23 8 13 4 3 4 1 4-2 8-12 24-61 7-13 4-3 4-1 4 2 4 3 12 19 20 44 20 59 4 9 4 5 3 0 4-6 4-14 16-103 6-2 4 2 -4-9 -4 2 -19 50 -4 7 -4 4 -4 2 -4 1 -8-3 -20-15 -8-8 -20-25 -7-5 -4 0 -4 2 -8 8 -24 45 -8 9 -4 1 -4 0 -4-2 -20-19 -3-2 -4 1 -8 6 -12 15 -4 3 -4 2 -4 0 -16-5 -8 0 -8 5 -15 18 -4 3 -4 0 -8-4 -16-16 -4-2 -4-1 -4 2 -8 8 -24 45 -8 9 -3 1 -4 0 -8-5 -20-25 -8-8 -20-14 -8-3 -4 0 -4 2 -4 5 -3 6 -20 50 -4 3 -4-10z"/><path fill="url(#a70)" stroke="url(#a70)" d="M239 508l2 4 3-11 12-51 4-12 4-9 4-4 4 0 4 2 4 4 47 71 8 9 4 2 4 0 4-2 8-9 24-52 8-11 4-2 4 0 4 3 19 26 4 3 4 1 4-2 4-4 12-20 8-9 4-2 4 1 20 12 4 1 4-2 7-9 12-20 4-4 4-2 4 1 4 3 20 27 4 2 4 0 4-2 8-11 23-51 8-10 4-2 4 1 4 2 8 8 47 71 4 5 4 2 4-1 4-4 4-8 4-13 12-51 4-11 6 6 4 2 -4-17 -4-12 -4-5 -4-1 -4 4 -4 7 -15 40 -8 15 -8 8 -8 5 -8 2 -8-2 -8-7 -20-25 -8-5 -4-1 -3 2 -8 8 -20 34 -8 10 -4 3 -4 1 -8-1 -16-10 -8-2 -7 2 -20 11 -24 7 -20 12 -4 0 -8-2 -11-7 -8-4 -4 0 -4 2 -4 2 -8 10 -20 35 -8 7 -4 2 -4-1 -8-5 -19-25 -8-7 -8-1 -12 3 -8 7 -8 11 -20 48 -4 7 -4 4 -3 0 -4-6 -4-12 -4-17z"/><path fill="url(#a69)" stroke="url(#a69)" d="M243 510l1 12 4 4 4-3 4-7 20-42 4-6 8-6 4-1 8 1 12 4 3 2 8 8 20 25 8 6 4 0 4-2 8-9 20-38 8-10 3-3 4-1 4 0 4 2 16 14 8 2 8-3 12-12 8-4 8-1 15 0 4-1 8-5 12-11 8-3 8 2 16 14 4 2 4 0 4-1 4-3 8-10 19-38 8-9 4-2 4 0 8 5 20 26 8 8 12 5 11 2 8-3 8-10 20-43 4-6 4-3 4 4 6 14 4 2 -12-69 -4-12 -4-3 -4 3 -4 10 -20 74 -7 22 -8 14 -8 10 -4 3 -4 2 -4 0 -8-5 -24-35 -8-6 -4-1 -4 2 -7 8 -20 35 -8 10 -4 3 -4 2 -8 0 -20-13 -8-2 -4 0 -7 4 -28 22 -8 4 -4 0 -8-2 -20-13 -8 0 -4 1 -7 8 -24 41 -8 8 -4 1 -4 0 -8-6 -24-35 -7-5 -4 0 -4 1 -4 4 -8 10 -8 14 -8 22 -20 74 -4 9 -4 4 -4-3 -4-12 -12-69z"/><path fill="url(#a68)" stroke="url(#a68)" d="M246 512l2 20 4 18 4 13 4 5 4 0 4-6 4-10 16-50 8-18 7-12 12-10 4-1 4 0 8 5 24 33 8 6 4 0 4-2 8-8 19-35 8-11 4-3 4-1 8 1 20 12 8 1 8-3 43-24 8-3 8 1 20 12 8 1 4-2 7-7 24-41 8-9 4-1 4 0 8 6 24 33 8 5 3 0 4-1 12-10 8-12 8-19 16-50 4-9 4-6 4-1 4 6 14 53 4 2 -12-97 -4-22 -4-11 -4 0 -4 10 -4 15 -16 82 -8 33 -8 23 -7 17 -8 11 -4 3 -4 0 -4-1 -4-4 -8-12 -16-30 -8-10 -4-1 -4 0 -4 2 -4 5 -8 14 -15 31 -8 11 -4 3 -4 1 -4-1 -4-2 -16-18 -4-3 -4-1 -4 0 -4 3 -27 31 -4 3 -4 1 -4-1 -4-3 -16-18 -4-3 -4 0 -4 1 -4 2 -8 11 -15 32 -8 14 -4 4 -4 3 -4 0 -4-2 -4-4 -8-12 -12-23 -8-12 -4-4 -4-2 -4 1 -4 3 -8 11 -7 17 -8 23 -8 32 -16 82 -4 16 -4 9 -4 0 -4-10 -4-22 -12-97z"/><path fill="url(#a67)" stroke="url(#a67)" d="M250 514l2 26 8 58 4 18 4 7 4-2 4-10 19-88 8-28 12-27 8-12 4-3 4-1 4 1 4 3 8 10 20 35 4 4 4 2 3 0 4-2 8-9 20-39 8-11 4-3 4-2 4 1 4 1 20 18 4 2 3 0 8-4 28-27 8-4 4 0 4 2 20 18 4 2 4 0 3-2 8-8 24-44 8-10 4-2 4 0 4 2 4 5 20 34 8 11 3 2 4 1 4-1 4-3 8-12 12-26 8-28 20-89 4-10 4-2 4 7 4 18 7 58 7 29 4 2 -4-32 -8-84 -4-30 -4-16 -4-3 -4 9 -4 16 -16 96 -12 56 -8 25 -8 20 -7 12 -4 3 -4 0 -4-2 -4-4 -8-14 -16-35 -8-11 -4-2 -4 0 -4 2 -4 5 -8 15 -15 36 -8 12 -4 2 -4 1 -4-2 -4-4 -12-18 -4-5 -4-3 -4 0 -4 3 -24 33 -4 5 -3 2 -4 0 -4-3 -16-23 -4-4 -4-2 -4 1 -4 3 -8 12 -16 36 -8 14 -4 5 -4 2 -3 0 -4-2 -4-4 -8-15 -12-26 -8-14 -4-5 -4-2 -4 0 -4 3 -4 5 -8 17 -12 36 -11 56 -16 95 -4 17 -4 8 -4-3 -4-16 -4-30 -8-84 -4-31z"/><path fill="url(#a66)" stroke="url(#a66)" d="M254 516l2 30 8 80 4 28 4 14 4 1 4-9 3-17 16-93 12-53 12-33 8-15 4-4 4-1 4 1 4 3 8 12 19 42 8 9 4 1 4-2 8-9 24-51 8-10 4-2 4 0 4 3 15 22 4 4 4 2 4-1 4-2 24-32 8-7 4-1 4 2 19 26 4 3 4 0 4-2 4-4 8-13 20-44 8-9 4-2 4 1 8 9 19 42 8 12 4 3 4 1 4-1 4-4 8-15 12-33 12-53 16-93 4-17 4-9 3 1 4 14 4 28 8 80 7 33 3 1 -4-31 -8-91 -3-34 -4-19 -4-5 -4 7 -4 16 -20 123 -8 38 -12 40 -8 20 -4 6 -4 5 -4 2 -4 0 -3-3 -8-12 -16-36 -8-15 -4-4 -4-3 -4 1 -4 3 -8 12 -20 46 -7 11 -4 2 -4-1 -4-3 -16-26 -4-3 -4-1 -4 2 -4 5 -20 31 -4 5 -4 2 -4-1 -4-3 -15-26 -4-3 -4-1 -4 2 -8 11 -16 37 -8 16 -4 5 -4 3 -4 0 -4-2 -8-11 -15-36 -8-15 -4-5 -4-3 -4 0 -4 2 -4 4 -8 16 -8 23 -8 28 -8 38 -19 123 -4 16 -4 7 -4-5 -4-20 -4-33 -8-91 -4-31z"/><path fill="url(#a65)" stroke="url(#a65)" d="M258 518l2 32 8 93 3 33 4 19 4 5 4-8 4-17 20-127 8-39 12-40 8-19 4-6 4-4 4-1 4 1 3 4 8 14 20 46 4 6 4 4 4 1 4-2 8-10 20-47 8-15 3-3 4-1 4 1 4 4 16 27 4 3 4 0 4-2 4-5 24-36 4-3 4 1 4 3 4 6 11 20 4 4 4 2 4-1 4-4 8-14 20-47 8-11 4-1 4 1 4 4 4 6 19 46 8 14 4 4 4 1 4-1 4-4 8-15 8-22 8-29 8-38 19-127 4-17 4-8 4 4 4 19 4 34 8 93 6 34 4 2 -4-28 -12-121 -4-20 -4-6 -4 5 -3 14 -20 116 -12 52 -8 25 -8 21 -8 14 -4 3 -4 2 -4-1 -4-4 -8-12 -19-42 -8-10 -4-1 -4 0 -4 4 -4 5 -24 53 -4 5 -4 3 -4 1 -4-3 -15-24 -4-4 -4-1 -4 2 -4 4 -20 30 -4 5 -4 1 -4-1 -4-4 -16-24 -3-2 -4 0 -4 3 -4 6 -20 45 -8 13 -4 3 -4 1 -4-2 -4-3 -8-14 -16-35 -7-12 -4-3 -4-1 -4 1 -4 4 -4 6 -8 17 -8 23 -8 28 -8 37 -20 116 -4 15 -4 5 -3-7 -4-20 -12-121 -4-28z"/><path fill="url(#a64)" stroke="url(#a64)" d="M262 519l5 80 8 83 4 21 4 6 4-6 4-16 20-128 8-40 8-30 8-24 7-18 4-5 4-3 4-1 4 2 4 5 8 15 20 46 4 5 4 4 4 0 4-2 8-11 19-48 8-13 4-3 4 1 4 3 16 27 4 4 4 1 4-2 4-5 20-32 4-5 3-2 4 1 4 4 16 27 4 4 4 0 4-3 8-12 20-49 8-11 4-2 4 1 3 3 4 6 20 45 8 15 4 5 4 2 4 0 4-3 4-6 8-18 8-24 8-30 7-40 20-127 4-17 4-6 4 6 4 22 4 35 8 96 6 33 4 2 -4-22 -12-103 -4-18 -4-6 -4 3 -4 11 -19 97 -12 45 -16 42 -8 14 -8 8 -4 1 -4-2 -4-3 -8-10 -19-37 -8-8 -4-1 -4 2 -8 9 -20 40 -8 11 -4 2 -4-1 -4-4 -12-16 -3-4 -4-1 -4 1 -4 4 -20 26 -4 4 -4 1 -4-1 -4-4 -12-16 -4-4 -4 0 -4 1 -8 11 -19 41 -8 9 -4 1 -4-1 -8-8 -20-36 -8-11 -4-3 -4-1 -4 1 -3 2 -4 5 -8 14 -16 42 -12 45 -20 97 -4 11 -4 4 -4-7 -4-18 -11-103 -4-22z"/><path fill="url(#a63)" stroke="url(#a63)" d="M266 521l9 114 4 34 4 20 4 7 4-4 4-14 20-115 12-52 15-47 8-15 4-4 4-2 4 0 4 2 4 5 8 14 16 35 8 12 4 2 4 0 4-2 3-5 8-15 16-38 4-6 4-4 4-1 4 2 4 5 12 19 4 4 4 2 4-2 4-4 19-30 4-4 4-2 4 2 4 4 12 19 4 5 4 2 4-1 4-4 4-6 20-46 7-12 4-2 4 0 4 2 4 5 8 15 16 35 8 11 4 2 4 0 4-2 4-4 4-7 8-18 15-52 8-37 20-115 4-14 4-4 4 7 4 21 12 121 6 28 4 2 -4-14 -12-72 -4-13 -4-6 -4 1 -4 8 -20 67 -11 34 -20 39 -8 11 -8 7 -4 1 -4 0 -8-5 -24-33 -7-6 -4-1 -4 1 -8 8 -20 35 -8 7 -4 1 -4-1 -12-12 -4-3 -4-1 -4 1 -4 3 -19 20 -4 3 -4 1 -4-1 -4-3 -12-12 -4-1 -4 1 -8 7 -20 35 -7 8 -4 1 -4-1 -8-6 -24-33 -8-5 -4 0 -4 1 -8 6 -8 12 -19 39 -12 34 -20 67 -4 7 -4 2 -4-6 -4-13 -12-73 -4-13z"/><path fill="url(#a62)" stroke="url(#a62)" d="M269 523l10 87 4 28 4 17 4 7 4-3 4-10 20-90 11-42 16-40 8-15 4-5 4-4 4-1 4 0 4 2 8 9 16 28 7 12 4 4 4 2 4 0 4-3 8-11 16-33 8-11 4-2 4 0 4 2 12 16 4 3 4 2 3-1 4-4 20-25 4-3 4-1 4 2 4 3 12 15 4 3 4 0 4-2 4-5 23-46 4-5 4-2 4 0 4 1 8 10 16 28 8 12 8 6 4 0 4-2 4-3 8-12 7-17 12-31 12-43 20-89 4-10 4-3 4 7 4 17 12 96 6 21 4 2 -4-4 -12-32 -4-8 -4-3 -4-1 -4 3 -4 4 -24 40 -27 36 -12 13 -8 6 -8 1 -8-3 -24-23 -8-4 -3 1 -8 5 -20 28 -8 6 -4 1 -4-1 -12-6 -8-1 -8 4 -15 12 -8 2 -4-1 -12-6 -4-1 -4 0 -8 7 -20 27 -8 6 -4 0 -8-3 -23-23 -8-4 -8 2 -8 6 -12 13 -27 36 -24 39 -4 5 -4 2 -4 0 -4-4 -4-7 -12-33 -4-3z"/><path fill="url(#a61)" stroke="url(#a61)" d="M273 525l14 68 4 11 4 6 4-1 4-5 4-9 15-46 12-29 24-41 8-10 8-5 4-1 8 2 7 8 20 26 8 4 4 0 4-2 4-3 20-33 8-8 4-2 4 0 15 12 4 1 4 0 8-6 16-14 4-3 4 0 4 1 16 12 4 0 4-1 4-4 19-32 8-9 4-2 4 0 8 5 20 26 8 7 8 3 4-1 7-6 8-9 24-42 12-28 16-46 4-9 4-5 4-1 4 5 4 12 3 17 8 42 7 11 3 2 -7 13 -4 3 -4 2 -8-1 -16-9 -12-4 -12 1 -12 4 -12 9 -23 28 -8 6 -4 2 -4 0 -8-4 -20-17 -8-2 -4 0 -7 6 -20 22 -8 5 -20-1 -24 7 -8 1 -11-2 -8 2 -8 7 -16 18 -8 6 -4 1 -8-3 -20-17 -7-4 -4 1 -4 1 -8 6 -24 29 -12 9 -12 3 -12 1 -11-4 -16-9 -8-1 -4 2 -4 4 -8 13z"/><path fill="url(#a60)" stroke="url(#a60)" d="M277 527l2-3 4 4 8 11 7 7 4 1 4 0 4-1 8-6 32-29 28-32 7-6 8-2 8 2 24 22 8 3 4-1 8-6 19-25 8-5 4-1 12 4 8 1 28-13 8 1 12 4 4-1 3-1 8-8 16-21 8-6 4-1 8 3 24 22 8 3 4-1 3-2 8-6 20-24 12-12 28-25 8-5 4-2 3 0 4 1 4 3 16 19 6 0 4 1 -12 59 -4 14 -4 7 -3 2 -4-3 -4-7 -16-39 -8-15 -8-9 -8-6 -8-3 -4 1 -4 1 -8 8 -23 39 -8 8 -4 2 -4 1 -8-5 -20-19 -8-2 -4 1 -8 6 -15 18 -8 6 -8 2 -40 0 -8 1 -4 2 -7 6 -20 22 -8 3 -8-2 -24-22 -4-2 -4 1 -4 2 -8 8 -23 39 -8 8 -8 2 -4-1 -8-5 -8-7 -4-5 -8-15 -16-39 -3-7 -4-3 -4 2 -4 7 -4 14 -12 59z"/><path fill="url(#a59)" stroke="url(#a59)" d="M281 529l2-14 3-13 4-12 4-7 4-4 4 0 4 3 20 28 8 7 8 4 12 2 8-3 7-7 24-33 8-8 4-1 4 0 4 1 8 6 16 15 8 3 8-4 19-22 8-6 4-1 20-1 20-3 15 0 8-2 8-7 16-18 8-6 4-1 8 3 20 18 8 4 3 0 4-2 8-7 24-34 8-7 4-1 4-1 8 1 12 5 8 7 19 28 4 3 4 0 4-4 4-8 8-24 6-12 4 2 -16 119 -4 14 -4 4 -4-4 -4-11 -15-65 -12-37 -12-21 -8-8 -4-2 -4 0 -4 2 -8 10 -23 50 -8 12 -4 2 -4 1 -4-2 -8-7 -16-19 -8-4 -4 0 -8 6 -16 20 -7 8 -4 2 -8 0 -28-6 -8 1 -8 5 -20 25 -7 5 -4 1 -8-4 -20-24 -4-3 -4-1 -4 0 -4 3 -8 11 -23 51 -8 10 -4 2 -4 0 -4-2 -4-4 -8-11 -8-15 -12-36 -16-65 -4-11 -4-4 -4 4 -4 14 -15 118z"/><path fill="url(#a58)" stroke="url(#a58)" d="M285 530l1-23 8-56 4-20 4-11 4-3 4 4 4 9 16 54 12 29 12 16 7 6 4 1 4-1 8-7 8-13 16-33 8-11 4-4 4-1 4 1 4 2 19 22 8 5 4 0 8-4 20-24 8-6 8-2 35 4 8-2 8-6 20-24 8-4 4 1 4 1 8 8 15 18 4 2 4 0 4-1 8-8 20-39 8-14 8-7 4-1 4 1 8 6 11 16 12 30 16 54 4 9 4 4 4-3 4-11 4-20 8-56 6-22 4 2 -16 152 -4 19 -4 6 -4-5 -4-13 -19-102 -8-30 -8-21 -8-15 -8-10 -4-1 -4 0 -4 4 -4 5 -8 17 -20 50 -7 12 -4 2 -4 1 -4-2 -4-4 -20-27 -4-3 -4-2 -4 1 -8 6 -16 23 -8 7 -7 2 -28-10 -8 2 -8 7 -16 23 -8 6 -4 1 -4-2 -4-3 -15-21 -8-9 -4-2 -4 0 -4 2 -8 12 -20 51 -8 16 -4 6 -4 3 -4 1 -3-2 -8-9 -8-16 -8-21 -8-29 -20-103 -4-13 -4-5 -4 7 -4 19 -15 151z"/><path fill="url(#a57)" stroke="url(#a57)" d="M289 532l1-31 8-82 4-30 4-17 4-6 4 5 4 13 16 78 12 45 7 19 8 14 8 8 4 1 4-1 8-10 8-17 16-40 8-14 4-4 4-1 4 0 3 3 20 26 8 7 4 1 4-2 4-2 20-28 8-6 8-1 27 8 8-1 8-6 20-27 4-3 4-1 4 0 4 3 23 30 4 3 4 1 4-2 8-10 28-65 8-10 4-1 4 1 8 8 7 14 8 19 12 45 16 79 4 12 4 5 4-6 4-17 4-30 8-82 6-29 4 2 -4 34 -8 98 -4 36 -4 22 -4 7 -4-5 -4-14 -20-113 -8-34 -7-23 -8-18 -8-12 -4-3 -4 0 -4 3 -8 12 -24 63 -8 14 -4 4 -4 2 -4-1 -3-3 -20-28 -8-6 -4-1 -4 1 -4 3 -16 23 -8 9 -4 2 -4 0 -23-9 -8-1 -4 2 -4 4 -20 28 -4 3 -4 1 -4 0 -4-3 -23-32 -4-3 -4-1 -4 2 -4 4 -4 6 -8 18 -16 45 -8 16 -4 4 -4 3 -4 0 -4-3 -8-12 -7-18 -8-23 -8-34 -20-113 -4-14 -4-5 -4 7 -4 22 -4 37 -8 97 -4 34z"/><path fill="url(#a56)" stroke="url(#a56)" d="M292 534l2-36 8-98 4-36 4-22 4-8 4 6 4 14 19 115 8 34 8 23 8 19 8 11 4 3 4-1 4-3 4-5 8-17 20-55 7-14 4-4 4-1 4 2 4 3 20 30 8 6 4 0 4-1 4-4 16-24 7-9 4-2 4 0 24 10 8 1 4-1 4-4 20-29 4-4 4-2 4 1 7 6 20 30 4 3 4 2 4-1 4-4 8-14 20-55 8-17 4-6 4-2 3-1 4 3 8 11 8 18 8 24 8 34 20 115 4 14 4 5 4-7 4-22 4-36 7-98 7-34 4 2 -4 33 -8 96 -4 36 -4 22 -4 8 -4-5 -4-13 -20-111 -8-32 -8-23 -8-19 -7-12 -4-3 -4-1 -4 2 -8 10 -8 18 -20 51 -8 12 -4 3 -4 0 -4-2 -8-8 -15-21 -4-4 -4-1 -4 0 -4 2 -4 4 -12 17 -8 10 -4 2 -4 0 -24-8 -7 0 -8 6 -16 23 -4 4 -4 2 -4 0 -4-1 -4-4 -20-26 -4-4 -4-1 -4 0 -4 3 -7 12 -20 51 -8 18 -8 10 -4 2 -4-1 -4-3 -8-13 -8-18 -8-23 -7-33 -20-110 -4-14 -4-4 -4 8 -4 22 -4 36 -8 96 -4 33z"/><path fill="url(#a55)" stroke="url(#a55)" d="M296 536l2-37 8-103 4-39 4-23 4-9 4 5 3 15 20 120 8 36 8 25 8 20 8 13 4 3 4 1 4-2 8-12 27-75 8-12 4-2 4 0 4 3 4 4 20 29 4 4 4 1 4 0 4-3 4-5 15-24 4-4 4-2 8 0 24 10 4 0 4-2 8-10 12-19 7-7 4-1 4 2 4 3 20 29 4 5 4 2 4 0 4-2 4-5 8-16 16-46 7-20 8-11 4-2 4 1 4 3 8 13 8 20 8 25 8 35 20 121 4 14 4 5 3-8 4-23 4-39 8-103 7-35 3 2 -4 28 -11 115 -4 20 -4 7 -4-3 -4-12 -20-94 -8-28 -8-20 -8-15 -8-11 -4-3 -4-1 -4 1 -7 8 -8 14 -20 45 -8 12 -4 4 -4 1 -4 0 -4-2 -20-22 -7-5 -4 0 -4 1 -4 3 -16 20 -8 6 -8 0 -20-5 -8 1 -8 6 -15 20 -4 3 -4 1 -4-1 -8-5 -20-21 -4-2 -4-1 -4 2 -4 3 -8 12 -19 45 -8 15 -8 8 -4 1 -4-1 -4-3 -8-11 -8-16 -8-20 -8-28 -19-94 -4-11 -4-4 -4 8 -4 19 -12 115 -4 29z"/><path fill="url(#a54)" stroke="url(#a54)" d="M300 538l2-35 8-96 3-36 4-23 4-8 4 4 4 14 20 111 8 33 8 23 8 18 8 13 4 3 4 2 4-2 3-3 4-6 8-17 20-52 8-13 4-3 4-1 4 1 4 3 20 26 8 6 3 0 4-1 4-4 16-22 4-5 4-2 4-1 24 8 8 0 8-6 15-23 4-3 4-2 4 0 8 6 20 26 4 3 4 1 4-1 4-3 8-13 19-52 8-17 4-6 4-3 4-1 4 1 4 3 8 13 8 18 8 24 8 33 19 111 4 13 4 4 4-8 4-22 12-133 6-32 4 1 -4 21 -12 85 -4 15 -4 6 -3-2 -4-7 -20-67 -8-20 -8-14 -8-11 -8-7 -8-4 -8 3 -8 8 -27 46 -8 8 -4 2 -4 1 -8-2 -20-15 -8-2 -8 2 -15 16 -8 5 -8 2 -20-3 -8 2 -8 6 -12 12 -7 5 -4 0 -8-2 -20-15 -8-2 -4 1 -4 2 -8 8 -27 46 -8 8 -8 3 -8-4 -8-7 -8-11 -8-14 -8-20 -20-66 -4-8 -4-2 -3 6 -4 15 -12 85 -4 21z"/><path fill="url(#a53)" stroke="url(#a53)" d="M304 540l5-68 8-69 4-19 4-7 4 3 4 11 20 88 8 26 8 19 8 14 7 10 4 3 4 2 4-1 4-2 8-11 24-50 8-12 4-4 4-2 4 0 4 2 8 6 15 16 8 3 4-1 4-2 16-19 8-6 8-1 20 5 7-1 8-6 16-19 4-3 4 0 8 2 16 17 8 6 4 2 4 0 4-2 7-9 8-15 16-35 8-13 8-7 4-1 4 1 4 3 8 11 8 14 8 19 7 26 20 88 4 11 4 3 4-8 4-18 12-109 6-26 4 2 -4 11 -12 46 -4 8 -4 4 -4 0 -4-3 -19-31 -12-12 -12-8 -8-3 -12-1 -8 2 -8 5 -27 29 -12 8 -4 1 -8 0 -20-7 -8 0 -8 2 -15 11 -8 4 -24 2 -8 2 -24 15 -4 1 -8 0 -19-7 -8 0 -4 1 -12 8 -28 28 -8 6 -8 2 -11-1 -8-4 -12-7 -12-12 -20-31 -4-3 -4 0 -4 4 -4 8 -11 46 -4 10z"/><path fill="url(#a52)" stroke="url(#a52)" d="M308 541l1-18 12-72 4-13 4-5 4 1 4 6 20 55 8 16 8 11 7 9 8 6 8 3 8-1 8-7 8-10 20-30 8-8 8-4 3 0 8 3 20 11 8 1 8-4 12-11 8-5 8-2 19 1 8-2 8-6 12-10 8-4 4-1 8 3 20 12 7 0 4-1 4-3 8-8 20-30 8-10 8-6 4-1 8 0 8 5 15 17 12 23 20 55 4 6 4 1 4-5 4-13 12-72 6-17 4 2 -12 0 -8 2 -32 15 -23 8 -12 2 -24 0 -12 2 -12 5 -19 14 -12 5 -8 1 -24 0 -24 9 -27 8 -20 9 -8 1 -20-1 -8 1 -11 6 -20 13 -12 6 -12 1 -24 1 -11 2 -24 7 -32 15 -8 2 -12 0z"/><path fill="url(#a51)" stroke="url(#a51)" d="M311 543l2-7 12-28 4-5 4-3 4-1 4 1 20 15 11 5 20 4 16 0 8-2 8-3 31-25 12-6 8 0 20 4 8-1 8-3 19-10 24-4 8-3 16-9 8-3 8 0 19 3 12-1 12-8 24-19 8-5 8-2 16-2 23 5 12 6 20 14 4 1 4-1 4-3 4-5 12-28 6-5 4 2 -16-54 -4-6 -4 0 -4 3 -4 7 -16 40 -12 24 -15 20 -12 8 -4 1 -8 0 -8-4 -16-10 -8-3 -4 0 -8 3 -23 22 -12 7 -8 0 -16-2 -8 1 -51 20 -8 1 -20-2 -8 2 -8 5 -20 19 -7 5 -4 1 -4 0 -8-2 -16-11 -8-3 -8-1 -4 1 -12 8 -15 20 -12 24 -16 40 -4 7 -4 3 -4 0 -4-6 -16-54z"/><path fill="url(#a50)" stroke="url(#a50)" d="M315 545l10 19 4 5 4 2 4 0 8-7 15-23 8-10 16-13 12-7 12-2 24 6 11 0 12-5 20-16 8-4 8-2 20 1 7-1 60-22 8-1 16 1 7-1 12-5 20-16 12-5 12 0 23 6 12-2 12-7 16-13 8-10 16-23 8-7 4 0 4 2 3 5 8 14 7 7 3 2 -4-21 -7-59 -4-22 -4-12 -4-2 -4 5 -4 11 -16 68 -12 40 -8 18 -8 15 -8 11 -4 3 -3 2 -4 0 -4-1 -8-7 -20-24 -8-5 -4-1 -4 2 -8 7 -20 25 -7 7 -8 2 -20-5 -8 0 -8 2 -28 15 -7 3 -8 0 -16-5 -8 0 -4 2 -8 6 -24 30 -8 4 -4 0 -7-5 -20-24 -8-7 -4-1 -4 0 -4 2 -4 3 -8 11 -8 15 -8 18 -12 40 -15 67 -4 12 -4 5 -4-3 -4-12 -4-21 -8-59 -4-21z"/><path fill="url(#a49)" stroke="url(#a49)" d="M319 547l6 40 8 39 4 10 3 2 4-5 4-9 16-56 12-33 16-27 8-9 4-3 4-1 8 1 7 5 20 19 8 3 4 0 8-5 20-22 8-7 4-2 8-2 19 4 8 0 8-3 28-14 12-4 8 1 15 3 8-1 4-2 8-7 20-23 8-4 4-1 8 3 19 19 8 6 8 1 4-2 4-2 8-9 16-27 12-33 16-56 3-9 4-5 4 2 4 9 4 17 8 47 6 18 4 2 -4-28 -8-80 -4-29 -3-16 -4-4 -4 6 -4 15 -16 88 -12 52 -8 23 -8 19 -8 14 -4 4 -4 3 -4 0 -4-2 -4-3 -7-12 -16-27 -8-8 -4-1 -4 1 -8 7 -20 31 -8 8 -4 3 -7 0 -16-7 -8-1 -8 2 -28 17 -8 3 -8-1 -15-8 -8 1 -8 6 -24 36 -8 7 -4 1 -4-2 -4-3 -8-10 -15-28 -8-9 -4-1 -4 0 -4 2 -4 5 -8 14 -8 18 -8 23 -12 52 -16 89 -3 14 -4 7 -4-4 -4-17 -4-29 -8-80 -4-27z"/><path fill="url(#a48)" stroke="url(#a48)" d="M323 549l5 62 8 62 4 15 4 4 4-6 4-14 16-82 12-48 8-21 8-18 8-13 4-4 3-2 4-1 4 2 4 3 24 36 8 7 4 1 4-1 8-7 20-30 7-8 4-2 8 0 16 7 8 1 8-3 28-17 8-2 7 1 16 6 8 0 4-2 8-8 20-30 8-7 4-1 4 1 7 7 24 36 4 3 4 2 4 0 4-3 4-4 8-13 8-17 8-22 12-48 15-82 4-14 4-6 4 4 4 15 4 27 8 73 6 27 4 2 -4-32 -8-90 -4-33 -4-19 -4-5 -4 8 -4 16 -15 99 -12 58 -8 26 -8 20 -8 16 -4 4 -4 3 -4 0 -4-1 -4-4 -8-13 -15-31 -8-9 -4-2 -4 1 -8 7 -20 33 -8 10 -4 3 -8 0 -15-8 -8-2 -8 3 -28 18 -8 2 -8-2 -16-8 -7 1 -8 6 -24 39 -8 7 -4 1 -4-2 -4-3 -8-13 -12-24 -8-12 -3-4 -4-2 -4 0 -4 3 -4 5 -8 15 -8 21 -8 25 -12 58 -16 99 -4 17 -4 7 -4-5 -3-19 -4-33 -8-90 -4-31z"/><path fill="url(#a47)" stroke="url(#a47)" d="M327 551l5 76 8 77 4 19 4 5 4-8 4-16 16-99 12-58 8-25 8-21 7-15 4-5 4-3 4 0 4 2 4 3 8 13 12 24 8 12 4 4 4 2 4-1 8-7 23-39 8-6 8-1 16 8 8 2 8-3 27-18 8-2 8 2 16 8 8-1 4-2 8-10 20-33 7-7 4-1 4 2 8 9 16 31 8 13 4 3 4 2 4 0 4-3 4-5 8-15 8-21 8-25 11-58 16-99 4-16 4-8 4 5 4 19 4 33 8 90 6 33 4 1 -4-31 -8-90 -4-33 -4-19 -4-5 -4 8 -4 16 -16 99 -11 58 -8 25 -8 21 -8 15 -4 5 -4 3 -4 0 -4-2 -4-4 -8-12 -16-31 -7-9 -4-2 -4 1 -8 7 -20 33 -8 10 -4 2 -8 1 -16-8 -8-2 -7 2 -28 18 -8 3 -8-2 -16-8 -8 1 -8 6 -23 39 -8 7 -4 1 -4-2 -4-4 -8-12 -12-24 -8-13 -4-3 -4-2 -4 0 -4 3 -3 4 -8 16 -8 21 -8 25 -12 58 -16 99 -4 16 -4 8 -4-5 -4-19 -4-33 -8-90 -3-31z"/><path fill="url(#a46)" stroke="url(#a46)" d="M331 553l5 81 8 83 4 20 4 5 4-7 4-18 16-105 12-62 7-27 8-22 8-16 4-5 4-3 4 0 4 2 4 4 8 13 12 26 8 13 4 4 4 2 4 0 3-3 4-4 20-35 8-10 4-3 4-1 4 0 16 9 8 2 8-2 23-16 8-5 8 0 20 11 4 0 4-1 4-3 8-10 19-35 4-5 4-2 4 0 4 2 8 10 16 32 8 14 4 4 4 2 4 0 4-3 4-5 8-17 7-21 8-27 12-62 16-105 4-18 4-7 4 5 4 20 4 35 8 97 6 34 4 2 -4-27 -8-80 -4-29 -4-17 -4-4 -4 7 -4 14 -16 89 -12 52 -7 23 -8 19 -8 13 -4 5 -4 2 -4 0 -4-1 -4-4 -8-11 -16-28 -8-7 -4-1 -4 0 -7 7 -20 31 -8 9 -4 2 -8 1 -16-8 -8-1 -8 3 -27 17 -8 2 -8-1 -16-7 -8 0 -8 6 -23 36 -8 7 -4 1 -4-1 -4-3 -8-11 -16-27 -8-9 -4-2 -4 1 -4 2 -4 4 -8 14 -7 19 -8 23 -12 52 -16 88 -4 15 -4 6 -4-4 -4-16 -4-29 -8-80 -4-28z"/><path fill="url(#a45)" stroke="url(#a45)" d="M334 554l6 78 8 79 4 19 4 5 4-8 4-16 15-101 12-59 8-26 8-21 8-16 4-5 4-2 4-1 4 2 4 4 8 13 12 25 7 13 4 3 4 2 4 0 8-7 24-40 8-7 4-1 4 0 16 9 7 2 8-3 28-18 8-2 8 1 16 9 4 1 4-2 4-2 7-10 20-34 8-7 4-1 4 2 8 9 16 32 8 13 4 4 4 2 4 0 3-3 4-5 8-15 8-22 8-26 12-59 16-100 4-17 4-7 4 5 4 19 4 33 7 92 7 33 4 2 -4-21 -8-59 -4-21 -4-12 -4-3 -4 5 -4 12 -16 67 -12 40 -8 18 -8 15 -7 11 -4 3 -4 2 -4 0 -4-1 -8-7 -20-24 -8-5 -4 0 -4 1 -8 7 -19 26 -8 6 -8 2 -20-5 -8 0 -8 3 -27 15 -8 2 -8 0 -16-5 -8 0 -4 2 -8 7 -24 29 -7 5 -4-1 -8-4 -20-25 -8-7 -4-1 -4 0 -4 2 -4 3 -8 11 -8 15 -8 18 -11 40 -16 68 -4 11 -4 5 -4-2 -4-12 -4-22 -8-59 -4-21z"/><path fill="url(#a44)" stroke="url(#a44)" d="M338 556l6 64 8 65 4 16 4 4 4-7 3-14 16-84 12-50 8-22 8-18 8-14 4-4 4-2 4-1 4 2 4 4 8 11 15 26 8 7 4 1 4-1 8-7 20-30 8-9 4-2 8 0 15 7 8 1 8-2 28-17 8-3 8 1 16 7 7 0 4-2 8-9 20-30 8-7 4-1 4 1 8 7 16 26 7 11 4 4 4 2 4-1 4-2 4-4 8-13 8-19 8-22 12-50 16-84 4-14 4-7 3 4 4 16 4 28 8 76 7 27 3 2 -15-54 -4-6 -4 0 -4 3 -4 7 -16 40 -12 24 -16 20 -12 8 -4 1 -7-1 -8-3 -16-10 -8-3 -4 0 -8 3 -24 22 -12 6 -7 1 -16-2 -8 1 -52 20 -7 1 -20-2 -8 2 -8 5 -20 19 -8 5 -4 1 -4 0 -7-3 -16-10 -8-4 -8 0 -4 1 -12 8 -16 20 -12 24 -15 40 -4 7 -4 3 -4 0 -4-6 -16-54z"/><path fill="url(#a43)" stroke="url(#a43)" d="M342 558l6 43 7 43 4 10 4 2 4-5 4-10 16-59 12-35 16-29 8-10 4-3 4-1 7 1 8 6 20 21 8 3 4 0 8-4 20-24 8-7 4-3 7-1 16 4 8 1 12-4 28-14 8-3 8-1 19 5 8-2 4-2 8-7 20-24 8-4 4-1 8 4 19 21 8 6 8 1 4-2 4-3 8-9 16-29 12-35 15-59 4-10 4-5 4 2 4 10 4 18 8 51 6 19 4 2 -12 0 -8 2 -31 15 -24 7 -12 2 -23 1 -12 2 -12 5 -20 13 -12 6 -8 1 -23 0 -24 9 -28 8 -20 8 -8 2 -19-1 -8 1 -12 5 -20 14 -12 5 -12 2 -23 0 -12 2 -24 8 -31 15 -8 2 -12 0z"/><path fill="url(#a42)" stroke="url(#a42)" d="M346 560l5 16 8 15 4 3 4 0 4-3 4-5 16-27 8-12 16-16 12-7 7-2 8 0 20 8 12 1 12-5 20-17 11-6 8-1 16 1 8 0 59-22 8-1 16 1 12-2 8-5 20-16 7-4 4-1 8 0 20 7 8 2 12-2 12-8 16-16 7-11 16-27 4-5 4-3 4-1 4 3 4 7 8 19 6 8 4 2 -4 10 -12 46 -4 8 -4 4 -4 0 -4-3 -19-31 -12-12 -12-7 -8-4 -12-1 -8 2 -8 6 -27 28 -12 8 -4 1 -8 0 -20-6 -8-1 -4 1 -23 15 -8 2 -24 2 -8 4 -16 11 -8 2 -8 0 -19-7 -8 0 -4 1 -12 8 -28 29 -8 5 -8 2 -11-1 -8-3 -12-8 -12-12 -20-31 -4-3 -4 0 -4 4 -4 8 -11 46 -4 11z"/><path fill="url(#a41)" stroke="url(#a41)" d="M350 562l1-6 12-22 4-5 4-2 8-1 20 9 12 4 23 2 16-1 8-2 8-3 28-21 11-7 12-1 16 3 8 0 8-2 20-11 27-5 24-12 8-1 20 3 12-1 11-7 24-18 8-4 8-3 16-2 27 3 12 3 20 9 8 0 4-3 4-5 12-22 6-3 4 1 -4 21 -12 85 -4 15 -4 6 -4-2 -4-7 -20-67 -7-20 -8-14 -8-11 -8-7 -8-4 -8 3 -8 8 -28 46 -7 8 -4 2 -4 1 -8-2 -20-15 -8-2 -4 0 -8 5 -12 13 -8 5 -7 2 -20-3 -8 2 -8 5 -16 16 -8 2 -8-2 -19-15 -8-2 -4 1 -4 2 -8 8 -28 46 -8 8 -8 3 -8-4 -7-7 -8-11 -8-14 -8-20 -20-67 -4-7 -4-2 -4 6 -4 15 -12 85 -4 21z"/><path fill="url(#a40)" stroke="url(#a40)" d="M353 564l2-18 12-67 4-12 4-5 4 1 4 6 20 50 11 20 16 16 8 5 8 0 4-1 8-6 8-9 20-28 7-8 4-3 4-2 8 1 24 12 8 0 8-3 12-11 8-5 7-2 20 1 8-2 8-6 12-10 8-4 8 1 23 12 8 0 4-1 8-6 24-33 8-9 8-6 4-1 8 0 7 5 16 16 12 20 20 50 4 6 4 1 4-6 4-11 12-68 6-15 4 2 -4 29 -12 115 -4 19 -4 8 -4-4 -4-11 -20-94 -8-28 -8-20 -7-16 -8-10 -4-3 -4-2 -4 1 -8 8 -8 15 -20 45 -8 12 -4 3 -4 2 -4-1 -4-2 -19-21 -8-5 -4-1 -4 2 -4 2 -16 20 -8 7 -8 0 -19-5 -8 0 -8 6 -16 20 -4 3 -4 1 -4 0 -8-5 -20-22 -4-2 -3 0 -4 1 -4 4 -8 12 -20 45 -8 14 -8 8 -4 1 -4-1 -4-3 -8-11 -8-15 -7-20 -8-28 -20-94 -4-12 -4-3 -4 7 -4 20 -12 115 -4 28z"/><path fill="url(#a39)" stroke="url(#a39)" d="M357 565l6-65 8-66 4-18 4-7 4 2 4 10 19 85 8 25 8 18 8 14 8 10 4 3 4 1 4-1 4-2 8-10 23-48 8-12 4-4 4-2 4 0 4 1 8 6 16 16 8 3 4-1 8-6 11-15 8-6 8-1 20 4 8-1 8-6 16-18 4-2 4-1 7 3 20 19 8 4 4-1 4-2 8-9 8-14 16-34 8-13 7-6 4-1 4 2 4 3 8 10 8 14 8 17 8 26 20 84 4 10 4 3 4-7 4-18 11-105 7-25 3 2 -3 33 -8 96 -4 36 -4 22 -4 8 -4-4 -4-14 -20-110 -8-33 -8-23 -8-18 -8-13 -4-3 -3-1 -4 2 -8 10 -8 18 -20 51 -8 12 -4 3 -4 0 -4-1 -8-9 -15-21 -4-3 -4-2 -4 0 -4 2 -4 4 -12 18 -8 9 -4 2 -4 1 -24-9 -8 0 -7 6 -16 23 -4 4 -4 2 -4 0 -4-1 -4-3 -20-27 -4-3 -4-2 -4 0 -4 3 -7 12 -20 51 -8 18 -8 10 -4 2 -4-1 -4-3 -8-12 -8-18 -8-23 -8-33 -19-111 -4-13 -4-5 -4 8 -4 22 -4 36 -8 96 -4 33z"/><path fill="url(#a38)" stroke="url(#a38)" d="M361 567l6-82 8-82 4-22 3-8 4 4 4 13 20 109 8 32 8 23 8 18 8 13 4 3 4 1 4-1 4-3 4-6 7-17 20-51 8-13 4-3 4-1 4 1 4 3 20 25 8 6 4 0 4-1 3-4 16-22 8-6 8-1 20 8 8 0 8-7 15-22 4-4 4-1 4 0 8 6 20 25 4 3 4 1 4-1 4-3 8-13 19-51 8-17 4-5 4-4 4-1 4 1 4 4 8 12 8 18 8 23 8 33 20 108 3 14 4 3 4-8 4-22 12-130 6-32 4 2 -4 34 -8 98 -4 36 -3 22 -4 7 -4-5 -4-14 -20-113 -8-34 -8-23 -8-18 -8-12 -4-3 -4 0 -4 3 -4 4 -7 17 -16 44 -8 18 -4 6 -4 4 -4 2 -4-1 -4-3 -24-32 -4-2 -4-1 -4 1 -3 3 -20 28 -4 4 -4 2 -8-1 -24-9 -4 0 -4 2 -8 9 -15 23 -4 3 -4 1 -4 0 -8-7 -20-28 -4-3 -4-1 -4 2 -4 4 -8 14 -23 64 -8 11 -4 3 -4 0 -4-3 -8-12 -8-18 -8-23 -8-34 -19-113 -4-14 -4-5 -4 7 -4 22 -4 37 -8 97 -4 34z"/><path fill="url(#a37)" stroke="url(#a37)" d="M365 569l2-37 7-103 4-39 4-23 4-8 4 4 4 15 20 120 8 36 8 25 8 19 8 14 4 3 4 1 3-2 8-12 8-19 16-46 8-16 4-5 4-3 4 0 4 3 8 10 16 23 3 4 4 1 4 0 4-3 4-4 12-19 8-10 4-2 4-1 24 10 4 1 4 0 4-2 3-4 16-25 4-4 4-3 4 0 4 1 4 4 16 23 8 10 4 2 4 0 4-2 8-12 27-75 8-11 4-2 4 1 4 3 8 14 8 19 8 25 8 36 19 120 4 14 4 5 4-8 4-24 4-38 8-103 6-35 4 2 -16 151 -4 20 -4 6 -4-5 -4-13 -19-103 -8-29 -8-21 -8-16 -8-9 -4-2 -4 1 -4 3 -4 6 -8 16 -19 51 -8 12 -4 2 -4 0 -4-2 -8-9 -16-21 -4-3 -4-2 -4 1 -8 6 -15 23 -8 7 -8 2 -28-10 -8 2 -8 7 -16 23 -7 6 -4 1 -4-2 -4-3 -20-27 -4-3 -4-2 -4 0 -4 2 -8 12 -20 50 -7 17 -4 5 -4 4 -4 0 -4-1 -8-9 -8-16 -8-21 -8-30 -20-102 -4-13 -4-5 -4 6 -3 19 -16 152z"/><path fill="url(#a36)" stroke="url(#a36)" d="M369 571l1-37 8-99 4-37 4-22 4-7 4 5 4 14 20 117 8 34 8 24 8 19 7 11 4 3 4 0 4-3 8-13 24-65 8-15 4-3 4-1 4 1 4 4 19 29 8 7 4 0 4-1 4-4 20-29 4-4 4-2 8 1 23 11 4-1 4-1 8-9 16-25 4-3 4-2 4 1 8 6 20 30 4 3 4 2 3-1 4-4 8-14 24-66 8-13 4-2 4 0 4 2 8 12 8 19 8 23 7 35 20 116 4 15 4 5 4-8 4-22 4-37 8-99 6-34 4 2 -16 118 -4 14 -4 4 -4-4 -4-10 -16-66 -11-36 -8-15 -8-11 -4-4 -4-2 -4 0 -4 2 -8 10 -24 51 -8 11 -3 3 -4 0 -4-1 -4-3 -20-23 -8-5 -4 1 -8 5 -20 25 -8 5 -7 1 -28-6 -8 1 -4 2 -8 7 -16 21 -8 5 -4 0 -7-4 -16-19 -8-7 -4-2 -4 1 -4 3 -8 11 -24 50 -8 10 -4 2 -3 0 -4-2 -8-8 -12-21 -12-37 -16-65 -4-11 -4-4 -4 4 -4 14 -15 119z"/><path fill="url(#a35)" stroke="url(#a35)" d="M373 573l1-32 8-85 4-30 4-19 4-5 4 4 4 13 16 81 12 47 7 20 8 14 8 9 4 1 4-1 4-4 4-6 8-17 16-41 8-15 4-4 4-2 4 1 3 3 20 27 8 6 4 1 4-1 4-2 8-10 12-18 8-7 8-1 27 9 8-1 8-7 12-18 8-9 4-3 4-1 4 1 8 7 19 27 4 2 4 1 4-2 8-11 20-49 8-17 4-6 4-4 4-1 4 1 8 9 7 15 8 19 12 47 16 81 4 13 4 5 4-6 4-18 4-31 8-84 6-30 4 1 -12 59 -4 14 -4 7 -4 2 -4-3 -4-7 -16-39 -8-15 -4-5 -7-7 -8-5 -4-1 -8 3 -8 7 -24 39 -8 9 -4 1 -4 1 -4-2 -23-21 -8-3 -8 3 -20 22 -8 6 -4 2 -8 1 -39 0 -8 2 -8 6 -16 18 -8 6 -4 1 -8-2 -19-19 -8-5 -4 1 -4 2 -8 8 -24 39 -8 8 -4 1 -4 1 -8-3 -7-6 -8-9 -8-15 -16-39 -4-7 -4-3 -4 2 -4 7 -4 14 -12 59z"/><path fill="url(#a34)" stroke="url(#a34)" d="M376 575l2-25 8-60 4-21 4-12 4-3 4 4 4 10 15 57 12 31 12 18 8 7 4 1 4-1 8-7 8-13 20-41 7-9 4-2 4 1 4 2 20 23 8 5 4 1 8-4 20-24 8-7 7-2 32 5 8-1 4-1 8-7 20-24 8-4 3 1 8 5 20 23 4 2 4 0 4-1 4-4 8-12 16-34 8-13 7-7 4-1 4 1 8 7 12 17 12 32 16 57 4 10 4 4 4-3 4-12 4-21 7-60 7-23 4 2 -8 13 -4 4 -4 2 -8-1 -16-9 -12-4 -12 1 -12 4 -11 8 -24 29 -8 6 -4 1 -4 1 -8-4 -20-17 -8-3 -3 1 -8 6 -20 22 -8 4 -20-1 -24 8 -7 0 -12-1 -8 2 -8 7 -16 18 -8 6 -4 0 -8-2 -19-17 -8-4 -4 0 -4 2 -8 6 -24 28 -12 9 -12 4 -11 1 -12-4 -16-9 -8-1 -4 2 -4 3 -8 13z"/><path fill="url(#a33)" stroke="url(#a33)" d="M380 576l2-15 8-28 4-9 4-5 4 0 4 3 19 32 8 10 12 6 8 2 4 0 4-2 8-6 23-36 8-8 4-2 4 0 8 3 20 19 8 3 4 0 8-5 20-23 7-5 20 0 20-3 16 0 8-3 8-6 15-19 8-5 4-1 4 1 8 6 16 16 8 3 4 0 4-3 8-8 23-35 8-7 4-1 4-1 8 2 12 7 8 9 20 33 4 3 3-1 4-4 4-9 8-29 7-13 3 2 -4-3 -11-33 -4-7 -4-4 -4 0 -4 2 -4 5 -24 39 -28 36 -11 13 -8 6 -8 2 -8-4 -24-23 -8-3 -4 0 -8 6 -19 27 -8 7 -4 0 -4-1 -12-6 -8 0 -8 4 -16 11 -8 2 -4-1 -11-6 -4-1 -4 1 -8 6 -20 28 -8 5 -4 1 -8-4 -23-23 -8-3 -8 1 -8 6 -12 13 -28 36 -23 40 -4 4 -4 3 -4-1 -4-3 -4-8 -12-32 -4-4z"/><path fill="url(#a32)" stroke="url(#a32)" d="M384 578l2-4 4 2 11 11 8 4 4 0 8-2 8-4 28-21 31-35 8-6 4-1 4 0 8 4 20 20 8 3 4 0 8-6 15-20 8-8 8-3 12 3 8 1 28-12 8 1 11 3 4 0 8-6 20-25 8-5 4-1 8 4 16 15 8 6 7 2 4-1 4-2 8-7 20-24 8-8 28-20 12-6 7-1 4 2 16 13 4 2 6-2 4 2 -4-13 -12-73 -4-13 -4-6 -3 2 -4 7 -20 68 -12 33 -20 39 -8 12 -8 6 -4 1 -4 0 -7-5 -24-33 -8-6 -4-1 -4 1 -8 8 -20 35 -8 7 -4 1 -3-1 -12-11 -4-3 -4-2 -4 1 -4 3 -20 20 -4 3 -4 1 -4-1 -4-3 -12-12 -4-1 -3 1 -8 8 -20 34 -8 8 -4 1 -4-1 -8-6 -24-33 -7-5 -4 0 -4 1 -8 7 -8 11 -20 39 -12 34 -20 67 -4 8 -3 1 -4-5 -4-14 -12-72 -4-14z"/><path fill="url(#a31)" stroke="url(#a31)" d="M388 580l13 62 4 10 4 5 4 0 4-5 4-8 16-42 12-26 23-40 8-10 8-6 8-1 8 4 24 29 8 6 4 0 4-2 4-3 23-37 4-3 4-2 4 0 4 2 12 9 4 1 4 0 4-2 16-14 8-6 3 0 4 1 16 11 4 0 4-2 8-9 16-26 8-8 4-2 4 0 8 6 23 29 8 4 8-1 8-6 8-10 24-40 12-26 15-42 4-8 4-5 4 0 4 5 4 10 4 17 8 38 6 9 4 2 -4-22 -12-103 -4-18 -4-7 -4 4 -4 11 -19 97 -12 45 -16 42 -8 14 -4 5 -4 2 -4 1 -4-1 -4-3 -8-11 -19-36 -8-8 -4-1 -4 1 -8 9 -20 41 -8 11 -4 1 -4 0 -4-4 -11-16 -4-4 -4-1 -4 1 -4 4 -20 26 -4 4 -4 1 -4-1 -4-4 -12-16 -4-4 -4-1 -4 2 -8 11 -19 41 -8 8 -4 2 -4-1 -8-8 -20-36 -8-11 -4-3 -4-1 -4 0 -7 8 -8 14 -16 42 -12 45 -20 97 -4 11 -4 3 -4-6 -4-18 -11-103 -4-22z"/><path fill="url(#a30)" stroke="url(#a30)" d="M392 582l13 109 4 17 4 7 4-3 4-9 20-86 12-41 11-30 8-17 8-12 4-3 4-2 4 0 4 1 4 4 8 11 20 33 4 4 4 2 4 0 3-2 4-4 24-46 4-4 4-3 4 0 4 3 12 14 4 4 4 1 4-1 4-3 19-24 4-3 4-1 4 1 4 4 12 14 4 3 4 0 4-3 4-5 24-45 4-4 4-3 3 0 4 3 8 9 16 28 8 11 4 3 4 2 4 0 4-2 4-4 8-12 8-17 11-30 12-41 20-85 4-10 4-2 4 7 4 16 12 92 6 20 4 2 -4-28 -12-121 -4-20 -4-7 -4 6 -4 14 -20 116 -7 37 -8 28 -8 23 -8 17 -4 6 -4 4 -4 1 -4-1 -4-3 -8-12 -16-35 -8-13 -4-4 -3-2 -4 1 -4 3 -8 13 -20 45 -4 6 -4 3 -4 0 -4-2 -16-24 -4-4 -4-1 -4 1 -3 5 -20 30 -4 4 -4 2 -4-1 -4-4 -16-24 -4-3 -4 1 -4 3 -4 5 -23 53 -4 5 -4 4 -4 0 -4-1 -8-10 -20-42 -8-12 -4-4 -4-1 -4 2 -4 3 -8 14 -7 21 -8 25 -12 52 -20 116 -4 14 -4 5 -4-6 -4-20 -12-121 -4-28z"/><path fill="url(#a29)" stroke="url(#a29)" d="M395 584l10 111 4 33 4 20 4 7 4-4 4-13 20-112 11-52 16-46 8-15 4-5 4-2 4 0 4 2 4 5 8 13 12 27 8 15 3 4 4 3 4 1 4-3 8-11 20-45 4-7 4-4 4-1 4 2 4 4 12 20 4 4 4 1 4-1 3-5 20-29 4-4 4-2 4 2 4 4 12 19 4 4 4 2 4-1 4-4 4-6 19-46 8-11 4-2 4 0 4 3 4 5 8 15 12 26 8 14 4 4 4 2 4 0 4-2 4-5 7-15 16-46 12-51 20-112 4-14 4-4 4 7 4 21 12 118 6 28 4 2 -4-32 -8-91 -4-33 -4-20 -4-5 -4 7 -4 16 -20 123 -8 38 -8 28 -7 23 -8 16 -4 4 -4 2 -4 0 -4-3 -4-5 -8-15 -16-36 -8-11 -4-2 -4 0 -4 3 -4 5 -7 16 -16 37 -8 12 -4 1 -4-1 -4-3 -16-26 -4-3 -4-1 -4 2 -4 5 -19 31 -4 5 -4 2 -4-1 -4-3 -16-26 -4-3 -4-1 -4 2 -8 11 -20 46 -7 12 -4 3 -4 1 -4-3 -4-4 -8-15 -16-36 -8-12 -4-3 -4 0 -4 2 -4 5 -4 7 -8 19 -11 40 -8 38 -20 123 -4 16 -4 7 -4-5 -4-19 -4-34 -8-91 -4-31z"/><path fill="url(#a28)" stroke="url(#a28)" d="M399 586l6 78 8 83 4 21 4 7 4-6 4-16 19-127 8-39 8-30 8-25 8-18 4-6 4-3 4 0 4 1 4 5 8 14 19 46 4 6 4 4 4 1 4-2 8-11 20-48 8-14 4-2 4 0 4 3 15 27 4 4 4 1 4-2 4-4 20-33 4-4 4-2 4 1 4 4 16 27 4 3 4 0 4-2 7-14 20-48 8-11 4-2 4 1 4 4 4 6 20 46 8 14 4 5 3 1 4 0 4-3 8-14 8-22 8-27 12-55 20-127 4-16 4-6 4 7 4 21 4 36 7 95 7 33 3 1 -3-31 -8-84 -4-30 -4-16 -4-3 -4 8 -4 17 -16 96 -12 56 -12 35 -8 17 -4 5 -3 3 -4 0 -4-2 -4-5 -8-14 -12-26 -8-14 -4-5 -4-2 -4 0 -4 2 -4 5 -8 15 -16 35 -7 12 -4 3 -4 1 -4-2 -4-4 -16-23 -4-3 -4 0 -4 2 -4 5 -24 33 -4 3 -3 0 -4-3 -4-5 -12-18 -4-4 -4-2 -4 1 -4 3 -8 11 -16 36 -8 15 -4 5 -4 2 -4 0 -3-2 -8-11 -16-34 -8-15 -4-4 -4-2 -4 0 -4 3 -8 12 -8 20 -8 25 -11 56 -16 96 -4 16 -4 9 -4-3 -4-16 -4-30 -8-84 -4-31z"/><path fill="url(#a27)" stroke="url(#a27)" d="M403 588l6 80 8 80 4 19 3 5 4-8 4-17 20-128 8-39 12-40 8-20 4-6 4-4 4-2 4 1 4 4 8 14 19 46 8 10 4 2 4-1 4-4 4-6 24-56 4-7 4-3 4-2 4 2 3 4 16 27 4 3 4 1 4-3 4-5 20-32 4-5 4-2 4 0 4 4 4 6 11 21 4 4 4 1 4-1 4-4 4-6 24-56 4-6 4-4 4-1 4 1 8 11 19 46 8 14 4 3 4 2 4-2 4-4 8-15 8-23 8-29 8-39 20-127 4-17 3-8 4 5 4 19 4 34 8 94 6 34 4 2 -12-97 -4-22 -3-10 -4 0 -4 9 -4 16 -16 82 -8 32 -8 23 -8 17 -8 12 -4 2 -4 1 -4-2 -4-4 -7-12 -16-30 -8-9 -4-2 -4 0 -4 3 -4 4 -8 14 -16 32 -8 11 -4 3 -4 1 -3-1 -4-3 -16-18 -4-3 -4-1 -4 1 -4 3 -28 31 -4 3 -4 0 -4-1 -4-3 -15-18 -4-2 -4-1 -4 1 -4 3 -8 11 -16 32 -8 13 -4 5 -4 2 -4 0 -4-1 -4-4 -7-13 -12-23 -8-12 -4-3 -4-2 -4 0 -4 3 -8 11 -8 17 -8 23 -8 33 -15 82 -4 16 -4 9 -4 0 -4-11 -4-22 -12-97z"/><path fill="url(#a26)" stroke="url(#a26)" d="M407 589l2 31 7 82 4 28 4 15 4 2 4-9 4-17 16-95 12-54 12-34 8-15 4-5 4-2 4 1 3 3 4 5 24 50 8 9 4 2 4-1 4-4 4-6 24-51 7-11 4-2 4 0 4 3 16 22 4 5 4 2 4 0 4-3 24-33 8-7 4 0 3 2 20 27 4 2 4 0 4-2 8-10 24-52 4-6 4-3 4-1 4 1 7 10 24 49 4 5 4 3 4 1 4-2 4-4 8-16 12-34 12-54 15-95 4-17 4-9 4 2 4 15 4 28 8 82 6 33 4 2 -12-69 -4-12 -4-3 -4 4 -4 9 -19 74 -8 22 -8 14 -8 10 -4 4 -4 1 -4 0 -8-5 -24-35 -7-6 -4 0 -4 1 -8 8 -24 41 -8 8 -4 1 -8 0 -19-13 -8-2 -4 0 -8 4 -28 22 -8 4 -4 0 -8-2 -19-13 -8 0 -4 2 -4 3 -8 10 -20 35 -8 8 -4 2 -4-1 -8-6 -23-35 -8-5 -4 0 -4 2 -4 3 -8 10 -8 14 -8 22 -20 74 -4 10 -4 3 -3-3 -4-12 -12-69z"/><path fill="url(#a25)" stroke="url(#a25)" d="M411 591l1 27 8 61 4 19 4 8 4-1 4-10 20-92 8-29 12-28 8-13 3-3 4-2 4 1 4 2 8 11 20 35 8 8 4 0 4-1 8-10 19-39 8-11 4-4 4-2 4 0 4 2 20 18 4 3 4 0 8-4 27-28 8-4 4 0 4 3 20 19 4 1 4 0 4-2 8-9 24-45 7-9 4-2 4 0 8 8 20 35 8 11 4 2 4 1 4-2 4-3 8-13 11-28 8-29 20-92 4-10 4-1 4 8 4 19 8 61 6 29 4 2 -4-17 -4-12 -4-6 -4 0 -4 4 -4 7 -20 48 -7 12 -8 6 -12 4 -8-2 -8-7 -20-25 -8-5 -4-1 -4 2 -8 7 -19 35 -8 10 -4 2 -4 2 -8-2 -16-9 -8-2 -8 2 -19 11 -24 7 -20 11 -4 1 -8-2 -12-7 -7-4 -4 0 -4 1 -4 3 -8 10 -20 34 -8 8 -4 2 -4-1 -8-5 -20-25 -7-7 -8-2 -8 2 -8 5 -8 8 -8 15 -16 40 -4 7 -4 4 -4-1 -4-5 -4-12 -3-17z"/><path fill="url(#a24)" stroke="url(#a24)" d="M415 593l1 21 8 34 4 7 4 1 4-6 4-9 16-53 8-21 4-7 7-11 8-6 4-2 4-1 8 5 8 9 16 24 8 7 4 1 4-1 8-8 23-41 8-8 4-2 8 0 20 12 8 2 4-1 8-3 35-22 8-3 4-1 8 2 20 12 8 0 4-2 4-3 7-11 20-36 8-7 4-1 4 1 4 2 28 38 8 4 4 0 3-2 8-6 8-11 4-7 8-21 16-53 4-10 4-5 4 0 4 8 14 57 4 2 -4-10 -4 3 -20 50 -4 7 -4 4 -4 2 -4 0 -8-3 -19-14 -8-8 -20-25 -8-5 -4 0 -4 1 -8 9 -24 45 -7 8 -4 2 -4-1 -4-2 -20-19 -4-1 -4 0 -8 7 -12 14 -4 4 -4 1 -4 1 -15-5 -8-1 -8 5 -16 19 -4 2 -4 1 -8-5 -16-16 -4-2 -4 0 -3 1 -8 9 -24 45 -8 8 -4 2 -4 0 -8-5 -20-25 -8-8 -19-15 -8-3 -4 1 -4 2 -4 4 -4 7 -20 50 -4 2 -4-9z"/><path fill="url(#a23)" stroke="url(#a23)" d="M418 595l2 13 4 5 4 0 4-5 4-8 16-35 8-12 7-5 12-1 12 4 8 8 20 25 8 6 4 1 4-1 8-8 23-44 8-8 4-1 4 0 4 2 20 14 4 1 4-1 4-2 15-13 4-2 28-3 8-5 12-10 8-3 8 3 15 13 4 2 4 0 4-2 8-8 24-43 8-8 4-2 4 1 8 6 19 26 8 7 8 3 12 1 8-3 8-8 8-14 12-28 4-7 4-5 4-1 4 6 6 15 4 2 -4-2 -4 16 -8 43 -8 30 -4 8 -4 2 -4-2 -4-5 -24-47 -23-39 -8-9 -4-2 -4-1 -4 1 -8 8 -8 16 -16 37 -8 13 -4 4 -4 0 -4-1 -4-4 -19-29 -4-3 -4 0 -4 2 -4 5 -12 23 -4 7 -4 4 -4 1 -4-2 -20-15 -3-1 -4 1 -4 4 -4 6 -12 23 -4 5 -4 2 -4 0 -4-3 -20-29 -4-4 -4-1 -4 1 -4 3 -7 13 -16 38 -8 15 -8 8 -4 2 -4-1 -4-3 -8-9 -24-39 -23-47 -4-5 -4-2 -4 3 -4 7 -8 31 -8 43 -4 15 -4-1z"/><path fill="url(#a22)" stroke="url(#a22)" d="M422 597l2 5 4-9 12-47 4-12 4-9 3-5 4-1 4 1 8 7 28 37 20 29 8 7 4 0 4-1 7-8 8-16 16-35 8-11 4-3 4 0 4 2 4 4 16 21 4 3 4 1 4-1 4-4 11-19 8-9 4-1 4 0 20 11 4 0 4-1 8-9 12-19 4-4 4-1 3 1 4 3 16 21 4 4 4 2 4 0 4-3 8-11 16-35 8-15 8-9 4-1 3 0 8 7 20 29 28 37 8 7 4 1 4-1 4-5 4-8 4-12 11-47 4-9 7 7 3 1 -4 6 -11 88 -4 23 -4 14 -4 5 -4-2 -4-7 -24-77 -16-38 -12-21 -4-4 -3-2 -4-1 -4 2 -8 11 -8 18 -16 44 -8 14 -4 4 -4 1 -4-1 -4-5 -19-38 -4-5 -4-2 -4 1 -4 4 -4 8 -12 30 -4 7 -4 4 -4 1 -4-3 -20-23 -4-3 -4 1 -4 4 -4 7 -11 30 -4 8 -4 4 -4 1 -4-2 -4-5 -20-38 -4-5 -4-1 -4 1 -4 4 -8 14 -15 44 -8 18 -8 11 -4 2 -4-1 -4-2 -4-4 -12-21 -16-38 -23-77 -4-7 -4-2 -4 5 -4 14 -4 23 -12 88 -4 6z"/><path fill="url(#a21)" stroke="url(#a21)" d="M426 599l2-3 4-22 11-76 4-14 4-7 4 0 4 4 4 9 20 55 20 42 12 19 4 3 4 2 3 0 4-3 4-5 8-15 20-52 8-12 4-3 4 1 4 3 8 12 12 23 4 5 3 3 4 0 4-4 4-6 12-28 4-7 4-4 4-1 4 2 20 21 4 2 4-1 4-4 4-7 11-28 4-6 4-4 4 0 4 3 4 5 12 23 8 12 4 3 4 0 4-2 8-12 23-61 8-11 4-3 4 0 4 1 4 4 12 19 20 42 20 55 4 8 3 5 4-1 4-7 4-14 16-97 6-1 4 2 -4 12 -12 109 -4 24 -4 14 -3 3 -4-5 -4-12 -20-87 -12-38 -8-19 -8-15 -4-5 -4-2 -4-1 -4 2 -8 12 -7 19 -20 57 -4 8 -4 5 -4 1 -4-1 -4-4 -8-14 -16-36 -4-4 -4-2 -4 2 -3 6 -16 44 -4 8 -4 4 -4 0 -4-3 -20-29 -4-3 -4 0 -4 4 -4 8 -16 43 -3 6 -4 3 -4-2 -4-5 -16-35 -8-15 -4-4 -4-1 -4 2 -4 5 -8 17 -16 47 -7 20 -8 11 -4 2 -4 0 -4-3 -4-4 -8-15 -8-20 -12-37 -20-87 -4-12 -4-6 -3 4 -4 13 -4 25 -12 109 -4 11z"/><path fill="url(#a20)" stroke="url(#a20)" d="M430 600l13-112 4-25 4-15 4-5 4 4 4 10 20 80 12 36 16 36 7 10 4 2 4-1 4-3 4-6 8-18 20-58 8-14 4-3 4 0 4 3 4 5 19 44 4 5 4 3 4-2 4-6 16-42 4-8 4-5 4 0 4 3 20 28 4 3 3 0 4-4 4-8 16-43 4-5 4-2 4 2 4 5 20 44 4 6 4 3 4 0 4-3 8-15 19-58 8-18 4-6 4-3 4 0 4 1 8 10 16 36 12 37 19 80 4 10 4 3 4-5 4-14 4-25 12-103 6-8 4 2 -4 17 -12 118 -4 25 -4 12 -4 0 -4-9 -4-15 -15-82 -12-45 -8-21 -8-16 -4-5 -4-3 -4-1 -4 2 -8 12 -8 19 -19 58 -8 14 -4 3 -4 0 -4-3 -4-6 -20-44 -4-7 -4-3 -4-1 -4 4 -4 6 -15 45 -4 8 -4 4 -4 0 -4-4 -20-30 -4-3 -4 0 -4 3 -4 8 -16 45 -4 7 -4 3 -4 0 -3-4 -4-7 -20-44 -4-6 -4-2 -4-1 -4 3 -8 14 -20 58 -8 20 -8 11 -3 2 -4 0 -4-3 -4-6 -8-16 -8-21 -12-45 -16-82 -4-15 -4-9 -4 1 -4 12 -4 24 -11 118 -4 17z"/><path fill="url(#a19)" stroke="url(#a19)" d="M434 602l13-134 4-26 4-14 4-2 4 7 4 14 16 80 12 47 7 22 8 19 8 11 4 2 4-1 4-3 8-15 24-72 8-16 4-4 4-1 4 2 3 5 8 17 12 30 4 8 4 4 4 2 4-3 4-7 16-47 4-8 4-5 4 0 4 4 19 32 4 4 4 0 4-4 4-9 16-47 4-7 4-2 4 1 4 4 4 8 12 30 8 17 4 5 3 2 4-1 4-4 8-16 24-72 8-14 4-4 4 0 4 2 8 11 8 18 7 22 12 47 16 80 4 14 4 7 4-2 4-14 4-26 12-119 6-13 4 2 -4 21 -12 117 -4 22 -4 9 -4-2 -4-12 -20-102 -7-31 -8-22 -8-16 -4-5 -4-3 -4 0 -4 2 -8 11 -8 18 -20 55 -8 14 -4 3 -3 1 -4-2 -4-4 -8-13 -16-33 -4-5 -4-2 -4 1 -4 4 -4 7 -12 31 -8 17 -4 3 -4 0 -3-4 -20-26 -4-4 -4 0 -4 4 -4 6 -16 42 -4 7 -4 3 -4 1 -4-2 -4-5 -15-33 -8-13 -4-4 -4-2 -4 1 -4 3 -8 14 -20 55 -8 18 -8 11 -4 2 -4 0 -4-3 -3-5 -8-16 -8-22 -8-31 -20-102 -4-12 -4-2 -4 9 -4 22 -12 117 -4 21z"/><path fill="url(#a18)" stroke="url(#a18)" d="M437 604l14-143 4-25 4-12 4 1 4 10 20 104 11 48 12 30 8 11 4 2 4 0 4-3 8-14 24-71 8-17 4-5 3-2 4 1 4 4 8 15 16 38 4 6 4 3 4 0 4-4 4-7 16-46 4-8 4-4 4 1 3 3 20 31 4 4 4 1 4-4 4-8 16-46 4-8 4-3 4 0 4 3 4 6 19 46 4 7 4 4 4 1 4-2 4-5 4-8 8-21 16-49 8-18 4-6 4-3 4-1 4 3 7 11 12 30 12 47 20 105 4 10 4 0 4-11 4-25 12-123 6-18 4 2 -4 25 -8 78 -4 29 -4 17 -4 5 -4-6 -4-14 -16-82 -8-32 -4-11 -8-17 -7-11 -4-2 -4 0 -4 2 -8 11 -28 66 -8 12 -4 3 -4 1 -4-2 -4-3 -8-10 -15-25 -8-7 -4-1 -4 2 -4 4 -4 6 -16 33 -4 6 -4 2 -4 0 -4-2 -19-20 -4-2 -4 0 -4 2 -8 13 -12 25 -4 7 -4 4 -4 1 -4 0 -8-7 -16-25 -7-11 -4-3 -4-1 -4 1 -4 3 -8 12 -28 66 -8 10 -4 3 -4 0 -4-2 -8-11 -7-17 -4-12 -8-32 -16-81 -4-14 -4-6 -4 5 -4 17 -4 29 -8 78 -4 25z"/><path fill="url(#a17)" stroke="url(#a17)" d="M441 606l10-108 4-34 4-21 4-8 4 4 4 13 19 106 8 30 12 29 8 11 4 2 4 0 4-4 8-13 24-65 7-16 4-5 4-2 4 0 4 3 8 11 20 39 4 4 4 2 4-1 4-5 4-7 12-31 7-16 4-3 4 1 4 3 20 26 4 3 4 0 4-3 4-6 16-41 4-7 4-4 4-1 3 2 8 10 20 39 4 5 4 2 4 1 4-3 8-12 8-19 16-45 7-17 4-6 4-3 4-1 4 2 8 11 12 29 8 31 20 106 4 12 4 4 4-8 4-21 11-117 7-22 3 2 -11 95 -4 22 -4 11 -4-1 -4-9 -20-89 -8-25 -8-14 -8-7 -4-1 -4 1 -7 8 -8 15 -20 43 -8 11 -4 3 -4 2 -8-2 -8-6 -20-20 -7-3 -4 0 -4 1 -8 7 -16 21 -8 7 -8 2 -24-10 -8 0 -7 4 -16 21 -8 9 -8 4 -4 0 -4-1 -8-6 -20-20 -8-4 -3 0 -4 1 -8 8 -8 14 -16 35 -8 15 -8 8 -4 1 -4-1 -8-6 -8-14 -7-25 -20-90 -4-9 -4 0 -4 10 -4 22 -12 96z"/><path fill="url(#a16)" stroke="url(#a16)" d="M445 608l2-28 8-75 4-28 4-15 4-3 3 7 4 15 16 82 8 30 4 11 8 15 8 8 4 1 4-1 8-9 8-17 19-48 8-13 4-4 4-1 4 0 4 2 8 9 20 27 8 5 4 0 4-2 4-4 15-30 8-11 4-2 4 0 4 2 20 17 4 2 4 0 4-2 4-5 19-35 4-5 4-2 4 0 4 2 8 8 20 28 8 5 4 0 4-1 4-4 8-13 19-48 8-16 8-10 4-1 4 1 8 8 8 15 4 11 8 30 16 82 4 15 3 7 4-3 4-15 4-27 8-76 6-25 4 1 -8 63 -4 23 -4 13 -3 2 -4-6 -4-12 -12-51 -8-27 -8-16 -4-3 -4-2 -4 0 -4 1 -4 3 -4 4 -8 14 -19 42 -8 9 -4 3 -4 0 -4-1 -8-5 -16-14 -8-4 -4 0 -4 1 -8 4 -19 16 -8 4 -68 13 -7 4 -20 16 -8 4 -4 1 -4 0 -8-3 -16-15 -8-5 -4-1 -4 1 -3 2 -8 10 -20 41 -8 14 -4 4 -4 3 -4 1 -4 0 -4-1 -4-4 -8-16 -8-27 -11-51 -4-12 -4-6 -4 3 -4 12 -4 23 -8 63z"/><path fill="url(#a15)" stroke="url(#a15)" d="M449 610l2-32 7-62 4-18 4-8 4 3 4 10 16 72 8 28 8 16 4 4 8 4 4-1 4-2 4-5 8-14 19-44 8-11 4-4 4-1 8 2 24 21 8 4 4 1 4 0 7-4 24-24 8-5 8-1 28 5 8-2 7-5 20-20 8-5 4-2 8 0 8 5 24 21 8 2 3-2 4-3 8-11 20-44 8-14 4-5 4-2 4-1 8 4 4 4 8 16 8 28 15 72 4 10 4 3 4-8 4-18 8-62 6-30 4 2 -8 60 -4 14 -4 3 -4-5 -4-11 -11-48 -8-24 -4-8 -4-4 -4-1 -4 1 -4 3 -8 9 -8 15 -20 45 -8 10 -4 2 -4 0 -7-5 -20-26 -4-3 -4-1 -4 0 -8 6 -20 28 -8 6 -4 1 -4-2 -11-8 -8-2 -8 3 -20 18 -8 4 -8-3 -12-8 -4-1 -4 1 -7 6 -20 28 -8 6 -4 0 -4-1 -4-3 -20-26 -8-6 -4 0 -4 3 -7 10 -20 45 -8 15 -8 9 -4 3 -4 1 -4-1 -4-5 -4-7 -8-24 -12-48 -4-11 -3-6 -4 4 -4 13 -8 60z"/><path fill="url(#a14)" stroke="url(#a14)" d="M453 611l1-34 4-28 4-19 4-9 4 1 4 8 16 64 8 24 4 7 4 4 4 2 4-1 8-4 4-5 7-14 20-44 8-10 4-3 4 0 4 1 8 7 16 17 8 4 4 0 7-4 20-21 8-5 8 0 12 2 8-1 24-12 7-2 16 2 8-1 8-5 20-20 8-4 4 0 8 3 15 18 8 7 4 1 4-1 4-2 8-11 20-44 8-14 4-4 8-5 4 0 3 2 4 4 4 7 8 24 16 63 4 8 4 1 4-8 4-19 4-28 6-33 4 2 -4 38 -4 20 -4 5 -4-6 -4-12 -16-65 -4-10 -4-6 -4-2 -3 1 -4 3 -8 13 -8 17 -20 53 -8 14 -4 4 -4 1 -4-1 -4-4 -23-44 -4-4 -4-3 -4 1 -4 3 -4 6 -20 43 -4 6 -4 4 -4 2 -4-2 -4-4 -12-19 -4-4 -3-2 -4 2 -4 4 -20 30 -4 5 -4 1 -4-1 -4-4 -12-19 -4-5 -4-1 -4 1 -4 4 -4 6 -19 44 -4 5 -4 3 -4 1 -4-2 -4-4 -24-44 -4-4 -4-1 -4 1 -4 3 -8 15 -19 52 -8 17 -8 13 -4 4 -4 1 -4-2 -4-7 -4-10 -16-64 -4-13 -4-5 -4 5 -4 19 -3 38z"/><path fill="url(#a13)" stroke="url(#a13)" d="M457 613l1-38 4-22 4-9 4 1 4 9 20 74 4 9 4 5 4 1 4-1 4-3 7-10 8-16 20-49 8-13 4-3 4-1 4 2 4 4 20 32 8 8 3 0 4-1 8-9 16-30 8-10 4-2 4 1 4 2 12 14 4 3 4 1 4-2 4-3 19-24 4-3 4-1 4 1 4 3 12 13 4 3 4 0 4-2 4-4 24-41 3-4 4-1 4 0 8 8 20 32 4 4 4 2 4-1 4-3 8-12 20-50 7-15 8-11 4-3 4-1 4 2 4 5 4 8 20 75 4 8 4 1 4-9 10-58 4 2 -4 40 -4 15 -4-2 -4-14 -16-74 -4-12 -4-7 -4-2 -4 2 -8 15 -11 32 -20 62 -8 16 -4 4 -4 1 -4-2 -4-5 -8-17 -16-40 -4-7 -4-4 -4-1 -3 3 -8 14 -20 57 -4 7 -4 5 -4 0 -4-4 -4-7 -12-28 -4-6 -4-2 -4 2 -4 6 -19 41 -4 5 -4 2 -4-2 -4-6 -12-28 -4-7 -4-4 -4 1 -4 4 -4 7 -20 57 -7 14 -4 3 -4-1 -4-4 -4-7 -16-40 -8-17 -4-4 -4-2 -4 1 -4 4 -8 16 -19 61 -12 33 -8 14 -4 2 -4-2 -4-7 -4-11 -16-75 -4-13 -4-3 -4 15 -4 40z"/><path fill="url(#a12)" stroke="url(#a12)" d="M460 615l2-41 4-17 4-1 4 10 16 69 4 14 4 8 4 4 3 0 4-3 4-6 8-17 28-77 8-14 4-2 4 0 4 3 4 6 19 45 8 11 4 2 4-2 4-4 4-7 20-52 4-7 4-4 4-1 4 3 4 6 12 24 4 5 3 2 4-2 4-5 20-36 4-5 4-2 4 2 4 5 12 24 4 6 4 3 4-1 4-4 4-7 19-52 4-7 4-4 4-2 4 2 8 11 20 45 4 6 4 3 4 0 4-2 8-14 27-77 8-17 4-6 4-3 4 0 4 4 4 8 4 13 16 70 4 10 4-1 4-17 6-39 4 2 -4 41 -4 11 -4-8 -16-87 -4-16 -4-10 -4-3 -4 1 -4 7 -4 10 -31 111 -8 19 -4 5 -4 2 -4-2 -4-5 -8-18 -12-37 -8-20 -4-7 -4-3 -4 1 -4 4 -8 19 -19 66 -4 8 -4 4 -4-1 -4-5 -16-44 -4-7 -4-2 -4 2 -4 6 -20 49 -3 7 -4 2 -4-2 -4-8 -16-43 -4-5 -4-1 -4 4 -4 8 -24 77 -4 8 -4 4 -4 1 -3-4 -8-15 -16-48 -8-18 -4-5 -4-2 -4 2 -4 5 -8 18 -31 112 -4 10 -4 6 -4 2 -4-3 -4-10 -4-16 -16-87 -4-8 -4 10 -4 42z"/><path fill="url(#a11)" stroke="url(#a11)" d="M464 617l2-43 4-13 4 6 4 17 12 64 4 16 3 11 4 6 4 0 4-4 8-19 32-104 8-16 4-3 4 0 4 4 4 7 23 65 4 7 4 3 4 1 4-4 4-7 8-22 16-52 4-8 4-4 4 0 4 5 15 41 4 7 4 2 4-2 4-6 20-46 4-7 4-2 4 3 4 7 16 41 4 4 3 0 4-4 4-8 16-51 8-22 4-7 4-4 4 0 4 4 4 7 24 65 4 7 4 3 3 0 4-3 8-15 32-105 8-18 4-4 4 0 4 5 4 11 4 17 11 64 4 17 4 5 4-12 7-41 3 2 -4 41 -4 8 -3-13 -16-98 -4-15 -4-7 -4-1 -4 5 -8 24 -28 113 -8 21 -4 6 -3 3 -4-1 -4-4 -4-8 -24-72 -4-9 -4-5 -4-2 -4 2 -4 6 -4 9 -20 71 -7 19 -4 3 -4-1 -4-6 -16-48 -4-8 -4-3 -4 3 -4 7 -20 53 -4 8 -4 2 -4-3 -4-8 -15-47 -4-7 -4-1 -4 4 -8 19 -20 70 -4 10 -4 6 -4 2 -4-2 -4-6 -4-8 -23-72 -4-8 -4-4 -4-1 -4 2 -4 6 -8 22 -28 113 -8 23 -3 6 -4-1 -4-8 -4-15 -16-97 -4-13 -4 7 -4 42z"/><path fill="url(#a10)" stroke="url(#a10)" d="M468 619l2-44 4-9 4 11 15 94 4 16 4 9 4 2 4-3 8-20 32-122 8-18 4-4 4-1 3 3 4 7 8 21 16 52 8 16 4 3 4-1 4-6 4-9 20-72 8-20 3-4 4 2 4 6 16 48 4 8 4 3 4-2 4-7 20-54 4-7 4-3 4 3 4 8 15 49 4 6 4 1 4-4 8-20 20-72 4-9 4-5 4-2 4 3 8 16 15 52 8 22 4 6 4 3 4 0 4-5 8-18 32-122 8-20 4-3 4 2 3 10 4 15 16 95 4 10 4-9 6-41 4 2 -4 39 -4 4 -4-16 -12-81 -3-21 -4-14 -4-5 -4 2 -4 8 -4 14 -20 91 -12 46 -8 17 -4 3 -4 0 -4-3 -4-7 -7-20 -12-38 -8-21 -4-7 -4-4 -4 0 -4 3 -8 16 -20 69 -4 10 -4 7 -4 3 -4-2 -3-6 -16-46 -4-8 -4-2 -4 2 -4 7 -20 53 -4 7 -4 2 -4-2 -4-8 -15-46 -4-6 -4-2 -4 3 -4 7 -8 23 -16 56 -8 16 -4 4 -4-1 -4-4 -4-6 -8-21 -12-38 -7-21 -4-6 -4-4 -4 0 -4 3 -8 17 -12 46 -20 92 -4 13 -4 9 -4 2 -4-6 -4-13 -3-21 -12-82 -4-16 -4 4 -4 40z"/><path fill="url(#a9)" stroke="url(#a9)" d="M472 621l1-43 4-6 4 14 16 103 4 15 4 7 4 0 4-7 8-27 20-89 8-32 7-21 4-5 4-2 4 2 4 6 8 20 20 66 4 9 4 5 4 1 4-2 4-7 4-10 19-75 4-12 4-8 4-3 4 2 4 6 16 52 4 8 4 3 4-3 4-7 20-57 4-7 4-3 3 3 4 8 16 52 4 6 4 2 4-3 4-8 4-12 20-75 4-10 4-7 4-2 4 1 4 5 3 9 20 66 8 20 4 6 4 2 4-2 4-5 8-21 8-32 20-89 7-27 4-7 4 0 4 7 4 15 16 103 4 14 4-6 6-40 4 1 -4 36 -4 1 -4-18 -12-84 -4-19 -4-11 -4-3 -3 5 -4 12 -28 130 -8 25 -4 7 -4 3 -4 1 -4-4 -4-5 -8-18 -12-33 -7-19 -4-7 -4-4 -4-1 -4 1 -4 4 -4 7 -8 20 -16 47 -4 9 -4 5 -4 2 -4-1 -4-6 -15-38 -4-6 -4-2 -4 3 -4 6 -20 45 -4 6 -4 3 -4-2 -4-6 -16-38 -4-6 -4-1 -4 2 -3 5 -4 9 -16 46 -8 21 -4 6 -4 5 -4 1 -4-1 -4-5 -4-6 -8-19 -12-33 -8-18 -3-6 -4-3 -4 0 -4 4 -4 7 -8 24 -28 131 -4 12 -4 5 -4-3 -4-11 -4-20 -12-83 -3-18 -4 1 -4 36z"/><path fill="url(#a8)" stroke="url(#a8)" d="M476 623l1-41 4-3 4 17 12 85 4 21 4 13 4 5 4-3 4-9 8-33 16-79 7-34 8-23 4-6 4-3 4 2 4 5 8 18 16 51 8 20 4 7 4 3 4 0 4-4 8-18 19-69 4-11 4-7 4-2 4 2 4 6 16 48 4 7 4 3 4-2 4-8 19-54 4-7 4-2 4 2 4 8 16 48 4 6 4 2 4-3 4-7 8-23 16-57 7-17 4-4 4 0 4 3 4 6 8 21 20 61 4 8 4 5 4 1 4-2 4-6 8-23 8-34 19-97 4-15 4-10 4-3 4 5 4 14 4 21 12 84 4 18 4-4 6-38 4 2 -4 29 -4-2 -4-20 -12-81 -4-16 -4-8 -4 1 -4 9 -4 15 -15 83 -8 35 -8 23 -4 7 -4 2 -4 0 -4-4 -4-6 -20-42 -8-13 -4-4 -4-2 -4 0 -4 1 -7 8 -8 14 -16 32 -8 11 -4 3 -4 1 -4-1 -8-8 -12-18 -4-3 -4-1 -4 2 -3 5 -20 31 -4 4 -4 2 -4 0 -4-3 -12-18 -8-9 -4-1 -4 1 -4 3 -8 12 -15 32 -8 13 -8 8 -4 2 -4 0 -4-3 -4-4 -8-12 -20-42 -4-6 -4-4 -4-1 -3 3 -4 6 -8 24 -8 35 -16 83 -4 15 -4 9 -4 1 -4-8 -4-17 -12-80 -4-21 -4-2 -4 29z"/><path fill="url(#a7)" stroke="url(#a7)" d="M479 624l2-35 4 0 4 19 12 85 4 19 4 11 4 2 4-6 4-13 19-102 8-35 8-23 4-6 4-3 4 2 4 4 4 7 20 52 8 17 4 6 4 3 4 1 3-3 8-11 24-64 4-8 4-5 4-2 4 2 4 5 16 36 4 6 4 1 4-2 3-6 20-44 4-6 4-2 4 2 4 5 16 36 4 6 4 1 4-1 4-5 4-8 23-64 8-12 4-2 4 0 4 3 4 6 8 17 20 52 4 7 4 5 4 1 4-2 3-6 8-24 8-34 20-102 4-13 4-6 4 1 4 11 4 20 12 84 4 20 4-1 6-33 4 2 -4 21 -4-7 -16-95 -4-13 -4-3 -4 6 -4 13 -16 86 -8 35 -7 22 -4 4 -4 1 -4-3 -4-6 -16-33 -8-11 -4-4 -4-1 -4 1 -8 5 -23 28 -12 9 -12 3 -24-2 -12 1 -8 3 -27 14 -12 4 -8 0 -20-2 -12 2 -8 4 -8 6 -19 24 -8 7 -4 2 -4 1 -4-1 -8-8 -20-40 -4-5 -4-3 -4 0 -4 5 -7 21 -8 35 -16 86 -4 13 -4 6 -4-3 -4-12 -16-96 -4-7 -4 21z"/><path fill="url(#a6)" stroke="url(#a6)" d="M483 626l2-28 4 3 16 102 4 16 4 7 4-2 4-10 3-17 16-87 8-35 8-22 4-4 4-1 4 3 4 5 20 42 8 13 4 4 3 2 4 0 4-1 8-7 28-44 8-8 4-2 4-1 4 1 4 3 12 13 7 5 4 1 4-2 4-4 20-26 4-4 4-2 4 1 4 2 16 16 4 3 4 1 4-1 3-2 8-8 28-44 8-7 4-1 4 0 4 2 4 4 8 13 19 42 4 6 4 2 4-1 4-4 8-22 8-35 16-87 4-17 4-10 4-2 4 7 4 16 15 102 4 3 7-26 3 2 -3 10 -4-12 -12-70 -4-15 -4-6 -4 3 -4 12 -16 88 -8 37 -4 11 -4 7 -4 2 -4-3 -4-6 -19-50 -4-6 -4-3 -4 0 -4 4 -4 6 -20 44 -8 11 -4 3 -4 0 -4-3 -19-24 -4-4 -4-1 -4 1 -4 3 -16 27 -4 6 -4 3 -4 1 -4-1 -20-16 -4-2 -4 1 -3 4 -4 6 -12 21 -4 6 -4 3 -4 1 -4-2 -4-3 -20-25 -4-2 -4 0 -4 3 -8 11 -19 44 -4 6 -4 3 -4 1 -4-3 -4-6 -16-41 -8-16 -4-2 -4 2 -4 7 -8 27 -19 109 -4 12 -4 3 -4-6 -4-15 -12-70 -4-12 -4 10z"/><path fill="url(#a5)" stroke="url(#a5)" d="M487 628l2-19 4 8 16 96 3 11 4 1 4-8 4-15 16-91 8-35 4-11 4-6 4-3 4 2 4 6 20 45 4 6 3 3 4 1 4-1 4-4 20-30 8-9 4-3 8-1 20 6 8 1 7-3 16-11 8-3 24-1 8-2 24-15 3-1 8 1 20 6 8-2 4-2 8-9 20-30 4-4 4-1 4 1 3 3 4 6 20 45 4 5 4 2 4-2 4-7 4-11 8-35 16-90 4-16 4-8 4 2 3 11 16 95 4 9 6-17 4 2 -4-3 -12-62 -3-16 -4-7 -4 1 -4 11 -4 19 -16 96 -4 16 -4 12 -4 5 -4-1 -4-6 -8-24 -12-45 -4-11 -4-7 -3-3 -4 2 -4 7 -4 10 -20 75 -8 19 -4 4 -4-1 -4-4 -4-8 -20-58 -4-7 -3-2 -4 2 -4 7 -16 55 -4 11 -4 6 -4 1 -4-5 -20-44 -4-5 -4 1 -4 5 -4 11 -15 56 -4 7 -4 2 -4-3 -4-6 -20-58 -4-8 -4-5 -4 0 -4 4 -8 19 -19 74 -4 11 -4 6 -4 2 -4-2 -4-7 -4-11 -12-45 -8-24 -4-6 -4-1 -4 5 -4 11 -4 17 -16 96 -3 18 -4 11 -4 2 -4-8 -4-16 -12-61 -4-3z"/><path fill="url(#a4)" stroke="url(#a4)" d="M491 630l2-7 4 15 11 69 4 13 4 4 4-6 4-15 20-116 4-15 4-10 4-4 4 1 4 7 4 10 12 39 7 20 4 5 4 1 4-3 4-6 8-22 12-38 8-17 4-5 4-1 4 2 4 5 19 42 4 5 4 2 4-1 4-5 16-42 4-8 4-5 4 0 4 3 20 30 4 3 4-1 4-5 4-8 15-41 4-5 4-2 4 2 4 5 20 42 4 5 4 2 4-1 4-4 8-18 11-38 8-21 4-7 4-3 4 1 4 5 8 20 12 40 4 10 4 6 4 1 4-4 4-10 4-15 19-115 4-15 4-6 4 3 4 13 12 70 4 14 6-4 4 2 -12-60 -4-16 -4-9 -4 2 -4 11 -3 19 -16 102 -4 18 -4 12 -4 4 -4-3 -4-9 -4-14 -16-75 -4-15 -4-10 -4-5 -4 2 -4 7 -8 29 -19 100 -4 13 -4 8 -4 3 -4-3 -4-9 -4-13 -20-84 -4-9 -4-3 -4 3 -4 10 -15 79 -4 15 -4 8 -4 0 -4-7 -20-68 -4-7 -4 0 -4 7 -4 15 -16 79 -4 10 -3 4 -4-4 -4-9 -20-84 -4-13 -4-8 -4-4 -4 3 -4 8 -4 13 -24 117 -4 12 -3 8 -4 1 -4-5 -4-10 -4-14 -12-58 -8-32 -4-9 -4-3 -4 4 -4 12 -4 18 -16 102 -4 20 -4 11 -4 1 -3-8 -4-16 -12-60z"/><path fill="url(#a3)" stroke="url(#a3)" d="M495 632l13 73 4 13 4 4 4-6 4-15 20-125 4-15 4-9 4-1 4 4 4 11 19 86 4 11 4 7 4 1 4-5 4-10 8-33 16-76 4-13 4-8 4-4 4 3 4 7 8 26 15 62 4 9 4 3 4-3 4-9 16-72 4-14 4-7 4 0 4 6 20 61 3 6 4 0 4-7 4-14 16-72 4-9 4-3 4 3 4 9 16 62 8 26 4 8 4 2 4-4 3-8 4-13 20-94 8-25 4-4 4 0 4 7 4 11 20 86 4 11 4 5 4-2 3-9 4-15 20-125 4-15 4-6 4 4 4 14 12 64 6 11 4 1 -8-52 -4-18 -4-9 -4 1 -4 10 -4 19 -12 83 -7 44 -4 13 -4 4 -4-3 -4-10 -4-16 -20-104 -4-14 -4-7 -4-1 -4 5 -4 11 -4 16 -20 113 -7 31 -4 8 -4 1 -4-5 -4-11 -8-34 -12-61 -4-16 -4-10 -4-3 -4 4 -4 12 -16 89 -4 17 -3 9 -4 0 -4-9 -20-79 -4-9 -4 0 -4 9 -4 17 -16 89 -4 12 -4 4 -4-3 -4-10 -4-16 -11-61 -8-34 -4-11 -4-5 -4 1 -4 8 -4 13 -8 39 -16 92 -4 16 -4 11 -4 5 -4-1 -4-7 -3-14 -20-104 -4-16 -4-10 -4-3 -4 4 -4 13 -8 44 -12 83 -4 19 -4 10 -4 1 -4-9 -4-18 -7-52z"/><path fill="url(#a2)" stroke="url(#a2)" d="M499 634l1 24 8 47 4 13 4 4 4-7 4-16 20-137 4-16 4-9 4 0 3 8 4 14 20 110 4 15 4 10 4 3 4-4 4-10 4-16 24-139 4-15 4-8 4-2 3 5 4 11 8 36 12 66 4 16 4 11 4 4 4-4 4-12 16-95 4-18 4-9 4 0 4 9 19 84 4 9 4 1 4-10 4-17 16-95 4-12 4-4 4 3 4 11 23 119 4 11 4 5 4-2 4-8 8-34 20-120 4-16 4-10 4-4 4 3 4 10 4 15 19 110 4 14 4 8 4 0 4-9 4-16 20-137 4-16 4-7 4 3 4 14 8 47 6 26 4 2 -4-33 -4-22 -4-12 -4-2 -4 8 -4 17 -16 102 -4 20 -4 13 -4 6 -4-2 -4-9 -3-14 -16-82 -8-33 -4-10 -4-3 -4 1 -4 8 -8 29 -20 102 -8 26 -4 6 -3 1 -4-6 -4-9 -20-86 -4-13 -4-9 -4-3 -4 4 -4 11 -16 81 -4 16 -4 8 -4 0 -4-8 -19-72 -4-7 -4 0 -4 8 -4 15 -16 82 -4 11 -4 4 -4-3 -4-9 -4-13 -19-86 -4-10 -4-5 -4 0 -4 6 -8 26 -16 84 -8 36 -4 12 -4 7 -4 2 -4-4 -4-9 -4-15 -19-100 -4-14 -4-9 -4-2 -4 6 -4 13 -4 20 -16 102 -4 16 -4 9 -4-2 -4-12 -4-23 -4-33z"/><path fill="url(#a1)" stroke="url(#a1)" d="M502 635l2 37 4 28 4 16 4 5 4-7 4-18 20-145 4-18 3-9 4 1 4 8 4 16 16 99 8 42 4 13 4 6 4-1 4-8 8-34 16-102 7-43 4-13 4-7 4-1 4 7 4 12 8 39 12 68 4 17 4 12 4 3 4-4 4-14 16-99 4-19 3-10 4 1 4 9 20 90 4 10 4 0 4-10 4-18 16-100 4-13 4-5 4 4 4 11 4 17 11 69 8 38 4 13 4 6 4 0 4-7 4-14 8-42 16-103 8-33 4-8 4-1 4 6 4 13 7 41 16 99 4 16 4 9 4 0 4-9 4-18 20-145 4-17 4-7 4 4 4 17 10 66 4 2 -4-25 -4-14 -4-5 -4 4 -4 10 -20 87 -4 11 -4 6 -4 0 -4-5 -4-8 -16-54 -7-23 -4-7 -4-4 -4 0 -4 3 -8 16 -24 76 -8 15 -4 4 -4 0 -4-3 -4-6 -19-49 -4-8 -4-4 -4-1 -4 3 -4 7 -16 51 -4 9 -4 6 -4 0 -4-4 -20-41 -3-5 -4 1 -4 5 -4 10 -16 51 -4 7 -4 3 -4-1 -4-5 -4-7 -20-50 -4-5 -4-3 -4 0 -3 3 -8 16 -24 76 -8 15 -4 3 -4 0 -4-4 -4-7 -8-22 -16-54 -3-9 -4-5 -4 1 -4 5 -4 11 -20 87 -4 11 -4 3 -4-5 -4-14 -4-25z"/><path fill="url(#a0)" stroke="url(#a0)" d="M506 637l2 40 4 23 4 8 4-5 4-16 19-136 4-16 4-9 4 1 4 8 4 14 16 89 8 38 4 12 4 7 4 1 4-5 8-23 23-117 8-24 4-5 4 1 4 5 4 10 20 82 4 13 4 8 4 2 4-4 4-11 15-78 4-15 4-8 4 0 4 7 20 70 4 7 4 0 4-8 4-14 16-79 4-11 4-4 3 2 4 8 4 13 20 82 4 10 4 6 4 0 4-5 8-23 24-117 7-24 4-5 4 1 4 7 4 12 8 38 16 89 4 14 4 9 4 0 4-8 4-17 20-136 3-16 4-5 4 8 11 65 3 2 -470 134z"/></g><line x1="255.0" y1="418.0" x2="490.2" y2="350.9" stroke="#555" stroke-width="1.20"/><line x1="255.0" y1="418.0" x2="73.6" y2="330.5" stroke="#555" stroke-width="1.20"/><line x1="73.6" y1="330.5" x2="73.6" y2="136.0" stroke="#555" stroke-width="1.20"/><line x1="303.4" y1="404.2" x2="308.0" y2="406.4" stroke="#555" stroke-width="1.00"/><line x1="217.7" y1="400.0" x2="212.9" y2="401.3" stroke="#555" stroke-width="1.00"/><line x1="372.6" y1="384.4" x2="377.1" y2="386.6" stroke="#555" stroke-width="1.00"/><line x1="164.3" y1="374.2" x2="159.6" y2="375.6" stroke="#555" stroke-width="1.00"/><line x1="441.8" y1="364.7" x2="446.3" y2="366.9" stroke="#555" stroke-width="1.00"/><line x1="110.9" y1="348.5" x2="106.2" y2="349.9" stroke="#555" stroke-width="1.00"/><line x1="73.6" y1="310.8" x2="69.1" y2="312.3" stroke="#555" stroke-width="1.00"/><line x1="73.6" y1="232.1" x2="69.1" y2="233.6" stroke="#555" stroke-width="1.00"/><line x1="73.6" y1="153.3" x2="69.1" y2="154.8" stroke="#555" stroke-width="1.00"/><g fill="#2a2a2a"><text transform="translate(83.00 365.37) scale(0.8933 1)" font-size="13.43" font-weight="bold">500</text><text transform="translate(148.50 391.99) scale(0.7934 1)" font-size="11.34" font-weight="bold">0</text><text transform="translate(185.50 417.37) scale(0.8950 1)" font-size="13.43" font-weight="bold">-500</text><text transform="translate(312.50 423.35) scale(0.7689 1)" font-size="14.93" font-weight="bold">-500</text><text transform="translate(380.50 403.38) scale(0.7872 1)" font-size="11.94" font-weight="bold">0</text><text transform="translate(450.30 383.07) scale(0.8883 1)" font-size="13.28" font-weight="bold">500</text><text transform="translate(58.90 155.48) scale(0.8969 1)" font-size="11.82" font-weight="bold">5</text><text transform="translate(58.90 234.20) scale(1.0761 1)" font-size="9.85" font-weight="bold">0</text><text transform="translate(55.10 314.18) scale(0.9277 1)" font-size="11.82" font-weight="bold">-5</text></g>
<line x1="122.3" y1="879.7" x2="122.3" y2="698.5" stroke="#dedede" stroke-width="1.00"/><line x1="191.3" y1="861.5" x2="191.3" y2="680.3" stroke="#dedede" stroke-width="1.00"/><line x1="260.2" y1="843.3" x2="260.2" y2="662.0" stroke="#dedede" stroke-width="1.00"/><line x1="74.1" y1="892.5" x2="308.4" y2="830.5" stroke="#dedede" stroke-width="1.00"/><line x1="74.1" y1="857.1" x2="308.4" y2="795.1" stroke="#dedede" stroke-width="1.00"/><line x1="74.1" y1="821.7" x2="308.4" y2="759.7" stroke="#dedede" stroke-width="1.00"/><line x1="74.1" y1="786.3" x2="308.4" y2="724.3" stroke="#dedede" stroke-width="1.00"/><line x1="74.1" y1="750.9" x2="308.4" y2="688.9" stroke="#dedede" stroke-width="1.00"/><line x1="74.1" y1="715.5" x2="308.4" y2="653.5" stroke="#dedede" stroke-width="1.00"/><line x1="451.8" y1="896.0" x2="451.8" y2="714.8" stroke="#dedede" stroke-width="1.00"/><line x1="398.7" y1="871.8" x2="398.7" y2="690.5" stroke="#dedede" stroke-width="1.00"/><line x1="345.6" y1="847.5" x2="345.6" y2="666.2" stroke="#dedede" stroke-width="1.00"/><line x1="489.0" y1="913.0" x2="308.4" y2="830.5" stroke="#dedede" stroke-width="1.00"/><line x1="489.0" y1="877.6" x2="308.4" y2="795.1" stroke="#dedede" stroke-width="1.00"/><line x1="489.0" y1="842.2" x2="308.4" y2="759.7" stroke="#dedede" stroke-width="1.00"/><line x1="489.0" y1="806.8" x2="308.4" y2="724.3" stroke="#dedede" stroke-width="1.00"/><line x1="489.0" y1="771.4" x2="308.4" y2="688.9" stroke="#dedede" stroke-width="1.00"/><line x1="489.0" y1="736.0" x2="308.4" y2="653.5" stroke="#dedede" stroke-width="1.00"/><line x1="302.9" y1="962.2" x2="122.3" y2="879.7" stroke="#dedede" stroke-width="1.00"/><line x1="217.5" y1="958.0" x2="451.8" y2="896.0" stroke="#dedede" stroke-width="1.00"/><line x1="371.9" y1="944.0" x2="191.3" y2="861.5" stroke="#dedede" stroke-width="1.00"/><line x1="164.4" y1="933.8" x2="398.7" y2="871.8" stroke="#dedede" stroke-width="1.00"/><line x1="440.8" y1="925.8" x2="260.2" y2="843.3" stroke="#dedede" stroke-width="1.00"/><line x1="111.3" y1="909.5" x2="345.6" y2="847.5" stroke="#dedede" stroke-width="1.00"/><g fill="none" stroke-width="1.80" opacity=".85" transform="scale(.5)"><path stroke="#425ff7" d="M478 1908l12 1 10 3 7 3 2 2 1 3 -2 2 -7 2 -8 0 -9-3 -9-4 -4-3 -1-2 1-1 7-3M228 1793l11 1 9 3 7 4 1 2 0 2 -5 3 -14-1 -13-4 -5-3 -2-2 0-2 3-2 8-1"/><path stroke="#3b74fc" d="M468 1903l10 0 10 2 18 4 7 3 6 4 2 4 0 3 -2 2 -4 2 -12 2 -12-2 -14-4 -12-6 -7-6 0-2 1-3 3-1 6-2M586 1859l9 0 8 2 5 3 2 3 -4 3 -11 2 -12-2 -6-2 -2-2 -1-2 2-2 10-3M400 1773l9 1 7 2 5 2 2 2 -1 2 -1 2 -4 1 -11 1 -12-2 -6-3 -1-3 2-2 4-2 7-1M219 1788l17 1 18 5 7 3 5 4 3 3 0 4 -1 3 -4 1 -9 2 -14-2 -18-5 -12-6 -5-5 0-3 3-2 10-3"/><path stroke="#2f89f2" d="M459 1898l11 0 16 2 26 7 9 5 6 3 4 6 0 4 -3 3 -5 3 -14 2 -17-2 -16-5 -19-9 -7-5 -4-5 -1-3 2-3 6-2 6-1M823 1834l9 1 8 1 5 3 1 2 -5 4 -11 3 -16 2 -4-2 1-4 4-6 4-3 4-1M581 1854l16 0 17 3 10 5 2 3 0 3 -2 3 -8 4 -10 2 -11 0 -12-2 -10-2 -7-3 -5-4 0-4 4-4 6-2 10-2M389 1768l18 0 15 2 7 2 6 4 3 3 1 3 -2 3 -5 2 -11 3 -14 1 -16-2 -12-5 -4-3 -1-3 1-3 2-3 6-2 6-2M214 1785l12 0 12 1 13 3 11 4 8 4 7 6 4 5 0 5 -3 4 -7 2 -11 0 -17-3 -17-4 -14-6 -11-6 -5-5 -1-4 4-3 6-2 9-1M526 1702l11-1 9 1 5 3 3 2 0 2 -2 2 -13 1 -25 0 -6-1 -1-1 1-2 5-3 13-3"/><path stroke="#219ce6" d="M433 1889l15 1 23 3 25 6 18 5 12 5 8 6 7 7 1 5 -4 4 -5 3 -10 2 -8 1 -16-1 -20-6 -26-11 -10-6 -8-6 -7-8 -2-6 2-2 5-2M726 1790l9 0 12 0 10 2 9 2 34 15 32 16 27 10 4 3 1 4 -4 3 -6 3 -23 6 -43 7 -6 0 -7-1 0-1 2-2 13-8 6-6 2-5 -2-6 -6-6 -7-5 -18-9 -14-5 -29-4 -5-1 -3-2 0-2 2-3 5-3 5-2M577 1850l24-1 20 3 10 4 6 4 4 4 1 4 -4 5 -9 4 -12 3 -17 1 -16-2 -16-3 -11-5 -6-5 0-3 0-3 5-4 10-4 11-2M529 1696l17-1 14 3 20 12 37 15 30 14 6 5 2 3 0 3 -3 3 -9 3 -13 1 -12-1 -4-1 -3-2 -3-10 -2-3 -5-3 -18-8 -24-7 -17-3 -15-1 -20 0 -35 2 -5-1 1-1 5-4 21-9 17-5 18-4M390 1763l21 0 21 3 9 3 8 5 4 4 0 3 -4 6 -11 5 -13 2 -17 1 -14-2 -13-3 -11-5 -5-5 -2-5 2-3 2-2 10-5 13-2M203 1781l13-1 18 2 21 5 15 5 12 7 9 8 6 10 2 4 0 4 -3 2 -5 1 -13-1 -14-2 -30-8 -26-10 -16-9 -5-4 -2-3 0-3 4-3 14-4"/><path stroke="#10acd8" d="M190 1778l18-3 15 0 32 8 17 6 15 8 30 22 16 9 57 23 43 22 13 6 19 7 47 14 20 7 9 6 12 10 4 4 0 3 -4 3 -11 5 -15 3 -12 1 -17-2 -24-8 -36-17 -37-21 -21-11 -91-41 -55-21 -27-11 -26-13 -7-4 -3-4 0-2 3-4 16-5M693 1773l12 0 16 2 40 9 16 5 25 12 38 21 34 13 6 4 0 3 -5 5 -10 4 -41 10 -61 11 -17 1 -9-2 -5-2 2-3 6-4 28-10 11-5 6-6 1-3 -1-3 -4-5 -7-6 -9-6 -12-4 -19-4 -35-3 -5-1 -6-3 -11-9 -1-3 11-15 3-2 3-1M572 1846l32-4 10 1 11 2 16 5 13 7 7 6 1 2 0 3 -2 3 -5 3 -13 6 -18 3 -19 2 -19-2 -20-4 -14-6 -9-6 -2-4 1-3 7-8 9-4 14-2M649 1815l3 0 0 1 -2 1 -4 0 0-1 3-1M490 1819l15-1 7 0 3 2 -2 3 -3 2 -13 4 -15 1 -9-1 0-3 2-2 6-3 9-2M520 1692l21-3 11 1 8 2 8 3 14 9 9 4 46 17 19 8 12 6 8 7 14 15 2 4 0 3 -3 2 -8 2 -47 0 -10-2 -21-6 -5-2 -2-3 1-12 -1-3 -5-4 -10-5 -12-5 -29-7 -17-1 -18 0 -17 2 -34 7 -12 1 -12-1 -4-1 -1-2 1-3 2-2 15-7 51-17 26-7M554 1773l5 0 1 1 -7 1 1-2M374 1761l15-4 15-1 13 0 13 1 15 4 16 7 10 6 2 4 1 2 -1 2 -5 3 -18 9 -9 2 -12 2 -17 0 -24-2 -12-3 -11-5 -8-6 -3-5 0-5 3-4 6-4 11-3"/><path stroke="#18bcbd" d="M595 1670l-25 7 -6 3 0 3 21 17 11 6 16 6 44 13 19 7 12 6 43 24 65 25 15 9 27 19 15 8 45 14 12 1 13 0 20-5 13-4 3-2 2-2 -1-3 -5-4 -21-11 -33-15 -53-22 -37-16 -69-32 -52-26 -38-18 -18-7 -13-3 -12-1 -13 3M292 1751l-40 10 -9 5 -2 2 0 2 2 3 7 4 25 8 12 5 34 21 23 11 18 6 59 16 7 7 18 15 12 8 25 11 51 18 10 5 14 9 8 4 11 2 12 0 11-1 18-4 23-6 52-18 13-5 3-3 1-2 -2-4 -5-2 -5-2 -9 0 -13 1 -37 8 -19 3 -21 0 -20-2 -24-7 -10-4 -8-4 -4-4 -1-4 0-3 3-8 -1-4 -4-3 -16-8 -10-1 -37 1 -12-1 -5-1 -1-3 2-4 11-11 1-1 -2-3 -16-7 -7-2 -44-3 -18-4 -11-4 -8-4 -8-6 -5-5 -1-4 0-3 3-4 5-3 13-6 30-9 8-4 1-3 -2-2 -7-3 -13-2 -16 1 -73 15M683 1814l-7 2 -12 6 -16 6 -3 2 0 3 3 3 5 4 17 9 20 6 16 2 22-1 24-4 16-6 5-3 2-4 -1-6 -6-6 -11-7 -12-4 -15-3 -13-1 -22 0 -12 2M568 1832l-9 2 -3 1 -1 2 1 1 3 2 9 1 11-2 4-3 -1-1 -3-2 -11-1M629 1781l-10 2 -8 3 -6 4 0 3 3 1 6 1 19-1 17-4 6-3 3-4 -1-2 -5-1 -11-1 -13 2M477 1791l-9 2 -2 4 4 2 8 1 9-1 4-3 0-2 -3-2 -5-1 -6 0M503 1726l-18 4 -16 6 -10 6 -2 2 0 2 2 4 5 4 17 8 20 7 15 2 10 0 45-7 5-3 5-3 4-4 2-4 -1-5 -4-4 -10-5 -13-5 -16-3 -13-2 -14-1 -13 1"/><path stroke="#4bc889" d="M814 1775l-1 1 1 2 14 20 6 7 13 10 16 7 27 8 23 2 10-1 10-2 8-3 3-3 0-3 -2-3 -8-6 -16-8 -20-8 -31-9 -42-9 -11-2M478 1852l-9 3 -3 4 -1 3 1 3 5 5 31 15 42 17 20 11 9 3 9 1 11 0 23-5 38-13 10-4 7-5 0-1 -2-1 -9 0 -36 4 -21 0 -13 0 -15-3 -27-7 -20-9 -6-5 -2-3 -1-8 -4-3 -7-2 -10-1 -20 1M697 1816l-13 3 -10 6 -5 4 0 3 1 2 7 6 12 5 15 4 15 1 16-1 14-2 10-4 4-3 2-3 0-4 -4-5 -7-4 -9-4 -10-3 -14-2 -24 1M301 1755l-20 4 -13 4 -7 4 -2 2 0 2 1 3 5 2 27 10 36 19 24 11 11 4 18 3 19 1 11-2 3-2 4-4 1-4 -3-3 -8-2 -30-4 -12-4 -19-9 -8-6 -5-5 -3-6 1-3 3-3 8-7 18-9 2-2 -1-1 -6-1 -13 1 -42 7M601 1674l-10 3 -5 2 -4 3 -1 3 2 4 5 6 6 5 7 3 16 6 22 6 67 14 9 0 0-1 -4-5 -14-16 -12-9 -16-9 -19-8 -18-6 -15-2 -16 1M508 1730l-13 3 -9 4 -5 5 0 3 1 3 7 6 11 5 15 4 14 1 20-1 13-3 10-4 4-3 2-3 -1-4 -3-4 -8-5 -11-3 -24-4 -10-1 -13 1"/><path stroke="#97c84d" d="M563 1896l-2 1 1 3 7 7 7 3 9 1 10 0 14-2 12-5 6-4 0-1 -1-1 -7-1 -56-1M852 1791l-5 1 -4 3 -1 3 1 5 3 4 6 5 15 8 19 5 21 3 10-1 8-1 6-3 2-2 0-4 -5-5 -11-6 -14-6 -15-5 -14-3 -11-1 -11 0M704 1820l-10 2 -7 4 -3 3 1 4 4 4 10 4 10 2 12 2 11-1 11-1 8-3 4-5 -1-4 -2-3 -5-3 -7-3 -18-3 -18 1M513 1734l-7 2 -6 3 -3 2 -1 3 2 4 3 3 13 5 16 3 17-1 14-3 5-3 2-3 -1-4 -3-3 -14-6 -18-3 -19 1M612 1678l-8 1 -6 2 -4 3 -1 3 1 4 3 4 5 4 7 3 20 7 25 5 20 0 7-1 3-3 0-3 0-2 -5-5 -8-6 -12-6 -12-5 -12-3 -11-2 -12 0M299 1761l-18 5 -4 2 -2 3 3 3 9 3 21 5 3-1 2-1 4-8 6-10 0-2 -6-1 -18 2"/><path stroke="#e1c02a" d="M865 1796l-5 1 -4 2 -2 3 1 3 1 3 5 4 12 6 15 4 18 2 11-2 4-2 2-2 -1-3 -3-4 -17-8 -20-6 -17-1M716 1823l-6 1 -7 2 -3 3 0 3 2 2 4 2 15 3 13-1 6-2 3-2 0-2 -2-2 -6-4 -10-2 -9-1M522 1738l-7 2 -3 4 0 2 2 2 8 4 11 1 10 0 8-2 3-1 2-2 -1-3 -2-2 -7-3 -12-2 -12 0M617 1682l-10 2 -3 2 -1 3 0 3 2 3 10 6 16 5 20 3 14-1 4-1 2-3 0-3 -3-4 -7-4 -9-5 -17-5 -18-1"/><path stroke="#fcd32e" d="M876 1801l-7 2 -3 3 3 4 7 5 9 3 12 1 9 0 6-3 0-3 -2-2 -9-5 -12-3 -13-2M620 1686l-6 3 -1 3 4 4 7 4 12 3 12 1 8-1 3-2 0-3 -3-3 -10-5 -15-4 -11 0"/></g>
<g stroke-width="1.4" stroke-linejoin="round" transform="scale(.5)"><path fill="url(#b68)" stroke="url(#b68)" d="M148 1573l469-124 5 2 -21-8 -11 0 -5 1 -16 9 -26 22 -16 10 -10 6 -16 5 -47 6 -132 22 -42 5 -11 2 -10 4 -11 5 -16 11 -31 25 -11 6 -5 1 -5 1 -11-2 -16-7z"/><path fill="url(#b67)" stroke="url(#b67)" d="M153 1575l3-1 15-1 16-3 16-6 37-16 21-7 58-12 121-33 74-16 21-7 31-14 16-6 21-3 11-1 8 2 5 2 -16-18 -5-4 -5-2 -5-1 -6 2 -10 8 -11 13 -21 30 -16 19 -10 8 -11 5 -15 3 -32-1 -47 1 -53-2 -42 2 -32-1 -10 1 -11 3 -5 3 -11 9 -15 18 -27 37 -10 11 -5 4 -6 1 -5 0 -5-2 -11-10 -10-13z"/><path fill="url(#b66)" stroke="url(#b66)" d="M159 1577l7 7 11 5 10 1 5-1 6-3 10-8 27-27 15-13 11-7 16-5 47-3 132-18 42-2 10-2 11-4 10-7 16-13 32-32 10-6 6-2 5 0 10 4 19 12 6 3 -16-30 -6-7 -5-4 -5-2 -5 2 -6 4 -5 7 -10 19 -21 44 -16 27 -11 12 -10 7 -6 1 -10 1 -32-5 -31-4 -21-5 -37-11 -16-4 -42-5 -21-4 -11-1 -10 3 -6 3 -5 4 -10 12 -16 26 -26 54 -11 16 -5 5 -6 1 -5-1 -5-4 -11-17 -10-20z"/><path fill="url(#b65)" stroke="url(#b65)" d="M164 1580l2 6 5 8 11 12 5 3 5 1 6-2 5-4 10-13 27-43 16-22 10-10 5-3 11-4 10-1 32 2 37 2 74 9 31 1 32 3 10-1 6-1 10-6 11-10 15-22 21-36 11-15 5-6 6-4 5-1 5 1 5 3 6 5 10 14 9 10 5 2 -16-42 -5-10 -6-6 -5-3 -5 2 -5 6 -6 9 -10 25 -21 57 -16 35 -11 15 -10 9 -5 2 -11 0 -63-18 -21-9 -37-20 -16-7 -63-18 -10-2 -11 2 -5 4 -6 5 -10 16 -16 34 -26 71 -11 20 -5 6 -5 2 -6-2 -5-7 -10-23 -11-29z"/><path fill="url(#b64)" stroke="url(#b64)" d="M169 1582l2 11 11 22 5 8 5 6 6 1 5-2 5-5 11-18 26-61 16-30 10-14 6-5 10-5 5-1 11 0 53 12 21 7 42 20 16 6 15 4 42 9 16 2 11-3 5-3 5-5 11-14 16-31 26-61 10-18 6-5 5-2 5 2 6 5 5 8 10 23 9 13 5 3 -11-38 -10-30 -5-9 -6-3 -5 2 -5 7 -11 25 -26 86 -16 41 -10 19 -6 5 -5 4 -5 2 -11-1 -31-15 -37-13 -16-8 -37-25 -21-11 -31-10 -32-15 -11-1 -5 2 -5 4 -5 6 -11 18 -16 41 -21 70 -10 31 -6 11 -5 6 -5 2 -5-3 -6-9 -5-13 -16-54z"/><path fill="url(#b63)" stroke="url(#b63)" d="M174 1585l2 15 11 30 5 12 6 7 5 3 5-2 5-7 11-22 26-79 16-38 11-18 5-5 5-4 5-2 6-1 10 2 48 16 15 7 16 9 42 30 21 10 58 20 11 0 5-3 11-9 10-17 16-39 21-64 10-27 6-10 5-7 5-1 6 2 5 8 5 11 11 31 8 18 5 2 -16-66 -5-17 -5-10 -5-5 -6 2 -5 7 -5 13 -11 35 -21 80 -16 47 -10 19 -5 6 -6 4 -5 1 -5-1 -5-3 -21-14 -11-6 -42-14 -16-8 -37-22 -16-6 -31-10 -11-6 -21-15 -5-2 -5-1 -6 1 -5 4 -5 6 -11 19 -15 47 -27 99 -10 29 -6 7 -5 2 -5-5 -5-10 -11-37 -10-46z"/><path fill="url(#b62)" stroke="url(#b62)" d="M180 1587l2 19 10 39 6 15 5 10 5 3 5-1 6-8 10-27 26-93 16-45 11-19 5-6 5-4 6-2 10 1 32 17 37 14 15 10 37 27 21 12 32 13 31 16 11 1 5-2 5-4 6-6 10-19 16-45 21-76 11-33 5-11 5-8 5-1 6 3 5 10 5 15 11 39 8 22 5 2 -15-77 -6-19 -5-12 -5-6 -5 1 -6 8 -5 14 -5 18 -32 128 -10 31 -6 11 -5 8 -5 6 -5 2 -6 0 -5-2 -26-24 -6-4 -10-6 -11-3 -31-4 -48-16 -31-4 -11-2 -10-6 -5-4 -27-24 -5-2 -5-1 -6 3 -5 5 -5 9 -11 25 -10 36 -21 88 -11 39 -5 13 -5 8 -6 2 -5-6 -5-13 -5-19 -16-77z"/><path fill="url(#b61)" stroke="url(#b61)" d="M185 1589l2 24 10 47 6 18 5 11 5 5 6-1 5-8 5-13 11-38 21-84 10-35 5-14 11-20 5-6 6-3 5-1 5 1 5 3 21 16 11 7 47 15 37 21 16 7 37 11 16 9 21 16 5 3 5 1 5-1 6-3 5-6 11-20 5-14 10-35 21-85 11-37 5-13 5-8 6-2 5 6 5 11 6 18 10 47 8 26 6 3 -11-59 -10-48 -6-14 -5-7 -5 1 -5 8 -11 34 -26 116 -11 37 -10 26 -6 7 -5 5 -5 1 -5-2 -6-4 -26-33 -11-8 -5-3 -10-1 -37 6 -37-1 -32 6 -10 0 -11-3 -10-9 -27-33 -5-4 -5-1 -5 1 -6 4 -5 8 -10 25 -11 38 -21 93 -11 42 -5 14 -5 8 -5 2 -6-7 -5-14 -5-22 -16-85z"/><path fill="url(#b60)" stroke="url(#b60)" d="M190 1592l2 27 11 54 5 20 5 14 6 6 5-1 5-9 5-14 11-40 21-92 10-37 11-25 5-9 6-5 5-2 5 1 5 3 27 27 5 4 10 6 11 2 32 1 42 10 10 1 27 0 10 2 11 6 5 5 26 27 5 3 6 0 5-2 5-5 5-8 11-26 11-36 26-114 10-33 6-8 5-1 5 6 5 14 6 20 10 54 9 30 5 2 -11-63 -10-51 -5-15 -6-8 -5 1 -5 9 -5 15 -6 20 -26 120 -11 38 -10 25 -5 7 -6 3 -5 0 -5-4 -11-14 -21-34 -10-10 -6-2 -5-1 -10 3 -32 17 -37 12 -31 17 -11 3 -5-1 -5-2 -6-4 -10-13 -21-35 -6-6 -5-4 -5 0 -5 4 -6 7 -10 25 -11 37 -21 97 -10 43 -6 15 -5 9 -5 1 -5-8 -6-15 -5-23 -16-91z"/><path fill="url(#b59)" stroke="url(#b59)" d="M195 1594l2 30 11 58 5 23 5 15 6 7 5-1 5-8 6-15 10-43 21-96 11-38 10-25 5-8 6-4 5 0 5 2 11 12 21 29 10 9 11 4 10-2 32-10 42-6 26-9 11-1 5 1 6 2 10 9 26 36 6 5 5 3 5-1 5-4 6-7 10-26 11-38 26-119 5-19 6-15 5-9 5-1 5 7 6 16 5 22 11 58 8 33 5 3 -10-65 -11-52 -5-16 -5-8 -6 1 -5 8 -5 16 -6 20 -21 99 -10 43 -11 32 -5 10 -5 6 -5 2 -6-1 -5-6 -5-8 -27-51 -5-7 -5-5 -5-2 -6 0 -10 5 -32 29 -37 23 -31 29 -11 5 -5 0 -5-2 -5-5 -6-7 -26-51 -5-8 -6-6 -5-1 -5 2 -5 6 -6 10 -10 32 -37 162 -5 16 -6 8 -5 1 -5-8 -5-16 -6-23 -15-93z"/><path fill="url(#b58)" stroke="url(#b58)" d="M201 1597l2 31 10 61 5 24 6 16 5 7 5 0 6-9 5-15 10-44 21-99 11-38 5-14 5-11 6-7 5-2 5 0 6 5 10 15 21 37 5 7 6 4 5 2 5 0 11-3 31-22 37-18 32-21 10-4 6 0 5 2 5 5 5 6 21 37 11 16 5 4 5 1 6-3 5-7 5-11 11-32 10-43 21-99 6-21 5-15 5-8 5-1 6 7 5 17 5 23 11 61 8 35 5 2 -10-64 -11-52 -5-15 -5-8 -5 1 -6 8 -5 15 -5 20 -21 99 -11 43 -10 31 -6 9 -5 6 -5 1 -5-3 -6-7 -10-23 -16-39 -11-18 -5-5 -5-2 -5 1 -6 3 -5 5 -31 39 -37 34 -32 39 -5 5 -5 3 -6 1 -5-2 -5-5 -6-8 -10-23 -16-39 -5-10 -5-7 -6-3 -5 1 -5 5 -5 10 -11 31 -37 162 -5 15 -5 8 -6 1 -5-8 -5-16 -5-23 -16-92z"/><path fill="url(#b57)" stroke="url(#b57)" d="M206 1599l2 31 10 62 6 24 5 16 5 8 5-1 6-8 5-16 37-163 10-32 6-10 5-6 5-2 5 3 6 5 5 9 21 47 5 9 6 7 5 5 5 2 5 0 11-6 32-33 36-29 32-33 10-6 6 0 5 2 5 4 6 8 5 9 21 47 5 8 5 6 6 3 5-2 5-6 5-10 11-32 11-43 21-100 5-21 5-15 5-8 6-1 5 8 5 16 5 24 11 62 8 34 6 2 -11-61 -10-49 -6-15 -5-7 -5 1 -6 8 -5 14 -5 20 -21 95 -11 43 -10 30 -5 9 -6 4 -5 0 -5-5 -5-8 -6-12 -21-59 -5-12 -5-9 -6-6 -5-2 -5 1 -5 5 -6 6 -31 50 -37 43 -32 50 -5 6 -5 4 -5 1 -6-2 -5-5 -11-21 -21-59 -5-12 -5-9 -5-4 -6-1 -5 5 -5 9 -11 30 -10 42 -21 96 -6 19 -5 15 -5 8 -5 1 -6-7 -5-15 -5-22 -16-89z"/><path fill="url(#b56)" stroke="url(#b56)" d="M211 1601l2 31 11 60 5 23 5 16 5 7 6 0 5-9 5-15 37-161 11-31 5-9 5-6 5 0 6 4 5 7 5 11 16 42 11 24 5 8 5 6 5 2 6-1 5-4 5-5 32-44 37-38 31-44 5-6 6-3 5-1 5 2 6 5 10 20 21 54 5 11 6 8 5 4 5-1 5-5 6-9 10-31 11-43 21-99 5-20 5-15 6-8 5-1 5 8 5 16 6 23 10 60 9 33 5 3 -11-57 -10-46 -5-13 -6-7 -5 1 -5 8 -6 14 -5 18 -21 91 -10 41 -11 29 -5 8 -5 4 -6-2 -5-6 -5-10 -6-14 -15-50 -11-30 -5-9 -5-6 -6-2 -5 2 -5 5 -5 7 -32 60 -37 51 -31 60 -6 8 -5 5 -5 2 -6-2 -5-6 -5-10 -5-13 -21-67 -6-14 -5-10 -5-6 -5-1 -6 3 -5 9 -11 28 -10 41 -21 91 -5 19 -6 14 -5 7 -5 1 -5-6 -6-14 -10-46 -11-56z"/><path fill="url(#b55)" stroke="url(#b55)" d="M216 1604l2 28 11 57 5 22 5 14 6 7 5 0 5-9 5-14 6-19 21-95 10-42 11-29 5-9 5-4 6 0 5 6 5 9 5 13 22 63 5 12 5 10 5 5 6 2 5-1 5-5 5-7 32-54 37-47 31-55 6-7 5-4 5-2 5 2 6 6 10 22 21 63 6 13 5 9 5 5 5 1 6-4 5-9 10-30 11-42 21-94 5-20 6-14 5-8 5-1 5 7 6 15 5 22 10 56 9 32 5 2 -10-51 -11-41 -5-13 -6-5 -5 1 -5 7 -5 13 -6 17 -21 86 -10 39 -11 27 -5 7 -5 3 -5-2 -6-7 -10-27 -16-56 -11-32 -5-10 -5-7 -5-1 -6 2 -5 6 -5 9 -32 69 -37 57 -31 68 -5 9 -6 6 -5 3 -5-2 -6-7 -5-10 -5-15 -26-88 -6-11 -5-8 -5-2 -5 3 -6 8 -10 27 -11 38 -21 86 -5 17 -5 13 -6 7 -5 2 -5-6 -5-13 -11-41 -11-51z"/><path fill="url(#b54)" stroke="url(#b54)" d="M221 1606l3 26 10 52 5 19 6 14 5 6 5-1 5-8 6-13 5-18 21-90 11-40 10-28 5-8 6-3 5 2 5 6 5 11 6 15 21 70 5 14 5 10 6 7 5 2 5-3 5-5 6-9 31-64 37-54 32-65 5-9 5-5 5-2 6 2 5 6 5 10 6 14 21 70 5 15 5 11 5 6 6 2 5-3 5-8 11-28 10-40 21-90 6-18 5-13 5-8 5-1 6 6 5 14 5 19 11 52 8 29 5 2 -10-45 -11-36 -5-11 -5-5 -6 2 -5 7 -10 27 -27 99 -10 31 -5 11 -6 7 -5 2 -5-3 -6-8 -5-13 -26-93 -5-16 -6-11 -5-6 -5-2 -5 3 -6 7 -5 9 -21 52 -11 23 -36 62 -11 24 -21 51 -5 10 -6 7 -5 3 -5-2 -5-6 -6-11 -5-16 -26-94 -5-12 -6-8 -5-3 -5 2 -6 7 -5 11 -10 31 -27 99 -10 27 -5 7 -6 1 -5-4 -5-11 -11-36 -10-46z"/><path fill="url(#b53)" stroke="url(#b53)" d="M227 1608l2 24 10 45 6 18 5 12 5 5 5-1 6-7 10-29 27-104 10-32 5-12 6-7 5-2 5 2 5 8 6 12 26 93 5 15 6 11 5 6 5 2 5-3 6-6 5-10 31-73 37-60 32-73 5-10 5-6 6-3 5 2 5 7 5 11 11 32 16 59 10 28 6 8 5 2 5-2 5-7 11-26 32-122 10-29 5-7 6-1 5 5 5 12 5 18 11 46 8 25 6 3 -11-39 -11-31 -5-10 -5-4 -5 2 -6 6 -10 25 -26 91 -11 30 -5 10 -5 6 -6 1 -5-3 -5-9 -6-13 -26-97 -5-15 -5-12 -6-6 -5-2 -5 3 -5 7 -6 11 -21 54 -10 24 -37 65 -11 25 -21 54 -5 10 -5 7 -6 3 -5-1 -5-7 -5-11 -6-16 -26-96 -5-13 -5-9 -6-4 -5 2 -5 6 -6 10 -10 30 -26 91 -11 25 -5 6 -5 1 -6-4 -5-9 -11-31 -10-39z"/><path fill="url(#b52)" stroke="url(#b52)" d="M232 1611l2 20 11 40 5 15 5 10 5 5 6-2 5-7 10-26 27-95 10-31 6-11 5-6 5-2 5 4 6 8 5 13 26 97 6 16 5 11 5 7 5 2 6-3 5-7 5-11 21-54 11-24 37-65 10-24 21-54 5-11 6-7 5-3 5 2 5 6 6 12 5 16 26 96 6 14 5 8 5 3 5-1 6-7 5-10 10-31 27-95 10-27 6-6 5-2 5 5 5 10 6 15 10 40 9 23 5 2 -11-33 -10-27 -6-8 -5-3 -5 2 -5 6 -11 22 -26 84 -11 27 -5 10 -5 5 -6 2 -5-4 -5-9 -5-13 -21-78 -11-34 -5-11 -5-6 -6-2 -5 3 -5 7 -5 11 -22 54 -10 25 -37 65 -10 24 -22 55 -5 10 -5 7 -5 3 -6-1 -5-7 -5-11 -11-34 -21-78 -5-13 -5-8 -6-4 -5 1 -5 6 -5 9 -11 28 -26 83 -11 23 -5 6 -5 1 -5-3 -6-8 -10-26 -11-34z"/><path fill="url(#b51)" stroke="url(#b51)" d="M237 1613l2 17 11 34 5 13 5 9 6 4 5-2 5-6 11-24 26-88 11-28 5-10 5-6 5-1 6 4 5 9 5 13 21 80 11 34 5 12 5 7 6 1 5-3 5-8 5-10 21-56 11-25 37-66 10-25 21-56 6-11 5-7 5-3 5 1 6 7 5 11 10 35 22 79 5 14 5 9 5 4 6-2 5-5 5-10 11-29 26-87 11-24 5-6 5-2 5 4 6 8 5 13 10 34 9 20 5 3 -11-29 -10-23 -5-6 -6-3 -5 2 -5 5 -11 21 -26 77 -10 26 -6 9 -5 5 -5 1 -6-4 -5-8 -5-12 -26-93 -6-15 -5-11 -5-6 -5-1 -6 3 -5 6 -5 11 -21 52 -11 23 -37 63 -10 23 -21 53 -6 10 -5 7 -5 3 -5-2 -6-6 -5-11 -5-15 -26-92 -6-13 -5-8 -5-4 -6 1 -5 6 -5 9 -11 26 -26 76 -10 21 -6 5 -5 2 -5-3 -6-6 -10-23 -11-28z"/><path fill="url(#b50)" stroke="url(#b50)" d="M242 1616l3 14 10 29 5 11 6 7 5 3 5-2 5-5 11-22 26-80 11-27 5-9 5-6 6 0 5 3 5 9 5 13 21 78 11 34 5 12 6 6 5 2 5-4 5-7 6-11 21-55 10-24 37-65 11-25 21-55 5-11 5-7 5-3 6 1 5 7 5 11 11 34 21 78 5 13 5 9 6 4 5-1 5-5 5-10 11-26 26-80 11-22 5-6 5-1 6 2 5 8 5 10 11 30 8 17 5 2 -10-25 -11-19 -5-5 -5-2 -6 1 -5 6 -10 18 -27 71 -10 25 -6 8 -5 6 -5 1 -5-3 -6-8 -5-11 -26-86 -5-14 -6-10 -5-6 -5-2 -5 3 -6 6 -5 9 -32 70 -36 58 -32 70 -5 9 -6 6 -5 3 -5-2 -5-6 -6-10 -5-14 -26-86 -6-11 -5-8 -5-3 -5 1 -6 6 -5 8 -10 25 -27 71 -10 19 -5 5 -6 1 -5-2 -5-5 -11-19 -10-25z"/><path fill="url(#b49)" stroke="url(#b49)" d="M248 1618l2 12 10 25 6 9 5 6 5 2 5-1 6-6 10-20 26-73 11-25 5-9 6-5 5-1 5 3 5 9 6 12 21 74 10 32 5 11 6 6 5 1 5-3 6-7 5-10 21-51 10-23 37-62 11-23 21-52 5-10 5-7 6-3 5 1 5 7 5 10 11 33 21 73 5 13 6 8 5 3 5-1 5-5 6-8 10-26 26-73 11-20 5-5 6-2 5 2 5 6 5 9 11 25 8 15 5 2 -10-21 -11-17 -5-4 -5-2 -5 2 -6 5 -10 17 -26 66 -11 24 -5 8 -6 6 -5 1 -5-2 -5-6 -6-10 -26-77 -5-13 -5-9 -6-6 -5-1 -5 2 -6 5 -5 8 -31 61 -37 51 -32 61 -5 8 -5 5 -6 2 -5-1 -5-6 -5-9 -6-13 -26-77 -5-10 -6-6 -5-3 -5 2 -5 6 -6 8 -10 24 -26 66 -11 17 -5 5 -6 2 -5-2 -5-4 -11-17 -10-22z"/><path fill="url(#b48)" stroke="url(#b48)" d="M253 1620l2 10 11 22 5 8 5 5 5 1 6-1 5-5 10-18 27-68 10-24 6-9 5-5 5-1 5 3 6 7 5 11 26 83 5 14 6 10 5 5 5 2 6-3 5-6 5-8 32-68 36-56 32-68 5-8 6-6 5-3 5 2 5 5 6 10 5 14 26 83 6 11 5 7 5 3 5-1 6-5 5-9 10-24 27-68 10-18 5-5 6-1 5 1 5 5 6 8 10 21 8 13 6 3 -11-19 -10-15 -6-4 -5-1 -5 2 -5 4 -11 16 -37 86 -5 8 -5 6 -6 3 -5-1 -5-5 -5-8 -11-24 -16-42 -10-20 -5-6 -6-2 -5 2 -5 4 -6 6 -31 50 -37 44 -32 49 -5 7 -5 4 -5 1 -6-2 -5-5 -10-20 -16-42 -11-25 -5-8 -5-4 -6-1 -5 2 -5 6 -5 9 -37 85 -11 17 -5 4 -5 2 -6-1 -5-4 -10-15 -11-19z"/><path fill="url(#b47)" stroke="url(#b47)" d="M258 1623l2 8 11 19 5 7 5 4 6 2 5-2 5-5 11-17 36-87 6-8 5-6 5-2 6 2 5 6 5 9 5 13 21 61 11 21 5 5 5 2 6-2 5-4 5-8 32-57 37-49 31-58 6-7 5-5 5-1 5 2 6 5 5 9 5 12 21 61 5 12 6 10 5 5 5 2 6-2 5-5 5-9 37-87 10-16 6-5 5-2 5 1 6 5 5 7 10 18 9 12 5 2 -11-17 -10-13 -5-4 -6-1 -5 2 -5 4 -5 7 -11 19 -32 72 -10 16 -5 3 -6 1 -5-3 -5-6 -11-20 -21-45 -5-8 -5-5 -6-3 -5 1 -5 3 -26 31 -53 50 -11 12 -15 20 -6 5 -5 4 -5 0 -5-2 -6-5 -10-18 -21-47 -6-9 -5-6 -5-2 -5 0 -6 4 -5 7 -10 19 -21 50 -11 22 -11 15 -5 5 -5 1 -5-1 -6-3 -10-13 -11-18z"/><path fill="url(#b46)" stroke="url(#b46)" d="M263 1625l2 8 11 17 5 6 6 3 5 2 5-2 5-5 6-7 10-19 32-73 5-9 5-6 6-3 5 0 5 4 5 7 6 10 26 63 5 8 5 5 6 3 5-1 5-4 6-5 31-45 37-40 32-45 5-6 5-3 5-1 6 2 5 5 10 20 21 51 6 10 5 8 5 4 6 0 5-3 5-6 11-20 21-50 10-23 11-16 5-4 5-2 5 1 6 4 24 33 5 3 -10-17 -11-12 -5-3 -5-1 -6 2 -5 4 -5 6 -11 19 -26 59 -11 20 -5 7 -5 5 -5 2 -6-1 -5-4 -5-6 -26-47 -11-12 -5-3 -6 1 -5 3 -16 17 -5 3 -21 11 -32 21 -15 7 -6 3 -15 17 -6 3 -5 1 -5-3 -5-5 -11-16 -21-38 -5-6 -6-4 -5-1 -5 2 -5 5 -6 7 -10 20 -26 60 -11 18 -5 6 -6 5 -5 1 -5-1 -5-3 -11-12 -10-16z"/><path fill="url(#b45)" stroke="url(#b45)" d="M269 1628l2 7 10 15 6 6 5 3 5 1 5-2 6-4 5-7 10-18 32-72 10-16 6-5 5-1 5 2 6 5 10 17 16 33 10 17 6 5 5 3 5 0 5-3 6-5 16-17 63-51 10-10 11-12 5-5 5-2 6-1 5 3 5 5 11 17 21 43 5 8 5 5 5 2 6-2 5-4 5-7 11-21 21-49 10-21 11-15 5-5 5-1 6 0 5 4 24 31 5 2 -10-15 -11-12 -5-3 -5-1 -5 2 -6 4 -5 6 -10 17 -27 58 -10 20 -11 13 -5 3 -5 0 -6-2 -5-4 -26-38 -11-11 -5-2 -5 0 -6 4 -10 13 -5 4 -6 1 -10-2 -5 0 -6 1 -21 10 -10 3 -16-2 -5 1 -6 4 -10 13 -5 4 -6 0 -5-2 -10-11 -27-38 -5-4 -5-2 -6 0 -5 3 -10 13 -11 20 -26 58 -11 17 -5 6 -5 4 -6 2 -5-1 -5-3 -11-12 -10-15z"/><path fill="url(#b44)" stroke="url(#b44)" d="M274 1630l2 6 5 8 11 12 5 3 5 1 6-2 5-4 5-6 11-18 26-59 10-21 6-7 5-6 5-3 6 1 5 2 5 6 26 42 11 12 5 3 5-1 6-3 16-17 5-2 16-1 10-5 21-12 11-2 10-1 5-2 16-17 6-3 5-1 5 3 11 12 26 42 5 6 5 3 6 0 5-3 5-6 6-7 10-21 26-59 11-18 5-6 5-4 6-2 5 1 5 3 5 5 11 15 8 9 6 2 -11-14 -10-12 -6-3 -5-1 -5 2 -5 4 -6 6 -10 17 -27 54 -10 19 -11 14 -5 3 -5 1 -5-1 -6-3 -31-36 -6-3 -5-2 -5 1 -5 5 -11 13 -5 4 -5-1 -11-6 -5-2 -11 1 -21 6 -5 0 -5-2 -11-7 -5 0 -5 4 -11 13 -5 5 -5 1 -6-2 -5-4 -32-35 -5-3 -5-1 -5 1 -6 3 -10 13 -11 20 -26 54 -11 17 -5 6 -5 4 -5 1 -6 0 -5-3 -10-12 -11-15z"/><path fill="url(#b43)" stroke="url(#b43)" d="M279 1632l2 7 5 7 11 12 5 3 6 0 5-1 5-4 5-6 11-18 26-56 11-20 10-14 5-3 6-1 5 1 5 4 6 5 26 35 5 4 5 2 6-1 5-5 10-14 6-4 5 0 11 6 5 3 5 0 5-2 21-8 6 0 5 2 10 7 6 0 5-4 11-14 5-5 5-1 5 2 6 4 26 35 5 5 5 4 6 1 5-1 5-3 11-14 10-20 27-56 10-18 5-6 6-4 5-1 5 0 5 3 6 5 10 14 9 9 5 3 -11-15 -10-11 -5-3 -6-1 -5 2 -5 4 -5 5 -11 17 -26 51 -11 17 -10 13 -6 3 -5 1 -5-1 -5-2 -32-28 -5-2 -6-1 -5 1 -5 4 -11 12 -5 3 -5-1 -16-9 -10 1 -22 5 -5-1 -16-9 -5 0 -5 3 -11 12 -5 4 -5 1 -5-1 -6-3 -31-27 -6-3 -5-1 -5 2 -5 3 -11 12 -10 18 -27 51 -10 16 -6 6 -5 4 -5 1 -5 0 -6-3 -10-12 -11-14z"/><path fill="url(#b42)" stroke="url(#b42)" d="M284 1635l2 6 6 7 10 11 5 3 6 1 5-2 5-4 6-5 10-17 26-53 11-19 10-13 6-3 5-1 5 0 6 3 31 32 5 3 6 1 5-1 5-5 11-14 5-4 5 1 11 9 5 3 5 1 6-1 21-6 5 1 5 3 11 8 5 1 5-3 11-14 5-5 5-2 6 2 5 3 31 31 6 3 5 1 5-1 5-4 11-13 11-18 26-53 10-17 6-6 5-4 5-1 5 0 6 3 5 5 10 14 9 9 5 2 -10-14 -11-11 -5-3 -5-1 -6 2 -5 3 -11 13 -31 56 -11 16 -10 11 -5 3 -6 1 -5 0 -5-2 -27-18 -10-5 -5-1 -6 1 -5 3 -10 8 -6 2 -5 0 -16-5 -10 1 -21 5 -6 0 -15-5 -6 0 -5 2 -10 9 -6 2 -5 1 -5-1 -11-4 -26-19 -5-1 -6-1 -5 1 -5 3 -11 11 -10 17 -32 56 -10 12 -6 4 -5 1 -5 0 -5-3 -11-11 -10-15z"/><path fill="url(#b41)" stroke="url(#b41)" d="M290 1637l2 6 5 7 10 11 6 3 5 1 5-2 6-3 5-6 10-16 27-49 10-17 11-12 5-3 5-1 5 1 6 2 26 21 11 5 5 1 5-1 5-3 11-11 5-2 5 0 16 7 11 0 21-5 5 0 16 8 5 0 5-3 11-10 5-4 6-1 5 1 10 6 27 21 5 2 5 0 5-1 6-3 10-11 11-17 31-58 11-13 5-4 5-2 6 1 5 3 24 27 5 3 -10-15 -11-11 -5-3 -5 0 -5 1 -6 4 -10 12 -32 53 -10 14 -11 10 -5 3 -5 1 -11-1 -26-14 -11-3 -5-1 -11 2 -15 7 -21 0 -32 5 -26 1 -16 6 -11 2 -5-1 -11-3 -26-14 -10-1 -6 1 -5 3 -10 10 -11 15 -32 52 -10 13 -5 3 -6 2 -5-1 -5-3 -11-11 -10-14z"/><path fill="url(#b40)" stroke="url(#b40)" d="M295 1640l2 5 5 7 11 12 5 2 5 1 5-1 6-4 10-12 32-55 10-15 11-10 5-3 5-1 11 2 26 15 11 4 5 1 11-3 15-7 6-1 16 2 31-6 26 1 16-7 11-3 5 1 11 4 26 16 10 2 6-1 5-3 10-11 11-15 32-54 10-13 5-3 6-2 5 1 5 3 24 27 6 2 -11-14 -10-11 -6-3 -5-1 -5 1 -6 4 -10 12 -32 50 -10 14 -11 9 -10 4 -11-1 -26-10 -16-2 -10 1 -21 4 -69 9 -21 5 -11 1 -15-2 -27-11 -10 0 -5 1 -11 7 -10 12 -32 49 -11 15 -10 9 -5 1 -6-1 -5-3 -5-5 -16-20z"/><path fill="url(#b39)" stroke="url(#b39)" d="M300 1642l2 6 5 7 11 11 5 3 5 1 6-2 5-3 11-13 31-51 11-14 10-10 11-4 10 1 27 12 15 3 11-1 16-4 21-2 31-6 27-3 15-4 11-1 16 3 26 12 11 1 5-1 10-7 11-12 32-52 10-14 11-9 5-1 5 0 5 3 25 27 5 2 -11-14 -10-11 -5-3 -6-1 -5 2 -5 3 -11 12 -26 40 -16 21 -10 9 -11 4 -11 0 -26-8 -16-2 -36 7 -58 7 -37 7 -16-2 -26-8 -11 0 -5 1 -11 7 -10 11 -37 55 -11 12 -5 3 -5 1 -5 0 -6-3 -10-11 -11-15z"/><path fill="url(#b38)" stroke="url(#b38)" d="M305 1644l2 6 6 7 10 11 5 3 6 1 5-2 5-3 11-12 31-49 11-13 10-10 11-4 10 0 27 8 16 2 10-1 116-15 16 1 31 8 11 1 5-2 11-7 10-11 37-56 11-12 5-4 5-1 5 1 6 3 24 26 5 3 -10-15 -11-11 -5-2 -6-1 -5 1 -5 3 -11 12 -26 39 -10 14 -11 10 -10 7 -6 1 -10 0 -27-9 -15-1 -37 10 -53 6 -37 10 -10 2 -11-1 -26-9 -11-1 -10 4 -11 9 -16 19 -26 40 -10 11 -6 3 -5 2 -5-1 -5-3 -11-11 -11-14z"/><path fill="url(#b37)" stroke="url(#b37)" d="M310 1647l3 5 5 8 10 11 6 2 5 1 5-1 5-3 11-12 26-40 16-20 11-9 10-4 11-1 26 6 16 2 131-17 16 1 27 6 10 0 5-2 11-6 10-11 37-54 11-12 5-3 5-2 6 1 5 3 24 27 5 2 -10-14 -11-11 -5-3 -5-1 -6 1 -5 4 -10 11 -27 38 -10 13 -11 10 -10 5 -6 1 -10-1 -26-13 -11-2 -10 3 -21 12 -11 5 -16 3 -37 4 -15 6 -22 12 -10 3 -11-2 -26-13 -10-1 -6 1 -10 5 -11 10 -10 13 -21 31 -11 14 -10 8 -6 1 -5-1 -5-3 -5-4 -16-21z"/><path fill="url(#b36)" stroke="url(#b36)" d="M316 1649l2 6 5 7 11 11 5 3 5 1 5-2 6-3 10-11 27-39 10-13 11-11 5-3 10-4 11 0 26 9 11 1 10-2 21-7 16-4 53-6 37-11 5-1 10 1 27 9 10 1 6-2 10-6 11-10 10-14 27-38 10-12 5-3 6-1 5 1 5 2 24 27 6 3 -11-15 -11-11 -5-3 -5-1 -5 2 -6 3 -10 11 -26 37 -11 12 -10 9 -6 3 -10 3 -6-2 -10-5 -21-17 -5-2 -6 0 -5 2 -5 3 -21 19 -16 9 -11 3 -26 3 -16 5 -10 7 -21 19 -6 3 -5 2 -5 0 -5-2 -27-20 -10-3 -5 0 -11 5 -11 9 -10 12 -32 43 -10 8 -5 2 -6-1 -5-3 -5-5 -16-20z"/><path fill="url(#b35)" stroke="url(#b35)" d="M321 1652l2 5 11 14 5 4 5 3 5 1 6-1 10-8 11-14 21-30 10-13 11-9 10-6 6 0 10 2 26 17 6 2 5 0 11-4 21-16 10-5 16-5 26-2 11-2 16-8 21-16 10-4 5 0 6 2 26 17 11 2 5 0 10-5 11-10 10-13 27-37 10-11 6-4 5-1 5 1 5 3 25 27 5 2 -11-14 -10-11 -6-3 -5-1 -5 1 -5 3 -11 11 -26 36 -11 12 -10 8 -11 4 -5 0 -11-5 -26-25 -5-2 -5 0 -6 2 -5 4 -21 25 -11 9 -5 3 -10 3 -27 4 -10 3 -11 7 -5 5 -21 24 -5 5 -6 2 -5 0 -5-3 -5-4 -16-16 -11-8 -5-1 -5 0 -6 1 -10 6 -11 11 -31 42 -11 11 -5 3 -5 1 -5-1 -6-3 -10-11 -11-14z"/><path fill="url(#b34)" stroke="url(#b34)" d="M326 1654l2 6 6 7 10 11 5 3 6 1 5-2 5-3 11-11 26-35 11-12 10-9 11-4 5 0 10 5 27 25 5 2 5 0 6-2 5-4 21-25 5-5 11-7 10-3 27-3 10-4 5-2 11-9 21-25 5-4 5-2 6 0 5 2 5 4 16 16 11 8 5 2 5 0 5-2 11-6 10-10 32-42 11-11 5-3 5-2 5 1 6 3 24 27 5 2 -11-14 -10-11 -5-3 -6-1 -5 1 -5 4 -11 11 -26 35 -10 12 -11 9 -11 4 -5-1 -10-4 -27-25 -5-3 -5 0 -5 3 -6 4 -21 24 -10 9 -6 3 -10 4 -26 3 -11 3 -11 7 -5 5 -21 25 -5 4 -5 2 -6 0 -5-2 -5-4 -16-16 -10-8 -6-2 -5 0 -5 1 -11 7 -10 10 -32 42 -10 11 -6 3 -5 1 -5-1 -6-2 -10-11 -11-15z"/><path fill="url(#b33)" stroke="url(#b33)" d="M331 1656l3 6 5 7 10 11 6 3 5 1 5-1 5-3 11-11 26-35 11-12 10-8 11-3 5 0 5 2 6 4 21 23 5 5 5 2 5 0 6-2 5-5 21-28 11-10 5-4 10-3 21-3 11-2 11-6 10-10 21-28 5-5 6-2 5 0 5 2 5 5 16 18 11 9 5 2 5 0 11-3 5-4 11-10 31-41 11-11 5-3 5-1 6 1 5 3 24 26 5 3 -16-21 -5-5 -5-2 -5-1 -6 1 -10 8 -32 43 -10 12 -11 10 -10 4 -6 1 -10-4 -26-20 -6-1 -5-1 -5 2 -5 3 -22 19 -10 7 -16 5 -26 3 -11 3 -16 9 -21 19 -5 3 -5 2 -5 0 -6-2 -21-16 -10-6 -6-1 -10 2 -5 3 -11 9 -10 12 -27 37 -10 11 -5 3 -6 2 -5-1 -5-3 -11-11 -10-14z"/><path fill="url(#b32)" stroke="url(#b32)" d="M337 1659l2 5 5 7 11 11 5 3 5 1 5-1 6-3 10-11 26-36 11-12 11-9 10-4 5 0 11 4 26 24 5 3 6 0 5-2 5-4 21-24 6-4 10-7 11-3 26-3 11-3 5-3 10-9 21-23 6-4 5-2 5 0 5 2 6 4 15 16 11 7 5 2 6 0 5-2 5-2 11-9 10-12 26-36 11-11 5-4 6-1 5 1 5 3 24 27 5 2 -15-20 -6-5 -5-3 -5-1 -5 1 -11 9 -10 13 -21 31 -11 13 -11 10 -10 5 -5 1 -11-1 -26-13 -11-2 -10 3 -21 12 -11 4 -16 4 -37 4 -15 6 -21 12 -11 3 -10-2 -27-13 -10-1 -6 1 -10 5 -11 10 -10 13 -26 38 -11 11 -5 4 -6 1 -5-1 -5-3 -11-11 -10-14z"/><path fill="url(#b31)" stroke="url(#b31)" d="M342 1661l2 6 11 13 5 5 5 3 5 1 6-2 10-8 32-43 10-13 11-9 10-6 6 0 10 2 26 15 11 2 10-4 22-15 15-7 11-2 26-3 16-4 11-5 21-15 10-4 11 2 26 15 11 3 5-1 10-5 11-10 10-13 27-37 10-11 5-3 6-1 5 0 5 3 24 27 6 2 -11-14 -10-11 -6-3 -5-1 -5 2 -5 3 -11 12 -26 39 -11 14 -10 10 -11 6 -5 2 -11-1 -26-8 -16-1 -37 10 -52 6 -37 10 -11 2 -10-2 -27-8 -10-1 -11 4 -10 9 -16 19 -26 39 -11 12 -5 3 -5 1 -6 0 -5-3 -10-11 -11-15z"/><path fill="url(#b30)" stroke="url(#b30)" d="M347 1663l2 6 6 7 10 11 5 3 6 1 5-1 5-4 11-11 26-38 10-14 11-10 5-3 11-4 10 0 27 9 10 1 11-1 26-10 11-2 36-4 16-3 37-12 5 0 11 1 26 9 11 0 5-1 11-6 10-10 11-14 26-38 10-11 6-4 5-1 5 1 6 3 24 26 5 3 -11-14 -10-11 -5-3 -6-1 -5 1 -5 4 -11 11 -26 41 -16 20 -10 9 -11 5 -10-1 -27-8 -16-1 -36 6 -58 8 -37 6 -16-2 -26-8 -11 0 -5 2 -11 6 -10 11 -37 55 -11 12 -5 3 -5 2 -5-1 -6-3 -10-11 -11-14z"/><path fill="url(#b29)" stroke="url(#b29)" d="M352 1666l2 6 6 7 10 11 6 3 5 0 5-1 5-3 11-12 26-39 16-20 11-9 10-4 11 0 26 7 16 1 42-8 42-5 47-8 16 1 26 7 11 0 5-2 11-6 10-11 11-14 26-39 11-12 5-3 5-2 5 1 6 3 24 27 5 2 -10-14 -11-11 -5-3 -5-1 -6 2 -5 3 -10 12 -32 50 -11 14 -10 9 -11 4 -10 0 -26-10 -16-3 -11 1 -21 5 -68 9 -21 4 -11 2 -16-3 -26-10 -11-1 -5 1 -10 7 -11 12 -31 50 -11 14 -11 9 -5 1 -5-1 -5-2 -6-5 -15-21z"/><path fill="url(#b28)" stroke="url(#b28)" d="M358 1668l2 6 5 7 11 11 5 3 5 1 5-2 6-3 10-12 26-41 16-21 11-9 10-4 11 1 26 8 16 1 21-2 105-17 11 0 10 2 27 8 10 0 5-1 11-7 11-11 36-56 11-11 5-4 5-1 6 1 5 3 24 26 5 3 -10-15 -11-11 -5-3 -5 0 -5 1 -6 4 -10 12 -32 53 -10 14 -11 10 -5 3 -5 1 -11-1 -26-14 -11-3 -5-1 -11 2 -15 7 -21 0 -32 5 -26 1 -16 6 -11 2 -5-1 -10-3 -27-14 -10-1 -6 1 -5 3 -10 10 -11 15 -32 52 -10 13 -5 3 -6 2 -5-1 -5-3 -11-11 -10-14z"/><path fill="url(#b27)" stroke="url(#b27)" d="M363 1671l2 5 5 7 11 12 5 2 5 1 6-1 5-4 10-12 32-51 10-14 11-9 11-4 10 1 26 11 16 3 11-1 21-5 100-16 16 3 26 11 10 1 6-1 10-7 11-11 31-51 11-15 10-8 6-2 5 1 5 3 24 27 6 2 -11-14 -10-12 -6-2 -5-1 -5 1 -5 4 -11 13 -32 56 -10 16 -11 11 -5 3 -5 1 -5 0 -6-2 -26-18 -11-5 -5-1 -5 1 -5 3 -11 8 -5 2 -5 0 -16-5 -5 0 -22 5 -10 1 -16-5 -5 0 -5 2 -11 8 -5 3 -5 1 -6-1 -10-5 -27-18 -5-2 -5 0 -5 1 -6 3 -10 11 -11 16 -31 56 -11 13 -5 4 -5 1 -6-1 -5-2 -10-12 -11-14z"/><path fill="url(#b26)" stroke="url(#b26)" d="M368 1673l2 6 5 7 11 11 5 3 6 1 5-2 5-3 11-13 31-54 11-15 10-10 5-3 6-1 10 2 27 15 10 3 5 1 11-3 16-8 26 2 32-5 15 2 6 0 16-8 10-3 5 1 11 4 26 14 11 2 5-1 5-3 11-10 10-15 32-54 10-12 6-4 5-1 5 0 5 3 25 27 5 2 -11-14 -10-11 -5-3 -6-1 -5 2 -5 3 -5 6 -11 16 -26 51 -11 18 -10 12 -6 3 -5 2 -5-1 -5-2 -32-28 -5-3 -6-1 -5 2 -5 3 -11 12 -5 3 -5 0 -16-9 -11 0 -21 5 -5 0 -16-9 -5-1 -5 4 -11 11 -5 4 -5 2 -5-1 -6-3 -31-28 -6-2 -5-1 -5 1 -5 4 -11 12 -10 18 -27 51 -10 16 -6 6 -5 3 -5 2 -5-1 -6-3 -10-11 -11-15z"/><path fill="url(#b25)" stroke="url(#b25)" d="M373 1675l2 6 6 7 10 12 5 2 6 1 5-1 5-4 6-6 10-15 26-49 11-17 10-12 6-3 5-2 5 1 6 2 31 23 5 2 6 1 5-2 5-3 11-11 5-3 5 1 16 9 11 0 21-4 5 0 16 9 5 1 5-3 11-11 5-3 5-2 6 1 5 2 31 23 6 2 5 1 5-2 5-3 11-12 11-17 31-57 11-13 5-4 5-1 5 1 6 2 24 27 5 3 -10-15 -11-12 -5-2 -5-1 -6 1 -5 4 -5 6 -11 17 -26 55 -11 19 -10 13 -5 3 -6 1 -5-1 -5-3 -32-35 -5-4 -5-2 -6 2 -5 4 -10 13 -6 4 -5 0 -10-7 -6-2 -10 1 -21 7 -6 0 -5-2 -10-7 -6 0 -5 3 -10 14 -6 4 -5 1 -5-1 -6-4 -31-35 -5-4 -6-1 -5 1 -5 4 -11 13 -10 19 -27 55 -10 16 -5 6 -6 4 -5 2 -5-1 -5-3 -11-11 -10-15z"/><path fill="url(#b24)" stroke="url(#b24)" d="M379 1678l2 6 5 7 10 11 6 3 5 1 5-2 6-4 5-5 10-17 27-53 10-18 11-13 5-4 5-2 5 1 6 2 10 9 21 21 6 4 5 1 5-2 5-4 11-14 5-4 5 2 11 9 5 3 6 1 21-5 5 0 5 1 5 3 11 9 5 1 5-3 11-14 5-5 6-1 5 1 5 3 21 21 11 9 5 3 5 0 5-1 6-4 10-13 11-19 26-52 11-17 5-6 5-3 5-2 6 1 5 3 5 4 11 14 8 9 5 2 -10-15 -11-12 -5-3 -5-1 -5 2 -6 4 -5 6 -11 18 -26 57 -10 20 -11 13 -5 3 -5 1 -6-3 -5-4 -26-38 -11-11 -5-2 -5 1 -6 3 -10 13 -5 4 -6 2 -16-3 -10 3 -21 10 -5 1 -6 0 -10-2 -5 1 -6 5 -10 12 -5 4 -6 0 -5-2 -11-11 -26-37 -5-5 -5-2 -6 0 -5 3 -10 13 -11 21 -26 57 -11 17 -5 6 -5 5 -6 1 -5-1 -5-3 -11-11 -10-16z"/><path fill="url(#b23)" stroke="url(#b23)" d="M384 1680l2 6 5 8 11 11 5 3 5 1 5-2 6-4 5-6 11-17 36-76 11-14 5-3 5-2 6 2 5 3 5 5 27 33 5 4 5 2 5 0 6-5 10-13 5-4 6 1 10 6 5 2 11-1 21-8 5 0 6 2 10 7 5 0 6-4 10-13 5-4 6-1 5 2 5 4 27 33 5 6 5 3 5 1 6-1 5-4 10-13 37-76 11-18 5-6 5-4 6-1 5 0 5 3 5 5 11 14 8 9 6 3 -11-17 -10-12 -6-3 -5-1 -5 2 -6 4 -5 6 -10 19 -27 59 -10 20 -5 7 -6 5 -5 2 -5-1 -5-4 -6-6 -26-47 -11-12 -5-3 -5 1 -5 3 -16 17 -5 3 -22 11 -31 21 -16 7 -5 3 -16 17 -5 3 -6 1 -5-3 -5-5 -11-16 -21-38 -5-6 -5-4 -5-1 -6 2 -5 5 -5 7 -11 20 -26 60 -11 18 -5 6 -5 5 -5 1 -6-1 -5-3 -10-12 -11-16z"/><path fill="url(#b22)" stroke="url(#b22)" d="M389 1683l2 6 5 8 11 11 5 4 5 0 6-1 5-5 5-6 11-18 26-58 11-20 5-8 5-5 5-3 6 0 5 2 5 5 27 41 10 12 5 2 6 0 5-3 16-15 5-2 10-1 11-3 21-11 11-5 15-1 6-2 15-16 6-3 5 0 5 2 11 12 26 41 5 5 6 3 5 0 5-3 5-6 6-7 10-21 27-58 10-18 5-6 6-4 5-2 5 1 5 3 6 5 10 14 9 10 5 2 -11-17 -10-14 -5-3 -6-1 -5 2 -5 4 -6 7 -10 19 -32 72 -10 15 -5 4 -6 1 -5-3 -5-6 -11-20 -21-46 -5-7 -5-6 -6-2 -5 1 -5 3 -27 31 -52 50 -11 12 -15 20 -6 5 -5 3 -5 1 -6-2 -5-6 -10-17 -21-47 -6-9 -5-6 -5-3 -5 1 -6 4 -5 6 -11 20 -21 50 -10 22 -11 15 -5 4 -5 2 -5-1 -6-3 -10-14 -11-17z"/><path fill="url(#b21)" stroke="url(#b21)" d="M394 1685l2 7 6 8 10 12 5 4 6 1 5-2 5-4 5-7 11-18 26-60 11-20 5-7 5-5 6-1 5 2 5 4 5 8 22 41 10 17 5 5 6 2 5 0 5-3 5-4 16-17 69-53 15-16 6-5 5-3 5 0 5 2 6 5 10 17 21 41 6 8 5 4 5 2 5-1 6-5 5-7 10-20 22-48 10-21 11-15 5-5 5-1 5 0 6 4 24 30 5 2 -10-19 -11-14 -5-4 -6-2 -5 2 -5 5 -11 16 -36 85 -6 9 -5 6 -5 2 -5 0 -6-5 -5-8 -11-25 -15-42 -11-20 -5-5 -5-2 -6 1 -5 5 -5 6 -32 50 -37 43 -31 50 -6 6 -5 4 -5 2 -5-2 -6-6 -10-19 -16-43 -10-24 -6-8 -5-5 -5-1 -5 3 -6 6 -5 9 -37 85 -10 16 -6 5 -5 1 -5-1 -5-4 -11-15 -11-19z"/><path fill="url(#b20)" stroke="url(#b20)" d="M399 1687l3 8 10 16 5 6 6 4 5 1 5-2 5-4 6-7 10-19 32-73 5-8 5-7 6-3 5 0 5 4 5 7 6 10 26 61 5 8 6 5 5 2 5-1 5-3 6-6 31-43 37-38 32-43 5-6 5-4 5 0 6 2 5 5 11 19 21 50 5 10 5 7 5 4 6 0 5-3 5-7 11-19 21-50 10-22 11-16 5-4 5-2 6 1 5 4 24 32 5 3 -10-22 -11-16 -5-5 -5-2 -6 2 -5 5 -10 17 -27 66 -10 24 -5 8 -6 6 -5 2 -5-2 -6-7 -5-10 -26-77 -5-12 -6-10 -5-5 -5-2 -5 2 -6 5 -5 8 -32 61 -36 51 -32 61 -5 8 -6 6 -5 2 -5-2 -5-6 -6-9 -5-13 -26-77 -5-10 -6-6 -5-2 -5 2 -6 5 -5 9 -10 23 -27 66 -10 18 -5 4 -6 2 -5-1 -5-5 -11-17 -10-21z"/><path fill="url(#b19)" stroke="url(#b19)" d="M405 1690l2 8 10 18 6 7 5 4 5 1 5-1 6-5 10-17 37-85 5-9 6-6 5-2 5 2 5 5 6 10 5 12 21 59 11 21 5 5 5 2 5-1 6-5 5-7 31-56 37-47 32-56 5-7 5-5 6-2 5 2 5 6 5 9 6 11 21 60 5 12 5 9 6 6 5 1 5-2 5-5 6-9 37-86 10-16 5-5 6-2 5 2 5 4 5 6 11 19 8 11 6 2 -11-24 -11-20 -5-5 -5-2 -5 2 -6 5 -10 19 -26 70 -11 25 -5 8 -5 6 -6 1 -5-3 -5-8 -6-11 -26-86 -5-14 -5-10 -6-6 -5-2 -5 3 -5 6 -6 10 -31 69 -37 58 -32 70 -5 9 -5 6 -6 3 -5-2 -5-6 -5-10 -6-14 -26-86 -5-11 -5-8 -6-3 -5 2 -5 5 -6 9 -10 24 -26 71 -11 19 -5 5 -5 1 -6-1 -5-6 -11-19 -10-25z"/><path fill="url(#b18)" stroke="url(#b18)" d="M410 1692l2 10 11 21 5 7 5 5 5 2 6-2 5-5 10-18 27-67 10-24 6-8 5-5 5-2 5 3 6 7 5 11 26 82 5 13 6 10 5 6 5 1 6-2 5-6 5-9 32-66 37-55 31-66 5-8 6-6 5-3 5 2 5 6 6 9 5 14 26 82 6 11 5 7 5 2 5-1 6-5 5-9 10-24 27-67 10-18 6-4 5-2 5 1 5 5 6 8 10 21 9 12 5 3 -11-29 -10-23 -6-6 -5-3 -5 2 -5 5 -11 21 -26 77 -11 26 -5 9 -5 5 -6 1 -5-4 -5-8 -5-13 -27-92 -5-15 -5-11 -5-6 -6-2 -5 3 -5 7 -6 10 -21 53 -10 23 -37 63 -10 23 -22 53 -5 10 -5 7 -5 3 -6-2 -5-6 -5-11 -5-15 -27-92 -5-13 -5-8 -6-4 -5 1 -5 6 -5 9 -11 25 -26 77 -11 21 -5 5 -5 2 -6-3 -5-6 -10-23 -11-28z"/><path fill="url(#b17)" stroke="url(#b17)" d="M415 1695l2 11 11 24 5 9 5 6 6 2 5-2 5-5 11-19 26-73 11-25 5-9 5-5 5-1 6 4 5 8 5 12 26 90 6 15 5 11 5 6 6 1 5-3 5-7 5-9 21-51 11-23 37-61 10-23 21-51 6-10 5-7 5-3 5 2 6 6 5 10 5 15 27 90 5 12 5 8 5 4 6-1 5-5 5-9 11-25 26-72 11-20 5-5 5-2 5 2 6 6 5 9 10 24 9 15 5 2 -11-34 -10-26 -5-8 -6-3 -5 1 -5 6 -11 23 -26 83 -10 28 -6 10 -5 5 -5 1 -6-4 -5-8 -5-13 -21-78 -11-34 -5-11 -5-7 -5-1 -6 3 -5 7 -5 11 -21 54 -11 24 -37 65 -10 25 -21 54 -6 11 -5 7 -5 3 -5-1 -6-7 -5-11 -10-34 -21-78 -6-13 -5-9 -5-3 -6 1 -5 5 -5 10 -11 27 -26 84 -10 23 -6 6 -5 1 -5-3 -6-8 -10-27 -11-33z"/><path fill="url(#b16)" stroke="url(#b16)" d="M420 1697l3 14 10 28 5 11 6 7 5 2 5-1 5-6 11-21 26-79 11-27 5-9 5-5 6-1 5 4 5 8 5 14 21 77 11 34 5 11 5 7 6 1 5-3 5-7 6-11 21-55 10-24 37-65 11-24 21-55 5-11 5-7 5-3 6 1 5 7 5 11 11 34 21 77 5 14 5 8 6 4 5-1 5-5 5-9 11-27 26-79 11-21 5-6 5-1 6 3 5 6 5 11 11 28 8 17 5 2 -10-39 -11-31 -5-9 -5-4 -6 1 -5 7 -10 25 -27 91 -10 29 -6 10 -5 6 -5 2 -5-4 -6-8 -5-13 -26-97 -5-16 -6-11 -5-7 -5-1 -6 3 -5 7 -5 10 -21 55 -11 24 -36 65 -11 24 -21 54 -5 11 -6 7 -5 3 -5-2 -5-6 -6-12 -5-15 -26-97 -6-13 -5-9 -5-3 -5 1 -6 6 -5 11 -10 29 -27 91 -10 25 -6 7 -5 1 -5-4 -5-9 -11-32 -10-39z"/><path fill="url(#b15)" stroke="url(#b15)" d="M426 1699l2 17 10 33 6 13 5 8 5 3 5-1 6-6 10-24 26-86 11-28 5-10 6-6 5-1 5 4 5 9 6 13 21 80 10 34 5 12 6 7 5 1 5-3 6-7 5-11 21-56 10-25 37-66 11-25 21-56 5-11 5-7 6-3 5 1 5 7 5 11 11 35 21 79 5 14 6 9 5 4 5-2 5-5 6-10 10-28 26-86 11-24 5-6 6-2 5 4 5 8 5 13 11 33 8 19 5 3 -10-45 -11-37 -5-10 -5-5 -5 1 -6 7 -10 27 -26 99 -11 32 -5 11 -6 6 -5 2 -5-3 -5-8 -6-12 -26-94 -5-15 -5-11 -6-7 -5-2 -5 3 -6 7 -5 10 -21 52 -10 23 -37 62 -11 23 -21 52 -5 10 -5 6 -6 3 -5-2 -5-6 -5-11 -6-15 -26-94 -5-13 -6-8 -5-3 -5 2 -5 7 -6 11 -10 31 -26 99 -11 28 -5 7 -6 1 -5-5 -5-11 -11-36 -10-45z"/><path fill="url(#b14)" stroke="url(#b14)" d="M431 1702l2 19 11 39 5 15 5 10 5 4 6-1 5-7 10-26 27-94 10-30 6-11 5-6 5-2 5 4 6 8 5 14 26 97 5 16 6 11 5 7 5 1 5-3 6-7 5-10 21-55 11-24 36-65 11-25 21-54 5-10 6-8 5-3 5 2 5 7 6 11 5 16 26 97 6 13 5 9 5 3 5-1 6-7 5-10 10-30 27-95 10-26 5-6 6-2 5 5 5 10 6 14 10 39 8 23 6 2 -11-51 -10-41 -6-13 -5-5 -5 1 -5 7 -6 13 -5 17 -21 86 -11 39 -10 27 -5 7 -6 3 -5-2 -5-7 -11-27 -15-56 -11-32 -5-10 -6-7 -5-1 -5 2 -5 6 -6 9 -31 69 -37 57 -32 68 -5 9 -5 6 -5 3 -6-2 -5-7 -5-10 -5-15 -27-88 -5-11 -5-7 -6-3 -5 3 -5 8 -11 27 -10 38 -21 86 -6 17 -5 13 -5 7 -5 2 -6-6 -5-13 -10-41 -11-51z"/><path fill="url(#b13)" stroke="url(#b13)" d="M436 1704l2 23 11 45 5 17 5 11 6 6 5-1 5-8 11-28 26-103 10-32 6-11 5-7 5-2 6 2 5 8 5 13 26 92 6 16 5 11 5 6 5 2 6-3 5-6 5-10 32-74 37-61 31-74 6-9 5-7 5-3 5 2 6 7 5 11 10 33 16 59 11 28 5 8 5 3 6-2 5-7 10-26 32-120 10-29 6-7 5-1 5 5 6 11 5 18 10 45 9 25 5 3 -11-57 -10-46 -5-14 -6-6 -5 1 -5 8 -5 13 -6 19 -21 91 -10 41 -11 28 -5 9 -5 3 -6-1 -5-6 -5-10 -5-14 -21-66 -6-14 -5-10 -5-5 -6-2 -5 1 -5 6 -5 7 -32 60 -37 51 -31 60 -6 7 -5 6 -5 1 -5-1 -6-6 -5-10 -10-29 -16-51 -6-14 -5-10 -5-6 -5-1 -6 3 -5 9 -10 28 -11 41 -21 91 -5 19 -6 13 -5 8 -5 1 -5-6 -6-14 -10-46 -11-56z"/><path fill="url(#b12)" stroke="url(#b12)" d="M441 1707l2 25 11 51 5 20 6 13 5 6 5-1 5-8 6-13 5-18 21-89 10-39 11-28 5-8 6-3 5 2 5 6 5 12 27 86 5 14 5 10 5 6 6 2 5-2 5-6 5-8 32-66 37-56 32-65 5-9 5-6 5-2 6 2 5 6 5 11 5 14 27 86 5 11 5 7 6 1 5-3 5-8 11-27 10-40 21-89 5-18 6-13 5-8 5-1 5 6 6 14 5 19 11 51 8 29 5 2 -16-88 -5-22 -5-15 -5-8 -6 1 -5 8 -5 15 -5 19 -22 96 -10 42 -11 30 -5 9 -5 5 -5 0 -6-5 -5-9 -5-12 -21-59 -6-12 -5-9 -5-5 -5-2 -6 1 -5 4 -5 6 -32 51 -37 42 -31 50 -5 7 -6 4 -5 1 -5-2 -5-6 -11-20 -21-60 -5-12 -6-8 -5-5 -5 0 -5 5 -6 9 -10 30 -11 42 -21 96 -5 19 -5 14 -6 9 -5 0 -5-7 -5-15 -11-49 -10-61z"/><path fill="url(#b11)" stroke="url(#b11)" d="M447 1709l2 28 10 56 6 22 5 14 5 7 5-1 6-8 5-14 5-19 21-94 11-42 10-29 5-9 6-4 5 1 5 6 6 9 5 13 21 64 10 23 6 6 5 1 5-1 5-5 6-7 31-57 37-48 32-56 5-7 5-5 6-2 5 2 5 6 5 10 6 13 21 64 5 13 5 9 5 6 6 1 5-4 5-9 11-29 10-42 21-94 6-19 5-14 5-9 5 0 6 7 5 14 5 22 11 56 8 31 5 2 -15-92 -6-23 -5-16 -5-8 -5 1 -6 9 -5 15 -37 161 -10 31 -6 10 -5 5 -5 1 -5-3 -6-7 -10-22 -16-39 -11-18 -5-5 -5-3 -5 1 -6 3 -5 5 -31 39 -37 34 -32 40 -5 4 -5 4 -6 0 -5-2 -5-5 -5-8 -11-23 -16-38 -5-11 -5-6 -6-4 -5 1 -5 6 -5 10 -11 31 -10 43 -22 98 -5 20 -5 15 -5 8 -6 1 -5-8 -5-15 -11-52 -10-64z"/><path fill="url(#b10)" stroke="url(#b10)" d="M452 1711l2 31 10 60 6 22 5 16 5 8 6-1 5-8 5-15 37-161 10-31 6-9 5-5 5 0 6 4 5 8 31 78 6 9 5 5 5 2 5-1 6-3 5-6 32-46 36-40 32-46 5-6 6-4 5-1 5 2 5 6 11 20 21 56 5 11 5 8 6 4 5 0 5-5 6-10 10-30 11-43 21-98 5-20 5-15 5-8 6-1 5 8 5 15 5 23 11 60 8 33 6 3 -11-65 -10-52 -6-16 -5-8 -5 1 -5 9 -6 15 -5 20 -21 99 -11 43 -10 32 -5 10 -6 6 -5 3 -5-2 -5-5 -6-8 -26-52 -5-7 -6-5 -5-2 -5 0 -11 6 -31 28 -37 23 -32 29 -10 5 -5 0 -6-2 -5-4 -5-7 -27-52 -5-8 -5-5 -5-2 -6 2 -5 6 -5 11 -11 31 -37 163 -5 15 -5 8 -5 1 -6-8 -5-16 -5-23 -16-93z"/><path fill="url(#b9)" stroke="url(#b9)" d="M457 1714l2 31 11 62 5 24 5 16 6 8 5-1 5-8 5-16 37-163 11-32 5-10 5-6 5-1 6 2 5 7 5 9 21 48 6 10 5 7 5 5 5 2 6 0 5-3 5-4 32-35 37-31 31-35 5-5 6-2 5-1 5 3 6 4 10 18 16 36 10 21 6 6 5 3 5-2 5-6 6-10 10-31 11-44 21-100 5-20 5-15 6-9 5 0 5 8 5 16 6 23 10 62 9 35 5 2 -11-63 -10-51 -5-15 -6-8 -5 1 -5 9 -5 15 -6 20 -26 120 -11 38 -10 25 -5 7 -6 3 -5 0 -5-4 -11-14 -21-34 -10-10 -6-2 -5-1 -10 3 -32 17 -37 12 -31 17 -11 3 -5-1 -5-2 -6-4 -10-13 -21-35 -6-6 -5-4 -5 0 -5 3 -6 8 -10 25 -11 37 -21 97 -10 43 -6 15 -5 9 -5 1 -5-8 -6-15 -5-23 -16-91z"/><path fill="url(#b8)" stroke="url(#b8)" d="M462 1716l2 31 11 62 5 24 5 16 6 8 5-1 5-9 6-15 36-164 11-31 5-11 5-7 6-2 5 1 5 4 6 8 26 47 5 7 5 4 6 2 5 1 10-5 32-24 37-19 31-24 11-4 5 0 6 2 5 5 5 6 26 48 6 7 5 4 5 2 5-3 6-7 5-10 11-32 10-44 21-99 5-21 6-15 5-9 5 0 5 7 6 17 5 23 10 62 9 34 5 2 -10-59 -11-47 -5-15 -5-6 -6 1 -5 8 -11 34 -26 116 -10 37 -11 25 -5 8 -5 4 -6 2 -5-2 -5-4 -27-33 -10-9 -5-2 -11-1 -37 6 -37-1 -31 5 -11 1 -10-4 -11-8 -26-33 -5-4 -6-2 -5 1 -5 5 -5 8 -11 25 -11 37 -21 94 -10 41 -5 15 -6 8 -5 1 -5-6 -5-15 -6-21 -15-86z"/><path fill="url(#b7)" stroke="url(#b7)" d="M468 1718l2 31 10 59 5 22 6 16 5 7 5-1 6-9 5-15 10-43 21-96 11-38 10-26 6-7 5-4 5-1 5 3 6 5 21 31 10 13 6 3 10 4 11-2 31-12 37-6 32-12 10-2 5 1 6 3 10 9 27 38 5 5 5 3 5-1 6-4 5-7 10-25 11-38 26-120 6-20 5-15 5-9 5-1 6 7 5 16 5 22 11 59 8 33 5 3 -15-77 -6-19 -5-13 -5-6 -5 2 -6 8 -5 14 -11 38 -21 89 -10 35 -11 26 -5 8 -5 5 -5 3 -6 0 -5-3 -26-24 -6-4 -10-5 -11-3 -31-4 -48-16 -31-4 -11-3 -10-5 -6-4 -26-25 -5-2 -5 0 -6 2 -5 6 -5 8 -5 11 -11 31 -32 128 -5 18 -5 14 -5 8 -6 1 -5-5 -5-13 -5-19 -16-77z"/><path fill="url(#b6)" stroke="url(#b6)" d="M473 1721l2 28 10 54 6 21 5 13 5 7 5-1 6-9 5-14 11-41 21-93 10-37 11-26 5-8 5-5 5-2 6 0 5 4 26 28 6 5 10 6 11 2 26-1 10 1 43 9 31 0 11 2 10 6 6 5 26 28 5 3 5 1 6-2 5-5 5-8 11-26 10-37 27-115 10-33 5-9 6-1 5 6 5 14 5 21 11 54 8 31 6 2 -11-46 -10-36 -6-11 -5-5 -5 2 -6 8 -10 28 -26 100 -16 46 -11 20 -5 5 -5 4 -6 1 -5-1 -5-2 -21-15 -11-6 -31-10 -16-6 -37-22 -16-8 -42-14 -10-6 -21-14 -6-3 -5 0 -5 1 -5 3 -6 6 -10 19 -16 47 -21 80 -11 35 -5 13 -5 7 -5 2 -6-4 -5-11 -5-16 -16-67z"/><path fill="url(#b5)" stroke="url(#b5)" d="M478 1723l2 24 11 48 5 18 5 12 5 6 6-2 5-8 5-13 11-38 21-87 10-35 6-15 10-20 5-6 6-3 5-1 5 2 5 3 22 17 10 7 11 4 26 7 10 4 37 20 16 8 37 10 16 9 21 18 5 3 5 1 6-1 5-3 5-6 11-20 5-14 10-36 22-86 10-38 5-13 6-8 5-2 5 5 5 12 6 18 10 48 9 27 5 3 -16-55 -5-13 -5-9 -6-3 -5 2 -5 7 -6 11 -10 30 -21 70 -16 41 -10 19 -6 5 -5 4 -5 2 -11-1 -31-15 -32-10 -21-11 -37-25 -16-8 -37-13 -31-15 -11-1 -5 2 -5 4 -5 6 -11 18 -16 41 -26 87 -11 25 -5 6 -5 2 -5-3 -6-9 -10-30 -11-37z"/><path fill="url(#b4)" stroke="url(#b4)" d="M483 1726l2 20 11 40 5 15 5 10 6 4 5-2 5-7 5-12 11-34 21-77 16-46 10-20 6-6 5-4 5-2 5 1 6 1 31 18 27 9 15 8 16 10 32 24 16 9 36 15 32 17 5 2 6 0 5-2 5-4 5-6 11-19 16-46 21-78 10-33 6-12 5-8 5-2 5 4 6 10 5 15 10 41 9 23 5 2 -16-42 -5-10 -5-6 -6-3 -5 2 -5 6 -5 9 -11 25 -21 57 -16 35 -10 15 -11 9 -5 2 -11 0 -63-18 -21-9 -37-20 -15-7 -64-19 -10-1 -11 2 -5 4 -5 5 -11 15 -16 35 -26 71 -10 20 -6 6 -5 2 -5-2 -5-7 -11-23 -11-29z"/><path fill="url(#b3)" stroke="url(#b3)" d="M488 1728l3 16 10 32 5 12 6 8 5 2 5-2 5-6 11-23 26-81 16-40 11-17 5-6 5-4 5-2 6 0 10 2 63 24 16 9 37 25 21 12 63 23 11 0 5-2 5-4 6-6 10-17 16-40 21-65 11-29 5-10 5-6 5-2 6 3 5 7 5 12 11 32 8 19 5 2 -15-29 -6-7 -5-5 -5-1 -6 2 -5 4 -5 7 -11 19 -21 44 -15 26 -11 12 -11 7 -5 2 -10 1 -32-6 -32-3 -21-5 -36-11 -16-4 -42-5 -21-4 -11-1 -10 3 -6 2 -5 4 -11 13 -15 26 -27 54 -10 16 -5 4 -6 2 -5-1 -5-5 -11-16 -10-21z"/><path fill="url(#b2)" stroke="url(#b2)" d="M494 1730l2 12 10 24 6 9 5 5 5 2 5-2 6-5 10-19 27-64 15-31 11-14 5-5 5-3 11-3 10 1 64 15 15 6 43 20 21 6 58 13 10 0 5-2 11-8 10-14 16-32 21-51 11-23 5-8 5-5 6-2 5 2 5 5 5 9 11 24 8 14 6 3 -16-18 -6-4 -5-3 -5 0 -5 1 -11 9 -10 13 -21 30 -16 18 -11 9 -10 5 -16 2 -32-1 -47 2 -53-2 -42 1 -31-1 -11 1 -11 4 -5 3 -10 8 -16 19 -26 37 -11 11 -5 3 -5 2 -6-1 -5-2 -11-10 -10-12z"/><path fill="url(#b1)" stroke="url(#b1)" d="M499 1733l2 7 11 16 5 6 5 3 5 1 6-1 5-4 10-14 27-46 16-23 10-11 5-3 11-4 10-1 32 4 37 2 63 9 42 2 32 3 10 0 6-2 10-6 11-10 15-23 21-38 11-16 5-6 6-4 5-2 5 1 5 4 25 32 5 2 -21-8 -11 0 -5 1 -16 10 -26 21 -16 11 -11 5 -15 5 -48 6 -131 22 -42 5 -11 3 -11 3 -10 6 -16 11 -31 25 -11 5 -5 1 -6 1 -10-2 -16-7z"/><path fill="url(#b0)" stroke="url(#b0)" d="M504 1735l8 8 10 7 5 2 6 0 5-2 5-2 11-10 26-29 16-15 10-7 16-6 48-2 131-15 42-1 11-2 10-4 11-7 16-15 31-35 11-7 5-1 5 0 6 1 5 3 19 15 5 3 -469 124z"/></g><line x1="254.7" y1="975.0" x2="489.0" y2="913.0" stroke="#555" stroke-width="1.20"/><line x1="254.7" y1="975.0" x2="74.1" y2="892.5" stroke="#555" stroke-width="1.20"/><line x1="74.1" y1="892.5" x2="74.1" y2="711.3" stroke="#555" stroke-width="1.20"/><line x1="302.9" y1="962.2" x2="307.5" y2="964.3" stroke="#555" stroke-width="1.00"/><line x1="217.5" y1="958.0" x2="212.8" y2="959.3" stroke="#555" stroke-width="1.00"/><line x1="371.9" y1="944.0" x2="376.4" y2="946.1" stroke="#555" stroke-width="1.00"/><line x1="164.4" y1="933.8" x2="159.7" y2="935.0" stroke="#555" stroke-width="1.00"/><line x1="440.8" y1="925.8" x2="445.3" y2="927.8" stroke="#555" stroke-width="1.00"/><line x1="111.3" y1="909.5" x2="106.6" y2="910.7" stroke="#555" stroke-width="1.00"/><line x1="74.1" y1="892.5" x2="69.6" y2="894.0" stroke="#555" stroke-width="1.00"/><line x1="74.1" y1="857.1" x2="69.6" y2="858.6" stroke="#555" stroke-width="1.00"/><line x1="74.1" y1="821.7" x2="69.6" y2="823.2" stroke="#555" stroke-width="1.00"/><line x1="74.1" y1="786.3" x2="69.6" y2="787.8" stroke="#555" stroke-width="1.00"/><line x1="74.1" y1="750.9" x2="69.6" y2="752.4" stroke="#555" stroke-width="1.00"/><line x1="74.1" y1="715.5" x2="69.6" y2="717.0" stroke="#555" stroke-width="1.00"/><g fill="#2a2a2a"><text transform="translate(83.00 926.37) scale(0.8933 1)" font-size="13.43" font-weight="bold">500</text><text transform="translate(149.00 950.41) scale(0.8933 1)" font-size="8.96" font-weight="bold">0</text><text transform="translate(187.00 976.06) scale(0.8811 1)" font-size="13.58" font-weight="bold">-500</text><text transform="translate(311.50 982.35) scale(0.8055 1)" font-size="14.93" font-weight="bold">-500</text><text transform="translate(381.10 961.90) scale(1.0444 1)" font-size="10.15" font-weight="bold">0</text><text transform="translate(450.50 944.68) scale(0.9579 1)" font-size="12.39" font-weight="bold">500</text><text transform="translate(60.70 717.50) scale(1.0686 1)" font-size="9.55" font-weight="bold">2</text><text transform="translate(60.70 754.10) scale(1.0524 1)" font-size="9.69" font-weight="bold">1</text><text transform="translate(60.70 788.72) scale(1.2204 1)" font-size="8.36" font-weight="bold">0</text><text transform="translate(57.10 823.60) scale(1.0815 1)" font-size="9.69" font-weight="bold">-1</text><text transform="translate(57.10 859.00) scale(1.0981 1)" font-size="9.55" font-weight="bold">-2</text><text transform="translate(57.10 894.31) scale(1.1147 1)" font-size="9.40" font-weight="bold">-3</text></g>
<line x1="123.9" y1="1437.8" x2="123.9" y2="1258.3" stroke="#dedede" stroke-width="1.00"/><line x1="192.8" y1="1419.6" x2="192.8" y2="1240.1" stroke="#dedede" stroke-width="1.00"/><line x1="261.7" y1="1401.4" x2="261.7" y2="1222.0" stroke="#dedede" stroke-width="1.00"/><line x1="75.6" y1="1430.1" x2="310.0" y2="1368.3" stroke="#dedede" stroke-width="1.00"/><line x1="75.6" y1="1392.1" x2="310.0" y2="1330.3" stroke="#dedede" stroke-width="1.00"/><line x1="75.6" y1="1354.0" x2="310.0" y2="1292.2" stroke="#dedede" stroke-width="1.00"/><line x1="75.6" y1="1316.0" x2="310.0" y2="1254.2" stroke="#dedede" stroke-width="1.00"/><line x1="75.6" y1="1277.9" x2="310.0" y2="1216.1" stroke="#dedede" stroke-width="1.00"/><line x1="452.9" y1="1454.3" x2="452.9" y2="1274.8" stroke="#dedede" stroke-width="1.00"/><line x1="400.0" y1="1430.0" x2="400.0" y2="1250.5" stroke="#dedede" stroke-width="1.00"/><line x1="347.1" y1="1405.7" x2="347.1" y2="1226.3" stroke="#dedede" stroke-width="1.00"/><line x1="490.0" y1="1450.9" x2="310.0" y2="1368.3" stroke="#dedede" stroke-width="1.00"/><line x1="490.0" y1="1412.9" x2="310.0" y2="1330.3" stroke="#dedede" stroke-width="1.00"/><line x1="490.0" y1="1374.8" x2="310.0" y2="1292.2" stroke="#dedede" stroke-width="1.00"/><line x1="490.0" y1="1336.8" x2="310.0" y2="1254.2" stroke="#dedede" stroke-width="1.00"/><line x1="490.0" y1="1298.7" x2="310.0" y2="1216.1" stroke="#dedede" stroke-width="1.00"/><line x1="303.9" y1="1520.4" x2="123.9" y2="1437.8" stroke="#dedede" stroke-width="1.00"/><line x1="218.5" y1="1516.1" x2="452.9" y2="1454.3" stroke="#dedede" stroke-width="1.00"/><line x1="372.8" y1="1502.2" x2="192.8" y2="1419.6" stroke="#dedede" stroke-width="1.00"/><line x1="165.6" y1="1491.8" x2="400.0" y2="1430.0" stroke="#dedede" stroke-width="1.00"/><line x1="441.7" y1="1484.0" x2="261.7" y2="1401.4" stroke="#dedede" stroke-width="1.00"/><line x1="112.7" y1="1467.5" x2="347.1" y2="1405.7" stroke="#dedede" stroke-width="1.00"/><g fill="none" stroke-width="1.80" opacity=".85" transform="scale(.5)"><path stroke="#4339cf" d="M877 2929l5 1 1 2 -7-3 1 0M625 2813l4 1 1 2 -8-3 3 0"/><path stroke="#464dee" d="M852 2916l18 3 19 7 15 8 3 3 0 3 -7 2 -9-1 -10-2 -12-5 -12-6 -8-6 -2-3 0-2 5-1M609 2803l14 2 18 7 13 9 4 3 1 2 -1 1 -4 2 -11-2 -14-4 -16-6 -9-5 -4-5 0-1 1-2 8-1"/><path stroke="#4165fa" d="M832 2907l10 1 14 3 35 12 20 10 6 5 1 4 -2 2 -4 1 -14 1 -14-3 -18-6 -21-10 -13-9 -4-4 -2-4 3-3 3 0M600 2798l9 1 11 2 14 4 13 6 13 7 12 8 6 7 1 2 0 2 -2 1 -7 0 -19-4 -22-7 -21-8 -13-8 -6-6 0-3 3-2 8-2"/><path stroke="#377cf8" d="M793 2890l8 1 39 11 50 17 17 8 13 7 7 6 1 2 -1 2 -2 2 -6 3 -16 1 -18-3 -22-8 -23-10 -19-12 -11-8 -16-14 -2-3 -1-2 2 0M592 2795l12 0 12 2 17 4 17 8 18 9 18 11 24 19 6 6 -2 1 -5-1 -51-13 -29-10 -25-10 -16-9 -8-7 -1-4 2-2 11-4"/><path stroke="#2a92ed" d="M587 2793l14-2 14 2 15 4 18 7 28 14 53 30 40 20 43 18 72 27 30 13 18 11 4 4 0 4 -4 3 -8 3 -11 2 -12 0 -21-4 -27-10 -32-16 -47-28 -34-17 -45-20 -76-27 -34-16 -12-7 -2-3 -1-3 1-2 3-3 13-4M675 2998l5 1 1 2 -3 2 -5 1 -5 0 -4-2 0-1 2-2 9-1M572 2946l15 2 5 3 1 1 0 2 -5 2 -10 0 -11-3 -5-3 0-2 1-1 9-1M481 2904l8 0 7 3 5 3 1 2 -1 1 -3 2 -6 1 -12-2 -4-3 -1-3 2-2 4-2M374 2862l8 0 2 2 -4 3 -5 0 -6 0 -4-2 1-1 3-1 5-1"/><path stroke="#18a5de" d="M593 2788l12 0 14 2 14 4 21 8 27 13 56 30 43 20 44 19 70 29 28 12 21 12 4 4 0 4 -4 3 -10 4 -14 3 -12 2 -17-1 -22-6 -30-13 -74-39 -45-21 -35-16 -98-39 -19-11 -8-7 0-4 6-4 12-4 16-4M665 2988l14 0 15 4 9 5 2 2 0 3 -5 4 -13 5 -67 13 -11 1 -10-2 -9-3 -5-3 0-2 2-1 4-1 26-4 12-3 24-14 12-4M722 2935l16-1 15 3 9 4 2 4 0 2 -3 4 -6 2 -8 2 -10 1 -12-1 -8-2 -8-3 -4-3 -1-4 3-3 5-3 10-2M474 2896l17 2 18 5 9 6 17 11 11 6 18 7 29 10 11 5 9 5 2 4 -1 2 -5 2 -9 1 -43-1 -16 2 -13 4 -20 9 -12 1 -14-3 -14-5 -11-6 -3-3 -1-2 6-1 36 1 12-1 11-2 8-3 5-6 1-6 -1-3 -2-2 -9-4 -15-3 -20-1 -20 1 -9 2 -9 5 -6 6 -2 7 -1 1 -3 1 -12-3 -12-5 -12-6 -6-5 1-2 6-3 34-4 14-4 6-4 5-10 4-5 5-2 6-1M643 2899l4 1 1 1 1 1 -3 1 -4 1 -3-1 -2-2 2-1 4-1M538 2849l15 0 14 2 9 5 1 2 0 3 -2 3 -5 3 -10 2 -10 1 -10-1 -12-2 -7-3 -4-3 0-4 4-4 8-3 9-1M369 2854l16 0 14 3 10 5 3 3 1 3 -3 3 -9 2 -54 5 -9 3 -15 7 -7 2 -8 0 -7-2 -7-4 -2-3 0-2 3-2 7-4 48-15 19-4"/><path stroke="#0ab6cd" d="M239 2878l-73 19 -9 3 -1 2 5 3 27 13 319 145 5 2 11-2 68-18 7-3 -9-5 -29-15 -52-20 -145-68 -32-14 -46-24 -36-15 -10-3M530 2802l-13 3 -102 27 -21 5 -5 3 4 2 24 11 302 139 25 11 4 0 15-3 111-30 13-4 -5-3 -43-19 -37-20 -32-14 -71-33 -45-20 -29-14 -48-19 -41-19 -6-3M562 2969l-12 2 -11 6 -5 6 0 3 1 3 8 6 14 4 16 3 17 0 16-1 14-4 9-5 3-3 1-3 0-4 -4-4 -6-4 -9-3 -27-3 -25 1M717 2928l26 0 21 2 9 3 8 5 4 4 0 4 -4 6 -8 5 -11 3 -18 2 -17 0 -17-2 -14-4 -7-5 -2-3 0-4 1-4 3-4 5-3 6-2 15-3M478 2934l-7 1 -6 3 -3 3 0 3 4 3 6 3 18 1 10 0 7-2 5-3 2-3 0-2 -1-2 -9-4 -13-2 -13 1M635 2892l13 0 11 2 9 4 2 2 0 2 -3 4 -6 2 -16 3 -18-2 -6-2 -4-3 0-4 3-3 6-3 9-2M372 2883l-14 4 -8 5 -3 6 0 3 1 3 9 5 14 5 17 2 18 0 15-2 12-3 8-5 3-6 0-6 -4-4 -7-3 -10-3 -12-2 -13-1 -26 2M525 2843l25-1 25 2 9 3 9 4 4 4 1 5 -4 6 -8 5 -11 3 -15 2 -19-1 -21-2 -12-3 -9-6 -1-3 -1-3 1-3 3-3 10-6 14-3"/><path stroke="#2cc4a5" d="M215 2888l-15 3 -10 4 -5 3 -1 3 2 4 6 4 19 10 28 12 65 26 46 21 44 21 58 30 27 13 26 10 11 3 10 1 13-1 15-3 13-5 5-4 0-3 -4-5 -20-11 -24-11 -79-31 -41-18 -37-18 -64-34 -22-11 -20-8 -17-5 -14-1 -15 1M736 2970l-8 1 -7 3 -2 2 1 2 5 6 10 4 12 2 13 0 21-4 47-16 8-3 2-4 -2-3 -5-3 -7-2 -8-1 -7 2 -15 7 -9 2 -49 5M569 2975l-9 3 -5 3 -1 3 2 4 6 3 7 2 10 2 11 0 16-3 5-2 3-4 -1-3 -3-3 -10-4 -15-2 -16 1M525 2882l-7 2 -1 3 3 4 7 5 11 5 44 15 14 6 25 17 12 5 13 3 12 1 9-3 5-4 5-12 2-2 6-3 12-3 34-4 4-2 2-2 -4-5 -11-6 -12-4 -12-3 -4 1 -5 9 -6 5 -7 4 -10 2 -20 1 -21-1 -16-4 -8-4 -3-5 1-6 5-5 7-3 19-3 17-1 24 1 5-1 -1-3 -3-2 -10-5 -14-6 -10-2 -9 0 -5 1 -22 10 -14 4 -14 0 -36-1 -13 1M486 2941l-2 0 -1 2 7 1 3-2 -2-1 -5 0M387 2888l-10 2 -6 3 -4 3 1 4 3 3 7 4 12 2 9 0 10 0 10-3 5-2 3-4 -1-2 -2-3 -10-5 -12-2 -15 0M462 2829l-17 4 -11 4 -6 4 -1 3 1 2 4 3 10 4 15 3 10-1 11-3 20-13 6-2 10-3 25-3 4-2 1-2 -2-3 -8-3 -16-2 -12 1 -44 9"/><path stroke="#69ca6e" d="M210 2892l-11 4 -3 2 -1 3 1 3 3 3 12 7 29 13 76 29 47 20 38 19 56 32 28 13 23 9 21 3 10 0 10-2 8-3 4-4 -1-4 -4-4 -20-12 -36-15 -66-23 -39-17 -38-19 -47-28 -32-17 -20-8 -18-4 -15-1 -15 1M757 2976l-6 1 -3 2 2 2 7 1 5-1 3-3 -4-1 -4-1M637 2928l-5 1 -2 3 1 2 4 3 11 2 6 0 3-2 1-2 -1-2 -5-3 -4-1 -9-1M545 2888l-5 1 -1 1 0 2 6 3 10 2 8 0 4-1 1-1 -1-3 -6-2 -8-2 -8 0M456 2840l-4 2 -1 1 1 1 8 1 4-1 3-3 -4-1 -7 0"/><path stroke="#b1c43f" d="M419 2990l-2 1 5 5 26 20 23 14 23 11 18 5 17 3 15-2 6-2 2-3 0-2 -3-3 -7-6 -13-7 -19-9 -39-13 -41-10 -11-2M213 2895l-8 4 -1 2 1 3 8 7 15 8 23 9 28 10 41 12 15 3 3 0 0-2 -6-6 -19-16 -15-10 -19-10 -21-9 -17-4 -16-2 -12 1"/><path stroke="#e7c32b" d="M455 3006l-2 1 0 2 0 2 9 8 16 10 18 9 15 5 14 2 10 0 4-2 3-2 -1-4 -5-5 -11-6 -14-7 -31-10 -13-2 -12-1M222 2898l-5 1 -3 2 -1 2 1 2 7 6 16 8 22 8 23 7 17 2 3 0 2-2 -1-4 -7-7 -12-7 -14-7 -25-9 -12-2 -11 0"/><path stroke="#fcd72b" d="M475 3016l-2 0 0 2 5 6 9 6 12 5 11 4 9 2 10-1 2-2 -1-3 -5-4 -15-8 -22-7 -13 0M231 2902l-5 1 -2 1 1 2 4 5 10 5 13 5 16 5 11 1 4-1 1-2 -1-2 -3-3 -16-9 -17-6 -16-2"/></g>
<g stroke-width="1.4" stroke-linejoin="round" transform="scale(.5)"><path fill="url(#c68)" stroke="url(#c68)" d="M151 2708l469-124 5 3 -10 7 -6 5 -21 28 -5 4 -5 3 -5-1 -6-2 -21-15 -10-5 -16-3 -21 1 -69 18 -21 9 -31 22 -21 11 -21 6 -53 13 -21 1 -16-3 -11-4 -21-16 -5-2 -5 0 -5 2 -6 4 -21 28 -5 5 -11 7z"/><path fill="url(#c67)" stroke="url(#c67)" d="M156 2710l3-3 10-6 21-16 11-5 10 0 21 4 16 1 16-1 21-4 68-19 16-5 32-15 16-6 37-11 36-10 21-4 16-1 16 1 21 5 11-1 10-4 27-20 5-2 8-1 5 2 -5 4 -5 7 -5 9 -21 47 -6 7 -5 3 -5-2 -6-6 -21-33 -10-11 -5-4 -11-5 -10-2 -11 0 -58 12 -16 6 -16 11 -36 38 -11 8 -10 6 -11 3 -47 10 -11 2 -10 0 -16-4 -11-7 -10-11 -21-33 -6-6 -5-2 -5 3 -5 7 -22 47 -5 9 -5 7 -5 4z"/><path fill="url(#c66)" stroke="url(#c66)" d="M162 2713l2-5 10-13 21-37 6-5 5-3 5 1 5 4 22 24 10 8 16 6 10 1 11 0 42-10 32-11 15-8 32-27 16-10 26-10 48-12 10-1 11 0 10 3 11 4 10 8 21 24 6 4 5 1 5-2 5-6 22-37 5-7 5-6 8-2 6 3 -6 5 -5 8 -5 12 -21 64 -5 9 -6 3 -5-3 -5-8 -21-48 -11-17 -10-10 -6-3 -10-3 -16-1 -26 6 -27 1 -10 3 -6 3 -10 10 -11 12 -31 43 -16 16 -11 5 -26 1 -37 7 -10-1 -11-3 -10-8 -6-5 -10-17 -21-48 -5-8 -6-3 -5 3 -5 9 -21 63 -6 12 -5 9 -5 5z"/><path fill="url(#c65)" stroke="url(#c65)" d="M167 2715l2-6 5-7 6-11 21-55 5-8 5-3 5 2 6 7 21 41 10 14 6 4 10 7 11 3 10 0 58-11 11-3 10-7 11-9 37-42 15-13 16-6 58-11 11 0 10 3 11 7 5 4 11 14 21 41 5 7 5 2 5-3 6-8 21-55 5-11 5-7 9-3 5 2 -5 6 -6 11 -5 14 -21 77 -5 11 -6 4 -5-4 -5-10 -21-62 -11-20 -10-13 -5-4 -11-5 -5-1 -11 1 -26 5 -11-1 -15-4 -6 0 -5 2 -5 4 -11 12 -42 69 -11 15 -5 6 -5 4 -5 2 -6 0 -15-4 -11-1 -32 5 -10-1 -11-4 -10-10 -5-7 -11-21 -21-61 -5-10 -6-4 -5 3 -5 12 -21 77 -5 14 -6 10 -5 7z"/><path fill="url(#c64)" stroke="url(#c64)" d="M172 2718l2-8 5-9 6-13 21-70 5-11 5-3 6 3 5 10 21 54 10 19 6 7 10 8 11 4 10 2 37-6 21 1 6 0 10-6 16-18 42-62 11-11 5-4 10-2 16 1 11 0 31-6 11 1 10 5 6 3 10 12 11 18 21 55 5 10 5 3 6-3 5-11 21-70 5-13 5-10 9-4 5 2 -5 8 -5 11 -6 17 -21 88 -5 13 -5 4 -6-5 -5-12 -16-55 -10-30 -11-19 -5-7 -11-7 -5-3 -10-1 -32 6 -10-3 -16-8 -6-1 -5 2 -5 4 -11 15 -42 80 -10 19 -6 6 -5 5 -5 1 -5-1 -16-8 -11-2 -26 5 -11 0 -10-3 -11-8 -10-15 -5-10 -11-30 -16-55 -5-13 -5-5 -6 5 -5 13 -21 88 -5 16 -5 12 -6 7z"/><path fill="url(#c63)" stroke="url(#c63)" d="M177 2720l2-8 6-11 5-16 21-82 5-13 6-4 5 5 5 11 21 67 11 23 10 13 6 5 10 5 5 1 11 0 26-4 11 1 16 7 5 1 5-2 5-4 11-15 42-77 11-18 5-6 5-4 5-2 6 0 15 7 11 2 26-4 11 0 10 3 11 7 10 14 6 10 10 28 16 51 5 12 6 4 5-4 5-12 21-83 5-15 6-11 8-6 5 3 -5 8 -5 12 -5 18 -22 98 -5 14 -5 4 -5-5 -6-14 -15-61 -11-34 -5-12 -11-16 -10-8 -11-3 -10 1 -21 5 -11-1 -5-2 -16-10 -5-2 -6 1 -5 5 -5 7 -11 19 -42 85 -10 17 -6 4 -5 1 -5-1 -16-11 -10-3 -6 0 -26 6 -11-1 -5-2 -10-8 -6-7 -10-21 -11-33 -16-62 -5-14 -5-5 -5 4 -6 15 -21 97 -5 18 -5 13 -5 7z"/><path fill="url(#c62)" stroke="url(#c62)" d="M183 2722l2-9 5-12 5-17 21-93 6-14 5-4 5 5 5 13 16 59 11 32 5 11 10 15 11 9 11 3 10 0 21-4 11 0 5 3 16 11 5 1 5-1 6-5 5-8 52-106 11-18 5-4 6-2 5 2 16 11 10 3 32-5 10 1 6 3 10 8 5 7 11 20 10 32 16 58 5 13 6 6 5-5 5-13 21-94 6-17 5-12 8-6 6 2 -6 8 -5 14 -5 19 -21 104 -6 15 -5 5 -5-6 -5-14 -21-87 -11-29 -11-17 -5-5 -10-5 -11 0 -21 7 -11 2 -10-3 -16-10 -5-1 -5 0 -6 4 -5 6 -10 18 -43 83 -10 15 -5 4 -6 0 -5-1 -16-10 -10-3 -11 2 -21 7 -10 0 -6-2 -10-8 -5-8 -11-22 -11-36 -15-67 -6-14 -5-6 -5 5 -5 15 -21 104 -6 19 -5 14 -5 8z"/><path fill="url(#c61)" stroke="url(#c61)" d="M188 2725l2-10 5-13 5-19 21-101 6-15 5-4 5 5 6 15 15 64 11 35 10 22 6 7 10 9 5 2 11 1 21-5 11-1 10 3 16 11 5 2 5-2 6-4 10-17 42-87 11-20 5-7 5-4 6-1 5 1 16 11 5 3 11 0 21-5 10-1 11 3 10 9 11 17 5 12 11 35 15 64 6 15 5 5 5-4 6-15 21-101 5-19 5-13 9-7 5 3 -6 8 -5 14 -5 20 -21 109 -5 16 -6 5 -5-6 -5-15 -21-91 -11-31 -5-10 -5-7 -6-5 -5-3 -5-1 -11 1 -21 9 -10 3 -11-2 -16-7 -5-2 -5 1 -5 2 -6 5 -10 14 -32 59 -10 17 -11 12 -5 2 -5 1 -6-2 -16-8 -5-1 -10 1 -21 9 -11 3 -10-1 -6-3 -5-5 -5-7 -11-24 -10-38 -16-70 -5-15 -6-6 -5 5 -5 16 -21 108 -6 21 -5 14 -5 8z"/><path fill="url(#c60)" stroke="url(#c60)" d="M193 2727l2-10 5-13 6-20 21-107 5-16 5-5 5 6 6 15 16 69 10 37 11 23 5 8 10 8 6 2 10 0 21-7 11-2 10 1 16 9 5 2 6-1 5-3 11-14 42-81 10-17 5-6 6-3 5-1 5 2 16 8 11 2 10-2 21-7 11 0 10 5 6 5 10 18 11 30 21 89 5 15 5 6 5-5 6-16 21-107 5-20 5-13 9-7 5 2 -5 9 -6 14 -5 21 -21 111 -5 16 -5 6 -6-6 -5-16 -16-71 -10-40 -6-14 -5-11 -5-7 -5-4 -6-2 -5-1 -10 3 -22 12 -10 4 -11 0 -21-8 -5 0 -5 1 -5 3 -6 5 -10 14 -21 37 -11 16 -10 11 -6 3 -5 2 -5-1 -21-8 -11 0 -10 4 -16 10 -11 5 -10 0 -5-2 -6-5 -5-7 -5-10 -6-14 -10-40 -16-72 -5-15 -5-6 -6 5 -5 17 -21 111 -5 21 -6 14 -5 9z"/><path fill="url(#c59)" stroke="url(#c59)" d="M198 2730l13-45 21-111 5-16 5-6 6 6 5 16 16 71 10 39 11 25 5 7 5 5 6 2 10 2 11-4 21-10 10-1 6 0 21 8 5 0 5-3 5-3 11-13 37-65 10-13 6-4 5-2 5 0 21 7 11 1 10-4 21-10 11-1 5 1 5 3 6 5 5 7 5 10 11 32 21 93 5 15 5 6 6-5 5-16 21-111 5-20 6-15 8-7 5 2 -5 9 -5 15 -6 20 -21 113 -5 16 -5 6 -6-6 -5-15 -16-73 -10-41 -5-14 -6-11 -5-7 -5-3 -5-1 -11 2 -11 7 -15 13 -11 5 -10 0 -27-10 -5 0 -5 2 -6 3 -10 11 -26 42 -11 11 -5 4 -5 1 -6 0 -26-10 -11 1 -10 5 -16 12 -10 7 -11 2 -5 0 -6-4 -5-6 -5-11 -5-15 -11-41 -16-72 -5-16 -5-5 -5 5 -6 17 -21 112 -5 21 -5 14 -6 9z"/><path fill="url(#c58)" stroke="url(#c58)" d="M203 2732l13-46 21-112 5-17 6-5 5 6 5 15 16 73 11 40 5 15 5 10 5 7 6 4 5 2 5 0 11-3 21-13 10-5 11 0 21 6 5 1 5-1 6-2 10-9 11-15 21-36 10-13 6-4 5-2 5-1 5 1 21 7 11-1 11-4 15-11 11-5 10-1 6 2 5 4 5 7 5 11 6 14 10 41 16 72 5 16 6 6 5-6 5-16 21-113 6-21 5-14 8-8 5 3 -5 9 -5 14 -5 21 -21 111 -6 17 -5 5 -5-5 -6-15 -15-72 -11-42 -5-15 -5-11 -6-6 -5-2 -5 0 -11 6 -26 24 -11 7 -5 1 -5-1 -5-2 -22-12 -5-1 -5 0 -5 2 -11 9 -26 39 -11 9 -5 2 -5 0 -6-1 -21-12 -5-2 -5 0 -5 1 -11 6 -26 25 -11 5 -5 1 -5-2 -6-7 -5-11 -5-15 -11-42 -15-72 -6-15 -5-5 -5 5 -6 17 -21 112 -5 20 -5 15 -5 8z"/><path fill="url(#c57)" stroke="url(#c57)" d="M209 2734l12-45 21-113 6-17 5-5 5 5 5 16 16 72 11 42 5 15 5 11 6 6 5 3 5 1 11-4 10-7 16-14 10-6 11 0 26 10 6 1 5-1 5-2 11-11 26-40 11-10 5-3 5-1 5 1 21 9 11 2 5-1 11-6 16-13 10-8 11-3 5 0 5 3 5 7 6 10 5 15 11 42 15 73 6 15 5 6 5-6 5-17 21-112 6-21 5-15 8-7 6 2 -6 9 -5 14 -5 20 -21 110 -6 16 -5 6 -5-5 -5-14 -27-114 -5-16 -5-11 -5-6 -6 0 -10 7 -11 10 -21 25 -10 7 -6 1 -5-1 -10-6 -16-12 -6-3 -5-1 -5 1 -5 2 -6 5 -26 36 -5 5 -5 2 -6 1 -5-1 -5-3 -16-12 -11-6 -5-1 -5 1 -11 7 -21 25 -10 10 -11 7 -5 0 -5-6 -6-11 -5-16 -26-114 -6-14 -5-5 -5 6 -5 16 -21 110 -6 20 -5 14 -5 9z"/><path fill="url(#c56)" stroke="url(#c56)" d="M214 2737l12-45 22-112 5-16 5-6 5 5 6 15 21 95 5 19 5 16 5 11 6 6 5 1 11-4 10-8 21-23 11-7 5-1 11 3 15 10 11 5 5 1 5-1 6-4 5-5 26-37 6-5 5-4 5-1 5 1 11 5 16 10 10 3 5-1 11-7 26-27 11-7 5-1 5 1 6 6 5 11 10 35 22 95 5 15 5 5 5-6 6-16 21-111 5-21 5-15 9-7 5 3 -5 8 -6 14 -5 20 -21 106 -5 16 -6 6 -5-5 -5-13 -21-92 -11-37 -5-11 -5-5 -6 1 -5 5 -16 19 -21 30 -5 5 -5 3 -5 1 -6-2 -5-3 -21-21 -5-4 -6-2 -5 0 -5 2 -5 4 -27 33 -5 4 -5 2 -6 0 -5-3 -5-4 -16-16 -10-8 -6-1 -5 1 -5 3 -5 5 -22 30 -15 19 -6 5 -5 1 -5-5 -5-12 -11-37 -21-91 -5-14 -6-4 -5 6 -5 16 -21 106 -5 20 -6 14 -5 8z"/><path fill="url(#c55)" stroke="url(#c55)" d="M219 2739l13-44 21-109 5-16 5-6 6 5 5 14 26 113 5 16 6 12 5 5 5 0 11-8 10-12 21-27 6-5 5-3 5-1 5 1 6 3 21 18 5 3 5 2 6 0 5-2 5-5 26-34 6-5 5-2 5 0 6 1 5 4 21 18 5 3 5 1 6-1 5-3 5-5 21-27 11-12 10-8 6 0 5 5 5 12 5 16 27 113 5 14 5 5 6-6 5-16 21-109 5-20 5-14 9-7 5 2 -5 8 -5 13 -6 20 -21 102 -5 16 -5 6 -6-4 -5-13 -5-19 -16-70 -11-38 -5-12 -5-4 -5 3 -6 7 -36 57 -6 5 -5 4 -5 1 -6-2 -5-4 -21-25 -10-8 -6-1 -5 1 -5 3 -27 31 -5 4 -5 1 -5-1 -6-4 -26-29 -5-4 -5-2 -6 1 -5 3 -5 6 -37 57 -5 7 -6 3 -5-4 -5-13 -11-37 -16-70 -5-19 -5-13 -5-4 -6 6 -5 15 -21 103 -5 19 -5 13 -6 9z"/><path fill="url(#c54)" stroke="url(#c54)" d="M224 2742l2-10 6-14 5-19 21-106 5-16 6-5 5 4 5 13 21 91 11 38 5 12 5 4 5-2 6-6 16-21 21-32 5-6 5-3 5-1 6 2 5 3 21 23 11 8 5 1 5-2 5-4 27-32 5-3 5-2 5 1 6 3 5 4 16 18 10 9 6 1 5 0 5-4 5-5 21-32 16-21 6-6 5-3 5 5 5 12 11 38 21 91 5 13 6 4 5-6 5-16 21-105 5-20 6-13 8-7 5 2 -5 8 -5 13 -6 18 -21 99 -5 15 -5 5 -5-3 -6-12 -5-18 -16-68 -10-38 -6-13 -5-3 -5 4 -42 73 -5 6 -6 3 -5 1 -5-2 -6-5 -26-33 -5-4 -5-2 -6 0 -5 3 -26 30 -6 3 -5 0 -5-1 -11-10 -21-28 -5-5 -5-2 -6 1 -5 4 -5 6 -42 72 -5 5 -6-4 -5-13 -11-38 -15-68 -6-18 -5-11 -5-4 -5 6 -6 15 -21 98 -5 18 -5 13 -6 8z"/><path fill="url(#c53)" stroke="url(#c53)" d="M229 2744l3-10 5-13 5-18 21-102 5-15 6-6 5 4 5 12 6 19 15 69 11 39 5 12 5 4 6-4 5-8 37-61 5-6 5-4 6 0 5 2 5 4 21 27 11 9 5 2 5-1 6-3 26-30 5-3 5-1 6 1 5 4 26 33 6 4 5 2 5-1 5-3 6-6 37-62 5-8 5-4 5 4 6 13 10 38 16 69 5 19 5 12 6 4 5-6 5-15 21-101 6-19 5-13 8-7 5 3 -5 7 -5 12 -5 18 -21 94 -6 14 -5 5 -5-3 -5-11 -6-17 -16-64 -10-38 -5-13 -6-3 -5 5 -37 69 -10 14 -6 4 -5 1 -5-3 -5-4 -21-30 -11-11 -5-2 -5 1 -6 2 -26 29 -5 3 -6 0 -5-2 -5-5 -26-36 -6-4 -5-3 -5 1 -6 4 -10 14 -37 69 -5 5 -6-3 -5-12 -10-39 -16-64 -5-17 -6-11 -5-3 -5 5 -5 14 -22 94 -5 18 -5 12 -5 7z"/><path fill="url(#c52)" stroke="url(#c52)" d="M235 2746l2-9 5-12 5-18 21-97 6-15 5-5 5 3 5 11 6 18 16 67 10 39 5 12 6 4 5-6 37-68 10-15 6-3 5-1 5 2 5 5 21 30 11 10 5 2 6 0 5-3 26-28 5-3 6 0 5 2 5 4 27 36 5 5 5 2 5-1 6-3 10-15 37-68 5-6 6 4 5 13 10 39 16 66 5 18 6 11 5 3 5-5 5-15 22-96 5-18 5-13 8-6 6 2 -6 7 -5 12 -5 17 -21 88 -5 14 -6 5 -5-3 -5-10 -6-16 -26-98 -5-12 -5-3 -6 5 -37 69 -10 15 -5 4 -6 0 -5-2 -5-5 -21-30 -11-10 -5-3 -5 1 -6 3 -26 28 -5 3 -5 0 -6-2 -5-4 -26-37 -6-4 -5-2 -5 0 -5 4 -11 14 -37 70 -5 5 -5-3 -6-12 -26-99 -5-15 -5-11 -6-2 -5 5 -5 13 -21 89 -6 17 -5 12 -5 7z"/><path fill="url(#c51)" stroke="url(#c51)" d="M240 2749l2-9 5-12 6-17 21-92 5-14 5-5 5 3 6 10 5 17 26 101 6 13 5 3 5-6 37-71 11-15 5-3 5-1 5 2 6 5 26 37 5 5 5 2 6 0 5-3 26-27 6-3 5 0 5 2 5 5 27 37 5 5 5 2 6 0 5-4 10-15 37-71 5-6 6 3 5 13 26 101 6 17 5 10 5 3 5-5 6-14 21-92 5-17 5-12 9-6 5 3 -5 6 -6 11 -5 16 -21 84 -5 13 -5 5 -6-2 -5-10 -5-15 -27-92 -5-12 -5-3 -5 5 -43 74 -5 6 -5 3 -5 1 -6-2 -5-5 -26-35 -6-4 -5-2 -5 1 -5 3 -27 30 -5 4 -5 0 -5-1 -11-11 -21-29 -5-4 -6-2 -5 1 -5 3 -5 6 -43 74 -5 5 -5-3 -5-12 -27-93 -5-15 -5-9 -5-3 -6 5 -5 13 -21 85 -5 15 -6 11 -5 7z"/><path fill="url(#c50)" stroke="url(#c50)" d="M245 2751l2-8 6-12 5-16 21-87 5-13 5-5 6 2 5 10 5 16 27 96 5 12 5 3 5-5 37-70 11-15 5-3 5-1 6 2 5 5 21 30 10 11 6 2 5 0 5-3 27-28 5-3 5 0 5 2 6 4 26 37 5 5 5 2 6-1 5-3 11-15 36-70 6-6 5 3 5 13 27 96 5 16 5 9 5 3 6-5 5-13 21-87 5-17 6-11 8-5 5 2 -5 6 -5 11 -6 15 -21 80 -5 12 -5 5 -6-3 -5-9 -5-14 -26-86 -6-11 -5-3 -5 4 -5 7 -37 59 -6 6 -5 3 -5 1 -5-2 -6-4 -21-27 -5-6 -5-3 -6-1 -5 1 -5 4 -26 33 -6 4 -5 2 -5-1 -6-4 -26-32 -5-4 -5-2 -6 0 -5 4 -5 5 -37 59 -5 8 -6 3 -5-3 -5-11 -26-86 -6-14 -5-9 -5-2 -6 5 -5 12 -21 80 -5 14 -5 11 -6 7z"/><path fill="url(#c49)" stroke="url(#c49)" d="M250 2754l2-9 6-10 5-16 21-82 5-13 6-5 5 3 5 9 5 15 27 90 5 11 5 3 6-5 42-72 5-6 5-3 5-1 6 2 5 4 26 35 6 4 5 1 5 0 5-4 27-30 5-3 5-1 6 2 10 10 21 28 5 4 6 2 5 0 5-4 6-6 42-72 5-5 5 3 5 12 27 90 5 14 5 10 6 2 5-5 5-12 21-83 5-15 6-11 8-5 5 2 -5 7 -5 10 -5 14 -22 75 -5 12 -5 4 -5-2 -6-9 -31-92 -5-10 -6-4 -5 3 -5 5 -16 20 -21 31 -5 5 -6 3 -5 1 -5-2 -5-3 -22-25 -5-5 -5-3 -5 0 -6 3 -5 5 -26 38 -5 5 -6 3 -5 0 -5-3 -6-4 -21-26 -5-3 -5-2 -5 1 -6 3 -5 5 -21 31 -16 20 -5 5 -5 3 -6-4 -5-10 -32-92 -5-9 -5-2 -5 4 -6 12 -21 76 -5 14 -5 10 -5 6z"/><path fill="url(#c48)" stroke="url(#c48)" d="M256 2756l2-8 5-10 5-15 21-78 6-11 5-5 5 2 5 9 6 14 15 52 11 31 5 10 5 3 6-3 5-7 37-56 5-5 5-3 6-1 5 1 5 4 27 32 5 3 5 1 5-2 6-4 26-34 5-4 6-2 5 1 5 3 5 5 21 26 6 4 5 2 5-1 5-3 6-6 37-56 5-7 5-3 5 3 6 11 10 30 16 53 5 13 6 9 5 3 5-5 5-12 21-78 6-14 5-11 8-5 6 3 -6 6 -5 9 -5 14 -21 72 -6 11 -5 4 -5-3 -5-8 -27-73 -5-12 -5-9 -6-4 -5 0 -10 8 -11 11 -21 26 -5 5 -5 3 -6 0 -5-1 -5-3 -6-5 -15-18 -6-5 -5-1 -5 1 -5 5 -6 6 -26 45 -5 7 -6 4 -5 1 -5-1 -5-5 -16-18 -5-5 -6-3 -5-1 -5 0 -5 3 -6 5 -21 26 -10 11 -11 8 -5 0 -5-4 -6-9 -5-12 -26-73 -6-8 -5-3 -5 4 -5 11 -21 72 -6 14 -5 9 -5 6z"/><path fill="url(#c47)" stroke="url(#c47)" d="M261 2758l2-7 5-10 5-14 22-74 5-11 5-4 5 2 6 8 5 13 16 49 10 28 5 9 6 4 5-2 11-10 10-13 21-28 5-5 6-3 5-1 5 1 5 4 22 23 5 5 5 2 5 0 6-4 5-5 26-40 5-5 6-4 5 0 5 2 6 5 21 24 5 3 5 1 5 0 6-3 5-5 21-29 11-13 10-10 5-2 6 4 5 10 10 27 16 49 5 13 6 8 5 3 5-5 6-11 21-74 5-14 5-10 9-4 5 2 -5 6 -6 9 -5 13 -21 69 -5 10 -6 4 -5-2 -5-8 -21-56 -11-24 -5-8 -5-5 -6 0 -5 1 -10 6 -27 26 -5 4 -5 3 -6 0 -5 0 -5-3 -5-5 -16-18 -5-4 -6-1 -5 3 -10 16 -22 42 -10 19 -5 6 -6 3 -5 0 -5-4 -16-19 -5-4 -5-3 -6-1 -5 1 -11 7 -21 21 -10 8 -11 4 -5-1 -5-4 -11-19 -26-69 -5-8 -6-2 -5 4 -5 10 -21 69 -5 13 -6 9 -5 6z"/><path fill="url(#c46)" stroke="url(#c46)" d="M266 2761l2-8 5-9 6-13 21-70 5-11 5-4 6 2 5 8 26 71 11 20 5 4 5 0 11-6 10-9 21-24 11-7 5-1 5 1 6 3 5 4 16 19 5 4 5 1 6-2 5-5 5-8 26-47 6-8 5-5 5-2 5 1 6 4 16 18 5 5 5 3 5 1 6-1 10-7 27-29 10-8 5-2 6 0 5 4 5 8 11 25 21 58 5 8 5 2 6-4 5-11 21-70 5-13 5-9 9-5 5 3 -5 5 -6 9 -5 12 -21 66 -5 10 -5 4 -6-2 -5-8 -26-65 -11-18 -5-5 -5-2 -6 0 -10 3 -11 7 -15 14 -11 5 -5 1 -6-1 -5-2 -5-4 -16-19 -5-3 -5 0 -6 4 -5 9 -37 83 -5 8 -5 5 -6 0 -5-4 -16-18 -5-4 -5-3 -6 0 -5 0 -10 6 -16 13 -11 7 -10 4 -5-1 -6-2 -5-5 -11-17 -26-65 -5-8 -5-2 -6 4 -5 10 -21 65 -5 13 -6 9 -5 5z"/><path fill="url(#c45)" stroke="url(#c45)" d="M271 2763l2-7 6-9 5-13 21-67 5-10 5-4 6 2 5 8 21 55 11 22 5 8 5 5 5 1 6 0 10-5 27-23 10-6 5-1 6 1 5 2 5 5 16 18 5 4 5 0 6-4 5-7 37-76 5-8 5-4 6 1 5 4 16 18 5 5 5 2 6 1 5-1 10-6 27-23 10-5 6-1 5 2 5 5 5 7 11 23 21 54 5 8 5 3 6-4 5-10 21-68 5-12 6-9 8-4 5 2 -5 5 -5 9 -6 12 -21 63 -5 10 -5 4 -5-3 -6-7 -26-62 -11-17 -5-5 -5-3 -5-2 -11 1 -10 5 -22 13 -10 3 -5 0 -6-2 -5-4 -16-19 -5-3 -5 1 -5 6 -6 10 -37 94 -5 10 -5 6 -5 1 -6-4 -15-18 -6-4 -5-2 -5-1 -11 3 -21 13 -10 5 -11 1 -5-1 -6-3 -5-6 -10-16 -27-62 -5-8 -5-2 -5 4 -6 9 -21 64 -5 12 -5 8 -6 5z"/><path fill="url(#c44)" stroke="url(#c44)" d="M276 2765l3-6 5-9 5-12 21-65 5-10 6-3 5 2 5 8 27 63 10 17 5 5 6 3 5 1 10-2 11-6 21-15 11-3 5 0 5 3 5 4 16 19 5 4 6-1 5-5 5-10 37-90 5-9 6-6 5 0 5 4 16 19 5 4 6 2 5 1 10-3 21-15 11-6 10-2 6 1 5 3 5 5 11 17 26 63 5 8 6 2 5-4 5-10 21-64 6-12 5-9 8-4 5 2 -5 6 -5 8 -5 12 -21 61 -6 9 -5 4 -5-3 -6-7 -21-49 -10-19 -5-8 -11-9 -5-2 -11-1 -10 3 -21 11 -11 2 -5 0 -5-2 -6-3 -15-18 -6-3 -5 2 -5 7 -6 11 -36 100 -6 11 -5 7 -5 2 -5-3 -16-18 -6-3 -5-2 -5 0 -11 3 -21 10 -10 4 -11-1 -5-3 -11-9 -5-7 -10-20 -21-49 -6-7 -5-3 -5 4 -5 9 -22 62 -5 11 -5 9 -5 5z"/><path fill="url(#c43)" stroke="url(#c43)" d="M282 2768l2-7 5-8 5-12 21-63 6-9 5-4 5 3 5 7 27 61 10 16 6 6 10 5 11 0 10-4 21-11 11-3 5 0 5 2 6 4 15 19 6 4 5-2 5-6 5-12 37-99 6-11 5-7 5-1 5 3 16 19 5 4 6 2 5 0 11-2 21-12 10-4 11 0 5 2 10 9 6 7 10 20 21 50 6 7 5 3 5-4 5-9 22-63 5-11 5-9 8-4 6 3 -6 5 -5 8 -5 11 -21 60 -5 9 -6 4 -5-3 -5-7 -21-48 -11-18 -5-7 -11-11 -10-4 -11 0 -26 10 -11 3 -5 0 -5-1 -5-3 -16-16 -6-2 -5 2 -5 8 -5 11 -37 101 -5 11 -6 8 -5 2 -5-2 -16-16 -5-3 -6-1 -5 0 -10 3 -27 10 -10 0 -11-4 -10-11 -6-7 -10-18 -21-48 -5-7 -6-3 -5 4 -5 9 -21 60 -6 11 -5 8 -5 5z"/><path fill="url(#c42)" stroke="url(#c42)" d="M287 2770l2-6 5-9 6-11 21-61 5-9 5-3 5 2 6 7 21 49 10 19 6 7 10 10 11 4 10 0 26-12 11-2 5 0 6 2 5 3 16 17 5 3 5-2 5-7 6-12 37-104 5-11 5-8 5-2 6 3 15 17 6 4 5 1 5 0 11-2 26-11 11-1 10 4 11 10 5 8 11 18 21 49 5 7 5 2 5-3 6-9 21-61 5-11 5-9 9-3 5 2 -5 5 -6 8 -5 11 -21 59 -5 9 -6 3 -5-2 -5-8 -21-46 -11-18 -10-13 -5-5 -11-5 -11-1 -31 12 -11 1 -10-4 -16-12 -5-1 -6 3 -5 7 -10 24 -32 83 -5 11 -6 7 -5 3 -5-1 -16-12 -10-4 -11 1 -32 12 -10-1 -11-5 -5-5 -10-13 -11-18 -21-47 -5-7 -6-2 -5 3 -5 9 -21 58 -5 12 -6 8 -5 5z"/><path fill="url(#c41)" stroke="url(#c41)" d="M292 2773l2-7 5-8 6-11 21-60 5-8 5-4 6 3 5 7 21 47 10 18 6 8 10 10 11 5 10 1 32-11 10-1 6 1 5 3 16 14 5 1 5-2 6-8 5-11 37-101 5-11 5-8 6-3 5 2 16 14 5 3 5 1 11-1 31-11 11 1 10 5 11 10 5 8 11 18 21 47 5 7 5 3 6-4 5-9 21-59 5-11 5-8 9-4 5 2 -5 6 -5 7 -6 11 -21 58 -5 9 -5 3 -6-2 -5-8 -21-45 -10-18 -11-13 -11-8 -5-3 -10 0 -27 11 -10 3 -11-1 -21-11 -5-1 -5 3 -6 7 -10 22 -32 77 -5 9 -5 7 -6 3 -5 0 -21-11 -10-1 -11 2 -26 11 -11 0 -5-2 -11-8 -10-13 -11-18 -21-46 -5-7 -5-3 -6 4 -5 8 -21 58 -5 11 -5 8 -6 5z"/><path fill="url(#c40)" stroke="url(#c40)" d="M297 2775l2-6 6-8 5-11 21-59 5-8 6-4 5 3 5 7 21 46 11 18 10 13 11 9 5 2 11 1 31-11 11-1 10 3 16 10 5 0 6-3 5-7 5-10 32-81 10-23 6-8 5-3 5 1 16 10 10 3 11-1 32-11 10 1 5 2 11 8 10 14 11 18 21 46 5 7 6 2 5-3 5-9 21-58 5-11 6-8 8-4 5 3 -5 5 -5 8 -5 10 -22 58 -5 8 -5 3 -5-2 -6-7 -21-45 -16-25 -10-11 -5-3 -6-2 -5 0 -10 3 -16 10 -11 4 -5 1 -11-2 -21-10 -5 1 -5 3 -5 6 -11 19 -32 70 -5 9 -5 6 -5 3 -6 0 -21-9 -10-2 -11 2 -26 15 -5 1 -6-1 -5-2 -10-8 -11-13 -10-18 -22-44 -5-8 -5-2 -5 3 -6 9 -21 57 -5 11 -5 7 -5 5z"/><path fill="url(#c39)" stroke="url(#c39)" d="M303 2777l2-6 5-8 5-11 21-57 6-9 5-3 5 2 5 8 21 45 11 18 10 13 11 8 5 3 11 0 26-11 11-3 10 1 21 9 6 0 5-4 5-6 5-9 37-85 5-9 6-7 5-3 5 0 21 8 11 1 10-2 27-12 10 1 6 2 10 9 11 13 10 18 21 45 5 7 6 2 5-3 5-8 21-58 6-11 5-8 8-3 6 2 -6 5 -5 8 -5 11 -21 56 -6 9 -5 3 -5-2 -5-8 -21-44 -16-25 -11-10 -5-3 -5-2 -6 1 -10 6 -16 13 -11 6 -5 0 -5-1 -21-12 -5-2 -6 0 -5 3 -5 5 -11 17 -21 45 -10 20 -6 8 -5 5 -5 3 -5 0 -6-1 -21-13 -5-1 -5 0 -11 6 -16 14 -10 5 -5 1 -6-2 -5-3 -10-10 -16-25 -21-44 -6-7 -5-3 -5 3 -5 9 -21 56 -6 11 -5 8 -5 5z"/><path fill="url(#c38)" stroke="url(#c38)" d="M308 2780l2-7 5-7 5-11 21-57 6-9 5-3 5 3 6 7 21 44 15 25 11 11 5 3 5 2 6 1 10-4 16-11 11-5 10 1 21 8 5 2 6-1 5-3 5-6 11-18 31-67 6-8 5-6 5-3 5 0 6 1 21 9 10 0 11-5 16-11 10-3 6 0 5 2 5 3 11 11 15 25 21 44 6 7 5 3 5-3 6-9 21-57 5-10 5-8 9-4 5 3 -6 5 -5 7 -5 11 -21 56 -5 9 -6 3 -5-3 -5-7 -21-44 -11-17 -10-13 -6-4 -5-3 -5 0 -5 1 -6 4 -21 24 -5 5 -5 2 -6 0 -5-3 -21-18 -5-2 -5 0 -6 2 -5 5 -5 7 -11 18 -21 43 -10 15 -6 5 -5 2 -5 0 -5-3 -22-17 -5-3 -5 0 -5 2 -6 5 -21 24 -5 4 -5 1 -5 0 -6-3 -5-4 -11-13 -10-17 -21-44 -5-7 -6-3 -5 3 -5 9 -21 56 -6 11 -5 7 -5 5z"/><path fill="url(#c37)" stroke="url(#c37)" d="M313 2782l2-6 5-8 6-11 21-56 5-9 5-3 5 3 6 7 21 44 10 18 11 13 5 4 5 3 6 1 5-1 5-2 21-20 6-4 5-2 5 0 5 2 16 10 11 5 5-1 5-2 6-5 5-7 10-19 21-44 11-16 5-5 5-2 6-1 10 5 16 10 5 2 6 0 5-2 5-4 21-20 5-2 6-1 5 1 5 3 6 4 10 13 11 18 21 44 5 7 5 3 5-3 6-9 21-56 5-11 5-8 9-3 5 2 -5 5 -6 8 -5 10 -21 56 -5 9 -5 3 -6-3 -5-7 -21-43 -11-18 -10-12 -5-4 -6-2 -5 0 -5 3 -5 5 -22 32 -5 6 -5 2 -5-1 -6-3 -21-25 -5-3 -5-1 -5 1 -6 4 -5 6 -11 18 -21 41 -10 14 -5 4 -6 2 -5-1 -5-3 -21-25 -6-4 -5-1 -5 3 -5 5 -21 33 -6 5 -5 3 -5 0 -5-2 -6-4 -10-12 -11-18 -21-44 -5-7 -5-2 -6 3 -5 8 -21 56 -5 11 -6 8 -5 5z"/><path fill="url(#c36)" stroke="url(#c36)" d="M318 2785l2-7 6-7 5-11 21-56 5-9 5-3 6 3 5 7 21 44 11 17 10 13 5 4 6 2 5 0 5-2 5-4 22-28 5-5 5-3 5 1 6 3 21 21 5 2 5 1 5-2 6-4 5-7 11-18 21-41 10-15 5-4 6-2 5 0 5 3 21 21 6 3 5 1 5-3 5-5 21-28 6-5 5-2 5 1 5 2 6 4 10 13 11 17 21 44 5 7 5 3 6-3 5-9 21-56 5-11 6-7 8-4 5 2 -5 5 -5 8 -6 11 -21 56 -5 8 -5 3 -6-2 -5-8 -21-43 -10-17 -11-13 -5-3 -5-2 -6 1 -5 4 -5 6 -21 40 -6 6 -5 3 -5-1 -5-5 -21-31 -6-5 -5-2 -5 1 -6 4 -5 6 -10 17 -21 40 -11 14 -5 3 -5 1 -6-2 -5-4 -21-31 -5-5 -6-2 -5 3 -5 7 -21 39 -5 7 -6 3 -5 1 -5-1 -6-4 -10-12 -11-17 -21-44 -5-7 -5-3 -5 4 -6 8 -21 56 -5 11 -5 7 -6 5z"/><path fill="url(#c35)" stroke="url(#c35)" d="M323 2787l3-6 5-8 5-11 21-56 5-8 6-3 5 2 5 8 21 43 11 17 10 13 6 3 5 2 5 0 5-4 6-6 21-37 5-6 5-3 6 2 5 4 21 29 5 4 5 1 6-1 5-4 5-5 11-18 21-40 10-14 6-3 5-2 5 2 5 4 21 28 6 5 5 1 5-2 6-6 21-38 5-6 5-3 5-1 6 2 5 4 10 12 11 17 21 44 5 7 6 3 5-3 5-9 21-56 6-10 5-8 8-4 5 3 -5 5 -5 7 -5 11 -21 56 -6 8 -5 3 -5-2 -6-7 -21-44 -10-17 -11-12 -5-4 -5-1 -5 2 -6 4 -5 7 -21 44 -5 7 -6 3 -5-2 -5-6 -21-35 -6-5 -5-2 -5 1 -5 3 -11 13 -26 49 -11 13 -5 4 -5 0 -6-2 -5-5 -5-8 -16-27 -5-6 -5-1 -6 2 -5 7 -21 44 -5 7 -6 5 -5 1 -5-1 -5-4 -11-12 -10-17 -21-43 -6-8 -5-2 -5 3 -6 8 -21 56 -5 11 -5 8 -5 4z"/><path fill="url(#c34)" stroke="url(#c34)" d="M329 2789l2-6 5-8 5-10 21-56 6-8 5-3 5 2 5 7 21 44 11 17 11 12 5 3 5 2 5-2 6-4 5-7 21-44 5-7 5-3 6 2 5 6 21 35 5 5 6 2 5-1 5-3 11-13 26-49 11-14 5-3 5 0 5 2 6 5 5 7 16 28 5 6 5 1 6-3 5-7 21-43 5-8 5-4 6-1 5 1 5 4 11 12 10 17 21 43 6 7 5 3 5-3 5-9 21-55 6-11 5-8 8-3 6 2 -6 5 -5 8 -5 10 -21 56 -6 9 -5 3 -5-3 -5-7 -21-43 -11-18 -10-12 -6-3 -5-1 -5 1 -6 4 -5 8 -21 43 -5 7 -5 3 -6-2 -5-5 -16-28 -5-7 -5-5 -6-3 -5 1 -5 3 -11 13 -26 50 -10 13 -6 3 -5 1 -5-3 -6-5 -21-35 -5-5 -5-2 -5 3 -6 7 -21 43 -5 8 -5 4 -6 2 -5-2 -5-3 -11-12 -10-18 -21-43 -6-7 -5-3 -5 3 -5 9 -21 56 -6 10 -5 8 -5 5z"/><path fill="url(#c33)" stroke="url(#c33)" d="M334 2792l2-7 5-7 5-11 22-56 5-8 5-3 5 2 6 8 21 43 10 17 11 12 5 4 5 1 6-2 5-5 10-18 16-36 5-7 6-3 5 2 5 6 21 38 6 5 5 3 5-1 5-3 11-13 26-49 11-13 5-3 5 0 6 2 5 6 5 8 16 29 5 6 5 2 6-3 5-7 16-36 10-18 6-5 5-2 5 2 5 3 11 12 10 17 22 44 5 7 5 2 5-3 6-8 21-56 5-11 5-7 9-4 5 3 -5 5 -6 7 -5 11 -21 56 -5 8 -6 3 -5-2 -5-7 -21-44 -11-17 -10-12 -6-4 -5-2 -5 1 -5 4 -6 7 -21 39 -5 7 -5 2 -5-1 -6-5 -21-31 -5-5 -5-1 -6 1 -5 3 -10 14 -21 40 -11 17 -5 6 -6 3 -5 1 -5-2 -5-4 -21-31 -6-5 -5-1 -5 2 -5 7 -22 39 -5 7 -5 4 -5 1 -6-2 -5-4 -10-12 -11-17 -21-44 -5-7 -6-2 -5 3 -5 8 -21 56 -5 11 -6 7 -5 5z"/><path fill="url(#c32)" stroke="url(#c32)" d="M339 2794l2-6 5-8 6-10 21-56 5-9 5-3 6 3 5 7 21 43 10 18 11 12 5 3 6 1 5-1 5-4 5-8 21-43 6-7 5-3 5 1 5 6 22 35 5 5 5 2 5 0 6-3 10-13 26-50 11-13 5-3 6 0 5 2 5 5 5 7 16 28 5 6 6 1 5-3 5-7 21-43 6-8 5-4 5-1 5 1 6 3 10 12 11 18 21 43 5 7 5 3 6-3 5-9 21-56 5-10 5-8 9-3 5 2 -5 5 -5 8 -6 10 -21 56 -5 9 -5 3 -6-3 -5-7 -21-43 -11-18 -10-12 -5-4 -6-2 -5 0 -5 3 -5 5 -21 32 -6 6 -5 2 -5-1 -6-3 -21-25 -5-3 -5-1 -5 1 -6 4 -5 6 -10 18 -22 41 -10 14 -5 4 -6 2 -5-1 -5-3 -21-25 -5-4 -6-1 -5 3 -5 5 -21 33 -6 5 -5 3 -5 0 -5-2 -6-4 -10-12 -11-18 -21-44 -5-7 -5-2 -6 3 -5 8 -21 56 -5 11 -5 8 -6 5z"/><path fill="url(#c31)" stroke="url(#c31)" d="M344 2797l2-7 6-7 5-11 21-56 5-8 6-3 5 2 5 7 21 44 11 17 10 12 5 4 6 2 5-1 5-3 6-6 21-38 5-6 5-3 5 2 6 4 21 29 5 4 5 1 6-1 5-3 5-6 11-17 21-40 10-14 5-3 6-2 5 2 5 4 21 28 6 5 5 1 5-2 5-6 21-38 6-6 5-3 5-1 6 2 5 4 10 12 11 17 21 44 5 7 6 2 5-3 5-8 21-56 5-11 6-7 8-4 5 2 -5 5 -5 8 -6 11 -21 56 -5 9 -5 3 -5-3 -6-7 -21-44 -10-17 -11-13 -5-4 -5-3 -6-1 -5 2 -5 3 -21 25 -5 5 -6 2 -5-1 -5-2 -21-18 -6-2 -5 0 -5 2 -5 5 -6 6 -10 19 -21 42 -11 16 -5 4 -5 3 -6-1 -5-2 -21-17 -5-3 -6 0 -5 2 -5 4 -21 25 -5 4 -6 1 -5-1 -5-2 -5-4 -11-13 -11-18 -21-44 -5-7 -5-2 -5 3 -6 8 -21 57 -5 10 -5 8 -6 5z"/><path fill="url(#c30)" stroke="url(#c30)" d="M349 2799l3-6 5-8 5-11 21-56 5-8 6-3 5 2 5 7 21 44 11 17 10 13 6 4 5 2 5 1 5-2 6-5 21-29 5-5 5-2 6 0 5 4 21 21 5 2 5 0 6-1 5-5 5-6 11-17 21-42 10-14 6-4 5-2 5 0 6 3 21 21 5 3 5 1 5-2 6-6 21-29 5-4 5-2 6 0 5 2 5 5 11 12 10 18 21 43 5 7 6 3 5-3 5-9 21-56 6-10 5-8 8-4 5 3 -5 5 -5 7 -5 11 -21 57 -6 8 -5 4 -5-3 -5-7 -22-44 -15-25 -11-11 -5-3 -5-1 -6 0 -10 6 -16 14 -11 5 -5 1 -5-2 -21-12 -5-1 -6 0 -5 3 -5 5 -11 17 -21 45 -10 20 -6 7 -5 6 -5 2 -5 1 -6-2 -21-12 -5-1 -5 0 -11 5 -16 14 -10 6 -5 0 -6-1 -5-3 -11-11 -15-24 -21-45 -6-7 -5-2 -5 3 -5 8 -22 57 -5 11 -5 7 -5 5z"/><path fill="url(#c29)" stroke="url(#c29)" d="M355 2801l2-6 5-8 5-10 21-57 6-8 5-3 5 2 5 7 22 44 10 18 11 13 5 4 5 3 5 1 6-1 5-2 21-21 5-4 6-2 5 0 5 2 21 14 5 1 6 0 5-3 11-12 10-18 21-43 11-16 5-5 5-2 5-1 6 2 21 14 5 1 5 0 6-2 5-3 21-21 5-3 5-1 6 1 5 3 5 5 11 12 10 18 21 44 6 7 5 3 5-3 5-9 22-56 5-11 5-8 8-3 6 2 -6 5 -5 8 -5 11 -21 57 -5 9 -6 3 -5-3 -5-7 -21-45 -16-25 -11-10 -5-4 -5-2 -5 0 -11 3 -16 10 -10 5 -6 0 -10-2 -21-9 -5 0 -6 3 -5 6 -11 19 -31 70 -5 9 -6 6 -5 3 -5 0 -21-9 -11-2 -10 2 -27 15 -5 1 -5 0 -5-2 -11-8 -11-13 -10-18 -21-45 -5-7 -6-3 -5 3 -5 9 -21 57 -6 11 -5 8 -5 5z"/><path fill="url(#c28)" stroke="url(#c28)" d="M360 2804l2-7 5-7 6-11 21-57 5-8 5-4 5 3 6 7 21 44 16 25 10 11 5 3 6 2 5 0 10-4 16-11 11-5 10 0 21 10 6 1 5-1 5-3 5-5 11-18 32-66 5-8 5-6 5-3 6-1 5 2 21 9 11 0 10-5 16-11 10-4 6 0 5 2 5 3 11 11 16 25 21 44 5 7 5 3 5-3 6-9 21-57 5-11 5-7 9-4 5 3 -5 5 -6 7 -5 11 -21 58 -5 9 -5 3 -6-2 -5-7 -21-46 -11-18 -10-13 -11-8 -5-3 -11 0 -26 11 -10 3 -11-1 -21-11 -5-1 -6 3 -5 7 -10 22 -32 77 -5 10 -5 6 -6 3 -5 0 -21-11 -11-1 -10 2 -26 12 -11-1 -5-2 -11-8 -10-13 -11-18 -21-46 -5-7 -5-2 -6 3 -5 8 -21 58 -5 11 -6 8 -5 5z"/><path fill="url(#c27)" stroke="url(#c27)" d="M365 2806l2-6 6-8 5-11 21-57 5-9 5-3 6 2 5 8 21 45 11 17 10 14 11 8 5 2 10 0 27-12 10-2 11 1 21 9 5 0 5-3 6-7 5-9 37-84 5-9 5-7 6-3 5 0 21 9 10 1 11-3 26-12 11 1 5 2 11 8 10 13 11 18 21 45 5 7 5 3 6-3 5-9 21-57 5-11 6-8 8-3 5 2 -5 5 -5 8 -6 11 -21 59 -5 9 -5 3 -6-2 -5-8 -21-46 -10-18 -11-13 -5-5 -11-5 -10-1 -32 12 -10 1 -11-4 -16-12 -5-1 -5 3 -6 7 -10 24 -32 83 -5 11 -5 7 -6 3 -5-2 -16-11 -10-4 -11 1 -31 12 -11-1 -10-5 -6-5 -10-13 -11-18 -21-47 -5-7 -5-3 -6 4 -5 9 -21 58 -5 12 -5 7 -6 6z"/><path fill="url(#c26)" stroke="url(#c26)" d="M370 2809l2-7 6-8 5-11 21-58 5-9 6-3 5 3 5 7 21 46 11 18 10 13 11 8 5 3 11 0 31-11 11-1 10 3 16 10 5 1 6-3 5-7 5-11 32-81 10-23 6-7 5-3 5 1 16 10 10 3 11-1 32-12 10 1 5 3 11 8 10 13 11 18 21 46 5 7 6 3 5-4 5-8 21-58 5-12 6-7 8-4 5 2 -5 6 -5 8 -5 11 -22 60 -5 9 -5 3 -5-2 -6-7 -21-48 -10-19 -5-7 -11-10 -11-5 -10 0 -26 11 -11 3 -5 0 -5-2 -6-3 -16-15 -5-2 -5 2 -5 7 -6 12 -36 101 -6 11 -5 7 -5 3 -6-3 -15-15 -6-3 -5-1 -5 0 -11 2 -26 11 -11 0 -10-5 -11-10 -5-7 -10-19 -22-47 -5-8 -5-2 -5 3 -6 9 -21 60 -5 12 -5 8 -5 5z"/><path fill="url(#c25)" stroke="url(#c25)" d="M376 2811l2-7 5-8 5-11 21-59 6-9 5-3 5 2 5 8 21 46 11 19 10 13 6 4 10 6 11 1 31-11 11-1 5 1 6 2 15 14 6 2 5-3 5-7 11-26 31-87 6-11 5-8 5-3 5 2 16 14 5 3 6 1 10-1 32-11 10 1 11 5 5 5 11 13 10 18 21 47 6 7 5 3 5-4 5-9 21-59 6-11 5-8 8-4 6 3 -6 5 -5 8 -5 12 -21 62 -6 9 -5 3 -5-2 -5-8 -21-49 -11-19 -5-7 -11-9 -5-3 -11-1 -10 3 -21 11 -11 3 -5 0 -5-2 -6-4 -15-17 -6-3 -5 1 -5 7 -5 12 -37 100 -6 11 -5 7 -5 1 -5-3 -16-17 -5-4 -6-1 -5-1 -10 3 -22 11 -10 3 -11-1 -5-2 -10-10 -6-7 -10-19 -21-49 -6-8 -5-2 -5 3 -5 10 -21 61 -6 12 -5 8 -5 5z"/><path fill="url(#c24)" stroke="url(#c24)" d="M381 2813l2-6 5-8 5-12 22-60 5-9 5-4 5 3 6 7 21 48 10 19 5 7 11 10 11 4 10 0 26-11 11-2 5 0 5 1 6 4 16 17 5 3 5-2 5-8 6-12 36-104 6-12 5-7 5-2 6 2 15 18 6 3 5 1 5 0 11-2 26-11 11 0 10 4 11 10 5 8 10 18 21 48 6 8 5 2 5-3 6-9 21-61 5-11 5-8 9-4 5 2 -5 6 -6 8 -5 12 -21 64 -5 9 -6 4 -5-3 -5-7 -26-62 -11-17 -5-5 -6-3 -5-2 -10 1 -11 5 -21 14 -11 2 -5 0 -5-2 -5-4 -16-19 -5-3 -6 1 -5 6 -5 10 -37 94 -5 10 -6 6 -5 1 -5-4 -16-18 -5-4 -5-2 -6-1 -10 3 -21 14 -11 5 -10 0 -6-1 -5-3 -5-5 -11-17 -26-62 -5-7 -6-3 -5 4 -5 9 -21 64 -5 12 -6 8 -5 6z"/><path fill="url(#c23)" stroke="url(#c23)" d="M386 2816l2-7 5-8 6-12 21-62 5-10 5-3 6 2 5 8 21 49 10 20 6 7 10 9 5 2 11 1 11-4 21-11 10-3 5 1 6 1 5 4 16 19 5 3 5-1 6-7 5-11 37-101 5-11 5-7 5-1 6 3 16 19 5 4 5 2 5 0 11-3 21-11 11-4 10 1 5 2 11 9 5 7 11 20 21 49 5 8 5 2 6-3 5-10 21-62 5-12 5-8 9-4 5 3 -5 5 -6 9 -5 12 -21 66 -5 10 -5 4 -6-2 -5-8 -26-65 -11-18 -5-5 -5-2 -6 0 -10 3 -11 8 -15 13 -11 5 -5 1 -6-1 -5-2 -5-4 -16-19 -5-3 -5 0 -6 5 -5 8 -37 83 -5 8 -5 5 -6 0 -5-4 -16-18 -5-4 -5-3 -6 0 -5 0 -10 6 -16 13 -11 7 -10 4 -5-1 -6-2 -5-5 -11-17 -26-65 -5-8 -5-2 -6 4 -5 10 -21 65 -5 13 -6 9 -5 5z"/><path fill="url(#c22)" stroke="url(#c22)" d="M391 2818l2-7 6-8 5-12 21-65 5-9 5-4 6 2 5 8 26 63 11 16 5 5 5 3 6 2 10-2 11-6 21-14 10-3 6 1 5 2 5 4 16 19 5 3 5-1 6-5 5-10 37-90 5-10 5-6 6 0 5 3 16 19 5 4 5 2 6 1 10-3 21-15 11-5 10-2 6 1 5 3 5 6 11 16 26 63 5 7 5 3 6-4 5-10 21-64 5-12 6-8 8-4 5 2 -5 6 -5 9 -6 13 -21 68 -5 11 -5 4 -5-3 -6-7 -26-69 -11-19 -5-5 -5-1 -11 4 -10 8 -21 22 -11 6 -5 1 -5-1 -6-2 -5-5 -16-18 -5-4 -5-1 -5 3 -6 7 -10 19 -21 42 -11 15 -5 3 -5 0 -6-4 -15-19 -6-4 -5-3 -5-1 -6 1 -5 3 -5 4 -26 26 -11 6 -5 1 -6-1 -5-4 -5-8 -11-24 -21-56 -5-8 -5-2 -5 4 -6 10 -21 69 -5 13 -5 9 -6 6z"/><path fill="url(#c21)" stroke="url(#c21)" d="M396 2821l3-8 5-8 5-13 21-67 5-10 6-4 5 3 5 8 21 54 11 22 5 7 5 5 6 2 5 0 10-5 27-22 10-6 6-1 5 1 5 2 5 5 16 18 5 3 6 1 5-4 5-8 37-77 5-8 6-4 5 0 5 4 16 18 5 4 6 3 5 0 5 0 11-6 26-23 10-4 6 0 5 2 5 4 6 8 10 22 21 54 5 8 6 2 5-4 5-10 21-66 6-13 5-9 8-4 5 2 -5 6 -5 10 -5 13 -21 72 -6 11 -5 5 -5-3 -6-8 -26-74 -5-12 -5-9 -6-4 -5 1 -10 8 -11 11 -21 26 -5 4 -6 3 -5 1 -5-1 -5-3 -6-5 -15-19 -6-4 -5-2 -5 2 -6 4 -5 7 -26 44 -5 7 -6 5 -5 1 -5-2 -5-4 -16-19 -6-4 -5-4 -5-1 -5 1 -6 3 -5 4 -21 27 -10 10 -11 8 -5 1 -6-4 -5-9 -5-12 -26-74 -6-8 -5-2 -5 4 -5 11 -22 72 -5 13 -5 10 -5 6z"/><path fill="url(#c20)" stroke="url(#c20)" d="M402 2823l2-7 5-10 5-13 21-69 6-11 5-4 5 2 5 8 27 71 10 19 6 4 5 1 10-6 11-9 21-23 11-7 5-1 5 1 5 3 6 4 15 18 6 4 5 1 5-2 5-5 11-17 21-40 5-7 6-6 5-2 5 1 5 4 16 18 5 5 6 2 5 1 5 0 6-3 10-10 21-23 11-7 5-2 5 0 5 4 6 9 10 24 21 57 6 8 5 2 5-4 5-10 22-70 5-13 5-9 8-5 6 3 -6 6 -5 10 -5 14 -21 76 -5 11 -6 5 -5-3 -5-8 -32-93 -5-10 -5-3 -6 2 -5 6 -16 20 -21 30 -5 5 -5 4 -6 0 -5-1 -5-4 -21-25 -6-5 -5-2 -5 0 -5 3 -6 5 -26 38 -5 5 -5 2 -6 0 -5-2 -5-5 -21-25 -6-4 -5-1 -5 1 -5 3 -6 5 -21 30 -16 20 -5 6 -5 2 -5-3 -6-10 -31-93 -5-8 -6-3 -5 5 -5 11 -21 76 -6 14 -5 10 -5 6z"/><path fill="url(#c19)" stroke="url(#c19)" d="M407 2825l2-7 5-10 6-14 21-73 5-11 5-4 5 2 6 8 5 13 16 48 10 28 6 9 5 4 5-2 11-9 10-13 21-28 5-5 6-3 5 0 5 1 6 3 21 24 5 4 5 3 5-1 6-4 5-6 26-40 6-6 5-4 5 0 5 2 6 4 21 24 5 3 5 2 5-1 6-3 5-5 21-28 11-12 10-10 5-1 6 3 5 10 11 27 15 48 6 13 5 8 5 2 5-4 6-11 21-73 5-14 5-10 9-4 5 2 -5 7 -6 10 -5 15 -21 80 -5 12 -6 5 -5-3 -5-9 -5-14 -27-86 -5-10 -5-4 -5 4 -6 8 -37 58 -5 6 -5 3 -5 1 -6-2 -5-4 -26-33 -6-3 -5-1 -5 1 -5 4 -27 34 -5 3 -5 2 -6-1 -5-4 -5-5 -21-27 -5-4 -6-2 -5 1 -5 3 -5 6 -37 58 -6 8 -5 4 -5-4 -5-10 -27-86 -5-14 -5-9 -6-3 -5 5 -5 12 -21 80 -5 15 -6 10 -5 7z"/><path fill="url(#c18)" stroke="url(#c18)" d="M412 2828l2-8 5-10 6-15 21-77 5-11 5-5 6 2 5 9 5 14 16 51 10 31 6 10 5 3 5-3 11-14 31-48 6-5 5-3 5-1 5 2 6 4 21 26 5 5 5 3 6 0 5-2 5-4 27-35 5-4 5-2 5 0 6 3 26 32 5 3 5 2 6-1 5-3 5-5 32-48 10-14 6-3 5 3 5 10 11 31 16 51 5 14 5 9 5 2 6-5 5-11 21-77 5-15 5-10 9-5 5 3 -5 6 -5 11 -6 16 -21 84 -5 13 -5 5 -6-2 -5-10 -5-15 -26-92 -6-12 -5-3 -5 5 -42 74 -6 6 -5 3 -5 1 -5-2 -6-5 -21-29 -10-10 -6-2 -5 1 -5 3 -26 30 -6 4 -5 0 -5-1 -6-5 -26-35 -5-4 -5-2 -6 1 -5 3 -5 6 -42 74 -6 5 -5-3 -5-12 -27-93 -5-15 -5-9 -5-3 -6 5 -5 13 -21 85 -5 15 -5 11 -6 7z"/><path fill="url(#c17)" stroke="url(#c17)" d="M417 2830l2-8 6-11 5-15 21-81 5-13 6-5 5 3 5 9 5 14 27 89 5 12 5 3 6-5 42-71 5-6 5-4 5 0 6 2 5 4 26 34 6 4 5 2 5-1 5-4 27-31 5-3 5-1 6 2 5 3 5 6 21 29 5 4 6 2 5-1 5-3 5-6 43-71 5-5 5 3 5 11 27 89 5 15 5 9 6 2 5-5 5-12 21-81 5-16 6-10 8-5 5 2 -5 7 -5 12 -5 16 -22 89 -5 14 -5 5 -5-3 -6-10 -5-16 -26-98 -6-12 -5-4 -5 6 -37 69 -10 15 -6 3 -5 1 -5-2 -6-5 -26-36 -5-5 -5-2 -6 1 -5 2 -26 29 -6 3 -5 0 -5-2 -11-11 -21-30 -5-4 -5-3 -5 1 -6 4 -10 14 -37 69 -5 6 -6-3 -5-12 -26-99 -6-16 -5-10 -5-3 -5 6 -6 13 -21 89 -5 17 -5 11 -5 8z"/><path fill="url(#c16)" stroke="url(#c16)" d="M423 2833l2-9 5-11 5-16 21-86 6-13 5-6 5 3 5 10 6 15 26 96 5 12 5 3 6-6 37-69 10-15 5-4 6 0 5 2 5 5 21 30 11 11 5 2 5 0 6-3 26-29 5-3 5 0 6 2 5 4 26 37 6 5 5 2 5-1 5-3 11-15 37-69 5-6 5 3 6 12 26 96 5 15 5 10 6 2 5-5 5-13 21-86 6-16 5-12 8-5 6 2 -6 8 -5 12 -5 17 -21 94 -6 14 -5 6 -5-3 -5-11 -6-17 -15-65 -11-38 -5-12 -6-4 -5 6 -37 68 -10 15 -6 4 -5 0 -5-2 -5-5 -27-36 -5-4 -5-2 -5 0 -6 3 -26 28 -5 3 -6 0 -5-2 -10-10 -21-30 -6-5 -5-2 -5 1 -6 3 -10 15 -37 69 -5 5 -5-3 -6-13 -10-38 -16-65 -5-17 -6-11 -5-3 -5 6 -5 14 -21 94 -6 17 -5 12 -5 8z"/><path fill="url(#c15)" stroke="url(#c15)" d="M428 2835l2-9 5-12 5-17 21-91 6-13 5-6 5 3 6 10 5 17 26 101 5 12 6 4 5-6 37-72 10-15 6-3 5-1 5 2 5 5 21 31 11 11 5 2 6 0 5-2 26-28 5-3 6 0 5 2 5 5 27 37 5 5 5 2 5 0 6-4 10-15 37-71 5-6 6 3 5 13 26 101 5 16 6 10 5 3 5-5 6-14 21-91 5-17 5-12 9-6 5 3 -6 8 -5 12 -5 19 -21 98 -5 15 -6 6 -5-4 -5-12 -5-18 -16-67 -11-39 -5-12 -5-4 -6 5 -42 72 -5 6 -5 3 -6 1 -5-2 -5-4 -26-34 -6-4 -5-2 -5 1 -5 3 -27 29 -5 3 -5 1 -6-2 -10-10 -21-28 -6-4 -5-2 -5 1 -5 3 -6 6 -42 72 -5 5 -5-4 -6-12 -10-39 -16-67 -5-18 -5-12 -6-4 -5 6 -5 15 -21 98 -6 19 -5 12 -5 8z"/><path fill="url(#c14)" stroke="url(#c14)" d="M433 2837l2-9 5-12 6-18 21-96 5-14 5-6 5 3 6 11 5 18 16 66 10 39 6 13 5 3 5-6 37-68 11-15 5-4 5 0 5 2 6 4 21 30 10 11 6 2 5 0 5-3 26-28 6-3 5 0 5 2 5 4 27 37 5 4 5 3 6-1 5-4 10-14 37-69 6-6 5 4 5 12 11 39 15 66 6 18 5 11 5 3 5-5 6-15 21-96 5-18 5-12 9-6 5 2 -5 8 -6 14 -5 19 -21 102 -5 16 -5 6 -6-4 -5-13 -5-19 -16-70 -11-38 -5-12 -5-4 -5 3 -6 7 -37 57 -5 6 -5 3 -5 1 -6-2 -5-4 -21-25 -10-8 -6-1 -5 1 -5 3 -27 31 -5 4 -5 1 -5-1 -6-3 -26-30 -5-4 -6-2 -5 1 -5 3 -5 6 -37 57 -5 7 -6 3 -5-4 -5-12 -11-38 -16-70 -5-19 -5-13 -5-4 -6 6 -5 15 -21 103 -5 19 -6 14 -5 8z"/><path fill="url(#c13)" stroke="url(#c13)" d="M438 2840l2-10 6-13 5-18 21-101 5-15 5-6 6 4 5 12 5 18 16 69 11 39 5 12 5 4 5-4 6-8 37-63 5-5 5-4 5-1 6 2 5 5 21 27 10 9 6 2 5-1 5-3 27-29 5-3 5-1 5 1 6 4 26 33 5 5 6 2 5-1 5-4 5-6 37-62 5-8 6-4 5 4 5 12 11 39 16 68 5 19 5 12 5 4 6-6 5-15 21-101 5-18 6-13 8-7 5 3 -5 8 -5 14 -6 20 -21 106 -5 16 -5 6 -6-5 -5-13 -21-92 -10-37 -6-12 -5-4 -5 1 -5 5 -16 19 -21 30 -6 5 -5 3 -5 1 -5-2 -6-3 -21-21 -5-4 -5-2 -6 0 -5 2 -5 4 -26 33 -6 4 -5 2 -5 0 -5-3 -6-4 -16-16 -10-8 -5-1 -6 1 -5 3 -5 5 -21 30 -16 19 -5 5 -6 1 -5-5 -5-12 -11-37 -21-91 -5-14 -5-4 -5 6 -6 16 -21 106 -5 20 -5 14 -6 8z"/><path fill="url(#c12)" stroke="url(#c12)" d="M443 2842l3-10 5-13 5-20 21-104 5-16 6-6 5 4 5 13 21 91 11 37 5 12 5 5 6-3 5-6 16-21 21-33 5-6 5-3 6-1 5 2 5 4 21 23 11 8 5 1 5-2 5-3 27-32 5-4 5-1 6 1 5 3 26 28 5 4 6 1 5-1 5-3 6-5 21-33 15-22 6-6 5-2 5 4 5 12 11 38 21 91 5 13 6 4 5-6 5-16 21-105 6-19 5-14 8-6 5 2 -5 9 -5 14 -5 20 -21 110 -6 16 -5 6 -5-5 -6-15 -26-113 -5-16 -5-11 -6-6 -5 0 -10 6 -11 11 -21 25 -11 7 -5 1 -5-1 -11-6 -16-13 -5-2 -5-1 -5 0 -6 3 -5 5 -26 36 -5 4 -6 3 -5 1 -5-1 -6-3 -15-13 -11-6 -5-1 -5 1 -11 8 -21 25 -11 10 -10 7 -5-1 -6-5 -5-12 -5-16 -26-113 -6-14 -5-5 -5 5 -6 17 -21 109 -5 21 -5 14 -5 9z"/><path fill="url(#c11)" stroke="url(#c11)" d="M449 2845l12-45 21-108 6-16 5-6 5 5 5 14 27 113 5 16 5 12 6 5 5-1 10-9 11-12 21-28 5-4 5-3 6-1 5 1 5 3 21 18 6 4 5 2 5 0 5-2 6-5 26-34 5-4 6-2 5 0 5 2 5 3 21 19 6 3 5 1 5-1 6-3 5-5 21-28 10-12 11-9 5 0 5 5 6 12 5 16 26 113 6 14 5 5 5-6 5-16 21-109 6-20 5-14 8-7 6 2 -6 9 -5 14 -5 21 -21 112 -6 16 -5 6 -5-6 -5-14 -16-73 -11-41 -5-16 -5-11 -5-6 -6-2 -5 1 -11 5 -26 25 -10 6 -6 1 -5 0 -5-2 -21-12 -6-1 -5 0 -5 1 -11 10 -26 39 -10 9 -6 2 -5 0 -5-2 -21-12 -6-1 -5-1 -5 1 -11 6 -26 25 -11 5 -5 1 -5-2 -5-6 -6-11 -5-15 -10-42 -16-72 -6-15 -5-6 -5 6 -5 16 -21 112 -6 21 -5 14 -5 9z"/><path fill="url(#c10)" stroke="url(#c10)" d="M454 2847l12-45 22-111 5-17 5-6 5 6 6 14 21 95 10 35 5 11 6 6 5 1 5-1 11-7 26-28 11-7 5-1 5 0 11 5 16 11 10 3 5-1 6-3 5-5 26-37 6-5 5-3 5-1 11 3 15 11 11 5 5 1 5-1 11-7 21-23 11-9 10-5 5 1 6 6 5 11 5 16 5 19 22 95 5 15 5 5 5-6 6-16 21-111 5-21 5-14 9-8 5 3 -5 8 -6 15 -5 21 -21 112 -5 17 -6 5 -5-6 -5-15 -16-72 -10-41 -6-15 -5-11 -5-7 -6-3 -5-1 -10 3 -11 6 -16 13 -10 5 -11 0 -26-9 -5 0 -6 1 -5 3 -10 11 -27 43 -10 11 -6 3 -5 1 -5 0 -26-9 -11 0 -10 5 -16 13 -11 6 -10 3 -6-1 -5-3 -5-7 -5-11 -6-15 -10-41 -16-72 -5-15 -6-6 -5 5 -5 17 -21 112 -5 21 -6 15 -5 8z"/><path fill="url(#c9)" stroke="url(#c9)" d="M459 2849l13-45 21-113 5-17 5-5 6 5 5 15 16 73 10 42 5 15 6 11 5 6 5 3 6 0 10-4 26-22 11-6 10 0 6 1 16 7 10 3 5 0 6-2 10-10 26-40 11-10 5-2 11 1 21 9 10 2 6-1 10-6 27-22 10-4 5 0 6 3 5 6 5 11 5 15 11 42 16 73 5 15 5 6 6-6 5-17 21-112 5-21 5-15 9-7 5 2 -5 9 -5 14 -6 21 -21 111 -5 16 -5 6 -6-6 -5-16 -16-71 -10-40 -6-14 -5-11 -5-7 -5-4 -6-2 -5-1 -10 3 -21 12 -11 4 -11 0 -21-8 -5 0 -5 1 -5 3 -6 5 -10 14 -21 37 -11 16 -10 11 -6 3 -5 2 -5-1 -21-7 -11-1 -10 5 -16 9 -11 5 -10 0 -5-2 -6-4 -5-7 -5-11 -5-14 -11-40 -16-72 -5-15 -5-6 -6 5 -5 17 -21 111 -5 21 -5 14 -6 9z"/><path fill="url(#c8)" stroke="url(#c8)" d="M464 2852l13-46 21-113 5-17 6-5 5 6 5 15 21 96 11 33 5 10 5 7 5 4 6 2 5 0 11-4 21-14 10-5 11 0 26 7 5 0 6-2 5-4 10-12 27-43 10-12 5-4 6-2 5 0 26 7 11 0 10-5 16-11 11-6 10-1 6 2 5 4 5 7 5 10 6 15 10 41 16 72 5 16 6 6 5-5 5-17 21-113 5-21 6-15 8-7 5 2 -5 9 -5 14 -6 20 -21 109 -5 16 -5 5 -5-6 -6-15 -15-70 -11-38 -11-24 -5-7 -5-5 -5-3 -11-1 -10 2 -21 10 -11 1 -5-2 -16-7 -5-2 -6 0 -5 3 -10 11 -11 17 -32 59 -10 15 -5 5 -6 2 -5 1 -5-2 -16-8 -11-1 -10 3 -21 9 -11 1 -5-1 -5-3 -5-5 -6-7 -5-10 -11-31 -21-91 -5-15 -5-6 -5 5 -6 16 -21 108 -5 21 -5 14 -6 8z"/><path fill="url(#c7)" stroke="url(#c7)" d="M469 2854l13-45 21-112 5-16 6-5 5 6 5 16 16 71 11 40 5 14 5 10 5 8 6 4 5 3 10 1 11-4 16-8 10-4 11 1 21 8 5-1 5-1 6-4 10-13 37-64 11-13 5-4 5-2 6 0 21 8 10 1 11-4 21-11 10-1 6 1 5 3 5 4 5 7 6 11 10 32 21 93 5 16 6 6 5-5 5-17 21-111 6-21 5-14 8-8 5 3 -5 8 -5 14 -5 19 -21 104 -6 15 -5 5 -5-6 -5-15 -16-66 -11-36 -10-23 -6-7 -10-8 -5-2 -11 0 -21 6 -11 2 -10-2 -16-10 -5-2 -5 1 -6 4 -10 14 -42 83 -11 18 -5 7 -5 3 -6 1 -5-1 -16-10 -10-3 -11 2 -21 7 -10-1 -11-5 -5-5 -11-17 -10-29 -21-86 -6-15 -5-6 -5 5 -5 15 -22 104 -5 20 -5 13 -5 8z"/><path fill="url(#c6)" stroke="url(#c6)" d="M475 2856l12-44 21-108 6-15 5-5 5 6 5 15 16 69 11 38 10 24 6 7 5 5 5 3 5 2 11 0 21-8 11-2 10 2 16 10 5 1 5 0 6-4 10-13 42-82 11-17 5-6 5-3 6-1 5 2 16 9 10 3 11-3 21-7 10-1 11 5 5 6 6 7 5 10 10 30 21 91 6 15 5 6 5-5 5-16 22-108 5-20 5-14 8-7 6 2 -6 8 -5 13 -5 18 -21 97 -5 14 -6 5 -5-6 -5-13 -16-62 -11-33 -10-21 -5-7 -11-9 -5-2 -11-1 -26 6 -5 1 -11-3 -16-11 -5-1 -5 1 -5 4 -11 16 -42 86 -11 19 -5 7 -5 4 -5 2 -6-2 -16-10 -5-3 -10 0 -21 5 -11 1 -10-3 -11-9 -11-15 -5-12 -10-34 -16-62 -5-13 -6-6 -5 5 -5 14 -21 97 -6 18 -5 13 -5 8z"/><path fill="url(#c5)" stroke="url(#c5)" d="M480 2859l2-10 5-13 6-19 21-103 5-15 5-4 5 5 6 15 16 65 10 36 5 13 11 16 10 9 11 3 10-1 22-6 10 1 5 2 16 12 5 2 6-1 5-4 5-8 11-19 42-89 10-17 6-4 5-1 5 2 16 12 11 3 10-1 21-6 11 1 5 2 10 9 6 7 10 22 11 36 16 65 5 15 5 6 5-5 6-15 21-103 5-19 5-13 9-7 5 3 -5 7 -6 11 -5 17 -21 88 -5 13 -5 4 -6-5 -5-12 -16-55 -10-30 -11-19 -5-6 -11-8 -5-2 -11-2 -31 6 -11-2 -15-9 -6-1 -5 2 -5 4 -11 16 -42 80 -10 18 -6 7 -5 4 -5 1 -6 0 -15-9 -11-2 -26 5 -11 0 -10-3 -11-8 -10-14 -6-11 -10-30 -16-55 -5-13 -5-4 -6 4 -5 13 -21 88 -5 17 -6 11 -5 7z"/><path fill="url(#c4)" stroke="url(#c4)" d="M485 2861l2-9 6-12 5-18 21-95 5-14 5-4 6 5 5 13 16 60 10 33 6 12 10 15 11 9 10 3 11 0 21-5 10 1 6 2 15 11 6 2 5-2 5-4 5-8 53-107 11-17 5-4 5-2 5 2 16 11 11 3 5 0 26-5 11 1 5 2 11 9 5 6 11 21 10 33 16 60 5 13 5 5 6-4 5-14 21-95 5-18 6-12 8-6 5 2 -5 6 -5 11 -6 14 -21 77 -5 11 -5 4 -6-4 -5-10 -21-62 -10-20 -11-13 -5-4 -11-5 -5-1 -11 1 -26 5 -10-1 -16-4 -5 0 -6 2 -5 4 -11 12 -42 69 -10 15 -6 6 -5 4 -5 2 -5 0 -16-4 -11-1 -31 5 -11-1 -10-4 -11-10 -5-7 -11-21 -21-61 -5-10 -5-4 -6 3 -5 12 -21 77 -5 14 -5 10 -6 7z"/><path fill="url(#c3)" stroke="url(#c3)" d="M490 2864l2-9 6-11 5-16 21-85 5-13 6-4 5 5 5 12 16 53 10 29 6 10 10 14 11 8 10 3 11 0 26-5 11 2 16 6 5 1 5-2 5-4 6-6 10-18 42-77 11-14 5-4 5-2 6 0 15 7 11 1 26-4 11 0 5 1 11 5 5 5 10 14 11 23 21 69 5 12 6 4 5-4 5-12 21-85 5-16 6-11 8-6 5 2 -5 6 -5 8 -5 12 -22 63 -5 10 -5 3 -5-3 -6-8 -21-48 -10-17 -5-5 -11-8 -11-4 -10 0 -37 6 -26 2 -11 5 -16 16 -31 42 -11 13 -10 10 -6 3 -10 2 -26 2 -27 5 -16 0 -10-4 -5-3 -11-10 -10-16 -22-48 -5-9 -5-3 -5 4 -6 9 -21 63 -5 12 -5 9 -5 5z"/><path fill="url(#c2)" stroke="url(#c2)" d="M496 2866l2-7 5-10 5-14 21-73 6-11 5-3 5 3 5 10 21 58 11 19 10 12 6 4 10 5 16 1 26-6 11 0 16 1 10-2 6-4 10-11 42-63 11-14 5-5 11-5 5-1 21 2 37-6 10 1 11 4 10 9 6 7 10 20 21 57 6 10 5 4 5-4 5-11 21-73 6-13 5-10 8-5 6 3 -6 4 -5 7 -5 8 -21 47 -6 7 -5 3 -5-2 -5-5 -21-33 -11-11 -11-7 -15-4 -11 0 -10 2 -48 10 -10 3 -11 6 -10 8 -37 37 -16 12 -16 5 -58 12 -10 0 -11-2 -10-5 -6-3 -10-11 -21-34 -6-5 -5-2 -5 3 -5 7 -21 47 -6 9 -5 6 -5 4z"/><path fill="url(#c1)" stroke="url(#c1)" d="M501 2868l2-6 5-8 5-11 22-58 5-9 5-3 5 3 6 7 21 44 10 15 5 5 11 7 11 3 10 1 58-11 11-3 10-7 11-9 36-45 16-14 6-3 10-3 58-10 11 0 10 4 11 7 5 5 10 15 21 43 6 8 5 3 5-4 6-8 21-59 5-11 5-8 9-3 5 2 -11 7 -5 6 -21 27 -5 5 -6 2 -5 0 -5-3 -21-15 -11-5 -16-3 -21 2 -52 12 -21 7 -21 11 -32 21 -21 10 -69 17 -21 2 -15-3 -11-5 -21-15 -5-3 -6 0 -5 2 -5 5 -21 27 -5 6 -11 7z"/><path fill="url(#c0)" stroke="url(#c0)" d="M506 2871l2-5 11-14 21-41 5-6 5-3 6 1 5 5 21 28 10 9 16 7 11 2 10-1 53-11 21-8 11-6 10-8 32-29 10-7 11-5 16-5 52-12 11-1 10 2 16 7 11 10 21 27 5 5 5 1 6-2 5-7 21-41 5-8 5-5 9-3 5 3 -469 123z"/></g><line x1="255.6" y1="1533.1" x2="490.0" y2="1471.3" stroke="#555" stroke-width="1.20"/><line x1="255.6" y1="1533.1" x2="75.6" y2="1450.5" stroke="#555" stroke-width="1.20"/><line x1="75.6" y1="1450.5" x2="75.6" y2="1271.0" stroke="#555" stroke-width="1.20"/><line x1="303.9" y1="1520.4" x2="308.4" y2="1522.4" stroke="#555" stroke-width="1.00"/><line x1="218.5" y1="1516.1" x2="213.9" y2="1517.3" stroke="#555" stroke-width="1.00"/><line x1="372.8" y1="1502.2" x2="377.3" y2="1504.3" stroke="#555" stroke-width="1.00"/><line x1="165.6" y1="1491.8" x2="160.9" y2="1493.0" stroke="#555" stroke-width="1.00"/><line x1="441.7" y1="1484.0" x2="446.2" y2="1486.1" stroke="#555" stroke-width="1.00"/><line x1="112.7" y1="1467.5" x2="108.0" y2="1468.7" stroke="#555" stroke-width="1.00"/><line x1="75.6" y1="1430.1" x2="71.1" y2="1431.6" stroke="#555" stroke-width="1.00"/><line x1="75.6" y1="1392.1" x2="71.1" y2="1393.6" stroke="#555" stroke-width="1.00"/><line x1="75.6" y1="1354.0" x2="71.1" y2="1355.5" stroke="#555" stroke-width="1.00"/><line x1="75.6" y1="1316.0" x2="71.1" y2="1317.5" stroke="#555" stroke-width="1.00"/><line x1="75.6" y1="1277.9" x2="71.1" y2="1279.4" stroke="#555" stroke-width="1.00"/><g fill="#2a2a2a"><text transform="translate(81.50 1483.40) scale(1.3400 1)" font-size="9.70" font-weight="bold">500</text><text transform="translate(149.20 1508.90) scale(1.0308 1)" font-size="9.70" font-weight="bold">0</text><text transform="translate(188.20 1534.36) scale(0.7598 1)" font-size="13.88" font-weight="bold">-500</text><text transform="translate(311.50 1539.35) scale(0.8055 1)" font-size="14.93" font-weight="bold">-500</text><text transform="translate(381.50 1519.99) scale(0.9697 1)" font-size="11.34" font-weight="bold">0</text><text transform="translate(450.50 1503.35) scale(0.7951 1)" font-size="14.93" font-weight="bold">500</text><text transform="translate(60.70 1280.50) scale(1.3000 1)" font-size="7.85" font-weight="bold">4</text><text transform="translate(60.70 1319.50) scale(1.0686 1)" font-size="9.55" font-weight="bold">2</text><text transform="translate(60.70 1357.21) scale(1.0848 1)" font-size="9.40" font-weight="bold">0</text><text transform="translate(57.10 1395.10) scale(1.0981 1)" font-size="9.55" font-weight="bold">-2</text><text transform="translate(57.10 1434.10) scale(1.0815 1)" font-size="9.69" font-weight="bold">-4</text></g></svg></body></html>
